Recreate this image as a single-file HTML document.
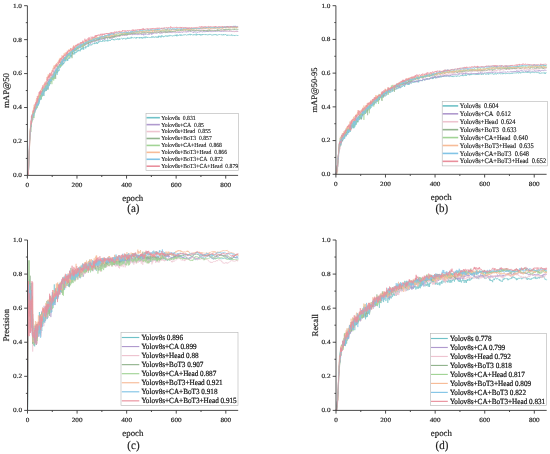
<!DOCTYPE html><html><head><meta charset="utf-8"><style>html,body{margin:0;padding:0;background:#fff;}svg{display:block;}text{font-family:"Liberation Serif","Times New Roman",serif;fill:#1e1e1e;stroke:#1e1e1e;stroke-width:0.18px;text-rendering:geometricPrecision;} text.lg{fill:#111;stroke:#111;}</style></head><body>
<svg width="550" height="454" viewBox="0 0 550 454">
<rect width="550" height="454" fill="#fff"/>
<g fill="none" stroke-width="0.6" stroke-linejoin="round">
<polyline stroke="#70c2c8" points="27.4,175.4 27.6,175.4 27.9,173.5 28.1,173.3 28.4,170.5 28.6,169.2 28.9,159.8 29.1,156.5 29.4,149.7 29.6,138.2 29.9,136.8 30.1,136 30.4,132 30.6,128.3 30.9,124.1 31.1,125.7 31.4,126.7 31.6,122.3 31.9,120.5 32.1,119.2 32.4,115.8 32.6,116.9 32.9,115.1 33.1,118 33.3,113.4 33.6,110.4 33.8,112.3 34.1,112.6 34.3,112.2 34.6,108.5 34.8,113.1 35.1,111 35.3,109.3 35.6,108.2 35.8,109.8 36.1,107.9 36.3,108.4 36.6,107.1 36.8,107 37.1,108.2 37.3,105.7 37.6,103.5 37.8,106.2 38.1,104.4 38.3,102.3 38.6,104.8 38.8,102.1 39.1,103.7 39.3,99.5 39.5,97 39.8,97 40,100.2 40.3,98.2 40.5,98.7 40.8,98.3 41,95.4 41.3,99.6 41.5,95.3 41.8,96.6 42,93.9 42.3,95.4 42.5,96.3 42.8,94.4 43,93.2 43.3,93.9 43.5,92.8 43.8,93.9 44,96 44.3,90.9 44.5,90.9 44.8,91.3 45,91 45.2,89.2 45.5,91.1 45.7,91.1 46,89.9 46.2,87.5 46.5,90.9 46.7,86.8 47,89.1 47.2,89.4 47.5,85.6 47.7,87.2 48,88.5 48.2,86.7 48.5,84.5 48.7,83.8 49,85.7 49.2,84.1 49.5,83.3 49.7,84.8 50,83 50.2,83.2 50.5,83.5 50.7,83 51,81.9 51.2,81.6 51.4,82 51.7,81.4 51.9,79 52.2,79.8 52.4,78.6 52.7,77.8 52.9,78.2 53.2,75.7 53.4,79.2 53.7,76.7 53.9,77.8 54.2,74.7 54.4,74.5 54.7,78.6 54.9,77 55.2,74.6 55.4,74 55.7,73.7 55.9,74.3 56.2,73.3 56.4,72.6 56.7,73.1 56.9,71.4 57.1,74.9 57.4,71.1 57.6,72.7 57.9,70 58.1,71 58.4,71.4 58.6,69.5 58.9,70.6 59.1,70.3 59.4,70.6 59.6,68.5 59.9,67.6 60.1,66.6 60.4,67.6 60.6,65.9 60.9,66.7 61.1,66.5 61.4,65.4 61.6,64.6 61.9,65.8 62.1,65.3 62.4,64.9 62.6,64.4 62.8,65.1 63.1,62.8 63.3,64 63.6,62.8 63.8,63.8 64.1,62.3 64.3,62 64.6,62.5 64.8,59.7 65.1,61.1 65.3,59.4 65.6,60 65.8,61.3 66.1,60.8 66.3,59.7 66.6,59.8 66.8,59.5 67.1,59.6 67.3,60.8 67.6,59 67.8,60.7 68.1,57.9 68.3,58.8 68.6,58.5 68.8,57.8 69,57.1 69.3,58.5 69.5,58.5 69.8,57.7 70,58.3 70.3,57.1 70.5,54.5 70.8,56.8 71,55 71.3,56.6 71.5,54.9 71.8,55.2 72,54.8 72.3,54 72.5,52.8 72.8,54 73,53.9 73.3,54.6 73.5,53.1 73.8,53.6 74,52.5 74.3,53.1 74.5,51.4 74.7,54.4 75,52.8 75.2,51.6 75.5,52.5 75.7,52.7 76,52.1 76.2,52.9 76.5,51.5 76.7,49.4 77,50.3 77.2,52.1 77.5,51.7 77.7,51.2 78,49.9 78.2,51.3 78.5,51 78.7,49.6 79,49.5 79.2,50.4 79.5,50.8 79.7,51.1 80,50.2 80.2,51.3 80.5,48.8 80.7,49.8 80.9,48.8 81.2,47.6 81.4,48 81.7,49.7 81.9,48 82.2,47.7 82.4,49 82.7,49.1 82.9,48.3 83.2,49.3 83.4,46.9 83.7,49.7 83.9,48.6 84.2,47.9 84.4,47.7 84.7,47.3 84.9,47.1 85.2,47.4 85.4,46.3 85.7,48.5 85.9,46.9 86.2,47.3 86.4,46.6 86.6,46.4 86.9,47.1 87.1,46.8 87.4,45.7 87.6,45.9 87.9,46.5 88.1,44.5 88.4,44.2 88.6,46.7 88.9,45.4 89.1,43.8 89.4,44.9 89.6,45.2 89.9,45.4 90.1,45.5 90.4,45.2 90.6,45.3 90.9,44.3 91.1,45 91.4,44.9 91.6,45.3 91.9,44.5 92.1,44.9 92.3,44.4 92.6,43.5 92.8,43.8 93.1,43.6 93.3,43.6 93.6,43.7 93.8,43.8 94.1,43.8 94.3,43 94.6,44.1 94.8,42.4 95.1,43.2 95.3,43.6 95.6,43.4 95.8,43.4 96.1,42.8 96.3,43.2 96.6,42 96.8,43.1 97.1,44 97.3,42.9 97.6,43.6 97.8,42.3 98.1,41.6 98.3,41.8 98.5,42.9 98.8,42.5 99,40.9 99.3,41.7 99.5,41.8 99.8,41.1 100,40.2 100.3,40.9 100.5,41.5 100.8,41.3 101,41.1 101.3,41.8 101.5,42 101.8,41.3 102,41.8 102.3,41.2 102.5,41.1 102.8,39.7 103,41.5 103.3,41.1 103.5,41 103.8,40.6 104,40.3 104.2,41.1 104.5,41.2 104.7,41.7 105,41.2 105.2,40.3 105.5,40.6 105.7,41.1 106,40.7 106.2,40.5 106.5,40.2 106.7,40.7 107,40.5 107.2,41.3 107.5,40.9 107.7,39.4 108,41.4 108.2,40.4 108.5,40 108.7,40.3 109,40.5 109.2,40.1 109.5,40 109.7,40 110,41 110.2,40 110.4,40.4 110.7,40.2 110.9,39.7 111.2,39.5 111.4,39.3 111.7,40 111.9,39.2 112.2,39.1 112.4,39.1 112.7,38.9 112.9,39.7 113.2,39.7 113.4,39.1 113.7,40.2 113.9,39.4 114.2,39.8 114.4,39.6 114.7,40.3 114.9,39.9 115.2,39.4 115.4,38.9 115.7,38.8 115.9,39.4 116.1,39.4 116.4,39.7 116.6,39 116.9,39.4 117.1,38.9 117.4,38.3 117.6,39.2 117.9,39.9 118.1,39.6 118.4,39.8 118.6,39.7 118.9,38.4 119.1,38.9 119.4,39.8 119.6,38.7 119.9,38.3 120.1,39.1 120.4,39.3 120.6,39.1 120.9,38.7 121.1,38.5 121.4,38.3 121.6,38.2 121.8,38.2 122.1,38.1 122.3,38.4 122.6,39.5 122.8,38.8 123.1,38.5 123.3,38.8 123.6,38.2 123.8,38.8 124.1,39 124.3,37.9 124.6,38.2 124.8,38.4 125.1,38.1 125.3,38 125.6,38.3 125.8,39.6 126.1,38.7 126.3,38.6 126.6,38.8 126.8,38.3 127.1,37.8 127.3,38.5 127.6,38.8 127.8,37.3 128,38.5 128.3,38.8 128.5,38.1 128.8,38 129,38.5 129.3,37.8 129.5,38.4 129.8,38.6 130,38 130.3,37.7 130.5,38.4 130.8,37.9 131,38.1 131.3,36.8 131.5,38.3 131.8,37.4 132,38 132.3,38 132.5,37.7 132.8,37.6 133,37.4 133.3,37.8 133.5,38.2 133.7,38.2 134,37.7 134.2,37.6 134.5,37.3 134.7,37.7 135,37.4 135.2,37.2 135.5,37.8 135.7,38.5 136,38.4 136.2,38.5 136.5,37.1 136.7,38.2 137,37.3 137.2,37.6 137.5,37 137.7,37.4 138,37.8 138.2,37.9 138.5,37.7 138.7,37.7 139,38 139.2,37.8 139.5,37 139.7,38.5 139.9,37.6 140.2,38.1 140.4,37.6 140.7,37.3 140.9,37.7 141.2,37.3 141.4,38.3 141.7,37.2 141.9,37.9 142.2,37.4 142.4,37.6 142.7,38.7 142.9,37.9 143.2,37.5 143.4,36.9 143.7,37.5 143.9,37.5 144.2,38.2 144.4,36.9 144.7,36.8 144.9,37.5 145.2,37.6 145.4,38.2 145.6,37.1 145.9,36.4 146.1,37.2 146.4,36.9 146.6,37.2 146.9,37.8 147.1,36.9 147.4,37.9 147.6,37.5 147.9,37.3 148.1,37 148.4,37.2 148.6,37.2 148.9,37.6 149.1,37.8 149.4,37.3 149.6,37.6 149.9,37.8 150.1,37.8 150.4,37.4 150.6,38 150.9,37.7 151.1,37.8 151.3,37.1 151.6,37 151.8,36.3 152.1,37.7 152.3,37.4 152.6,36.7 152.8,37.2 153.1,37.2 153.3,36.4 153.6,37.2 153.8,37.5 154.1,37.5 154.3,36.9 154.6,36.9 154.8,37.5 155.1,37.3 155.3,36.7 155.6,36.7 155.8,37.2 156.1,36.6 156.3,36.7 156.6,37.6 156.8,37 157.1,36.7 157.3,37 157.5,37.7 157.8,36.9 158,36.5 158.3,36.1 158.5,37.6 158.8,35.7 159,37.2 159.3,36.3 159.5,36.2 159.8,36.3 160,36.6 160.3,37.1 160.5,36.4 160.8,36.9 161,37.6 161.3,35.4 161.5,36.3 161.8,35.8 162,36.8 162.3,35.9 162.5,35.8 162.8,35.8 163,36.4 163.2,36.9 163.5,36.4 163.7,37.2 164,37 164.2,36.3 164.5,36.7 164.7,36.3 165,36.3 165.2,35.5 165.5,35.7 165.7,36.2 166,35.7 166.2,36.4 166.5,36.2 166.7,35.7 167,36.5 167.2,36.1 167.5,36.5 167.7,35.9 168,35.3 168.2,36.2 168.5,35.8 168.7,36.3 169,36.3 169.2,36.3 169.4,35.3 169.7,34.9 169.9,35.6 170.2,36.1 170.4,35.5 170.7,35.9 170.9,35.4 171.2,35.6 171.4,35.6 171.7,35.5 171.9,35.9 172.2,35.8 172.4,36.3 172.7,35.8 172.9,36.2 173.2,35.7 173.4,35.9 173.7,35.5 173.9,35.4 174.2,36.1 174.4,35.8 174.7,35.9 174.9,35.2 175.1,34.8 175.4,35.1 175.6,35.6 175.9,34.9 176.1,36 176.4,34.8 176.6,35.6 176.9,36.4 177.1,34.4 177.4,34.8 177.6,35.7 177.9,35.2 178.1,35.4 178.4,35.2 178.6,35.8 178.9,35.5 179.1,35.1 179.4,35.1 179.6,34.8 179.9,35.2 180.1,34.3 180.4,35.4 180.6,35 180.9,35.8 181.1,35.6 181.3,34.6 181.6,35.4 181.8,34.9 182.1,35.1 182.3,35.4 182.6,35.2 182.8,35.2 183.1,35.2 183.3,34.7 183.6,34.7 183.8,35.2 184.1,35.3 184.3,34.9 184.6,35 184.8,34.6 185.1,34 185.3,34.6 185.6,34.9 185.8,35 186.1,35.2 186.3,35.2 186.6,35.3 186.8,35 187,35 187.3,34.6 187.5,35 187.8,34.9 188,35.3 188.3,34.2 188.5,34.7 188.8,34.2 189,34.5 189.3,34.3 189.5,34.9 189.8,34.6 190,33.8 190.3,35.3 190.5,34.4 190.8,34.2 191,34.7 191.3,34.5 191.5,34.3 191.8,35 192,34.6 192.3,35.1 192.5,35 192.7,35 193,34.8 193.2,34.7 193.5,34.6 193.7,35.3 194,34 194.2,34.3 194.5,34.5 194.7,34.9 195,34.8 195.2,34.5 195.5,34.6 195.7,35.3 196,34.5 196.2,33.6 196.5,35.4 196.7,34.3 197,34.6 197.2,34.7 197.5,34.2 197.7,35.1 198,34.6 198.2,34.2 198.5,34.8 198.7,34.8 198.9,34.6 199.2,34.8 199.4,34.1 199.7,35 199.9,34.4 200.2,35.1 200.4,34.4 200.7,34.7 200.9,35.6 201.2,34.7 201.4,35.1 201.7,34.8 201.9,34.1 202.2,35.1 202.4,35.1 202.7,34.2 202.9,34.6 203.2,34.1 203.4,34.6 203.7,35 203.9,34.7 204.2,34.2 204.4,34.4 204.6,34.7 204.9,34.7 205.1,34.8 205.4,34.9 205.6,34 205.9,34.7 206.1,35.1 206.4,34.9 206.6,34.5 206.9,34.5 207.1,34.8 207.4,35 207.6,34.7 207.9,35.3 208.1,35.2 208.4,34.4 208.6,34.9 208.9,34.6 209.1,34.3 209.4,34.5 209.6,34.7 209.9,33.9 210.1,34.5 210.4,34.8 210.6,34.4 210.8,34.6 211.1,35 211.3,34.7 211.6,34.8 211.8,35.4 212.1,34.8 212.3,34.8 212.6,34.8 212.8,35.3 213.1,34.8 213.3,34.7 213.6,34.6 213.8,35.1 214.1,34.5 214.3,35.1 214.6,34.8 214.8,34.2 215.1,34.9 215.3,34.9 215.6,34.3 215.8,34.8 216.1,34.8 216.3,34.6 216.5,34.3 216.8,35.5 217,35 217.3,35.1 217.5,35.1 217.8,35 218,35 218.3,34.6 218.5,35.1 218.8,34.7 219,34.6 219.3,35 219.5,34.7 219.8,34.2 220,34.7 220.3,35 220.5,34.8 220.8,35.1 221,34.7 221.3,34.5 221.5,35.1 221.8,34.9 222,34.5 222.2,35 222.5,34.8 222.7,35.3 223,35.2 223.2,35.1 223.5,34.1 223.7,35.1 224,35.1 224.2,35.1 224.5,35 224.7,34.7 225,34.9 225.2,34.2 225.5,34.9 225.7,34.5 226,34.9 226.2,34.8 226.5,35.5 226.7,35 227,35 227.2,35.1 227.5,35.8 227.7,34.7 228,35.2 228.2,35.2 228.4,35.1 228.7,35.1 228.9,34.9 229.2,35.5 229.4,35.4 229.7,35 229.9,35 230.2,35.2 230.4,35.3 230.7,35.4 230.9,35.1 231.2,34.7 231.4,35.5 231.7,34.6 231.9,34.8 232.2,35.3 232.4,34.9 232.7,35.7 232.9,35.8 233.2,35.6 233.4,35.3 233.7,35.3 233.9,35.4 234.1,35.2 234.4,35.9 234.6,35 234.9,35.7 235.1,35.5 235.4,35.4 235.6,35.6 235.9,35.7 236.1,35.6 236.4,35.3 236.6,35 236.9,35.1 237.1,35.6 237.4,35.5 237.6,35.6 237.9,35.1 238.1,36"/>
<polyline stroke="#b09ace" points="27.4,175.4 27.6,174.7 27.9,174.7 28.1,173.7 28.4,171.8 28.6,169.5 28.9,162.5 29.1,155.3 29.4,145.8 29.6,139.9 29.9,138.5 30.1,130.6 30.4,130.3 30.6,126.3 30.9,122.8 31.1,122.1 31.4,116.2 31.6,119.1 31.9,120.7 32.1,114.6 32.4,116.9 32.6,115.8 32.9,120.1 33.1,111.5 33.3,111.1 33.6,110.4 33.8,109.3 34.1,107.3 34.3,110 34.6,107.5 34.8,110 35.1,108.6 35.3,105.3 35.6,105.9 35.8,108.5 36.1,104.7 36.3,105.1 36.6,105.7 36.8,102.8 37.1,103.7 37.3,105.2 37.6,103.8 37.8,98.2 38.1,103.3 38.3,99.8 38.6,98.6 38.8,98 39.1,100.6 39.3,98.5 39.5,97.2 39.8,95.6 40,97.5 40.3,97.9 40.5,93.8 40.8,93.2 41,93.9 41.3,95 41.5,92.9 41.8,92.9 42,91.3 42.3,94.2 42.5,91.6 42.8,91.6 43,92.7 43.3,90.2 43.5,90.1 43.8,90.3 44,88.7 44.3,91.1 44.5,88.6 44.8,87.5 45,87.3 45.2,85.7 45.5,88.7 45.7,88.8 46,85.8 46.2,85.1 46.5,82.3 46.7,84.2 47,85.9 47.2,83.1 47.5,85.1 47.7,85.7 48,79.5 48.2,82.3 48.5,81.4 48.7,81.2 49,79.1 49.2,80.8 49.5,79.2 49.7,81.9 50,82 50.2,77.8 50.5,77.3 50.7,78.2 51,78.2 51.2,77.9 51.4,78.6 51.7,75.2 51.9,76 52.2,75.8 52.4,75.5 52.7,74.3 52.9,74.5 53.2,73.8 53.4,75.8 53.7,73.3 53.9,70.8 54.2,73.8 54.4,72.9 54.7,71.2 54.9,70.7 55.2,70.7 55.4,73 55.7,70 55.9,71.6 56.2,70.8 56.4,68.7 56.7,69.4 56.9,67.6 57.1,64.5 57.4,66.9 57.6,66.6 57.9,68.1 58.1,67.4 58.4,67.5 58.6,66.5 58.9,66.8 59.1,65.9 59.4,65 59.6,65.5 59.9,65.6 60.1,65.2 60.4,62.9 60.6,63 60.9,61.6 61.1,61.2 61.4,62.4 61.6,61 61.9,62.9 62.1,58.6 62.4,59.5 62.6,60.7 62.8,61.4 63.1,59.4 63.3,61.5 63.6,60 63.8,58.1 64.1,58.6 64.3,58.8 64.6,57.1 64.8,58.8 65.1,57.2 65.3,57.7 65.6,57.8 65.8,56.2 66.1,57.4 66.3,54.3 66.6,56.5 66.8,53.7 67.1,56.5 67.3,54.6 67.6,56.1 67.8,56 68.1,54.3 68.3,53.6 68.6,55.3 68.8,52.7 69,54.4 69.3,53.3 69.5,52.8 69.8,52.4 70,54.4 70.3,51.1 70.5,51.8 70.8,52.6 71,52.9 71.3,53.3 71.5,52.8 71.8,50.9 72,51.5 72.3,52 72.5,51.3 72.8,49.3 73,50.8 73.3,50.8 73.5,48.9 73.8,49.6 74,49.8 74.3,50.2 74.5,50.8 74.7,50.3 75,49.5 75.2,49.2 75.5,48.5 75.7,48.2 76,48.3 76.2,48.2 76.5,49.1 76.7,49.9 77,48.4 77.2,48.6 77.5,48.2 77.7,47.7 78,48.4 78.2,48.1 78.5,47.2 78.7,46.9 79,47.3 79.2,46.3 79.5,46.7 79.7,47.2 80,46.3 80.2,44.7 80.5,46.6 80.7,45 80.9,44.7 81.2,44.5 81.4,46.2 81.7,43.9 81.9,45.3 82.2,45.5 82.4,45.3 82.7,44.6 82.9,44.9 83.2,45 83.4,43.8 83.7,45.2 83.9,45.3 84.2,43.9 84.4,43.8 84.7,43.4 84.9,45 85.2,43.3 85.4,43.6 85.7,42.6 85.9,44.7 86.2,43.6 86.4,43.9 86.6,44.7 86.9,44 87.1,42.6 87.4,43.7 87.6,43.8 87.9,42.6 88.1,42.4 88.4,42.3 88.6,43.5 88.9,42.9 89.1,42.1 89.4,43.2 89.6,43.1 89.9,42 90.1,41.4 90.4,43.2 90.6,44.1 90.9,43.2 91.1,42.8 91.4,42.1 91.6,41.6 91.9,42 92.1,42.3 92.3,41.6 92.6,42.3 92.8,41.6 93.1,41.9 93.3,39.7 93.6,40.8 93.8,41.8 94.1,41.8 94.3,41.4 94.6,42.1 94.8,41.4 95.1,41.4 95.3,40.3 95.6,41 95.8,41.2 96.1,41.4 96.3,41.3 96.6,40.5 96.8,40.5 97.1,39.6 97.3,40.6 97.6,39.5 97.8,40 98.1,40.1 98.3,41.2 98.5,40.7 98.8,39.4 99,39 99.3,39.6 99.5,39.2 99.8,39.9 100,39.8 100.3,39.9 100.5,38.9 100.8,39.2 101,39.5 101.3,39.5 101.5,38.9 101.8,39 102,39.6 102.3,38.1 102.5,38.9 102.8,39 103,38.1 103.3,38.3 103.5,38.9 103.8,38.5 104,39.3 104.2,39 104.5,39.9 104.7,37.9 105,39.6 105.2,38.1 105.5,38.9 105.7,38.9 106,38.4 106.2,38.1 106.5,37.9 106.7,37.2 107,37.9 107.2,37.6 107.5,38.3 107.7,37.6 108,37.8 108.2,38.1 108.5,37.9 108.7,37.8 109,37.6 109.2,37.4 109.5,37.9 109.7,38 110,37.1 110.2,38.4 110.4,37.8 110.7,36.6 110.9,38.8 111.2,37.7 111.4,36.9 111.7,38.1 111.9,35.8 112.2,38.5 112.4,36.3 112.7,36.2 112.9,36.5 113.2,37.1 113.4,36.7 113.7,37.3 113.9,36.4 114.2,37.4 114.4,36.9 114.7,36.2 114.9,37.2 115.2,36.8 115.4,36.5 115.7,37.2 115.9,35.9 116.1,36.3 116.4,37.2 116.6,36.4 116.9,36.7 117.1,36.6 117.4,36.2 117.6,36.6 117.9,35.7 118.1,36.5 118.4,35.6 118.6,36.1 118.9,35.6 119.1,36.2 119.4,36.2 119.6,36.5 119.9,35.6 120.1,35.3 120.4,34.7 120.6,35.1 120.9,35.6 121.1,35.7 121.4,35.4 121.6,35.6 121.8,34.8 122.1,35 122.3,35.8 122.6,35.7 122.8,34.7 123.1,35.2 123.3,35.4 123.6,34.7 123.8,35.4 124.1,35.3 124.3,35.3 124.6,36 124.8,34.6 125.1,35.6 125.3,35.2 125.6,35.3 125.8,34.5 126.1,34.9 126.3,34.8 126.6,35.6 126.8,34.8 127.1,35.4 127.3,34.5 127.6,34.5 127.8,34.6 128,33.6 128.3,34.3 128.5,34.3 128.8,34.4 129,34.6 129.3,34 129.5,33.9 129.8,35 130,33.9 130.3,34.1 130.5,33.9 130.8,34.1 131,34.9 131.3,34.8 131.5,33.4 131.8,34.1 132,34.9 132.3,34 132.5,34.3 132.8,35 133,35.2 133.3,34.9 133.5,34 133.7,34.1 134,34.2 134.2,34 134.5,33.8 134.7,35 135,34.2 135.2,34.4 135.5,34.6 135.7,34.3 136,34.1 136.2,34.2 136.5,34.7 136.7,34.3 137,33.2 137.2,34.5 137.5,34.8 137.7,34 138,33.8 138.2,33.9 138.5,34.6 138.7,33.7 139,34.5 139.2,34.6 139.5,34.4 139.7,34.2 139.9,33.9 140.2,33.9 140.4,34.2 140.7,33.8 140.9,34.2 141.2,33.8 141.4,34.8 141.7,34.9 141.9,33.9 142.2,34.9 142.4,34.4 142.7,34.3 142.9,34.5 143.2,34.5 143.4,33.7 143.7,35.4 143.9,34 144.2,33.4 144.4,34.3 144.7,34.3 144.9,34 145.2,33.6 145.4,34.8 145.6,34.3 145.9,34.4 146.1,34.1 146.4,34.2 146.6,34 146.9,34.4 147.1,34.2 147.4,34.5 147.6,34.5 147.9,34.3 148.1,34.2 148.4,34.6 148.6,33.5 148.9,34.2 149.1,34.7 149.4,33.6 149.6,34.3 149.9,33.8 150.1,34 150.4,33.8 150.6,33.8 150.9,34.1 151.1,33.8 151.3,33 151.6,34.7 151.8,33.7 152.1,33.5 152.3,34.1 152.6,34.2 152.8,32.7 153.1,33.7 153.3,32.7 153.6,33.3 153.8,33.4 154.1,33.2 154.3,33.1 154.6,32.9 154.8,33.2 155.1,33.2 155.3,33.2 155.6,32.7 155.8,32.9 156.1,33.6 156.3,33.4 156.6,33 156.8,33.3 157.1,33.2 157.3,33.4 157.5,33.1 157.8,32.8 158,32.5 158.3,32.9 158.5,32.1 158.8,32.9 159,31.6 159.3,32.4 159.5,32.6 159.8,33 160,33.8 160.3,32.8 160.5,32.6 160.8,31.9 161,33.2 161.3,31.9 161.5,32.7 161.8,32.3 162,33.6 162.3,32.5 162.5,32.7 162.8,32.3 163,32.5 163.2,33 163.5,32.2 163.7,32.3 164,32.3 164.2,32.1 164.5,32.1 164.7,32.5 165,33 165.2,33.1 165.5,32 165.7,32.2 166,32.5 166.2,32.7 166.5,32.5 166.7,32.5 167,32.7 167.2,32.8 167.5,31.7 167.7,32.4 168,32.8 168.2,33 168.5,32.8 168.7,32.3 169,32.3 169.2,32.6 169.4,32.5 169.7,32.7 169.9,33 170.2,32.1 170.4,32.4 170.7,31.6 170.9,32.9 171.2,32.6 171.4,32.3 171.7,32.7 171.9,33.1 172.2,33 172.4,32.6 172.7,32.5 172.9,32.7 173.2,32.2 173.4,32.2 173.7,32.5 173.9,32.6 174.2,32.7 174.4,32.4 174.7,32.3 174.9,32.6 175.1,32.4 175.4,32.7 175.6,33.1 175.9,33 176.1,32.3 176.4,32.4 176.6,32 176.9,32.5 177.1,32.2 177.4,32 177.6,32.1 177.9,32.7 178.1,32.5 178.4,32.4 178.6,32.8 178.9,32.3 179.1,32 179.4,32.6 179.6,31.7 179.9,32.5 180.1,32.4 180.4,32.4 180.6,32.6 180.9,32.1 181.1,32.3 181.3,31.6 181.6,32 181.8,32 182.1,32.3 182.3,32.7 182.6,32.2 182.8,32.5 183.1,31.8 183.3,32.1 183.6,31.5 183.8,31.8 184.1,31.8 184.3,32 184.6,32 184.8,31.8 185.1,31.7 185.3,32.3 185.6,31.8 185.8,31 186.1,32 186.3,32 186.6,32.2 186.8,32.5 187,31.5 187.3,31.9 187.5,31.8 187.8,31.2 188,31 188.3,32.2 188.5,31.5 188.8,31.7 189,31.7 189.3,31.7 189.5,31.9 189.8,31.3 190,31.7 190.3,31.8 190.5,31.4 190.8,31.6 191,31.7 191.3,31.8 191.5,31.3 191.8,31.7 192,31.9 192.3,32.2 192.5,32 192.7,32.3 193,31.9 193.2,31.8 193.5,32.7 193.7,31.9 194,31.7 194.2,31.9 194.5,32.3 194.7,31.5 195,32.2 195.2,32.4 195.5,32.3 195.7,32 196,31.6 196.2,31.5 196.5,31.9 196.7,32.4 197,32.2 197.2,32.3 197.5,32 197.7,32.6 198,31.9 198.2,31.7 198.5,32 198.7,31.8 198.9,32.3 199.2,32.5 199.4,32.2 199.7,31.5 199.9,31.6 200.2,32.1 200.4,31.5 200.7,32 200.9,31.3 201.2,31.7 201.4,32 201.7,31.6 201.9,32.1 202.2,32.2 202.4,32.3 202.7,31.7 202.9,31.8 203.2,31.8 203.4,31.9 203.7,31.2 203.9,31.9 204.2,32 204.4,31.2 204.6,31.2 204.9,31.5 205.1,32.2 205.4,31.8 205.6,31.4 205.9,31.6 206.1,31 206.4,32 206.6,31.3 206.9,31.7 207.1,31 207.4,31.5 207.6,31.1 207.9,31.7 208.1,32 208.4,31.8 208.6,31.6 208.9,31.8 209.1,31 209.4,30.9 209.6,31.3 209.9,31.8 210.1,31.4 210.4,31.6 210.6,30.9 210.8,31.3 211.1,31.2 211.3,31.5 211.6,32.1 211.8,31.6 212.1,31.7 212.3,31.2 212.6,31.3 212.8,31.6 213.1,31.5 213.3,30.8 213.6,31.7 213.8,31.7 214.1,31.4 214.3,31.6 214.6,31.5 214.8,31.1 215.1,30.7 215.3,31.9 215.6,31.3 215.8,31.3 216.1,31.3 216.3,31.4 216.5,31.4 216.8,30.9 217,31.5 217.3,31.3 217.5,31.3 217.8,31.2 218,31.3 218.3,30.9 218.5,31.3 218.8,31.2 219,31.3 219.3,31.6 219.5,31.5 219.8,31.6 220,31.2 220.3,31.5 220.5,31.6 220.8,31.1 221,31 221.3,31.8 221.5,30.6 221.8,31.2 222,31.2 222.2,30.8 222.5,31.2 222.7,31.4 223,30.4 223.2,31.6 223.5,31.2 223.7,30.9 224,31.6 224.2,31.2 224.5,31.1 224.7,30.4 225,31.5 225.2,31.2 225.5,31 225.7,31.2 226,31.6 226.2,31.1 226.5,31.2 226.7,31.1 227,30.8 227.2,30.9 227.5,31.1 227.7,31.1 228,31.6 228.2,31.3 228.4,31.2 228.7,31.4 228.9,31.2 229.2,31.5 229.4,30.7 229.7,30.5 229.9,31.4 230.2,31.1 230.4,31.4 230.7,30.9 230.9,31.1 231.2,31.3 231.4,31.4 231.7,31.3 231.9,31.7 232.2,31.1 232.4,31.6 232.7,31.1 232.9,31.3 233.2,30.9 233.4,31.3 233.7,31 233.9,31.7 234.1,31.1 234.4,31.4 234.6,31.3 234.9,31.3 235.1,31 235.4,32 235.6,31.2 235.9,31.9 236.1,30.9 236.4,32 236.6,31.7 236.9,31.9 237.1,30.8 237.4,31.8 237.6,31.3 237.9,31.5 238.1,32"/>
<polyline stroke="#eec4d0" points="27.4,175.4 27.6,175.4 27.9,174.3 28.1,171.4 28.4,172.8 28.6,168.1 28.9,158.7 29.1,156.4 29.4,150.9 29.6,145.4 29.9,137.2 30.1,132.9 30.4,130.5 30.6,126.9 30.9,122 31.1,120.9 31.4,123.8 31.6,119.6 31.9,118.1 32.1,115.7 32.4,116.5 32.6,116.4 32.9,115.1 33.1,116.8 33.3,112.6 33.6,113 33.8,110.2 34.1,112.4 34.3,110.6 34.6,111 34.8,110.5 35.1,106.5 35.3,108 35.6,105.7 35.8,107.9 36.1,105.1 36.3,107.7 36.6,104.9 36.8,104.3 37.1,101.8 37.3,101.9 37.6,101.9 37.8,99.6 38.1,100.1 38.3,99 38.6,98 38.8,98.9 39.1,98.8 39.3,97.2 39.5,97.9 39.8,96 40,94.3 40.3,94.2 40.5,95.8 40.8,96.8 41,94.3 41.3,93.9 41.5,91.5 41.8,93.4 42,92.7 42.3,90.7 42.5,92.2 42.8,91.2 43,87.9 43.3,87.8 43.5,88.7 43.8,88.9 44,90.4 44.3,87.6 44.5,88 44.8,87.3 45,88.1 45.2,86.9 45.5,86.8 45.7,85.6 46,83.6 46.2,84.8 46.5,87.4 46.7,86 47,86.5 47.2,85 47.5,82.7 47.7,82.5 48,83.5 48.2,81.9 48.5,83 48.7,83.5 49,83.1 49.2,82 49.5,78.5 49.7,81.9 50,78 50.2,77.5 50.5,79.1 50.7,78.6 51,78.9 51.2,77.7 51.4,76.4 51.7,76.9 51.9,75.2 52.2,74.6 52.4,75.3 52.7,74.9 52.9,75 53.2,74.1 53.4,75.5 53.7,73.2 53.9,73.1 54.2,74 54.4,69.9 54.7,73.3 54.9,72.8 55.2,71 55.4,73.3 55.7,71.5 55.9,72 56.2,70.9 56.4,69.6 56.7,68.6 56.9,67.3 57.1,67.3 57.4,66.5 57.6,66.8 57.9,67.7 58.1,65.5 58.4,67 58.6,66.8 58.9,64 59.1,64.5 59.4,64.8 59.6,63.8 59.9,63.4 60.1,65.5 60.4,63.8 60.6,64.7 60.9,62.9 61.1,63.5 61.4,61 61.6,61.6 61.9,62.7 62.1,61.5 62.4,62.5 62.6,60.9 62.8,60 63.1,60 63.3,62 63.6,60.1 63.8,58.9 64.1,58.8 64.3,57.7 64.6,59.9 64.8,57.8 65.1,58.7 65.3,57.6 65.6,57.1 65.8,56.6 66.1,57.6 66.3,56.6 66.6,57.7 66.8,57.6 67.1,55.5 67.3,55.8 67.6,57.1 67.8,56.1 68.1,55.1 68.3,53.4 68.6,53.6 68.8,53.7 69,55.9 69.3,54.1 69.5,53.3 69.8,53.2 70,53 70.3,53.4 70.5,51.3 70.8,51.4 71,52.6 71.3,53.3 71.5,50.3 71.8,52.5 72,50.7 72.3,49.9 72.5,52.3 72.8,51 73,51.4 73.3,50.4 73.5,50.4 73.8,48.8 74,49.9 74.3,50.2 74.5,49.1 74.7,50.1 75,50 75.2,47.6 75.5,50.1 75.7,49.6 76,49 76.2,49.8 76.5,50.5 76.7,47.7 77,49.1 77.2,48.7 77.5,48.4 77.7,48.8 78,48.7 78.2,47.6 78.5,45.6 78.7,46.8 79,46.6 79.2,48.3 79.5,46.9 79.7,47.7 80,46 80.2,46.7 80.5,46.3 80.7,46.3 80.9,46.5 81.2,47.1 81.4,45.3 81.7,46.7 81.9,46.4 82.2,45.5 82.4,45.7 82.7,44.8 82.9,44.1 83.2,44.6 83.4,44.5 83.7,44.5 83.9,43.7 84.2,45.6 84.4,43.8 84.7,44.6 84.9,44.7 85.2,43.7 85.4,43.8 85.7,43 85.9,42.5 86.2,44.9 86.4,43.1 86.6,41.5 86.9,42.2 87.1,41.7 87.4,42.6 87.6,43.5 87.9,43.2 88.1,41.8 88.4,41.5 88.6,42.6 88.9,42.2 89.1,41.7 89.4,43 89.6,41.9 89.9,40.5 90.1,40 90.4,41.5 90.6,40 90.9,41.5 91.1,41.6 91.4,42.5 91.6,40.3 91.9,41.1 92.1,39.2 92.3,40.4 92.6,40.4 92.8,41.7 93.1,39.4 93.3,40.5 93.6,40.3 93.8,41.6 94.1,39.4 94.3,39.3 94.6,40.3 94.8,39.7 95.1,39.5 95.3,39 95.6,39.5 95.8,38.4 96.1,39.6 96.3,39.7 96.6,39.6 96.8,40.8 97.1,39.6 97.3,38.4 97.6,38.8 97.8,39.4 98.1,38.7 98.3,40.1 98.5,38.9 98.8,38.4 99,38.2 99.3,39 99.5,38 99.8,37.3 100,38.7 100.3,37.9 100.5,39.2 100.8,39.4 101,37.8 101.3,38.1 101.5,38 101.8,38.4 102,38.2 102.3,37.5 102.5,36.9 102.8,38 103,38.8 103.3,37.1 103.5,37.4 103.8,37.3 104,37.6 104.2,36.3 104.5,37.6 104.7,37.3 105,38.6 105.2,37.9 105.5,37.9 105.7,37.5 106,37.3 106.2,37.9 106.5,36.4 106.7,38 107,37.6 107.2,37.2 107.5,38 107.7,37 108,36.9 108.2,37.4 108.5,36.2 108.7,37.1 109,37 109.2,37.7 109.5,38 109.7,37.4 110,37.2 110.2,37.3 110.4,36.6 110.7,38.3 110.9,37.6 111.2,37.9 111.4,36.2 111.7,37.2 111.9,37.1 112.2,37.4 112.4,36.3 112.7,37 112.9,36.6 113.2,37.8 113.4,36 113.7,36.4 113.9,36.3 114.2,35.9 114.4,36.6 114.7,36.6 114.9,36.1 115.2,36.2 115.4,36.5 115.7,36.3 115.9,36.6 116.1,35.9 116.4,35.8 116.6,36.2 116.9,35.2 117.1,36.9 117.4,36.2 117.6,35.2 117.9,36.2 118.1,36.8 118.4,35.2 118.6,35.6 118.9,36.5 119.1,35.4 119.4,36.3 119.6,36.4 119.9,35.8 120.1,35.9 120.4,36.2 120.6,35.7 120.9,36 121.1,35.5 121.4,35.5 121.6,35 121.8,35.6 122.1,36 122.3,35.9 122.6,35.4 122.8,34.5 123.1,34.7 123.3,35.4 123.6,34.6 123.8,35.6 124.1,34.5 124.3,35.1 124.6,34.5 124.8,34.6 125.1,35 125.3,34.6 125.6,35.3 125.8,34.8 126.1,34.2 126.3,32.7 126.6,34.3 126.8,34.5 127.1,35 127.3,34 127.6,35.2 127.8,34.8 128,34.2 128.3,34.9 128.5,33.6 128.8,33.8 129,34.5 129.3,34.5 129.5,34.8 129.8,34.8 130,33.9 130.3,33.8 130.5,33.9 130.8,33.9 131,34.3 131.3,33.8 131.5,34.6 131.8,33.9 132,33.2 132.3,33.2 132.5,34 132.8,33.9 133,33.1 133.3,32.9 133.5,34.4 133.7,33.9 134,33.5 134.2,33.1 134.5,34 134.7,33.3 135,33.7 135.2,32.5 135.5,33.3 135.7,33.5 136,33.6 136.2,32.9 136.5,33.1 136.7,33.8 137,33.2 137.2,33.9 137.5,33.6 137.7,33.8 138,33.8 138.2,33.5 138.5,33.6 138.7,32.9 139,32.8 139.2,33.2 139.5,33.6 139.7,32.7 139.9,33.9 140.2,33.9 140.4,32.7 140.7,32.7 140.9,32.6 141.2,33.1 141.4,33.5 141.7,33.1 141.9,32.7 142.2,33.2 142.4,33.2 142.7,33.5 142.9,33.3 143.2,32.5 143.4,32.6 143.7,33.3 143.9,33.2 144.2,33 144.4,32.5 144.7,33.2 144.9,32.8 145.2,33.6 145.4,33.2 145.6,32.5 145.9,32.3 146.1,33.2 146.4,33 146.6,32.3 146.9,32.8 147.1,32.9 147.4,32.4 147.6,32.6 147.9,32.2 148.1,32.3 148.4,32.9 148.6,32.7 148.9,32.6 149.1,33.2 149.4,33 149.6,32.2 149.9,33.2 150.1,32.2 150.4,32.4 150.6,32.6 150.9,32.3 151.1,32.4 151.3,32 151.6,32.7 151.8,32.6 152.1,32.6 152.3,31.7 152.6,32.1 152.8,32.9 153.1,32.6 153.3,32.8 153.6,32.5 153.8,32.4 154.1,31.5 154.3,33.2 154.6,32 154.8,32.2 155.1,32.7 155.3,32.4 155.6,32.6 155.8,32.3 156.1,32 156.3,32.9 156.6,31.8 156.8,32.5 157.1,31.7 157.3,32.1 157.5,31.8 157.8,32 158,31.8 158.3,32.2 158.5,32.6 158.8,31.9 159,31.9 159.3,31.4 159.5,33 159.8,32.2 160,31.7 160.3,32.6 160.5,32.2 160.8,31.3 161,31.5 161.3,32.4 161.5,31.5 161.8,31.6 162,31.7 162.3,31.9 162.5,31.9 162.8,32.3 163,32.2 163.2,31.7 163.5,31.9 163.7,31.2 164,32 164.2,32.8 164.5,32 164.7,31.8 165,31.7 165.2,31.8 165.5,32.2 165.7,31.3 166,32.1 166.2,31.5 166.5,31.9 166.7,32.2 167,31.2 167.2,32.7 167.5,32.1 167.7,31.6 168,31.9 168.2,31.4 168.5,31.8 168.7,31.9 169,30.9 169.2,31.8 169.4,31.8 169.7,32.1 169.9,32 170.2,31.4 170.4,31.5 170.7,31.7 170.9,31.9 171.2,31.4 171.4,32.3 171.7,31.8 171.9,31.7 172.2,31.9 172.4,31.6 172.7,31.9 172.9,31.9 173.2,30.9 173.4,31.3 173.7,31.2 173.9,31.6 174.2,31.2 174.4,31.3 174.7,31.1 174.9,30.7 175.1,31.7 175.4,31.5 175.6,31.6 175.9,32.9 176.1,32.1 176.4,31.5 176.6,31.3 176.9,31.7 177.1,31.1 177.4,31 177.6,31.7 177.9,31 178.1,30.8 178.4,31.3 178.6,31.8 178.9,30.9 179.1,31.5 179.4,31.6 179.6,31.4 179.9,31.6 180.1,31 180.4,31.1 180.6,30.9 180.9,31.1 181.1,31.6 181.3,31.4 181.6,31 181.8,31.4 182.1,30.2 182.3,31.3 182.6,31.4 182.8,30.8 183.1,30.9 183.3,31.2 183.6,31.2 183.8,31 184.1,30.8 184.3,30.8 184.6,31.2 184.8,30.9 185.1,30.7 185.3,30.7 185.6,32.1 185.8,31.3 186.1,31.2 186.3,31 186.6,30.8 186.8,30.6 187,30.6 187.3,30.9 187.5,30.8 187.8,30.2 188,31 188.3,30.7 188.5,30.2 188.8,30.6 189,31.5 189.3,30.6 189.5,30.8 189.8,30.7 190,30.3 190.3,30.5 190.5,30.7 190.8,30.3 191,30.4 191.3,30.6 191.5,30.5 191.8,30.5 192,30.7 192.3,30.7 192.5,30.5 192.7,30.9 193,30.9 193.2,30 193.5,30.6 193.7,30.5 194,30.5 194.2,30.4 194.5,30.4 194.7,30.4 195,30.7 195.2,30 195.5,30.6 195.7,30 196,31 196.2,30.7 196.5,30 196.7,30.4 197,30.5 197.2,30.2 197.5,30.7 197.7,30.2 198,31.1 198.2,30.4 198.5,30.5 198.7,30 198.9,29.9 199.2,30.5 199.4,29.6 199.7,30.4 199.9,30.9 200.2,31 200.4,29.6 200.7,30.2 200.9,30.4 201.2,30.4 201.4,30.6 201.7,29.7 201.9,30.2 202.2,29.5 202.4,30.2 202.7,31 202.9,29.9 203.2,30.3 203.4,30.2 203.7,29.6 203.9,30.3 204.2,29.8 204.4,30.2 204.6,30.5 204.9,30 205.1,30.4 205.4,29.8 205.6,29.9 205.9,30.2 206.1,30 206.4,30 206.6,30.3 206.9,29.9 207.1,30.3 207.4,30 207.6,30.6 207.9,30.2 208.1,30.1 208.4,30.6 208.6,30.5 208.9,30.5 209.1,30.1 209.4,30.6 209.6,30.2 209.9,29.8 210.1,30.2 210.4,30.9 210.6,30.3 210.8,30 211.1,30.5 211.3,30 211.6,30.2 211.8,30.3 212.1,30.5 212.3,30.6 212.6,30.5 212.8,30.4 213.1,30.2 213.3,30.3 213.6,30.5 213.8,30.4 214.1,30.3 214.3,31 214.6,30.7 214.8,30.7 215.1,30.5 215.3,30.5 215.6,30.5 215.8,30.7 216.1,30.2 216.3,30.3 216.5,31 216.8,30.4 217,30.8 217.3,29.8 217.5,30.6 217.8,30.6 218,30.4 218.3,30.5 218.5,30.5 218.8,29.9 219,30.4 219.3,30.2 219.5,30.1 219.8,30.8 220,29.9 220.3,30.2 220.5,30.1 220.8,30.8 221,30.2 221.3,30.4 221.5,30.7 221.8,29.7 222,30.3 222.2,30.6 222.5,30.5 222.7,30.2 223,30.2 223.2,30.4 223.5,30.2 223.7,30.1 224,31.1 224.2,30.8 224.5,31 224.7,30.7 225,30.2 225.2,30.5 225.5,31.1 225.7,30.9 226,30.4 226.2,31 226.5,30.9 226.7,30.7 227,31.5 227.2,30.6 227.5,30.8 227.7,30.7 228,31.3 228.2,31.2 228.4,31.2 228.7,30.9 228.9,31 229.2,31 229.4,30.5 229.7,30.7 229.9,31.4 230.2,31.4 230.4,30.6 230.7,31.3 230.9,30.7 231.2,30.7 231.4,31.4 231.7,31.4 231.9,31.3 232.2,31.6 232.4,31.7 232.7,31.5 232.9,31.1 233.2,31.5 233.4,31.5 233.7,31.6 233.9,31.9 234.1,30.9 234.4,32.2 234.6,31.7 234.9,31.3 235.1,31.9 235.4,31.3 235.6,31 235.9,31.8 236.1,31.4 236.4,31.9 236.6,31.3 236.9,31.5 237.1,31.4 237.4,31 237.6,31.4 237.9,31.1 238.1,31.3"/>
<polyline stroke="#92b48e" points="27.4,175.4 27.6,175.4 27.9,174.8 28.1,174.1 28.4,172.4 28.6,169.2 28.9,160.9 29.1,155.5 29.4,150.3 29.6,144.1 29.9,136.8 30.1,132.4 30.4,129 30.6,126.4 30.9,132.1 31.1,125.6 31.4,122.6 31.6,120.1 31.9,122.5 32.1,115.3 32.4,116.5 32.6,117.4 32.9,115 33.1,115.1 33.3,115.1 33.6,112 33.8,113.1 34.1,114.3 34.3,112.2 34.6,110.5 34.8,111.7 35.1,106.8 35.3,110.5 35.6,104.6 35.8,105.6 36.1,108.3 36.3,105.8 36.6,103.3 36.8,105.1 37.1,106.3 37.3,103.4 37.6,99.5 37.8,105.1 38.1,100.9 38.3,101.3 38.6,101 38.8,100.9 39.1,100.2 39.3,97.4 39.5,97.6 39.8,99.7 40,95 40.3,99.2 40.5,95.4 40.8,95.7 41,93.6 41.3,94.5 41.5,92.9 41.8,94.1 42,92.1 42.3,92.6 42.5,89.3 42.8,93.3 43,95.6 43.3,90.6 43.5,90.7 43.8,91.4 44,89.4 44.3,91.9 44.5,91.3 44.8,87.8 45,90.8 45.2,85.9 45.5,88 45.7,86.9 46,86.7 46.2,85.9 46.5,86.5 46.7,86.2 47,85.5 47.2,83.5 47.5,82.9 47.7,82.3 48,89.8 48.2,83.6 48.5,85.3 48.7,81.7 49,81 49.2,82.4 49.5,80.3 49.7,79.3 50,83.7 50.2,78.8 50.5,79.5 50.7,81.8 51,79.7 51.2,79.2 51.4,77.6 51.7,79.1 51.9,78.1 52.2,78.4 52.4,76.8 52.7,76.3 52.9,78.8 53.2,74.5 53.4,74.9 53.7,74.5 53.9,74.2 54.2,73.8 54.4,71.7 54.7,76.3 54.9,73 55.2,75.6 55.4,74.2 55.7,78.9 55.9,70.8 56.2,69.8 56.4,71 56.7,72.3 56.9,70.1 57.1,70.7 57.4,68.2 57.6,69.5 57.9,66.1 58.1,67.6 58.4,68.4 58.6,67.6 58.9,67.9 59.1,65.9 59.4,64.3 59.6,65.9 59.9,64.2 60.1,66 60.4,64.2 60.6,61.7 60.9,65.4 61.1,62.2 61.4,62 61.6,65 61.9,64.1 62.1,63.3 62.4,60.9 62.6,64.6 62.8,61.5 63.1,60.3 63.3,60.6 63.6,60.2 63.8,60.4 64.1,58.6 64.3,60.3 64.6,57.5 64.8,59.2 65.1,59.4 65.3,57.7 65.6,57.6 65.8,59.7 66.1,57.2 66.3,58.5 66.6,57.7 66.8,55.9 67.1,57.2 67.3,55.8 67.6,56.2 67.8,53.7 68.1,55.4 68.3,56.2 68.6,55.9 68.8,55.5 69,54.3 69.3,54.2 69.5,53 69.8,53.5 70,53.4 70.3,53 70.5,53.2 70.8,52.6 71,51.9 71.3,51.7 71.5,52.7 71.8,53.6 72,58.2 72.3,51.4 72.5,53.7 72.8,51.7 73,50.7 73.3,51.4 73.5,51.8 73.8,49.1 74,49.2 74.3,50.5 74.5,49 74.7,48.8 75,50.8 75.2,47.4 75.5,50.3 75.7,49.6 76,50.1 76.2,49 76.5,50 76.7,48.8 77,47.7 77.2,48.3 77.5,48.6 77.7,47 78,48.8 78.2,47.2 78.5,48.1 78.7,47.5 79,47.5 79.2,47.3 79.5,47.4 79.7,47.8 80,47.5 80.2,46.6 80.5,46.9 80.7,47.6 80.9,47.1 81.2,46.9 81.4,46.3 81.7,46 81.9,45.9 82.2,46.4 82.4,45.7 82.7,46.7 82.9,47.7 83.2,45.4 83.4,46.5 83.7,45.8 83.9,45.9 84.2,44.4 84.4,45.6 84.7,44.4 84.9,44.8 85.2,45.2 85.4,45.4 85.7,43.7 85.9,43.7 86.2,43.3 86.4,42.4 86.6,43.4 86.9,43.3 87.1,43.5 87.4,43.2 87.6,43.4 87.9,43.7 88.1,41.5 88.4,44.1 88.6,42.5 88.9,42.3 89.1,42.4 89.4,43 89.6,42.4 89.9,42.5 90.1,42.8 90.4,42 90.6,42.1 90.9,42.1 91.1,41.2 91.4,42.2 91.6,41.1 91.9,41.7 92.1,40.9 92.3,41.1 92.6,40.9 92.8,41.6 93.1,41.3 93.3,41.3 93.6,40.5 93.8,40.1 94.1,39.8 94.3,40.7 94.6,40.2 94.8,41.2 95.1,41.5 95.3,40.6 95.6,40.4 95.8,40.8 96.1,40.9 96.3,39.4 96.6,40.1 96.8,40.6 97.1,38 97.3,39.3 97.6,39.5 97.8,38.8 98.1,39.6 98.3,38.1 98.5,40 98.8,39.8 99,39 99.3,39.3 99.5,37.9 99.8,39.7 100,39.1 100.3,38.5 100.5,38.2 100.8,37.9 101,38.2 101.3,37.1 101.5,38.6 101.8,38.2 102,37.8 102.3,38.4 102.5,38.4 102.8,38.4 103,38.5 103.3,38.7 103.5,38.4 103.8,38.9 104,37.7 104.2,38.8 104.5,36.7 104.7,36.9 105,37.2 105.2,37.9 105.5,38.1 105.7,37 106,37.6 106.2,37.3 106.5,38 106.7,37 107,38 107.2,37.5 107.5,38.5 107.7,37.8 108,37.2 108.2,37.7 108.5,37.6 108.7,36.9 109,37.3 109.2,36.6 109.5,38.5 109.7,36.9 110,36.9 110.2,38 110.4,37.8 110.7,36.6 110.9,37.6 111.2,37.3 111.4,36.6 111.7,37.1 111.9,36.6 112.2,37.3 112.4,36.6 112.7,36.1 112.9,36.5 113.2,37.8 113.4,36.2 113.7,36.5 113.9,37 114.2,35.7 114.4,37.3 114.7,35.4 114.9,36.6 115.2,35.4 115.4,36.2 115.7,36.8 115.9,36 116.1,35.9 116.4,35.7 116.6,35.4 116.9,36.3 117.1,35.6 117.4,35.4 117.6,35.9 117.9,36.2 118.1,36.1 118.4,35.2 118.6,35.1 118.9,35.9 119.1,36.1 119.4,34.8 119.6,36.1 119.9,35.2 120.1,35.6 120.4,36.1 120.6,35.1 120.9,35.2 121.1,34.3 121.4,33.9 121.6,35 121.8,34.4 122.1,34.4 122.3,35.1 122.6,35.2 122.8,34 123.1,34.9 123.3,34.7 123.6,34.7 123.8,34.6 124.1,34.8 124.3,34.1 124.6,33.8 124.8,34.6 125.1,35 125.3,34.3 125.6,35 125.8,34.5 126.1,33.6 126.3,33.1 126.6,33.9 126.8,34.6 127.1,33.7 127.3,35.1 127.6,34.3 127.8,33.2 128,33.6 128.3,34.5 128.5,34.6 128.8,33.4 129,33.8 129.3,34 129.5,33.5 129.8,33.9 130,34.5 130.3,33.3 130.5,33.9 130.8,34 131,34.1 131.3,33.4 131.5,33.9 131.8,33.2 132,33.6 132.3,32.9 132.5,33.6 132.8,33.7 133,34.2 133.3,33.8 133.5,33 133.7,31.9 134,33.8 134.2,33.7 134.5,33.1 134.7,33 135,33.5 135.2,33.2 135.5,33.9 135.7,33.3 136,32.8 136.2,32.4 136.5,33.2 136.7,33.2 137,32.9 137.2,32.6 137.5,32.9 137.7,33.4 138,32.9 138.2,32.6 138.5,33.4 138.7,33.6 139,32.8 139.2,32.9 139.5,32.6 139.7,33 139.9,33.3 140.2,33.2 140.4,33.5 140.7,33.4 140.9,33.2 141.2,33.2 141.4,32.5 141.7,33.5 141.9,33 142.2,33.2 142.4,32.4 142.7,32.9 142.9,33.1 143.2,32.6 143.4,32.9 143.7,33.2 143.9,32.3 144.2,32.7 144.4,32.2 144.7,32.5 144.9,32.6 145.2,32.9 145.4,33.4 145.6,32.6 145.9,32.9 146.1,32.6 146.4,32.9 146.6,33.2 146.9,33.3 147.1,32.6 147.4,32.3 147.6,33 147.9,32.6 148.1,32.2 148.4,33.1 148.6,32.9 148.9,33.2 149.1,32.3 149.4,32.6 149.6,32.9 149.9,33.4 150.1,32.8 150.4,32.3 150.6,32.8 150.9,32.8 151.1,32.4 151.3,33.1 151.6,32.6 151.8,32.3 152.1,32.8 152.3,32.8 152.6,32.4 152.8,32.5 153.1,32.5 153.3,32.3 153.6,32.3 153.8,32.8 154.1,32.6 154.3,32.2 154.6,31.9 154.8,31.8 155.1,32.6 155.3,31.8 155.6,31.9 155.8,32.2 156.1,32 156.3,31.9 156.6,31.5 156.8,32.6 157.1,31.9 157.3,32.2 157.5,32.2 157.8,31.7 158,31.8 158.3,32.5 158.5,32.2 158.8,32 159,32.6 159.3,31.7 159.5,32.1 159.8,32 160,31.9 160.3,31.3 160.5,32 160.8,32.1 161,31.3 161.3,32.2 161.5,32.2 161.8,32.5 162,31.5 162.3,31.9 162.5,31.8 162.8,31.9 163,32 163.2,32.2 163.5,32.2 163.7,31.8 164,31.9 164.2,31.3 164.5,32.2 164.7,32.1 165,32.3 165.2,31.4 165.5,32.4 165.7,31.6 166,31.3 166.2,31.9 166.5,31.6 166.7,32.7 167,32 167.2,32.5 167.5,31.7 167.7,31.8 168,32.1 168.2,31.4 168.5,31.6 168.7,31.9 169,31.9 169.2,32.2 169.4,31.7 169.7,30.9 169.9,31.9 170.2,31.4 170.4,31.8 170.7,31.3 170.9,31.4 171.2,31.6 171.4,32.1 171.7,31.6 171.9,31 172.2,31.5 172.4,31.1 172.7,31.5 172.9,32 173.2,31.1 173.4,31.1 173.7,31.4 173.9,31.3 174.2,31 174.4,31.3 174.7,30.9 174.9,31 175.1,31.8 175.4,30.9 175.6,31.1 175.9,31.1 176.1,30.6 176.4,30.9 176.6,30.5 176.9,30.2 177.1,30.6 177.4,31.1 177.6,30.8 177.9,30.2 178.1,30.6 178.4,30.7 178.6,30.4 178.9,30.2 179.1,30.3 179.4,30.1 179.6,30.6 179.9,30.4 180.1,30.3 180.4,30.2 180.6,31 180.9,30.3 181.1,30.7 181.3,29.6 181.6,29.6 181.8,29.5 182.1,29.8 182.3,30.3 182.6,29.7 182.8,30.2 183.1,29.9 183.3,30.4 183.6,30.3 183.8,29.9 184.1,29.4 184.3,30.1 184.6,29.3 184.8,29.1 185.1,30.5 185.3,30.1 185.6,30.4 185.8,30.1 186.1,30.3 186.3,30.1 186.6,29.8 186.8,29.8 187,30.1 187.3,30.2 187.5,30.1 187.8,30.1 188,30 188.3,30.2 188.5,30 188.8,30.7 189,30 189.3,29.6 189.5,30.2 189.8,30.8 190,29.8 190.3,30.4 190.5,31.4 190.8,30.4 191,30.1 191.3,30.2 191.5,29.9 191.8,30.1 192,30.3 192.3,31.1 192.5,30.8 192.7,30.3 193,30.2 193.2,30.8 193.5,30.6 193.7,30.3 194,31.1 194.2,31.1 194.5,30.5 194.7,30.4 195,30.6 195.2,31.3 195.5,30.5 195.7,31 196,30.3 196.2,30.5 196.5,30.4 196.7,30.3 197,30.7 197.2,30.2 197.5,30.1 197.7,30.4 198,30 198.2,30.7 198.5,30.2 198.7,30.4 198.9,30.9 199.2,30.6 199.4,30.7 199.7,30.7 199.9,30.5 200.2,30.2 200.4,30.7 200.7,30.5 200.9,31.1 201.2,30.5 201.4,30.2 201.7,30.3 201.9,30.4 202.2,30.8 202.4,30.9 202.7,30.6 202.9,31.1 203.2,31 203.4,30.3 203.7,30.9 203.9,30 204.2,31.1 204.4,30.5 204.6,31 204.9,30.5 205.1,31 205.4,30.6 205.6,30.7 205.9,30.8 206.1,30.4 206.4,30.1 206.6,30.8 206.9,30.3 207.1,30.6 207.4,30.6 207.6,29.8 207.9,31.4 208.1,30.9 208.4,31.2 208.6,30.7 208.9,30.7 209.1,29.3 209.4,30.5 209.6,30 209.9,30.1 210.1,30.7 210.4,30.4 210.6,30 210.8,30.5 211.1,30.5 211.3,30.4 211.6,31.1 211.8,30.8 212.1,30.4 212.3,30.3 212.6,30.8 212.8,30.6 213.1,30.5 213.3,30.5 213.6,30.2 213.8,30.4 214.1,30.4 214.3,30.9 214.6,30.8 214.8,30.3 215.1,30.9 215.3,30.3 215.6,30.6 215.8,30.6 216.1,30.1 216.3,30.5 216.5,30.6 216.8,30.5 217,30.2 217.3,29.3 217.5,30.9 217.8,30.2 218,30.2 218.3,29.8 218.5,30.2 218.8,31 219,29.6 219.3,30.4 219.5,30.1 219.8,30.5 220,30.4 220.3,30.2 220.5,29.7 220.8,29.7 221,30.1 221.3,29.7 221.5,30 221.8,29.8 222,29.8 222.2,29.6 222.5,30.1 222.7,29.9 223,29.7 223.2,29.8 223.5,30.1 223.7,29.2 224,29.9 224.2,29.5 224.5,29.7 224.7,29.3 225,30.5 225.2,29 225.5,29.8 225.7,30.1 226,29.6 226.2,28.9 226.5,29.5 226.7,30.1 227,29.8 227.2,29.2 227.5,30.1 227.7,29.7 228,29.7 228.2,28.8 228.4,29.7 228.7,29.1 228.9,29.8 229.2,29.9 229.4,29.2 229.7,29.4 229.9,30.2 230.2,29.3 230.4,29.3 230.7,29.8 230.9,29.5 231.2,29.5 231.4,29.7 231.7,29.7 231.9,29.8 232.2,29.6 232.4,30 232.7,29.6 232.9,30.1 233.2,29.5 233.4,29.6 233.7,29.9 233.9,29.2 234.1,28.9 234.4,29.1 234.6,30 234.9,29.1 235.1,29.5 235.4,29.6 235.6,29.7 235.9,29.5 236.1,29.1 236.4,29.3 236.6,29.7 236.9,29.8 237.1,29.7 237.4,29.3 237.6,28.9 237.9,29.9 238.1,29.5"/>
<polyline stroke="#a2d496" points="27.4,175.4 27.6,174.9 27.9,174.5 28.1,174.8 28.4,172.5 28.6,168.3 28.9,163.4 29.1,152.2 29.4,148.2 29.6,141.3 29.9,139.6 30.1,135 30.4,128.7 30.6,130.6 30.9,124.5 31.1,123.2 31.4,122.7 31.6,120.1 31.9,121.2 32.1,117.5 32.4,119.3 32.6,118.5 32.9,112.4 33.1,115.6 33.3,117.6 33.6,111 33.8,113.6 34.1,118.1 34.3,111 34.6,108.6 34.8,109.1 35.1,106 35.3,108.7 35.6,106.8 35.8,109.1 36.1,106.4 36.3,103.4 36.6,104.7 36.8,104.7 37.1,107.9 37.3,104.5 37.6,105.5 37.8,101.4 38.1,103.5 38.3,101 38.6,102.8 38.8,97.4 39.1,102 39.3,99.3 39.5,94.7 39.8,98.2 40,99.4 40.3,96.5 40.5,95.4 40.8,95.1 41,99.2 41.3,95.2 41.5,98.5 41.8,91.6 42,94.1 42.3,94.4 42.5,92.2 42.8,92.1 43,94.2 43.3,89.5 43.5,91.9 43.8,93.8 44,88.5 44.3,87.9 44.5,88 44.8,88.6 45,90.3 45.2,87.2 45.5,85.5 45.7,86.6 46,85.1 46.2,88.1 46.5,85.2 46.7,84.9 47,88 47.2,87.8 47.5,86.1 47.7,84.5 48,83.6 48.2,84.2 48.5,85.8 48.7,83.2 49,82.5 49.2,81.4 49.5,81.2 49.7,81.5 50,80.7 50.2,81.2 50.5,79.2 50.7,80.5 51,77.3 51.2,81.6 51.4,78.3 51.7,79.2 51.9,84.2 52.2,77.2 52.4,76.9 52.7,80 52.9,77.6 53.2,75.7 53.4,75.1 53.7,80.6 53.9,72.9 54.2,74.5 54.4,79.1 54.7,73.4 54.9,75.1 55.2,74 55.4,70.8 55.7,70.9 55.9,72 56.2,71.6 56.4,70.5 56.7,72.1 56.9,69 57.1,69.6 57.4,66.7 57.6,69.6 57.9,66.9 58.1,68.4 58.4,66.1 58.6,68 58.9,65.7 59.1,66.6 59.4,66.7 59.6,65.5 59.9,64.5 60.1,64.2 60.4,66.3 60.6,63 60.9,66.5 61.1,63.7 61.4,65.1 61.6,63 61.9,61.6 62.1,63.4 62.4,62.9 62.6,61.2 62.8,61.3 63.1,59 63.3,60 63.6,59.5 63.8,57.9 64.1,60 64.3,59.2 64.6,59.9 64.8,58.3 65.1,57.2 65.3,56.6 65.6,57.8 65.8,58.2 66.1,57.9 66.3,58.3 66.6,56.5 66.8,59.3 67.1,58.4 67.3,58 67.6,54.2 67.8,56.9 68.1,54.8 68.3,56.1 68.6,53.9 68.8,53.7 69,54 69.3,57.8 69.5,53.7 69.8,53 70,51.6 70.3,52.1 70.5,53.5 70.8,53.4 71,52.7 71.3,52.5 71.5,52 71.8,52.4 72,51.1 72.3,51.4 72.5,50.9 72.8,51.1 73,50.4 73.3,51.8 73.5,49.1 73.8,50 74,49.8 74.3,49.5 74.5,48.9 74.7,49 75,49.3 75.2,49.5 75.5,50.5 75.7,48.8 76,49.1 76.2,48.9 76.5,46.5 76.7,49.9 77,48.1 77.2,47 77.5,47.1 77.7,46.7 78,48.6 78.2,48.2 78.5,46.8 78.7,47.3 79,45.6 79.2,46.6 79.5,46.5 79.7,46.1 80,46.5 80.2,46.1 80.5,46.6 80.7,45.9 80.9,46.1 81.2,45.4 81.4,46.5 81.7,46.4 81.9,44.7 82.2,44.8 82.4,45.5 82.7,44.8 82.9,45.3 83.2,42.8 83.4,45.4 83.7,42.7 83.9,44.5 84.2,43.4 84.4,43.8 84.7,43.7 84.9,42.6 85.2,42.6 85.4,43.2 85.7,43.5 85.9,41.2 86.2,41.6 86.4,42.4 86.6,42.5 86.9,42 87.1,42 87.4,41.1 87.6,42.5 87.9,41.7 88.1,42.1 88.4,40.5 88.6,40.1 88.9,41.3 89.1,40.7 89.4,40 89.6,41.1 89.9,41.4 90.1,39.9 90.4,40.2 90.6,40.5 90.9,39.3 91.1,40 91.4,41.3 91.6,39.7 91.9,39.9 92.1,38.5 92.3,39.7 92.6,39.7 92.8,39.2 93.1,39.2 93.3,40.2 93.6,39.1 93.8,39.3 94.1,38.1 94.3,37.4 94.6,39.6 94.8,39.4 95.1,39.2 95.3,39 95.6,38.9 95.8,38.4 96.1,37.7 96.3,39.1 96.6,39.2 96.8,39.3 97.1,37.4 97.3,37.2 97.6,38.9 97.8,38.9 98.1,37.7 98.3,37.1 98.5,37.1 98.8,37.5 99,37.1 99.3,37.3 99.5,37.8 99.8,36.2 100,37.3 100.3,38 100.5,37.5 100.8,38.1 101,37.1 101.3,36.4 101.5,37.8 101.8,36.3 102,35.7 102.3,36.7 102.5,37.5 102.8,37.3 103,37 103.3,37.5 103.5,37.4 103.8,36.8 104,36.7 104.2,36.2 104.5,37.2 104.7,35.4 105,35.8 105.2,35.9 105.5,36.7 105.7,35.3 106,36.4 106.2,35.2 106.5,35.6 106.7,36.6 107,36.3 107.2,35 107.5,35.4 107.7,36 108,35.8 108.2,35.7 108.5,36.2 108.7,35.9 109,36.1 109.2,35.9 109.5,35.4 109.7,36.1 110,35.1 110.2,35.4 110.4,35 110.7,34.9 110.9,34.7 111.2,35 111.4,34.9 111.7,35.3 111.9,34.9 112.2,35.6 112.4,35.2 112.7,34.6 112.9,35 113.2,34.7 113.4,35.5 113.7,34.2 113.9,35.2 114.2,34.6 114.4,34.8 114.7,34.3 114.9,34.9 115.2,35.2 115.4,35.6 115.7,34.8 115.9,35.2 116.1,34.3 116.4,33.8 116.6,35.6 116.9,35.1 117.1,34.3 117.4,33.8 117.6,34.2 117.9,34.2 118.1,34.1 118.4,34 118.6,33.4 118.9,33.9 119.1,34.8 119.4,34.4 119.6,34 119.9,34.5 120.1,34.2 120.4,34.3 120.6,34.4 120.9,33.7 121.1,34.2 121.4,34.5 121.6,34.3 121.8,33.9 122.1,32.8 122.3,33.7 122.6,33.1 122.8,33.5 123.1,34.7 123.3,33.5 123.6,34 123.8,34.2 124.1,34.1 124.3,32.6 124.6,34.2 124.8,33.7 125.1,32.8 125.3,33 125.6,34.1 125.8,33.3 126.1,33.5 126.3,33.3 126.6,32.8 126.8,33.4 127.1,33.2 127.3,32.3 127.6,33.8 127.8,33.1 128,32.7 128.3,33.4 128.5,33.1 128.8,33.4 129,32.7 129.3,33 129.5,32.3 129.8,32.1 130,32.6 130.3,32.7 130.5,32.4 130.8,32.5 131,33 131.3,31.9 131.5,32.3 131.8,32 132,32.9 132.3,31.9 132.5,31.3 132.8,32 133,32.9 133.3,32.2 133.5,32.2 133.7,32.1 134,32.2 134.2,31.9 134.5,32.3 134.7,32 135,32.4 135.2,32 135.5,31.6 135.7,32.2 136,31.7 136.2,32.3 136.5,32.1 136.7,32 137,31.3 137.2,32.2 137.5,31.3 137.7,32.5 138,31.9 138.2,31.4 138.5,31.5 138.7,32.2 139,32.3 139.2,31.3 139.5,32.2 139.7,31.4 139.9,31.9 140.2,31.6 140.4,30.6 140.7,30.9 140.9,31.2 141.2,32.1 141.4,31.4 141.7,31.5 141.9,31.5 142.2,30.9 142.4,32.2 142.7,31.3 142.9,31.3 143.2,31.7 143.4,30.6 143.7,31.8 143.9,31.2 144.2,31.2 144.4,32.1 144.7,31.8 144.9,31.6 145.2,30.8 145.4,30.7 145.6,30.8 145.9,30.9 146.1,31.9 146.4,30.9 146.6,31.2 146.9,30.4 147.1,30.3 147.4,29.9 147.6,30.6 147.9,30.5 148.1,31.2 148.4,30.8 148.6,31.3 148.9,30.4 149.1,31.2 149.4,30.8 149.6,31 149.9,30.9 150.1,30.5 150.4,30.9 150.6,30.5 150.9,31 151.1,30 151.3,30.8 151.6,30.1 151.8,29.7 152.1,31.5 152.3,30.9 152.6,30.6 152.8,30 153.1,30.7 153.3,30.3 153.6,30.8 153.8,30.3 154.1,31 154.3,30.1 154.6,31.7 154.8,31.2 155.1,29.7 155.3,30.4 155.6,30.8 155.8,29.6 156.1,30 156.3,30 156.6,30.6 156.8,30.2 157.1,30.2 157.3,31.1 157.5,30.2 157.8,30.5 158,29.9 158.3,29.9 158.5,30.7 158.8,30.7 159,30.4 159.3,30.2 159.5,30.6 159.8,30.5 160,30.2 160.3,30.3 160.5,30 160.8,30.3 161,30.8 161.3,31.1 161.5,30.1 161.8,30.5 162,30.5 162.3,30.5 162.5,31 162.8,30.5 163,31.4 163.2,30.5 163.5,30.7 163.7,29.6 164,30.2 164.2,30.4 164.5,30.3 164.7,30 165,30.6 165.2,30.4 165.5,30.4 165.7,29.3 166,30.2 166.2,31 166.5,29.9 166.7,29.2 167,30.6 167.2,28.8 167.5,30.2 167.7,29.8 168,30.4 168.2,30.2 168.5,30.6 168.7,30.5 169,30.9 169.2,29.6 169.4,30.5 169.7,29.9 169.9,29.9 170.2,30.3 170.4,30 170.7,30 170.9,30.2 171.2,29.9 171.4,29.9 171.7,30.3 171.9,30.4 172.2,30.2 172.4,29.8 172.7,29.3 172.9,29.3 173.2,29.7 173.4,29.4 173.7,29.8 173.9,29.4 174.2,29.7 174.4,29.6 174.7,29.9 174.9,29.7 175.1,29 175.4,30.2 175.6,29.7 175.9,29.9 176.1,29.3 176.4,29 176.6,29.8 176.9,30.7 177.1,29.4 177.4,29.4 177.6,30.3 177.9,29.7 178.1,29.7 178.4,30.5 178.6,29.4 178.9,29.4 179.1,29.5 179.4,30 179.6,29.9 179.9,29.8 180.1,29.4 180.4,30 180.6,29 180.9,29.4 181.1,30.4 181.3,28.9 181.6,29.5 181.8,29.8 182.1,29.5 182.3,30.3 182.6,29.5 182.8,30.5 183.1,29.9 183.3,29 183.6,29.1 183.8,29.7 184.1,29.9 184.3,29.2 184.6,29.5 184.8,29.4 185.1,29.3 185.3,29.9 185.6,29.2 185.8,30.3 186.1,28.9 186.3,30.1 186.6,29.7 186.8,29.7 187,29.2 187.3,29.1 187.5,29.3 187.8,29.2 188,29.2 188.3,29.4 188.5,30.1 188.8,30.2 189,30.2 189.3,29.3 189.5,29.4 189.8,29.3 190,29.2 190.3,29.3 190.5,29.6 190.8,29.8 191,29.9 191.3,28.7 191.5,28.8 191.8,29.7 192,29.2 192.3,29 192.5,28.5 192.7,29.3 193,29 193.2,28.6 193.5,29.7 193.7,29.3 194,29 194.2,29.2 194.5,28.1 194.7,28.6 195,28.8 195.2,29.2 195.5,28.5 195.7,28.6 196,29 196.2,29 196.5,29.3 196.7,28.8 197,28.4 197.2,28.3 197.5,28.5 197.7,28.4 198,28.9 198.2,28.8 198.5,28.1 198.7,28.4 198.9,28.8 199.2,28.3 199.4,28.2 199.7,28.2 199.9,28.4 200.2,28.6 200.4,28.3 200.7,27.7 200.9,28.3 201.2,28.6 201.4,28.2 201.7,28.7 201.9,28.2 202.2,28.4 202.4,27.9 202.7,28.2 202.9,27.8 203.2,27.3 203.4,28.2 203.7,28.4 203.9,27.9 204.2,28.1 204.4,28 204.6,28.3 204.9,27.8 205.1,28 205.4,28.8 205.6,28 205.9,27.8 206.1,27.5 206.4,28.1 206.6,28.2 206.9,27.5 207.1,28.1 207.4,27.8 207.6,27.7 207.9,27.6 208.1,27.8 208.4,28.3 208.6,27.5 208.9,28 209.1,28 209.4,27.1 209.6,27.5 209.9,28.2 210.1,28 210.4,27.9 210.6,28.1 210.8,28.5 211.1,27.5 211.3,27.5 211.6,27.7 211.8,28 212.1,27.7 212.3,27.6 212.6,28.2 212.8,27.9 213.1,28 213.3,27.6 213.6,27.7 213.8,28.3 214.1,28.1 214.3,27.2 214.6,28.2 214.8,27.8 215.1,28.1 215.3,27.4 215.6,27.9 215.8,28 216.1,28.3 216.3,27.9 216.5,27.5 216.8,27.6 217,28.3 217.3,27.3 217.5,27.9 217.8,28.2 218,27.8 218.3,28 218.5,28 218.8,28 219,27.8 219.3,27.9 219.5,28.4 219.8,27.6 220,27.9 220.3,27.3 220.5,27.5 220.8,27.5 221,27.6 221.3,27.2 221.5,27.8 221.8,28 222,27.5 222.2,28.6 222.5,27.8 222.7,27.5 223,27.8 223.2,27.2 223.5,27.3 223.7,27.5 224,27.7 224.2,27.2 224.5,27.8 224.7,27.7 225,27.3 225.2,27.3 225.5,26.8 225.7,27.6 226,28.2 226.2,27.3 226.5,27.1 226.7,27.6 227,27 227.2,26.9 227.5,27.8 227.7,27.7 228,28 228.2,27.4 228.4,27.3 228.7,27.4 228.9,28 229.2,27.9 229.4,28.1 229.7,28.2 229.9,28.1 230.2,28.2 230.4,27.7 230.7,27.5 230.9,27.4 231.2,27.7 231.4,27.9 231.7,27.7 231.9,27.5 232.2,27.8 232.4,27.7 232.7,27.8 232.9,27.9 233.2,27.7 233.4,28.1 233.7,27.4 233.9,28.3 234.1,27.6 234.4,28.3 234.6,27.2 234.9,27.5 235.1,28.1 235.4,28 235.6,28.2 235.9,27.8 236.1,27.7 236.4,26.9 236.6,28.3 236.9,27.4 237.1,28 237.4,27.7 237.6,27.5 237.9,27.6 238.1,27.7"/>
<polyline stroke="#f7bc98" points="27.4,175.4 27.6,174.7 27.9,174.2 28.1,172.3 28.4,170.8 28.6,166.6 28.9,162.7 29.1,152.8 29.4,148.6 29.6,145.7 29.9,138.9 30.1,133.9 30.4,128 30.6,124.2 30.9,125.4 31.1,119.7 31.4,119.6 31.6,120.1 31.9,115 32.1,117 32.4,116.8 32.6,112 32.9,110.8 33.1,113 33.3,108.9 33.6,108.2 33.8,110.4 34.1,104.8 34.3,108 34.6,106.7 34.8,110.9 35.1,104.5 35.3,106.1 35.6,103.4 35.8,106.7 36.1,100.7 36.3,99.5 36.6,98.1 36.8,106.1 37.1,99.1 37.3,98.9 37.6,104.2 37.8,99.6 38.1,97.8 38.3,94.6 38.6,97.9 38.8,95.5 39.1,95.4 39.3,94.1 39.5,94.9 39.8,92.1 40,91.5 40.3,94.8 40.5,90.2 40.8,92.8 41,91.5 41.3,88.7 41.5,89.9 41.8,88.6 42,87.8 42.3,87.6 42.5,89 42.8,89.1 43,86.1 43.3,85.5 43.5,85.7 43.8,86.1 44,84 44.3,84.9 44.5,86.5 44.8,83.6 45,82.8 45.2,81.9 45.5,84 45.7,83.3 46,81.3 46.2,81.9 46.5,80.9 46.7,79 47,79.4 47.2,76.9 47.5,78.7 47.7,76.2 48,76.8 48.2,74.3 48.5,77.4 48.7,77.1 49,74.8 49.2,76.9 49.5,76.4 49.7,75 50,74.4 50.2,76.4 50.5,73.7 50.7,74.1 51,73.3 51.2,72.6 51.4,72.6 51.7,70.6 51.9,70.9 52.2,71.4 52.4,70.6 52.7,68.9 52.9,68.9 53.2,67.8 53.4,69.2 53.7,68.5 53.9,65.7 54.2,67.9 54.4,65.4 54.7,66 54.9,67.2 55.2,68 55.4,65.1 55.7,66.3 55.9,66 56.2,66.8 56.4,63 56.7,63.9 56.9,63.6 57.1,62.9 57.4,62.7 57.6,62.5 57.9,61.7 58.1,62.3 58.4,64.6 58.6,60.5 58.9,60.6 59.1,60.7 59.4,58.7 59.6,61.7 59.9,63.1 60.1,57.9 60.4,58.8 60.6,60.8 60.9,59.1 61.1,57.7 61.4,59.5 61.6,57.3 61.9,55.3 62.1,55.8 62.4,57.1 62.6,56.5 62.8,57.5 63.1,56.2 63.3,56.4 63.6,56.8 63.8,56.9 64.1,53.3 64.3,55 64.6,55.9 64.8,55 65.1,52.9 65.3,52.5 65.6,54.6 65.8,53.5 66.1,52.6 66.3,53.6 66.6,54.2 66.8,53.8 67.1,52.7 67.3,53.2 67.6,53.5 67.8,52.3 68.1,50.9 68.3,51 68.6,51.7 68.8,49.4 69,51.8 69.3,50.9 69.5,51.9 69.8,49.7 70,50.4 70.3,51.6 70.5,50.7 70.8,48.1 71,48.9 71.3,49.2 71.5,48.4 71.8,50.4 72,49.5 72.3,49.8 72.5,49.2 72.8,48.6 73,47.6 73.3,47 73.5,46.9 73.8,45.2 74,47.8 74.3,47.3 74.5,46.7 74.7,47.6 75,47 75.2,46.3 75.5,47.2 75.7,45.9 76,45.1 76.2,46.9 76.5,47.7 76.7,45.6 77,46.4 77.2,45.2 77.5,45.6 77.7,44.8 78,44 78.2,44.1 78.5,44.9 78.7,45.5 79,46.4 79.2,46 79.5,44.7 79.7,43.9 80,44.4 80.2,44.2 80.5,44.8 80.7,44.7 80.9,44.7 81.2,42.7 81.4,44.6 81.7,42.5 81.9,43.6 82.2,42.3 82.4,42.5 82.7,42 82.9,41.5 83.2,42.9 83.4,42.9 83.7,42.4 83.9,42.6 84.2,41.4 84.4,41.9 84.7,41.7 84.9,41.3 85.2,41.9 85.4,40.6 85.7,42.7 85.9,41.1 86.2,40.8 86.4,41.6 86.6,41.5 86.9,40.3 87.1,41 87.4,42.1 87.6,41.6 87.9,39.8 88.1,41.1 88.4,39.5 88.6,39.3 88.9,40.3 89.1,39.7 89.4,40.6 89.6,40.2 89.9,40.3 90.1,39.4 90.4,40.6 90.6,39.7 90.9,39.5 91.1,39.1 91.4,40.8 91.6,40.5 91.9,39.8 92.1,39.3 92.3,39 92.6,38.8 92.8,37.6 93.1,38.4 93.3,38.4 93.6,39 93.8,38.1 94.1,38.1 94.3,38 94.6,38.5 94.8,37.9 95.1,37.3 95.3,38.7 95.6,39.5 95.8,37.5 96.1,37.5 96.3,38.1 96.6,38.1 96.8,36.1 97.1,38 97.3,38.4 97.6,37.9 97.8,37.3 98.1,37.9 98.3,37.7 98.5,37.2 98.8,37.6 99,37.2 99.3,37.3 99.5,37.9 99.8,37.1 100,37.8 100.3,36.5 100.5,37.6 100.8,37.2 101,38.1 101.3,37.2 101.5,37.7 101.8,36 102,36.9 102.3,36.5 102.5,37.8 102.8,37.5 103,36.8 103.3,37.5 103.5,36 103.8,36.9 104,36.5 104.2,36.4 104.5,36.6 104.7,36.1 105,36.9 105.2,36.3 105.5,35.8 105.7,36.3 106,36.3 106.2,36.5 106.5,36.3 106.7,35.9 107,36.4 107.2,37.1 107.5,36.1 107.7,36.2 108,35.8 108.2,36 108.5,35.2 108.7,36.6 109,36.4 109.2,35.5 109.5,36.4 109.7,35.6 110,35.7 110.2,36.7 110.4,35.3 110.7,34.8 110.9,35.4 111.2,36.2 111.4,35 111.7,35.9 111.9,35.3 112.2,35 112.4,35.6 112.7,36 112.9,35.1 113.2,35 113.4,35.4 113.7,35.2 113.9,34.4 114.2,34.8 114.4,34.9 114.7,34.9 114.9,34.4 115.2,34.4 115.4,34.5 115.7,35 115.9,34.5 116.1,34.5 116.4,34.1 116.6,33.5 116.9,33.6 117.1,33.7 117.4,33.9 117.6,34 117.9,33.7 118.1,34 118.4,33.9 118.6,34.1 118.9,33.7 119.1,33.6 119.4,32.7 119.6,33.2 119.9,33.7 120.1,33.1 120.4,33.6 120.6,32.9 120.9,33 121.1,31.9 121.4,33.8 121.6,33.3 121.8,33.3 122.1,33 122.3,32.8 122.6,33.6 122.8,33.5 123.1,33 123.3,32.6 123.6,33.6 123.8,33.8 124.1,32.5 124.3,32.6 124.6,32.5 124.8,33.4 125.1,33.1 125.3,32.8 125.6,32.7 125.8,33 126.1,32.9 126.3,32.4 126.6,33.1 126.8,33.1 127.1,33 127.3,33.1 127.6,32.8 127.8,32.9 128,33 128.3,32.1 128.5,32.6 128.8,32.9 129,32.1 129.3,32.9 129.5,32.7 129.8,32.7 130,32.9 130.3,32.8 130.5,32.5 130.8,33.2 131,32.7 131.3,32.4 131.5,32.3 131.8,32.3 132,31.4 132.3,32.1 132.5,32.4 132.8,32.4 133,32.3 133.3,32.1 133.5,32.3 133.7,31.5 134,32.6 134.2,31.9 134.5,31.9 134.7,32.5 135,31.8 135.2,31.8 135.5,32.2 135.7,31 136,31.6 136.2,32 136.5,32 136.7,32.1 137,31.7 137.2,31.7 137.5,32.3 137.7,32.1 138,32 138.2,31.8 138.5,31.8 138.7,31.9 139,31.3 139.2,31.2 139.5,31.5 139.7,32.4 139.9,31.6 140.2,31.3 140.4,31.5 140.7,31.3 140.9,31.4 141.2,32 141.4,32.4 141.7,31.1 141.9,31.6 142.2,31.2 142.4,31.5 142.7,31.4 142.9,30.8 143.2,31.8 143.4,31.3 143.7,31.7 143.9,31.3 144.2,31.1 144.4,31 144.7,31.2 144.9,31.8 145.2,31.1 145.4,30.9 145.6,30.8 145.9,30.4 146.1,31 146.4,31.6 146.6,31.4 146.9,31.1 147.1,30.7 147.4,31.6 147.6,30.8 147.9,30.9 148.1,31.5 148.4,30.9 148.6,31.4 148.9,31.1 149.1,31.2 149.4,31 149.6,31.5 149.9,30.8 150.1,31.8 150.4,31.1 150.6,31.2 150.9,30.3 151.1,30.7 151.3,31.1 151.6,31.2 151.8,30.9 152.1,31.1 152.3,30 152.6,31.9 152.8,30.8 153.1,31.7 153.3,30.3 153.6,31 153.8,30.1 154.1,30.9 154.3,30.2 154.6,30.6 154.8,30.2 155.1,30.6 155.3,31.7 155.6,30.8 155.8,31.1 156.1,30.1 156.3,30.3 156.6,30.4 156.8,30.2 157.1,30.3 157.3,30.6 157.5,29.6 157.8,30.2 158,30.4 158.3,30.8 158.5,30.5 158.8,30.2 159,30.3 159.3,30.4 159.5,30.2 159.8,30.6 160,30.1 160.3,30.7 160.5,30.4 160.8,30.3 161,29.7 161.3,29.8 161.5,30 161.8,30.4 162,30.1 162.3,29.7 162.5,29.5 162.8,30.5 163,30.1 163.2,29.9 163.5,29.8 163.7,29.9 164,29.7 164.2,30.4 164.5,29.3 164.7,30.3 165,29.9 165.2,29.7 165.5,29.4 165.7,29.5 166,29.5 166.2,29.4 166.5,29.9 166.7,29.6 167,29.3 167.2,30.1 167.5,30.4 167.7,30.2 168,29.4 168.2,29.4 168.5,30 168.7,29.8 169,29.7 169.2,29.5 169.4,30.6 169.7,30.1 169.9,30 170.2,29.8 170.4,29.9 170.7,30 170.9,29.8 171.2,30.8 171.4,28.8 171.7,29.6 171.9,29.6 172.2,30.1 172.4,29.7 172.7,29.2 172.9,29.2 173.2,29.9 173.4,30.3 173.7,29.8 173.9,30 174.2,29.6 174.4,30.3 174.7,29.9 174.9,29.8 175.1,30 175.4,29.5 175.6,30.3 175.9,30.3 176.1,30 176.4,29.5 176.6,29.9 176.9,30 177.1,29.5 177.4,29.7 177.6,30 177.9,29.7 178.1,29.8 178.4,29.5 178.6,29.7 178.9,30 179.1,29.9 179.4,29.8 179.6,29.5 179.9,29.5 180.1,29.9 180.4,29.7 180.6,29.5 180.9,29.2 181.1,29.5 181.3,28.9 181.6,29.5 181.8,29.3 182.1,29.6 182.3,29.8 182.6,29.4 182.8,29.3 183.1,29.3 183.3,29.4 183.6,29.5 183.8,29.7 184.1,29.5 184.3,29.2 184.6,29 184.8,30.5 185.1,29.1 185.3,28.9 185.6,28.8 185.8,29.1 186.1,29 186.3,29.4 186.6,29.3 186.8,29 187,29.6 187.3,29.5 187.5,29.1 187.8,29.6 188,29.1 188.3,29.7 188.5,29.1 188.8,29.1 189,29.3 189.3,29.5 189.5,29.3 189.8,29.9 190,29.2 190.3,29.1 190.5,28.7 190.8,29.3 191,29.1 191.3,28.6 191.5,28.5 191.8,29.2 192,28.7 192.3,28.6 192.5,28.9 192.7,29.4 193,29.4 193.2,28.8 193.5,28.2 193.7,29.1 194,28.5 194.2,28.3 194.5,29.4 194.7,29.2 195,28.4 195.2,28.6 195.5,28.7 195.7,28.9 196,28.7 196.2,29.1 196.5,28 196.7,29.3 197,29.5 197.2,28.8 197.5,28.3 197.7,29 198,28.8 198.2,29.1 198.5,28.8 198.7,29.1 198.9,29.1 199.2,29.2 199.4,28.9 199.7,28 199.9,28.7 200.2,28.6 200.4,27.8 200.7,28.8 200.9,28.9 201.2,28.4 201.4,29 201.7,28.4 201.9,28.1 202.2,28.9 202.4,28.7 202.7,27.9 202.9,28.8 203.2,28.7 203.4,28.4 203.7,28.5 203.9,28.7 204.2,27.9 204.4,28.6 204.6,28.3 204.9,28.5 205.1,28.4 205.4,28.8 205.6,28 205.9,28.5 206.1,27.9 206.4,28.7 206.6,28.5 206.9,28.2 207.1,28.3 207.4,28.6 207.6,28.4 207.9,28.8 208.1,28.3 208.4,29.3 208.6,28.3 208.9,27.9 209.1,28.1 209.4,28.1 209.6,28.5 209.9,28.2 210.1,28.5 210.4,28.4 210.6,28.4 210.8,29.5 211.1,28.1 211.3,28.3 211.6,28.1 211.8,28.7 212.1,28.2 212.3,28.3 212.6,29.2 212.8,29 213.1,28.4 213.3,28.7 213.6,28.4 213.8,28.7 214.1,27.9 214.3,29.1 214.6,28.9 214.8,28.8 215.1,28.9 215.3,28.6 215.6,28.4 215.8,28.9 216.1,28.3 216.3,27.9 216.5,28 216.8,27.7 217,28 217.3,28.4 217.5,27.7 217.8,28.1 218,27.7 218.3,28.4 218.5,29 218.8,28.7 219,28.2 219.3,28.1 219.5,28.3 219.8,27.9 220,28.6 220.3,28.4 220.5,27.8 220.8,28.1 221,28.1 221.3,27.6 221.5,27.7 221.8,28.3 222,28 222.2,28.6 222.5,28 222.7,27.9 223,28.6 223.2,27.4 223.5,27.3 223.7,27.8 224,27.6 224.2,27.4 224.5,27.9 224.7,27.5 225,27.7 225.2,28.4 225.5,28.1 225.7,28 226,27.4 226.2,27.8 226.5,27.4 226.7,27.9 227,28.2 227.2,27 227.5,26.8 227.7,27.6 228,27.8 228.2,27.3 228.4,28.1 228.7,27.8 228.9,28.2 229.2,27.5 229.4,27.6 229.7,27.8 229.9,27.9 230.2,28.2 230.4,27.9 230.7,27.2 230.9,27.7 231.2,27.2 231.4,27.9 231.7,27.6 231.9,27.8 232.2,27.7 232.4,27.3 232.7,28.3 232.9,27.3 233.2,27.4 233.4,27.6 233.7,27.6 233.9,27.7 234.1,27.4 234.4,27.6 234.6,27.9 234.9,27.5 235.1,27.3 235.4,27.5 235.6,27.6 235.9,27.5 236.1,27.7 236.4,27.7 236.6,28.2 236.9,27.6 237.1,27.3 237.4,27.7 237.6,27.9 237.9,27.3 238.1,27.5"/>
<polyline stroke="#82c4e6" points="27.4,175.4 27.6,174.6 27.9,174.6 28.1,174.2 28.4,172.1 28.6,169.8 28.9,162.3 29.1,152.4 29.4,145.4 29.6,141.7 29.9,137.6 30.1,136.2 30.4,133 30.6,127.2 30.9,125.1 31.1,124.7 31.4,122.8 31.6,117.4 31.9,117.3 32.1,118 32.4,116.7 32.6,113.7 32.9,114.6 33.1,114 33.3,116.7 33.6,116.2 33.8,115.9 34.1,115.9 34.3,111 34.6,109.7 34.8,111.4 35.1,108.3 35.3,107.7 35.6,108.1 35.8,110.1 36.1,104.2 36.3,103.7 36.6,106.7 36.8,101.6 37.1,104.4 37.3,105.3 37.6,104.1 37.8,106 38.1,102.9 38.3,104.5 38.6,99.2 38.8,100.1 39.1,102.5 39.3,98.6 39.5,101.9 39.8,98.3 40,97.2 40.3,97.4 40.5,98.9 40.8,96.7 41,96.3 41.3,95.4 41.5,92.7 41.8,91.9 42,91.6 42.3,94.7 42.5,94.4 42.8,92.7 43,91.6 43.3,95.1 43.5,92.4 43.8,88.2 44,92.5 44.3,91.3 44.5,90.8 44.8,88.6 45,89 45.2,89 45.5,90.4 45.7,86.8 46,87.3 46.2,87.9 46.5,86.5 46.7,85.1 47,88 47.2,87.7 47.5,86.5 47.7,85.9 48,88.5 48.2,84.7 48.5,81.9 48.7,83.5 49,81.2 49.2,86.2 49.5,82 49.7,79.6 50,78.9 50.2,81.4 50.5,81.4 50.7,79.4 51,81.1 51.2,79.6 51.4,80.9 51.7,78.2 51.9,77.9 52.2,75.4 52.4,76.7 52.7,77.6 52.9,76.5 53.2,77.6 53.4,75.5 53.7,75.4 53.9,74.2 54.2,73.2 54.4,76.4 54.7,73.1 54.9,72.2 55.2,74.2 55.4,70 55.7,72.7 55.9,68.5 56.2,70.1 56.4,69.5 56.7,69.9 56.9,68.6 57.1,70.6 57.4,70 57.6,70.9 57.9,67.6 58.1,68.6 58.4,66.6 58.6,66.3 58.9,68.2 59.1,65.5 59.4,65.6 59.6,65.3 59.9,64.6 60.1,64.8 60.4,64.3 60.6,62.8 60.9,64.7 61.1,64.6 61.4,63.7 61.6,61.4 61.9,62.6 62.1,59.8 62.4,64.9 62.6,62 62.8,61.4 63.1,60.3 63.3,58.8 63.6,60.1 63.8,60.7 64.1,58.4 64.3,57.4 64.6,61.3 64.8,57.8 65.1,57.8 65.3,58.6 65.6,58 65.8,56.9 66.1,56.9 66.3,56.9 66.6,57.5 66.8,55.8 67.1,56.5 67.3,55.5 67.6,55.9 67.8,54.8 68.1,54 68.3,54.3 68.6,53.6 68.8,55.4 69,53.4 69.3,53.3 69.5,53.9 69.8,53.3 70,55.5 70.3,52.6 70.5,52.8 70.8,54.3 71,51.5 71.3,52.4 71.5,51.3 71.8,51.6 72,50.7 72.3,50.9 72.5,51 72.8,50.1 73,49.6 73.3,52.2 73.5,49.9 73.8,50.3 74,50.5 74.3,48.3 74.5,48.4 74.7,49.9 75,49.8 75.2,48 75.5,49 75.7,48.6 76,49.8 76.2,48.1 76.5,46.9 76.7,48 77,47.6 77.2,45.9 77.5,46.4 77.7,45.8 78,46.3 78.2,45.7 78.5,47.9 78.7,47.1 79,47.6 79.2,44.3 79.5,45.8 79.7,45.9 80,46.2 80.2,46.3 80.5,47.6 80.7,43.5 80.9,45.1 81.2,44.9 81.4,45.9 81.7,44.7 81.9,44.2 82.2,44.5 82.4,43.8 82.7,44.8 82.9,43.7 83.2,43.2 83.4,43.3 83.7,43.3 83.9,43.6 84.2,44.1 84.4,42.8 84.7,43.4 84.9,43.7 85.2,42.3 85.4,43.9 85.7,43 85.9,42 86.2,41.7 86.4,42.6 86.6,42.1 86.9,41.7 87.1,42 87.4,42.4 87.6,41.5 87.9,41.5 88.1,41.5 88.4,40.7 88.6,41.1 88.9,41.6 89.1,41.1 89.4,39.7 89.6,41.5 89.9,41.1 90.1,41.3 90.4,40.4 90.6,41.4 90.9,40.2 91.1,39.9 91.4,40.8 91.6,40.8 91.9,41.1 92.1,40 92.3,40.7 92.6,40.3 92.8,40 93.1,40.1 93.3,39 93.6,38.5 93.8,40.8 94.1,39.9 94.3,39.1 94.6,39.9 94.8,39.4 95.1,38.9 95.3,38 95.6,38.1 95.8,39 96.1,38.6 96.3,38.8 96.6,38.6 96.8,39.2 97.1,39.5 97.3,38.5 97.6,37.6 97.8,37.7 98.1,39.2 98.3,38.1 98.5,38.3 98.8,37.7 99,38.5 99.3,37.2 99.5,37.8 99.8,37.2 100,37 100.3,38.6 100.5,37.5 100.8,36.4 101,37.2 101.3,36.5 101.5,36.8 101.8,37.3 102,36.7 102.3,36.2 102.5,36 102.8,35.8 103,37.3 103.3,36 103.5,37.3 103.8,36.5 104,36.4 104.2,35.9 104.5,36 104.7,35.4 105,36.4 105.2,35.4 105.5,35.6 105.7,35.8 106,36.4 106.2,35.3 106.5,35.4 106.7,35 107,35.4 107.2,35.4 107.5,35 107.7,34.9 108,34.7 108.2,34 108.5,35.3 108.7,33.7 109,36.4 109.2,34.2 109.5,35.1 109.7,33.5 110,35 110.2,33.8 110.4,34.9 110.7,34.9 110.9,33.8 111.2,33.7 111.4,34.4 111.7,32.7 111.9,34.1 112.2,33.1 112.4,34.4 112.7,34.3 112.9,33.7 113.2,34.2 113.4,33.3 113.7,34.7 113.9,33.4 114.2,33.7 114.4,33.9 114.7,33.2 114.9,33.4 115.2,33.5 115.4,32.8 115.7,33 115.9,32.9 116.1,32.4 116.4,33.1 116.6,32.6 116.9,33.2 117.1,32.6 117.4,32.6 117.6,33.1 117.9,33.6 118.1,33.4 118.4,33.2 118.6,32.5 118.9,32.8 119.1,32.9 119.4,32.5 119.6,32.3 119.9,32 120.1,32.9 120.4,32.3 120.6,32.3 120.9,33.1 121.1,32.5 121.4,33 121.6,32.7 121.8,32.3 122.1,33.4 122.3,33 122.6,32.9 122.8,32.5 123.1,32.9 123.3,32.3 123.6,32.9 123.8,32.7 124.1,32.2 124.3,32.3 124.6,32.4 124.8,32.5 125.1,32 125.3,31.8 125.6,32.6 125.8,32.8 126.1,32.9 126.3,31.6 126.6,32.8 126.8,33 127.1,32.3 127.3,31.9 127.6,33 127.8,32.4 128,33 128.3,32.7 128.5,31.6 128.8,32.2 129,32.4 129.3,32.2 129.5,32.1 129.8,32.3 130,32.8 130.3,32.7 130.5,31.3 130.8,32.5 131,31.6 131.3,32.4 131.5,31.5 131.8,31.7 132,32.1 132.3,31 132.5,32.3 132.8,32 133,32.2 133.3,32.1 133.5,31.9 133.7,32.1 134,31.8 134.2,30.9 134.5,32.3 134.7,32.1 135,31.9 135.2,31.6 135.5,31 135.7,31 136,31.1 136.2,31.2 136.5,30.2 136.7,31.7 137,31.6 137.2,31.1 137.5,30.9 137.7,31.1 138,31.3 138.2,31.5 138.5,31 138.7,31.1 139,31 139.2,31.2 139.5,30.1 139.7,30.5 139.9,29.8 140.2,30.8 140.4,30.5 140.7,30.6 140.9,30.5 141.2,30.5 141.4,30.5 141.7,31.2 141.9,30.5 142.2,30 142.4,31.1 142.7,30.4 142.9,30 143.2,29.7 143.4,30.2 143.7,30 143.9,29.4 144.2,29.6 144.4,30.3 144.7,30.4 144.9,29.7 145.2,30 145.4,30.3 145.6,30.2 145.9,29.9 146.1,30.1 146.4,30.1 146.6,30.1 146.9,30.6 147.1,29.3 147.4,29.5 147.6,29.4 147.9,30 148.1,29.9 148.4,29.7 148.6,29.6 148.9,30.7 149.1,29.8 149.4,30.4 149.6,30 149.9,30.2 150.1,29.2 150.4,29.7 150.6,29.9 150.9,29.3 151.1,29.9 151.3,30.2 151.6,29.9 151.8,30 152.1,29.8 152.3,29.5 152.6,29.9 152.8,29.8 153.1,29.4 153.3,29.7 153.6,29.4 153.8,29.7 154.1,30.3 154.3,30.2 154.6,30.4 154.8,29.2 155.1,29.5 155.3,29.8 155.6,30 155.8,29.5 156.1,29.6 156.3,29.4 156.6,29.9 156.8,30 157.1,28.9 157.3,29.8 157.5,29.5 157.8,28.9 158,30.1 158.3,29.1 158.5,29.3 158.8,29.4 159,29.2 159.3,29.8 159.5,30.1 159.8,28.5 160,29.3 160.3,28.9 160.5,28.8 160.8,29.1 161,29 161.3,28.9 161.5,28.5 161.8,28.9 162,28.6 162.3,29.2 162.5,29.2 162.8,29 163,28.9 163.2,28.8 163.5,28.3 163.7,28.7 164,29 164.2,28.2 164.5,28.9 164.7,28.8 165,28.8 165.2,29.1 165.5,29.4 165.7,28.9 166,29.1 166.2,29.3 166.5,28.9 166.7,29 167,29.2 167.2,29.6 167.5,29 167.7,28.3 168,28.6 168.2,28.5 168.5,28.9 168.7,28.5 169,29.2 169.2,29.1 169.4,28.7 169.7,29.5 169.9,28.9 170.2,28.8 170.4,28.3 170.7,29.2 170.9,28.8 171.2,29.2 171.4,29.1 171.7,30 171.9,29.3 172.2,28.5 172.4,28.7 172.7,28.9 172.9,28 173.2,28.7 173.4,29.4 173.7,29 173.9,28.9 174.2,28.3 174.4,29.2 174.7,28.7 174.9,28.5 175.1,29.2 175.4,28.8 175.6,29.6 175.9,28.8 176.1,29.7 176.4,29 176.6,28.2 176.9,28.7 177.1,28.8 177.4,28.7 177.6,28 177.9,28.6 178.1,28.4 178.4,28.9 178.6,28.9 178.9,29.1 179.1,28.8 179.4,28.9 179.6,28.3 179.9,28.4 180.1,28.7 180.4,28.8 180.6,29.7 180.9,28.8 181.1,28.5 181.3,28.3 181.6,29.7 181.8,29.4 182.1,28.5 182.3,28.9 182.6,28.6 182.8,28.7 183.1,28.3 183.3,29.2 183.6,28.7 183.8,28.2 184.1,28.4 184.3,28.8 184.6,28.3 184.8,28.4 185.1,28.8 185.3,28.2 185.6,28.2 185.8,28.5 186.1,28.1 186.3,28.9 186.6,28.2 186.8,28.6 187,28.8 187.3,28.7 187.5,28.1 187.8,28.7 188,28.6 188.3,28.7 188.5,28.8 188.8,28.2 189,27.7 189.3,28 189.5,28.3 189.8,28.3 190,28.7 190.3,28.7 190.5,29 190.8,28 191,28.7 191.3,28.8 191.5,28.8 191.8,28.5 192,28.8 192.3,28.6 192.5,28.5 192.7,28.1 193,29 193.2,28.5 193.5,28.9 193.7,28.8 194,28 194.2,28.4 194.5,28.7 194.7,28.4 195,28.6 195.2,28.2 195.5,28.8 195.7,28.4 196,28.7 196.2,28.6 196.5,28.6 196.7,28.8 197,28.5 197.2,28.2 197.5,28.7 197.7,28.6 198,28.4 198.2,28.7 198.5,28.2 198.7,28.2 198.9,29.2 199.2,28.6 199.4,28.8 199.7,28.1 199.9,28 200.2,28.7 200.4,28.5 200.7,28.3 200.9,28.4 201.2,28 201.4,27.9 201.7,28 201.9,27.8 202.2,27.8 202.4,28.1 202.7,28.2 202.9,28.3 203.2,27.7 203.4,27.7 203.7,27.6 203.9,28 204.2,28 204.4,27.8 204.6,27.4 204.9,27.7 205.1,27.7 205.4,28.1 205.6,27.6 205.9,27.6 206.1,28.1 206.4,27.1 206.6,28 206.9,27.3 207.1,27.7 207.4,27.6 207.6,27.9 207.9,27.8 208.1,27.4 208.4,27.7 208.6,27.7 208.9,27.3 209.1,27.3 209.4,27.5 209.6,27.5 209.9,27 210.1,27.6 210.4,27.4 210.6,27.4 210.8,28.1 211.1,28.2 211.3,27.5 211.6,27.3 211.8,27.5 212.1,27.8 212.3,27.8 212.6,27.3 212.8,27.7 213.1,28.2 213.3,27.4 213.6,27.5 213.8,27.5 214.1,27.3 214.3,27.2 214.6,27.5 214.8,27.7 215.1,28.4 215.3,27.6 215.6,27.7 215.8,27.2 216.1,27.2 216.3,27.5 216.5,27.2 216.8,27.7 217,27.7 217.3,27.9 217.5,27.7 217.8,27.5 218,27.2 218.3,27.9 218.5,27.3 218.8,26.8 219,28 219.3,27.6 219.5,27.5 219.8,27.2 220,26.8 220.3,27 220.5,27.5 220.8,27.7 221,27.4 221.3,27.4 221.5,27.3 221.8,27.6 222,26.8 222.2,27.5 222.5,27 222.7,27.2 223,27.6 223.2,27.2 223.5,27.2 223.7,27.2 224,26.8 224.2,27.3 224.5,26.2 224.7,26.7 225,27.3 225.2,27.9 225.5,26.6 225.7,26.9 226,26.9 226.2,27.3 226.5,27.4 226.7,27.5 227,26 227.2,26.3 227.5,27 227.7,26.2 228,27.4 228.2,26.6 228.4,26.5 228.7,27.1 228.9,26.9 229.2,27.1 229.4,26.7 229.7,26.3 229.9,26.4 230.2,26.6 230.4,26.3 230.7,27.3 230.9,26 231.2,26.7 231.4,27.1 231.7,26.8 231.9,26.9 232.2,26.6 232.4,26.5 232.7,27.4 232.9,26.2 233.2,26 233.4,27 233.7,26.1 233.9,26.2 234.1,26.2 234.4,26 234.6,27.1 234.9,26.3 235.1,26.9 235.4,25.8 235.6,26.9 235.9,27 236.1,26.2 236.4,26.3 236.6,26.5 236.9,26.5 237.1,26.3 237.4,26 237.6,26.8 237.9,26.7 238.1,26.7"/>
<polyline stroke="#e98f9c" points="27.4,175.4 27.6,175.4 27.9,174.7 28.1,173.6 28.4,174.5 28.6,168.2 28.9,160.4 29.1,151.2 29.4,149 29.6,144 29.9,138.7 30.1,132.5 30.4,128 30.6,128 30.9,123.5 31.1,120.6 31.4,124.2 31.6,116 31.9,117.9 32.1,114.6 32.4,115.3 32.6,114.7 32.9,113.5 33.1,112 33.3,110 33.6,111.5 33.8,112.4 34.1,110.8 34.3,110.6 34.6,106.6 34.8,109.1 35.1,103.8 35.3,105.6 35.6,105.3 35.8,102.1 36.1,104.5 36.3,103.7 36.6,101.1 36.8,100.5 37.1,102.9 37.3,96.1 37.6,98.9 37.8,101.4 38.1,98.9 38.3,96.4 38.6,97 38.8,95.3 39.1,92.2 39.3,94.1 39.5,91.7 39.8,93.4 40,95.1 40.3,90.9 40.5,94 40.8,90.8 41,90.7 41.3,92.7 41.5,91.9 41.8,90.6 42,89.1 42.3,87.2 42.5,88.7 42.8,85.3 43,86.5 43.3,88.4 43.5,87.8 43.8,86.3 44,86.8 44.3,85.6 44.5,83.9 44.8,84.2 45,82.7 45.2,84.7 45.5,84.5 45.7,84.9 46,85 46.2,82.5 46.5,81.4 46.7,81.3 47,80.6 47.2,77.2 47.5,81.3 47.7,79.7 48,79.6 48.2,79.8 48.5,76.2 48.7,77.7 49,75.5 49.2,78.4 49.5,73.9 49.7,72.9 50,76.8 50.2,75.2 50.5,75 50.7,73.6 51,75.7 51.2,72.9 51.4,72.2 51.7,73.5 51.9,75.3 52.2,72.8 52.4,72 52.7,70.1 52.9,71.5 53.2,71.8 53.4,69.1 53.7,69 53.9,68.2 54.2,68.6 54.4,67 54.7,67.3 54.9,69.7 55.2,66.9 55.4,65.8 55.7,66.4 55.9,64.3 56.2,66.2 56.4,64.5 56.7,66.4 56.9,64.6 57.1,64.9 57.4,65 57.6,65.1 57.9,62.9 58.1,62.4 58.4,63.3 58.6,63.6 58.9,62.9 59.1,60.7 59.4,62.6 59.6,59.7 59.9,62.5 60.1,60 60.4,59.3 60.6,58.4 60.9,59.9 61.1,60 61.4,60.4 61.6,57.6 61.9,58.4 62.1,58.5 62.4,58.2 62.6,57.2 62.8,57.2 63.1,55.7 63.3,58.9 63.6,55.5 63.8,56.7 64.1,56 64.3,55.9 64.6,55.5 64.8,54.4 65.1,54.7 65.3,56.1 65.6,54.5 65.8,54.3 66.1,53.6 66.3,53.7 66.6,53.6 66.8,52.2 67.1,54.1 67.3,50.7 67.6,53.1 67.8,53.4 68.1,51.4 68.3,50.9 68.6,50.5 68.8,50.1 69,50.9 69.3,51 69.5,50.5 69.8,50.7 70,51 70.3,48.8 70.5,48.4 70.8,49.9 71,49.9 71.3,49.9 71.5,50.8 71.8,49.7 72,49.4 72.3,48.7 72.5,49.4 72.8,50 73,47.6 73.3,46.4 73.5,49.6 73.8,47.7 74,46.7 74.3,48.2 74.5,48.3 74.7,46.9 75,46.9 75.2,47.1 75.5,45 75.7,44.9 76,45.5 76.2,45.9 76.5,46 76.7,44.8 77,45.5 77.2,44 77.5,44 77.7,45.4 78,44.1 78.2,43.3 78.5,43.8 78.7,45 79,44.3 79.2,44.2 79.5,43.6 79.7,43.6 80,43.7 80.2,42.6 80.5,42.1 80.7,43.4 80.9,44 81.2,42.4 81.4,42.5 81.7,42.1 81.9,42.8 82.2,41.9 82.4,42.7 82.7,41 82.9,40.5 83.2,42.3 83.4,43.4 83.7,41.7 83.9,41.6 84.2,40.9 84.4,41 84.7,40.5 84.9,38.7 85.2,41 85.4,40.8 85.7,40.1 85.9,41.6 86.2,39.6 86.4,40.5 86.6,41 86.9,40.4 87.1,39.4 87.4,39 87.6,38.6 87.9,39.1 88.1,39.8 88.4,38.8 88.6,39.1 88.9,37.4 89.1,40.3 89.4,37.7 89.6,38.1 89.9,38.3 90.1,38.5 90.4,38.8 90.6,38.9 90.9,39.2 91.1,36.7 91.4,37.3 91.6,37.4 91.9,37.5 92.1,39 92.3,37.8 92.6,37.4 92.8,36.6 93.1,38 93.3,37 93.6,37.3 93.8,37 94.1,37.4 94.3,36.6 94.6,36.7 94.8,37.9 95.1,35.8 95.3,35.1 95.6,37 95.8,35.6 96.1,36.9 96.3,36.5 96.6,35 96.8,35.9 97.1,35 97.3,35.7 97.6,35.1 97.8,35.8 98.1,34.7 98.3,34.4 98.5,35 98.8,35.7 99,35.5 99.3,35.8 99.5,34.8 99.8,34.8 100,35.5 100.3,34.4 100.5,35.3 100.8,33.8 101,34.3 101.3,33.8 101.5,35.1 101.8,35.2 102,35.7 102.3,34.1 102.5,35.1 102.8,33.6 103,34.3 103.3,33.9 103.5,35 103.8,34.5 104,34.1 104.2,33.7 104.5,34.8 104.7,33.8 105,34.4 105.2,33.5 105.5,34 105.7,34 106,33.5 106.2,33.1 106.5,33.8 106.7,33 107,34.2 107.2,33.4 107.5,34.2 107.7,33.4 108,34 108.2,33.4 108.5,33 108.7,33.9 109,34.3 109.2,33.4 109.5,33 109.7,33.1 110,33.7 110.2,32.7 110.4,33.2 110.7,32.6 110.9,33.5 111.2,32.7 111.4,32.3 111.7,33.3 111.9,33 112.2,32.5 112.4,32.5 112.7,32.6 112.9,32.8 113.2,33.5 113.4,32.6 113.7,33.3 113.9,32.5 114.2,33.7 114.4,31.7 114.7,31.5 114.9,32.2 115.2,32.8 115.4,32.5 115.7,31.8 115.9,31.9 116.1,32.5 116.4,31.5 116.6,31.7 116.9,31.8 117.1,32.2 117.4,32 117.6,32.3 117.9,31.8 118.1,32.1 118.4,31.2 118.6,31.7 118.9,31.6 119.1,31.5 119.4,31.4 119.6,32.3 119.9,30.9 120.1,31.4 120.4,31.7 120.6,31.9 120.9,31.7 121.1,31.6 121.4,31.3 121.6,31.7 121.8,31.1 122.1,31.1 122.3,31.5 122.6,30 122.8,31.1 123.1,30.9 123.3,31 123.6,31.1 123.8,30.6 124.1,30.3 124.3,30.9 124.6,31.3 124.8,30.6 125.1,31.8 125.3,30.7 125.6,30.9 125.8,30.6 126.1,31.4 126.3,30.9 126.6,31.2 126.8,30.9 127.1,30.4 127.3,30.7 127.6,30.9 127.8,30.1 128,30.6 128.3,31.5 128.5,31.1 128.8,30.4 129,30.3 129.3,30.4 129.5,30.4 129.8,30.9 130,30.5 130.3,31 130.5,30.8 130.8,30.9 131,30.8 131.3,30.6 131.5,30.5 131.8,30.7 132,29.9 132.3,30.5 132.5,29.6 132.8,29.9 133,30.8 133.3,29.9 133.5,30.9 133.7,29.6 134,30 134.2,30.6 134.5,31.1 134.7,30.3 135,30.7 135.2,29.6 135.5,30.6 135.7,30.1 136,29.8 136.2,30 136.5,29.8 136.7,30 137,29.6 137.2,30.2 137.5,29.6 137.7,30.3 138,29.7 138.2,30.2 138.5,29.8 138.7,29.4 139,29.1 139.2,30.4 139.5,29.9 139.7,30 139.9,29 140.2,29.9 140.4,29.2 140.7,29.7 140.9,30 141.2,29.4 141.4,29.9 141.7,29.1 141.9,29 142.2,28.8 142.4,29.7 142.7,28.6 142.9,28.8 143.2,30 143.4,28.3 143.7,28.5 143.9,29.6 144.2,29 144.4,29.7 144.7,29.2 144.9,29 145.2,28.8 145.4,29.4 145.6,29 145.9,29.4 146.1,28.8 146.4,28.7 146.6,28.9 146.9,28.5 147.1,28.6 147.4,28.8 147.6,28.4 147.9,29.4 148.1,28.9 148.4,29.6 148.6,28.9 148.9,29 149.1,28.5 149.4,29 149.6,29.1 149.9,28.8 150.1,28.8 150.4,28.6 150.6,29.1 150.9,29.3 151.1,29.4 151.3,28.3 151.6,29.2 151.8,28.9 152.1,29.1 152.3,28.3 152.6,28.9 152.8,28.2 153.1,28.9 153.3,28.5 153.6,28.3 153.8,28.2 154.1,29.1 154.3,28.7 154.6,28.6 154.8,29.3 155.1,28.3 155.3,28.4 155.6,28.3 155.8,29.1 156.1,28.4 156.3,28.3 156.6,28.1 156.8,28.7 157.1,28.2 157.3,27.7 157.5,28.6 157.8,28.6 158,28.5 158.3,29 158.5,28.5 158.8,27.7 159,28.7 159.3,28.4 159.5,27.9 159.8,28.1 160,28.2 160.3,28.4 160.5,28.3 160.8,28.3 161,28 161.3,28.2 161.5,27.9 161.8,28.9 162,27.9 162.3,28.4 162.5,28.2 162.8,28.3 163,27.9 163.2,28.1 163.5,27.8 163.7,28.4 164,28 164.2,27.6 164.5,27.6 164.7,28.1 165,27.9 165.2,28.1 165.5,28 165.7,27.9 166,27.4 166.2,27.7 166.5,27.3 166.7,27.3 167,28.3 167.2,27.7 167.5,27.9 167.7,28.4 168,28.2 168.2,27.9 168.5,27.1 168.7,27.7 169,27.7 169.2,27.7 169.4,27.9 169.7,27.6 169.9,27.6 170.2,28.2 170.4,27.8 170.7,26.3 170.9,27.3 171.2,27.6 171.4,27.3 171.7,27.9 171.9,27.5 172.2,27.2 172.4,28.1 172.7,27.8 172.9,27.6 173.2,27.6 173.4,27.7 173.7,27.4 173.9,27.1 174.2,27.3 174.4,27.1 174.7,27.1 174.9,27.7 175.1,27.4 175.4,27.6 175.6,27.2 175.9,27.6 176.1,27.5 176.4,26.8 176.6,27.5 176.9,28.1 177.1,27.4 177.4,27.4 177.6,27.7 177.9,27.5 178.1,27.1 178.4,27.7 178.6,27.6 178.9,27.8 179.1,27.4 179.4,27.6 179.6,27.9 179.9,27.6 180.1,26.9 180.4,28.2 180.6,28.1 180.9,27.5 181.1,28.1 181.3,27 181.6,28.2 181.8,28.2 182.1,27.9 182.3,27.3 182.6,27.4 182.8,27.5 183.1,27.7 183.3,27.3 183.6,28.4 183.8,27.7 184.1,27.3 184.3,28.2 184.6,27.7 184.8,27.4 185.1,27.4 185.3,27.9 185.6,27.2 185.8,27.7 186.1,27.5 186.3,28.3 186.6,28.2 186.8,28.2 187,27.3 187.3,28.8 187.5,28.6 187.8,27.7 188,27.9 188.3,29 188.5,28.1 188.8,28.1 189,27.5 189.3,28.7 189.5,28.2 189.8,27.6 190,27.7 190.3,28.3 190.5,28.1 190.8,28.5 191,27.5 191.3,28.1 191.5,27.5 191.8,27.6 192,28.2 192.3,27.9 192.5,27.6 192.7,27.7 193,27.3 193.2,27.4 193.5,27.7 193.7,27.5 194,28 194.2,27.9 194.5,27.5 194.7,27.6 195,28 195.2,27.7 195.5,27.9 195.7,27.8 196,27.1 196.2,27.9 196.5,27.7 196.7,27.3 197,27.4 197.2,27.4 197.5,27.9 197.7,27.4 198,27.5 198.2,27.6 198.5,27.5 198.7,27.4 198.9,27 199.2,26.6 199.4,27.2 199.7,26.7 199.9,27.1 200.2,27.7 200.4,27.1 200.7,26.7 200.9,26.6 201.2,27.4 201.4,26.3 201.7,27.3 201.9,27.3 202.2,27.2 202.4,26.5 202.7,26.8 202.9,26.6 203.2,27.7 203.4,27 203.7,27 203.9,26.7 204.2,27.1 204.4,26.5 204.6,27.1 204.9,27.4 205.1,27.4 205.4,26.4 205.6,26.6 205.9,27.1 206.1,26.5 206.4,26.9 206.6,26.9 206.9,27.3 207.1,27 207.4,26.8 207.6,26.7 207.9,27 208.1,26.5 208.4,26.3 208.6,27.1 208.9,26.7 209.1,27.3 209.4,26.6 209.6,27.1 209.9,26.8 210.1,26.7 210.4,26.9 210.6,26.4 210.8,27 211.1,26.9 211.3,26.7 211.6,26.8 211.8,26.7 212.1,26.9 212.3,27.1 212.6,26.6 212.8,26.8 213.1,26.5 213.3,26.3 213.6,26.9 213.8,27 214.1,27 214.3,27 214.6,27.5 214.8,26.2 215.1,26.7 215.3,26 215.6,27 215.8,26.6 216.1,26.7 216.3,26.9 216.5,26.5 216.8,26.8 217,26.9 217.3,26.8 217.5,27.6 217.8,27.1 218,27.1 218.3,26.3 218.5,26.7 218.8,26.6 219,26.7 219.3,26.9 219.5,26.3 219.8,27 220,27.4 220.3,26.7 220.5,26.5 220.8,26.9 221,26.8 221.3,26.6 221.5,26.4 221.8,26.7 222,26.4 222.2,26.8 222.5,26.2 222.7,27.4 223,26.6 223.2,26.9 223.5,26.9 223.7,27.4 224,26.6 224.2,27 224.5,27.3 224.7,27.2 225,27 225.2,26.9 225.5,27.3 225.7,27.3 226,26.8 226.2,27 226.5,26.3 226.7,27.1 227,26.7 227.2,26.4 227.5,27 227.7,26.6 228,26.9 228.2,26.9 228.4,26.4 228.7,27.3 228.9,27.1 229.2,27.5 229.4,27 229.7,26.6 229.9,27 230.2,26.6 230.4,27.2 230.7,26.5 230.9,26.9 231.2,27 231.4,26.3 231.7,26.9 231.9,26.7 232.2,26.8 232.4,26.6 232.7,26.8 232.9,27.2 233.2,26.7 233.4,26.7 233.7,26.7 233.9,26.9 234.1,26.2 234.4,27.1 234.6,26.8 234.9,26.7 235.1,27.2 235.4,27.2 235.6,26.6 235.9,26.6 236.1,26.7 236.4,27.3 236.6,26.9 236.9,26.7 237.1,26.6 237.4,26.4 237.6,26.6 237.9,26.5 238.1,26.2"/>
</g>
<g stroke="#383838" stroke-width="0.9" fill="none">
<path d="M27.4,5.7V175.4H238.1"/>
<path d="M27.4,175.40h-3.3M27.4,158.43h-1.6M27.4,141.46h-3.3M27.4,124.49h-1.6M27.4,107.52h-3.3M27.4,90.55h-1.6M27.4,73.58h-3.3M27.4,56.61h-1.6M27.4,39.64h-3.3M27.4,22.67h-1.6M27.4,5.70h-3.3M27.40,175.4v3.2M52.19,175.4v1.6M76.98,175.4v3.2M101.77,175.4v1.6M126.56,175.4v3.2M151.35,175.4v1.6M176.14,175.4v3.2M200.93,175.4v1.6M225.72,175.4v3.2"/>
</g>
<text transform="translate(22.00,177.30) scale(1,0.88)" font-size="7.3" text-anchor="end">0.0</text>
<text transform="translate(22.00,143.36) scale(1,0.88)" font-size="7.3" text-anchor="end">0.2</text>
<text transform="translate(22.00,109.42) scale(1,0.88)" font-size="7.3" text-anchor="end">0.4</text>
<text transform="translate(22.00,75.48) scale(1,0.88)" font-size="7.3" text-anchor="end">0.6</text>
<text transform="translate(22.00,41.54) scale(1,0.88)" font-size="7.3" text-anchor="end">0.8</text>
<text transform="translate(22.00,7.60) scale(1,0.88)" font-size="7.3" text-anchor="end">1.0</text>
<text transform="translate(27.40,186.60) scale(1,0.88)" font-size="7.2" text-anchor="middle">0</text>
<text transform="translate(76.98,186.60) scale(1,0.88)" font-size="7.2" text-anchor="middle">200</text>
<text transform="translate(126.56,186.60) scale(1,0.88)" font-size="7.2" text-anchor="middle">400</text>
<text transform="translate(176.14,186.60) scale(1,0.88)" font-size="7.2" text-anchor="middle">600</text>
<text transform="translate(225.72,186.60) scale(1,0.88)" font-size="7.2" text-anchor="middle">800</text>
<text x="132.76" y="200.75" font-size="8.8" text-anchor="middle">epoch</text>
<text transform="translate(133.36,212.20) scale(1,1.08)" font-size="11" text-anchor="middle">(a)</text>
<text transform="translate(8.70,90.55) rotate(-90)" x="0" y="0" font-size="8.8" text-anchor="middle">mAP@50</text>
<rect x="146.0" y="113.4" width="92.30" height="57.10" fill="#fff" stroke="#b4b4b4" stroke-width="0.6"/>
<line x1="146.5" y1="117.70" x2="159.9" y2="117.70" stroke="#70c2c8" stroke-width="1.6"/>
<text class="lg" transform="translate(161.3,119.58) scale(1,1.09)" font-size="5.7" style="stroke-width:0.1px">Yolov8s  0.831</text>
<line x1="146.5" y1="124.63" x2="159.9" y2="124.63" stroke="#b09ace" stroke-width="1.6"/>
<text class="lg" transform="translate(161.3,126.51) scale(1,1.09)" font-size="5.7" style="stroke-width:0.1px">Yolov8s+CA  0.85</text>
<line x1="146.5" y1="131.56" x2="159.9" y2="131.56" stroke="#eec4d0" stroke-width="1.6"/>
<text class="lg" transform="translate(161.3,133.44) scale(1,1.09)" font-size="5.7" style="stroke-width:0.1px">Yolov8s+Head  0.855</text>
<line x1="146.5" y1="138.49" x2="159.9" y2="138.49" stroke="#92b48e" stroke-width="1.6"/>
<text class="lg" transform="translate(161.3,140.37) scale(1,1.09)" font-size="5.7" style="stroke-width:0.1px">Yolov8s+BoT3  0.857</text>
<line x1="146.5" y1="145.42" x2="159.9" y2="145.42" stroke="#a2d496" stroke-width="1.6"/>
<text class="lg" transform="translate(161.3,147.30) scale(1,1.09)" font-size="5.7" style="stroke-width:0.1px">Yolov8s+CA+Head  0.868</text>
<line x1="146.5" y1="152.35" x2="159.9" y2="152.35" stroke="#f7bc98" stroke-width="1.6"/>
<text class="lg" transform="translate(161.3,154.23) scale(1,1.09)" font-size="5.7" style="stroke-width:0.1px">Yolov8s+BoT3+Head  0.866</text>
<line x1="146.5" y1="159.28" x2="159.9" y2="159.28" stroke="#82c4e6" stroke-width="1.6"/>
<text class="lg" transform="translate(161.3,161.16) scale(1,1.09)" font-size="5.7" style="stroke-width:0.1px">Yolov8s+BoT3+CA  0.872</text>
<line x1="146.5" y1="166.21" x2="159.9" y2="166.21" stroke="#e98f9c" stroke-width="1.6"/>
<text class="lg" transform="translate(161.3,168.09) scale(1,1.09)" font-size="5.7" style="stroke-width:0.1px">Yolov8s+BoT3+CA+Head  0.879</text>
<g fill="none" stroke-width="0.6" stroke-linejoin="round">
<polyline stroke="#70c2c8" points="335.9,174.3 336.1,173.8 336.4,173.5 336.6,172.5 336.9,170.9 337.1,169.1 337.4,165.3 337.6,166 337.9,166.4 338.1,158.5 338.4,154.5 338.6,156.7 338.9,149.6 339.1,148 339.4,147.9 339.6,145.4 339.9,144.1 340.1,143 340.4,141.2 340.6,142.8 340.9,142.2 341.1,137.3 341.4,143.2 341.6,141.2 341.8,140.9 342.1,138.4 342.3,137.3 342.6,141.3 342.8,136.3 343.1,140.2 343.3,133.1 343.6,138.6 343.8,135.1 344.1,137.2 344.3,135.2 344.6,137.4 344.8,135.5 345.1,135.4 345.3,134.9 345.6,133.4 345.8,135.2 346.1,134.7 346.3,136 346.6,133.7 346.8,134 347.1,131.4 347.3,131.5 347.6,133.4 347.8,131.2 348,129.5 348.3,131.7 348.5,133 348.8,126.8 349,129.6 349.3,129.1 349.5,125.9 349.8,130.9 350,128.9 350.3,132 350.5,128 350.8,127.9 351,129.4 351.3,129.2 351.5,127.9 351.8,127.7 352,124.7 352.3,127.2 352.5,126.8 352.8,126.6 353,128.4 353.3,126.5 353.5,127.5 353.7,125 354,128.2 354.2,126.3 354.5,124.1 354.7,127.2 355,126.2 355.2,122.2 355.5,125.3 355.7,123.2 356,122.4 356.2,124 356.5,124.6 356.7,119.8 357,122.4 357.2,120.6 357.5,122.1 357.7,120.2 358,122.3 358.2,122 358.5,121.3 358.7,120.4 359,120.2 359.2,119.5 359.5,118.2 359.7,119.2 359.9,117 360.2,118.8 360.4,116.8 360.7,115.7 360.9,114.8 361.2,119.4 361.4,114.3 361.7,118.6 361.9,114.2 362.2,115.8 362.4,115 362.7,116.4 362.9,113.8 363.2,113.8 363.4,115.1 363.7,114.9 363.9,112.8 364.2,112.4 364.4,112.4 364.7,113.6 364.9,112.9 365.2,111.5 365.4,111.3 365.6,110.7 365.9,111.7 366.1,112.4 366.4,111 366.6,110.5 366.9,111.4 367.1,110 367.4,111.3 367.6,109.7 367.9,110.5 368.1,107 368.4,107.9 368.6,108.7 368.9,110.2 369.1,109.9 369.4,107.4 369.6,108.1 369.9,107.3 370.1,109.2 370.4,108.8 370.6,106.8 370.9,106.9 371.1,107.9 371.3,107 371.6,105 371.8,106.1 372.1,104.7 372.3,103.3 372.6,104.5 372.8,104.5 373.1,105 373.3,102.8 373.6,105.4 373.8,104.8 374.1,103.4 374.3,104.7 374.6,101.9 374.8,103.4 375.1,101.9 375.3,102.6 375.6,102.3 375.8,101.8 376.1,103.6 376.3,102.5 376.6,101.6 376.8,98.7 377.1,99.9 377.3,99.8 377.5,101.3 377.8,99.2 378,98.6 378.3,98.9 378.5,96.9 378.8,100.6 379,100.1 379.3,99.1 379.5,99.6 379.8,98.5 380,97.8 380.3,98.1 380.5,97.9 380.8,97.4 381,96.9 381.3,98 381.5,97.9 381.8,95.9 382,97.2 382.3,97.5 382.5,96.3 382.8,96.7 383,96.1 383.2,96.1 383.5,95.3 383.7,94.9 384,96.3 384.2,96.5 384.5,93.8 384.7,95.7 385,96.3 385.2,96.5 385.5,94.6 385.7,95 386,95.9 386.2,95 386.5,94.9 386.7,93 387,93.5 387.2,93.6 387.5,94.5 387.7,93.4 388,92.6 388.2,92.9 388.5,92 388.7,92.7 389,92 389.2,92.1 389.4,92.8 389.7,91.1 389.9,91.8 390.2,91.2 390.4,92.7 390.7,92.6 390.9,91.7 391.2,92.1 391.4,90.8 391.7,90.8 391.9,90.1 392.2,90.5 392.4,91.7 392.7,89.9 392.9,91.1 393.2,91 393.4,90.3 393.7,90.2 393.9,89.3 394.2,87.7 394.4,89.5 394.7,88.6 394.9,89.8 395.1,89.2 395.4,89.8 395.6,89.6 395.9,88.1 396.1,88.7 396.4,88.6 396.6,89.4 396.9,87.4 397.1,88.7 397.4,88.9 397.6,88.3 397.9,87.7 398.1,87.5 398.4,86.9 398.6,88.6 398.9,88.1 399.1,86.5 399.4,85.8 399.6,87.9 399.9,87.3 400.1,88.3 400.4,87.6 400.6,87.6 400.8,86.9 401.1,87.6 401.3,85.9 401.6,86.5 401.8,86.5 402.1,85.6 402.3,86.3 402.6,86.9 402.8,85.9 403.1,84.2 403.3,85.6 403.6,85.2 403.8,85.6 404.1,85.5 404.3,84.9 404.6,87 404.8,85.9 405.1,85.3 405.3,85 405.6,83.7 405.8,82.9 406.1,84 406.3,84.1 406.6,83.8 406.8,83.2 407,84.8 407.3,84.3 407.5,83.8 407.8,83.6 408,85 408.3,83.3 408.5,84.6 408.8,82.9 409,82.8 409.3,84.8 409.5,82.9 409.8,83 410,83.5 410.3,82.4 410.5,81.6 410.8,82.5 411,83.5 411.3,83.6 411.5,83.4 411.8,83.2 412,81.8 412.3,82.3 412.5,82.4 412.7,81.8 413,82.2 413.2,82.2 413.5,82.7 413.7,82.5 414,82 414.2,82.7 414.5,80.9 414.7,81.8 415,82.1 415.2,81.1 415.5,82.3 415.7,81 416,81.5 416.2,80.4 416.5,81.8 416.7,81.7 417,81.9 417.2,82.1 417.5,81.1 417.7,81.8 418,81 418.2,81.5 418.5,80.4 418.7,82.5 418.9,80.7 419.2,80.9 419.4,80.8 419.7,81.2 419.9,79.7 420.2,80.9 420.4,80.4 420.7,80.7 420.9,80.7 421.2,80.4 421.4,80 421.7,81 421.9,80.6 422.2,81.1 422.4,80 422.7,80.7 422.9,80.5 423.2,79.7 423.4,80 423.7,79.7 423.9,80 424.2,79.6 424.4,79.8 424.6,80.4 424.9,79.6 425.1,79.8 425.4,79.7 425.6,79.4 425.9,79.8 426.1,80 426.4,78.7 426.6,78.3 426.9,79.4 427.1,78.6 427.4,78.9 427.6,79.4 427.9,79.5 428.1,79.1 428.4,79.1 428.6,79 428.9,78.9 429.1,79.3 429.4,78.2 429.6,79.2 429.9,79.1 430.1,78 430.3,78 430.6,77.6 430.8,78.2 431.1,78.6 431.3,77.6 431.6,78.2 431.8,78.1 432.1,78.4 432.3,77.7 432.6,79.1 432.8,77.5 433.1,78.8 433.3,77.2 433.6,78.4 433.8,77.2 434.1,76.2 434.3,77.6 434.6,78 434.8,76.3 435.1,77.5 435.3,77.8 435.6,76.5 435.8,78.6 436.1,77.8 436.3,77.7 436.5,77.3 436.8,78 437,76.5 437.3,76.3 437.5,76.8 437.8,77 438,77.5 438.3,76.5 438.5,77 438.8,76.3 439,76.1 439.3,76.5 439.5,77.6 439.8,77 440,75.8 440.3,76.3 440.5,75.7 440.8,77.5 441,76.4 441.3,76.5 441.5,77.2 441.8,76.7 442,75.9 442.2,76.1 442.5,76.6 442.7,76.1 443,75.7 443.2,76.8 443.5,76.1 443.7,75.8 444,76.6 444.2,75.7 444.5,76.3 444.7,75.8 445,75.8 445.2,76.2 445.5,76.4 445.7,76.6 446,76.2 446.2,76.2 446.5,75.6 446.7,76.4 447,76.2 447.2,75.5 447.5,76.2 447.7,76.1 448,75.6 448.2,76.3 448.4,76.2 448.7,76 448.9,76.4 449.2,76.9 449.4,77 449.7,76.5 449.9,75.8 450.2,75.9 450.4,75.6 450.7,75.9 450.9,76.7 451.2,77 451.4,76.6 451.7,76.5 451.9,76.7 452.2,75.9 452.4,76.7 452.7,76.1 452.9,76 453.2,77.1 453.4,76.5 453.7,75.7 453.9,75.9 454.1,76.2 454.4,76.7 454.6,76.5 454.9,76.2 455.1,75.6 455.4,75.9 455.6,76.2 455.9,76 456.1,75.8 456.4,76.9 456.6,76.5 456.9,76 457.1,75.5 457.4,75.5 457.6,76.3 457.9,76 458.1,76.3 458.4,76.1 458.6,75.8 458.9,76 459.1,76.1 459.4,76.3 459.6,76.5 459.8,75.9 460.1,75.7 460.3,75.5 460.6,76.1 460.8,76 461.1,75.1 461.3,75.4 461.6,75.2 461.8,75.8 462.1,75.8 462.3,76 462.6,75 462.8,75.9 463.1,76.2 463.3,75.7 463.6,74.8 463.8,75.3 464.1,75.2 464.3,75.2 464.6,75.3 464.8,75.3 465.1,75.8 465.3,74.4 465.6,75.2 465.8,74.6 466,75.7 466.3,74.8 466.5,75.5 466.8,75.5 467,74.8 467.3,74.5 467.5,74.3 467.8,74.3 468,75 468.3,74.5 468.5,75 468.8,75 469,74.6 469.3,74.8 469.5,74.3 469.8,75.4 470,74.2 470.3,74.9 470.5,74 470.8,74.1 471,75 471.3,74.6 471.5,74.2 471.7,74.8 472,74.8 472.2,74.6 472.5,74.1 472.7,74.1 473,74.6 473.2,74.1 473.5,73.8 473.7,74 474,74.7 474.2,74.7 474.5,74.2 474.7,74 475,74.2 475.2,74.5 475.5,74.7 475.7,73.8 476,74.3 476.2,73.5 476.5,74.7 476.7,74.4 477,74.5 477.2,73.5 477.5,73.7 477.7,74.4 477.9,75 478.2,73.7 478.4,74.1 478.7,74.6 478.9,74.8 479.2,74 479.4,74.2 479.7,74.1 479.9,74 480.2,74.3 480.4,74.2 480.7,73.8 480.9,74.1 481.2,74.2 481.4,73.8 481.7,74.9 481.9,73.6 482.2,73.9 482.4,74.3 482.7,74.1 482.9,73.5 483.2,73.8 483.4,74.7 483.6,74.4 483.9,73.9 484.1,73.2 484.4,73.6 484.6,74 484.9,73.7 485.1,73.9 485.4,74 485.6,73.7 485.9,74.7 486.1,73.5 486.4,73.7 486.6,74 486.9,74.2 487.1,74.3 487.4,73.7 487.6,73.8 487.9,73.8 488.1,73.2 488.4,74.7 488.6,74.1 488.9,74.1 489.1,73.4 489.4,73.9 489.6,74.2 489.8,73.7 490.1,73.6 490.3,73.2 490.6,73.7 490.8,74 491.1,74 491.3,74.1 491.6,73.6 491.8,73.5 492.1,73.9 492.3,73.9 492.6,73.3 492.8,73.8 493.1,73.6 493.3,74.3 493.6,74.1 493.8,74.7 494.1,74.4 494.3,73.7 494.6,73.4 494.8,74 495.1,74.3 495.3,73.8 495.5,73.4 495.8,73.9 496,73.5 496.3,73.9 496.5,74.4 496.8,74.2 497,74 497.3,73 497.5,73.7 497.8,74 498,73.8 498.3,73.8 498.5,74 498.8,73.9 499,74 499.3,73.6 499.5,73.3 499.8,73.4 500,74 500.3,73.6 500.5,74.1 500.8,74.2 501,73.8 501.2,73.6 501.5,73.8 501.7,73.5 502,73.5 502.2,73.5 502.5,73.8 502.7,74.2 503,73 503.2,73.9 503.5,73.4 503.7,73.5 504,73.8 504.2,73 504.5,73.4 504.7,73.6 505,73.8 505.2,73.9 505.5,74 505.7,73.3 506,73.7 506.2,73.7 506.5,73.3 506.7,73.6 507,73.2 507.2,73.7 507.4,73.6 507.7,73.1 507.9,73.6 508.2,73.2 508.4,73.2 508.7,73.3 508.9,73.9 509.2,73.8 509.4,73.7 509.7,73.8 509.9,73 510.2,73.6 510.4,73.7 510.7,73.4 510.9,73.3 511.2,73.8 511.4,73 511.7,72.9 511.9,73.4 512.2,72.9 512.4,73.7 512.7,73.3 512.9,73.2 513.1,73.1 513.4,72.7 513.6,73.2 513.9,73.4 514.1,73 514.4,73 514.6,72.9 514.9,73.1 515.1,72.9 515.4,73.2 515.6,72.8 515.9,73.2 516.1,73.2 516.4,72.5 516.6,73.2 516.9,72.9 517.1,72.7 517.4,73 517.6,72.5 517.9,73.1 518.1,72.5 518.4,73.4 518.6,73.3 518.9,72.8 519.1,72.3 519.3,72.2 519.6,73 519.8,72.7 520.1,72.9 520.3,73.4 520.6,72.4 520.8,72.8 521.1,72.1 521.3,72.5 521.6,72.8 521.8,72.8 522.1,72.6 522.3,72.4 522.6,72.7 522.8,71.5 523.1,72.4 523.3,72.9 523.6,72.4 523.8,72 524.1,72.3 524.3,72.5 524.6,72.6 524.8,72.7 525,72.8 525.3,72.5 525.5,72.2 525.8,72.5 526,71.7 526.3,72.2 526.5,72.4 526.8,72.3 527,71.7 527.3,72.9 527.5,72.2 527.8,71.3 528,71.9 528.3,72.6 528.5,72.2 528.8,72.3 529,71.3 529.3,72.5 529.5,72.3 529.8,72.4 530,72.7 530.3,73.4 530.5,72.3 530.7,72.1 531,72.4 531.2,72.1 531.5,72 531.7,72 532,72.9 532.2,71.8 532.5,72 532.7,72.1 533,72.3 533.2,72.4 533.5,72.6 533.7,72.2 534,72.1 534.2,72.6 534.5,72.2 534.7,72.6 535,72.3 535.2,72.5 535.5,72.2 535.7,71.9 536,72.5 536.2,72.7 536.5,72.7 536.7,72.4 536.9,72.8 537.2,72.3 537.4,72.6 537.7,72.4 537.9,72.9 538.2,73 538.4,73 538.7,72.6 538.9,73 539.2,72.5 539.4,73.5 539.7,73 539.9,72.9 540.2,73.5 540.4,73.1 540.7,73.4 540.9,72.9 541.2,73 541.4,72.6 541.7,73.2 541.9,73.5 542.2,73.1 542.4,72.9 542.6,72.9 542.9,72.9 543.1,72.5 543.4,73.1 543.6,73.1 543.9,73.3 544.1,73.2 544.4,72.6 544.6,72.9 544.9,73.9 545.1,72.6 545.4,73.7 545.6,73.2 545.9,72.7 546.1,73 546.4,72.8 546.6,72.7"/>
<polyline stroke="#b09ace" points="335.9,174.3 336.1,173.5 336.4,171.6 336.6,172.3 336.9,170.3 337.1,168.8 337.4,166.1 337.6,166.5 337.9,163 338.1,155.8 338.4,154.9 338.6,154.2 338.9,148.3 339.1,147.2 339.4,143.1 339.6,147.9 339.9,143.8 340.1,141.4 340.4,144.8 340.6,143.2 340.9,140.4 341.1,140.6 341.4,140.6 341.6,138.9 341.8,141.5 342.1,140 342.3,134.9 342.6,138.7 342.8,136.3 343.1,136.7 343.3,134.7 343.6,135.3 343.8,134.7 344.1,133 344.3,134.1 344.6,137.1 344.8,135 345.1,131 345.3,131.3 345.6,133.1 345.8,135 346.1,133.2 346.3,128.2 346.6,129.3 346.8,128.9 347.1,133.2 347.3,132.4 347.6,130.8 347.8,131.7 348,129 348.3,130.6 348.5,127.8 348.8,128.6 349,128.8 349.3,126.6 349.5,126.6 349.8,126.8 350,127.2 350.3,126.4 350.5,129 350.8,128.7 351,126.5 351.3,124.9 351.5,122.2 351.8,123.9 352,125.7 352.3,124.7 352.5,125.5 352.8,123.4 353,123.2 353.3,122.8 353.5,122.1 353.7,120.7 354,120.9 354.2,123.3 354.5,120.2 354.7,122.5 355,120.3 355.2,120.4 355.5,117.9 355.7,120.1 356,119.8 356.2,119.8 356.5,118 356.7,118.4 357,118.9 357.2,117.2 357.5,115.2 357.7,115.5 358,115.4 358.2,117.9 358.5,117 358.7,116.4 359,118.6 359.2,113.8 359.5,117.7 359.7,115 359.9,116.9 360.2,114.9 360.4,113.7 360.7,113.8 360.9,115.3 361.2,114.8 361.4,112.5 361.7,113.5 361.9,113.1 362.2,111.8 362.4,115.8 362.7,112.1 362.9,110.6 363.2,109.7 363.4,110.8 363.7,112.3 363.9,110 364.2,108.7 364.4,111.5 364.7,111.3 364.9,110.4 365.2,110.4 365.4,112.1 365.6,112.3 365.9,110.8 366.1,109.7 366.4,108.2 366.6,109.1 366.9,108 367.1,106.4 367.4,104.3 367.6,106.5 367.9,108.4 368.1,105.9 368.4,106.8 368.6,106.2 368.9,105.2 369.1,105.2 369.4,107.3 369.6,106.9 369.9,105.1 370.1,104.4 370.4,102.6 370.6,104 370.9,104.9 371.1,104.8 371.3,104.8 371.6,105.2 371.8,105 372.1,103.9 372.3,103 372.6,103.7 372.8,102.7 373.1,102.7 373.3,102.5 373.6,102.5 373.8,101.5 374.1,101.6 374.3,104.1 374.6,100.9 374.8,100.8 375.1,101.3 375.3,100.3 375.6,101 375.8,100 376.1,100.8 376.3,99 376.6,99.1 376.8,100.7 377.1,99.8 377.3,98.2 377.5,98.3 377.8,98.4 378,99.4 378.3,98.8 378.5,97.8 378.8,97.4 379,97.5 379.3,98.1 379.5,97.4 379.8,97.4 380,97.9 380.3,97.6 380.5,97.2 380.8,97.6 381,95.6 381.3,95.1 381.5,94.9 381.8,96.2 382,96 382.3,94.9 382.5,95.4 382.8,95.1 383,94.9 383.2,95.9 383.5,93.1 383.7,95.4 384,95.3 384.2,93 384.5,94.6 384.7,92.5 385,93 385.2,92.8 385.5,93.3 385.7,94 386,93.6 386.2,92.4 386.5,92.4 386.7,93.2 387,93 387.2,92.6 387.5,91.7 387.7,91.2 388,90.6 388.2,91.5 388.5,89.9 388.7,90.3 389,89.6 389.2,91.4 389.4,90 389.7,89.5 389.9,91.7 390.2,89.4 390.4,89.6 390.7,89.1 390.9,89.6 391.2,88.7 391.4,89.8 391.7,89.7 391.9,88.6 392.2,88.5 392.4,90 392.7,87.9 392.9,87.8 393.2,87.8 393.4,89 393.7,87.4 393.9,87.8 394.2,87.4 394.4,88 394.7,88.2 394.9,88.3 395.1,88.1 395.4,86.9 395.6,88 395.9,87.8 396.1,87 396.4,87.3 396.6,88.5 396.9,87.4 397.1,87.1 397.4,85.5 397.6,86.1 397.9,87.2 398.1,87.2 398.4,86.7 398.6,86.1 398.9,86.7 399.1,85.7 399.4,87 399.6,85.6 399.9,84.9 400.1,87.6 400.4,85.6 400.6,85.3 400.8,85.1 401.1,85.2 401.3,85.3 401.6,84.9 401.8,85 402.1,84.9 402.3,83.8 402.6,84.1 402.8,84.1 403.1,85.1 403.3,84.9 403.6,83.7 403.8,85.1 404.1,83.6 404.3,85.1 404.6,82.7 404.8,83.2 405.1,84.3 405.3,84.2 405.6,85.1 405.8,83.7 406.1,82.8 406.3,83.1 406.6,83.6 406.8,82 407,82.9 407.3,82.9 407.5,83.3 407.8,82.7 408,81.3 408.3,82.6 408.5,83.9 408.8,82.6 409,81.5 409.3,81.8 409.5,82.9 409.8,82.2 410,83.3 410.3,81.9 410.5,82.8 410.8,82.5 411,82.5 411.3,82.5 411.5,80.9 411.8,81 412,82 412.3,81.7 412.5,80.7 412.7,81.9 413,81.9 413.2,82.1 413.5,80.5 413.7,81.3 414,81.4 414.2,81.6 414.5,81.8 414.7,80.7 415,81.6 415.2,81.4 415.5,82.1 415.7,81.7 416,81.3 416.2,81.2 416.5,81.8 416.7,81.2 417,80.9 417.2,82.3 417.5,80.4 417.7,80.8 418,81.4 418.2,80.7 418.5,80.3 418.7,80.5 418.9,80.4 419.2,80.4 419.4,80 419.7,81.1 419.9,80.6 420.2,80 420.4,80.2 420.7,80.7 420.9,80.3 421.2,80.5 421.4,80 421.7,80.9 421.9,80.8 422.2,80.7 422.4,79.9 422.7,78.4 422.9,79.2 423.2,79 423.4,79.7 423.7,78.7 423.9,79.4 424.2,79.5 424.4,78.9 424.6,80.1 424.9,80.6 425.1,80 425.4,78.5 425.6,78.8 425.9,79.1 426.1,79.3 426.4,79.2 426.6,78.8 426.9,79.4 427.1,78.5 427.4,79.4 427.6,78.1 427.9,78.9 428.1,79.2 428.4,78.8 428.6,79.1 428.9,78.6 429.1,79.4 429.4,78.7 429.6,78.3 429.9,78.1 430.1,78.4 430.3,77.6 430.6,79 430.8,78.2 431.1,78.3 431.3,78 431.6,78 431.8,77.1 432.1,77.8 432.3,78.2 432.6,76.4 432.8,77.6 433.1,77.6 433.3,77 433.6,77.7 433.8,77.5 434.1,76.9 434.3,77.9 434.6,77.4 434.8,76.7 435.1,76.2 435.3,77.1 435.6,77.1 435.8,76.4 436.1,77.7 436.3,77.2 436.5,77.2 436.8,77.8 437,78.2 437.3,76.9 437.5,76.2 437.8,76.3 438,76 438.3,77.9 438.5,76.6 438.8,75.8 439,76.9 439.3,77 439.5,76.2 439.8,76.3 440,76 440.3,76.3 440.5,75.7 440.8,75.9 441,76.1 441.3,76.4 441.5,75.8 441.8,76.5 442,75.6 442.2,75.5 442.5,75.6 442.7,76.6 443,75.8 443.2,75.8 443.5,75.6 443.7,76.7 444,76.2 444.2,75.9 444.5,75.2 444.7,76.1 445,75.4 445.2,75.7 445.5,74.9 445.7,75.6 446,76.5 446.2,75.8 446.5,75.6 446.7,75.1 447,75.3 447.2,75.7 447.5,76.2 447.7,75.5 448,75.6 448.2,74.9 448.4,75.1 448.7,76.1 448.9,76.5 449.2,75.6 449.4,75.2 449.7,75.8 449.9,75.5 450.2,74.7 450.4,74.9 450.7,76 450.9,75 451.2,75.1 451.4,75.2 451.7,74.8 451.9,74.8 452.2,73.9 452.4,74.9 452.7,75.3 452.9,75.1 453.2,74.5 453.4,74 453.7,74.5 453.9,74.5 454.1,74.6 454.4,74.9 454.6,74.6 454.9,75.1 455.1,74.2 455.4,74.3 455.6,74.4 455.9,74.8 456.1,74.5 456.4,74.6 456.6,74.2 456.9,74.5 457.1,74.1 457.4,73.8 457.6,73.7 457.9,74.6 458.1,74.3 458.4,74.6 458.6,73.6 458.9,74.4 459.1,73.4 459.4,74.2 459.6,73.5 459.8,74.2 460.1,74 460.3,73.8 460.6,73.8 460.8,73.9 461.1,73.5 461.3,73.3 461.6,73.4 461.8,74 462.1,74.5 462.3,73.7 462.6,74.9 462.8,73.4 463.1,73.4 463.3,74.2 463.6,73.4 463.8,73.9 464.1,73.1 464.3,73.9 464.6,73.9 464.8,73.9 465.1,73.5 465.3,74 465.6,72.6 465.8,73.7 466,72.8 466.3,73.7 466.5,73.7 466.8,73.8 467,73.9 467.3,73.4 467.5,73 467.8,73.5 468,73.9 468.3,73.4 468.5,73.9 468.8,74.6 469,73.5 469.3,74.3 469.5,73.8 469.8,73.5 470,73.7 470.3,73.7 470.5,72.9 470.8,73.2 471,72.9 471.3,73.5 471.5,73.5 471.7,72.8 472,73.8 472.2,73.4 472.5,73.5 472.7,73.4 473,73.3 473.2,73.5 473.5,73.2 473.7,73.9 474,73.3 474.2,73.9 474.5,73.1 474.7,73.1 475,73.6 475.2,73.7 475.5,73.5 475.7,73.2 476,74.1 476.2,73.8 476.5,73 476.7,73.5 477,73.9 477.2,74.3 477.5,73.5 477.7,74 477.9,73.3 478.2,73.3 478.4,72.6 478.7,73.8 478.9,73 479.2,73.7 479.4,73.6 479.7,73.3 479.9,73.5 480.2,72.4 480.4,73.2 480.7,73.4 480.9,72.2 481.2,73.4 481.4,73.2 481.7,73.1 481.9,73.3 482.2,72.7 482.4,72.5 482.7,73.4 482.9,73.1 483.2,73 483.4,73.4 483.6,73.4 483.9,73 484.1,73.2 484.4,72.7 484.6,72.5 484.9,72.7 485.1,72.6 485.4,73.1 485.6,72.9 485.9,72.5 486.1,72.5 486.4,72.7 486.6,72.4 486.9,72.7 487.1,73.1 487.4,72.5 487.6,72.7 487.9,73.2 488.1,72.2 488.4,72.4 488.6,72.3 488.9,72.7 489.1,72 489.4,72.3 489.6,72.1 489.8,72.7 490.1,72.6 490.3,72 490.6,72.5 490.8,72.4 491.1,71.9 491.3,72 491.6,72.3 491.8,71.7 492.1,73 492.3,72.4 492.6,72.6 492.8,71.9 493.1,71.8 493.3,72.6 493.6,72.3 493.8,72 494.1,72.2 494.3,72.3 494.6,72 494.8,71.6 495.1,72.3 495.3,72.8 495.5,72.4 495.8,72.4 496,72.5 496.3,72.1 496.5,72.1 496.8,72 497,72.2 497.3,72.2 497.5,72.7 497.8,72.5 498,72.6 498.3,72.2 498.5,72.4 498.8,72.3 499,72.1 499.3,72.4 499.5,71.9 499.8,71.9 500,72.6 500.3,71.8 500.5,72.4 500.8,72.5 501,72.4 501.2,72.7 501.5,72.1 501.7,71.8 502,72.8 502.2,72.1 502.5,72 502.7,72 503,72 503.2,72 503.5,72.3 503.7,71.8 504,72 504.2,71.8 504.5,72 504.7,72.2 505,72.1 505.2,71.8 505.5,71.7 505.7,72.7 506,72.5 506.2,72.6 506.5,72.2 506.7,72.2 507,71.9 507.2,72 507.4,71.4 507.7,72.1 507.9,72.1 508.2,72.2 508.4,72 508.7,71.8 508.9,72 509.2,72.1 509.4,72.3 509.7,71.7 509.9,71.9 510.2,72.1 510.4,71.8 510.7,71.6 510.9,70.9 511.2,71.1 511.4,71.9 511.7,71.8 511.9,72.3 512.2,72.3 512.4,72.2 512.7,71.2 512.9,71.6 513.1,72 513.4,71.7 513.6,71.6 513.9,71.7 514.1,70.9 514.4,72.1 514.6,71.6 514.9,71.3 515.1,71.2 515.4,72.1 515.6,71.3 515.9,71.8 516.1,71.5 516.4,71.8 516.6,71 516.9,70.2 517.1,70.9 517.4,71.3 517.6,71.8 517.9,70.9 518.1,70.8 518.4,71.6 518.6,70.8 518.9,71.8 519.1,71.6 519.3,71.1 519.6,71.6 519.8,70.9 520.1,70.6 520.3,71.1 520.6,70.9 520.8,70.5 521.1,70.9 521.3,70.6 521.6,70.6 521.8,71.4 522.1,70.3 522.3,70.7 522.6,71 522.8,70.8 523.1,71 523.3,71 523.6,71.4 523.8,71.2 524.1,71.2 524.3,70.7 524.6,70.9 524.8,70.9 525,71.1 525.3,70.7 525.5,71.9 525.8,71.4 526,70.8 526.3,71.3 526.5,70.9 526.8,70.6 527,70.9 527.3,71.6 527.5,71.2 527.8,71.5 528,71 528.3,70.8 528.5,71.2 528.8,71 529,71.2 529.3,70.5 529.5,71.1 529.8,71.1 530,71 530.3,70.8 530.5,70.9 530.7,71.2 531,71.2 531.2,71 531.5,71 531.7,71.3 532,71.4 532.2,71.3 532.5,71 532.7,71.3 533,71.5 533.2,71.3 533.5,71.3 533.7,70.9 534,71.3 534.2,71.3 534.5,70.5 534.7,70.9 535,71.4 535.2,70.7 535.5,71.2 535.7,71.3 536,70.8 536.2,71.5 536.5,71 536.7,70.8 536.9,70.7 537.2,71.1 537.4,71.1 537.7,70.9 537.9,70.5 538.2,71.5 538.4,70.5 538.7,70.7 538.9,70.3 539.2,71.1 539.4,70.3 539.7,71 539.9,70.6 540.2,70.8 540.4,71.5 540.7,70.6 540.9,70.5 541.2,70.3 541.4,70.8 541.7,70.9 541.9,70.3 542.2,70.6 542.4,70.1 542.6,70 542.9,70.5 543.1,70.5 543.4,70.6 543.6,71.1 543.9,70.4 544.1,70.1 544.4,70 544.6,70.3 544.9,69.7 545.1,70.5 545.4,70.3 545.6,70.5 545.9,70.4 546.1,70.4 546.4,70.5 546.6,70.4"/>
<polyline stroke="#eec4d0" points="335.9,174.3 336.1,173.4 336.4,172.9 336.6,172.1 336.9,170.1 337.1,168.1 337.4,168.7 337.6,167.4 337.9,160.5 338.1,160.7 338.4,155.7 338.6,153.8 338.9,149.1 339.1,144.6 339.4,142.8 339.6,147.2 339.9,146.6 340.1,149.3 340.4,141.4 340.6,139 340.9,140.8 341.1,141.2 341.4,138.6 341.6,141.2 341.8,137.9 342.1,136.2 342.3,136 342.6,136.5 342.8,138.2 343.1,137.5 343.3,138.1 343.6,132.9 343.8,133.6 344.1,135.4 344.3,135 344.6,134.1 344.8,135.2 345.1,132.8 345.3,132.5 345.6,132.2 345.8,132.5 346.1,136.3 346.3,132.2 346.6,133.8 346.8,133.9 347.1,127.1 347.3,131.2 347.6,130.4 347.8,130.2 348,130.7 348.3,126.5 348.5,131.6 348.8,127.6 349,128.9 349.3,125.7 349.5,126 349.8,126.9 350,129 350.3,125.1 350.5,124.5 350.8,124.7 351,125.8 351.3,124.1 351.5,125.8 351.8,124 352,123.5 352.3,124 352.5,124.8 352.8,123.4 353,124 353.3,124.1 353.5,120.5 353.7,121.9 354,122.1 354.2,121.8 354.5,120.1 354.7,120.9 355,121.1 355.2,119.4 355.5,119.2 355.7,120.4 356,120.3 356.2,116.7 356.5,118.6 356.7,116.2 357,116.7 357.2,117.4 357.5,117.3 357.7,114.4 358,117.2 358.2,116.6 358.5,116.8 358.7,115.6 359,116.4 359.2,114.7 359.5,116.2 359.7,113.6 359.9,113.5 360.2,113.4 360.4,114.2 360.7,111.5 360.9,110.3 361.2,112.7 361.4,113.2 361.7,111.2 361.9,112 362.2,111.3 362.4,110.4 362.7,112.6 362.9,109.7 363.2,111.7 363.4,111.6 363.7,110.3 363.9,107.8 364.2,110.1 364.4,108.5 364.7,109.9 364.9,107.8 365.2,107.9 365.4,106.7 365.6,107.6 365.9,107.5 366.1,109.5 366.4,106.7 366.6,105.9 366.9,106.3 367.1,106.1 367.4,105.4 367.6,104.8 367.9,106.6 368.1,105.5 368.4,104.6 368.6,104.6 368.9,105.8 369.1,106.7 369.4,103.9 369.6,103.2 369.9,101.9 370.1,103.1 370.4,104.3 370.6,102.6 370.9,103 371.1,103.4 371.3,104 371.6,104.2 371.8,102.8 372.1,102.3 372.3,101.5 372.6,101.4 372.8,101 373.1,99 373.3,100.9 373.6,99.2 373.8,101.2 374.1,101 374.3,100.6 374.6,101.7 374.8,97.9 375.1,99.2 375.3,98.5 375.6,97.3 375.8,98.5 376.1,97.1 376.3,100.9 376.6,97.1 376.8,97.9 377.1,98.6 377.3,96.8 377.5,97.7 377.8,98.2 378,99.3 378.3,95.5 378.5,99.6 378.8,96.8 379,95.2 379.3,95.9 379.5,97 379.8,96.5 380,96.6 380.3,95.7 380.5,95.8 380.8,96.8 381,96.8 381.3,94.2 381.5,96.3 381.8,96 382,92.7 382.3,95.5 382.5,95.7 382.8,95.3 383,93.5 383.2,94.8 383.5,94.1 383.7,95.9 384,94.2 384.2,93.5 384.5,93.3 384.7,91.9 385,92.6 385.2,95.5 385.5,94.2 385.7,93.4 386,92.8 386.2,92.3 386.5,91.7 386.7,93.6 387,93.9 387.2,91.1 387.5,92.5 387.7,93.6 388,92.2 388.2,91.6 388.5,92.2 388.7,92 389,90 389.2,91.6 389.4,90.3 389.7,90.3 389.9,90.6 390.2,88.2 390.4,91.2 390.7,87.8 390.9,90.6 391.2,89.8 391.4,89.2 391.7,88.4 391.9,88.6 392.2,89.4 392.4,89.2 392.7,87.8 392.9,87.4 393.2,88.9 393.4,87.4 393.7,87.8 393.9,87.9 394.2,88.8 394.4,88.8 394.7,87.3 394.9,89.7 395.1,87.8 395.4,86.9 395.6,88.4 395.9,85.7 396.1,85.5 396.4,87.5 396.6,86.6 396.9,86.5 397.1,86.6 397.4,86.5 397.6,85.6 397.9,84.5 398.1,85.6 398.4,85.4 398.6,85.3 398.9,85.7 399.1,84.6 399.4,85.3 399.6,85.5 399.9,84.2 400.1,85.9 400.4,84.8 400.6,84.5 400.8,84.2 401.1,85.1 401.3,84.5 401.6,83.8 401.8,83.1 402.1,83.5 402.3,83.4 402.6,83.8 402.8,83 403.1,84.9 403.3,82.3 403.6,82 403.8,82.5 404.1,83.1 404.3,81.3 404.6,82.6 404.8,81.1 405.1,82.1 405.3,82.3 405.6,81.9 405.8,82.1 406.1,81.6 406.3,81.1 406.6,81.5 406.8,81.5 407,81.1 407.3,80.7 407.5,80.9 407.8,80.5 408,80.3 408.3,80.5 408.5,80.1 408.8,80.5 409,79.7 409.3,80.1 409.5,79.7 409.8,80.3 410,81 410.3,80.3 410.5,80 410.8,79.7 411,79.9 411.3,78.8 411.5,80.6 411.8,80.8 412,79.7 412.3,80 412.5,79.5 412.7,79 413,77.7 413.2,80.2 413.5,79.9 413.7,79.3 414,80.1 414.2,79.6 414.5,78.3 414.7,79.1 415,79 415.2,78.3 415.5,80 415.7,78.8 416,78.9 416.2,78.6 416.5,79.3 416.7,79 417,78.7 417.2,78.2 417.5,79 417.7,78.2 418,79.8 418.2,78.2 418.5,78 418.7,78.9 418.9,78.5 419.2,78.3 419.4,78.1 419.7,77.5 419.9,78 420.2,78.2 420.4,78.2 420.7,77.9 420.9,77.5 421.2,77.8 421.4,78.2 421.7,78 421.9,78.3 422.2,78.3 422.4,78 422.7,78 422.9,77.2 423.2,78.2 423.4,77.5 423.7,78.1 423.9,77 424.2,77.2 424.4,76.6 424.6,77 424.9,77.8 425.1,77.1 425.4,77.4 425.6,77.3 425.9,77.5 426.1,77.1 426.4,76.8 426.6,76.7 426.9,75.4 427.1,76.8 427.4,76.6 427.6,76.7 427.9,76.7 428.1,76.7 428.4,76.4 428.6,76.5 428.9,76 429.1,76.1 429.4,76.7 429.6,76.2 429.9,76 430.1,76.2 430.3,76.2 430.6,76.1 430.8,75.6 431.1,75.8 431.3,76.1 431.6,75.8 431.8,75.1 432.1,76.2 432.3,75.4 432.6,75.8 432.8,73.7 433.1,75.3 433.3,75.5 433.6,75.6 433.8,76.2 434.1,75.7 434.3,74.4 434.6,75.2 434.8,75.5 435.1,75.3 435.3,75.2 435.6,75.7 435.8,75.1 436.1,74.9 436.3,75.9 436.5,75.2 436.8,76.4 437,75.9 437.3,74.6 437.5,74.4 437.8,74.1 438,75.6 438.3,75 438.5,75.1 438.8,74.4 439,74.7 439.3,74.8 439.5,74.5 439.8,75 440,74.3 440.3,74.9 440.5,74.2 440.8,74.6 441,74.6 441.3,75.2 441.5,75.4 441.8,75.3 442,74.4 442.2,75.6 442.5,73.9 442.7,74.7 443,75.1 443.2,74.3 443.5,75 443.7,74.4 444,74.5 444.2,73.8 444.5,74 444.7,73.9 445,74.5 445.2,73.7 445.5,74.3 445.7,74.2 446,74 446.2,74.1 446.5,74.8 446.7,73.9 447,74.9 447.2,73.9 447.5,74.1 447.7,74 448,74.5 448.2,73.5 448.4,74 448.7,73.6 448.9,74.2 449.2,74.2 449.4,73.8 449.7,73.4 449.9,74.4 450.2,74 450.4,73.9 450.7,73.8 450.9,73.9 451.2,73.1 451.4,73.3 451.7,73.5 451.9,73.1 452.2,73 452.4,73.7 452.7,73.7 452.9,73.1 453.2,72.4 453.4,74.3 453.7,73.5 453.9,72.9 454.1,73.5 454.4,72.8 454.6,73 454.9,73.6 455.1,73.2 455.4,72.8 455.6,73.3 455.9,72.7 456.1,72.8 456.4,73 456.6,72.7 456.9,72.9 457.1,72.7 457.4,73.1 457.6,72.1 457.9,72.8 458.1,72.1 458.4,71.7 458.6,71.9 458.9,72.5 459.1,72.4 459.4,72.5 459.6,72.3 459.8,72.7 460.1,73.1 460.3,72.2 460.6,72.3 460.8,71.6 461.1,71.5 461.3,72.8 461.6,72.6 461.8,71.8 462.1,71.6 462.3,72 462.6,72 462.8,72.8 463.1,71.1 463.3,72.3 463.6,71.7 463.8,71.8 464.1,72.3 464.3,71.5 464.6,71.2 464.8,71.8 465.1,71.7 465.3,71.5 465.6,71.3 465.8,71.3 466,72 466.3,72 466.5,71.8 466.8,72.7 467,72.1 467.3,71.6 467.5,71.8 467.8,71.8 468,71.1 468.3,71.3 468.5,71.1 468.8,71.5 469,71.6 469.3,71.7 469.5,71.2 469.8,72 470,71.6 470.3,71 470.5,70.9 470.8,71.3 471,71.7 471.3,71 471.5,71.5 471.7,71.2 472,71.5 472.2,70.4 472.5,70.5 472.7,71.4 473,71.6 473.2,71.1 473.5,70.8 473.7,70.6 474,71.1 474.2,71.5 474.5,70.9 474.7,70.9 475,71.6 475.2,71.1 475.5,71.1 475.7,71.4 476,70.9 476.2,70.5 476.5,70.6 476.7,71.3 477,71.2 477.2,70.7 477.5,71.1 477.7,71.1 477.9,70.1 478.2,71.9 478.4,71.2 478.7,71.2 478.9,70.9 479.2,70.2 479.4,71 479.7,71 479.9,70.8 480.2,71 480.4,70.7 480.7,69.9 480.9,71.1 481.2,71 481.4,70.9 481.7,71.7 481.9,70.6 482.2,70.9 482.4,71.6 482.7,71 482.9,70.8 483.2,71.2 483.4,70.4 483.6,71.1 483.9,71.4 484.1,70.5 484.4,70.9 484.6,70.8 484.9,71.4 485.1,71.3 485.4,71.2 485.6,70.9 485.9,70.9 486.1,70.3 486.4,70.2 486.6,70.7 486.9,70.8 487.1,70.1 487.4,70.8 487.6,70.4 487.9,70.9 488.1,70.8 488.4,70.9 488.6,71 488.9,70.6 489.1,71 489.4,70.8 489.6,70.6 489.8,69.9 490.1,71.4 490.3,70.7 490.6,70.4 490.8,70.8 491.1,70.3 491.3,70.5 491.6,70.5 491.8,70.8 492.1,70.7 492.3,70.7 492.6,71 492.8,70.5 493.1,71 493.3,70.9 493.6,71.1 493.8,70.1 494.1,70.7 494.3,70.8 494.6,70.2 494.8,70.6 495.1,70.4 495.3,70.5 495.5,70.3 495.8,70.4 496,71.2 496.3,69.9 496.5,70 496.8,70.9 497,70 497.3,70.4 497.5,70.3 497.8,69.8 498,69.9 498.3,69.9 498.5,69.5 498.8,69.8 499,70.4 499.3,70.7 499.5,69.9 499.8,70.8 500,70.3 500.3,70.3 500.5,70.4 500.8,69.6 501,69.9 501.2,70.1 501.5,69.7 501.7,70.1 502,69.5 502.2,69.2 502.5,70 502.7,70 503,69.5 503.2,70.6 503.5,70.3 503.7,70.2 504,70.4 504.2,69.8 504.5,69.6 504.7,69.7 505,69.7 505.2,69.3 505.5,69.3 505.7,69.2 506,69.6 506.2,69.6 506.5,69 506.7,69.4 507,69 507.2,69.6 507.4,69.5 507.7,69.6 507.9,69.4 508.2,69.2 508.4,69.5 508.7,68.6 508.9,69.8 509.2,69 509.4,69.6 509.7,69.1 509.9,69.5 510.2,69.2 510.4,69.1 510.7,69.4 510.9,69.5 511.2,69.3 511.4,69.1 511.7,68.8 511.9,68.5 512.2,69.6 512.4,68.8 512.7,69.1 512.9,69 513.1,68.8 513.4,68.7 513.6,68.8 513.9,68.9 514.1,68.3 514.4,68.8 514.6,68.9 514.9,68.5 515.1,69.3 515.4,69.2 515.6,68.3 515.9,68.9 516.1,69.4 516.4,68.5 516.6,68.4 516.9,69.1 517.1,69.3 517.4,68.8 517.6,68.7 517.9,69 518.1,69.1 518.4,68.6 518.6,68.6 518.9,69.4 519.1,69.2 519.3,68.9 519.6,69.1 519.8,68.8 520.1,68.7 520.3,68.2 520.6,68.7 520.8,68.6 521.1,69.4 521.3,69.1 521.6,68.5 521.8,69.4 522.1,68.5 522.3,68.8 522.6,68.9 522.8,69 523.1,69.4 523.3,69.4 523.6,69.2 523.8,69.2 524.1,68.6 524.3,69.4 524.6,69.3 524.8,69.7 525,69 525.3,69.1 525.5,68.8 525.8,68.5 526,69 526.3,69.5 526.5,69.1 526.8,69.1 527,69.2 527.3,69.6 527.5,69.1 527.8,69.6 528,69.3 528.3,69.3 528.5,70.1 528.8,69 529,68.5 529.3,69.4 529.5,69.5 529.8,68.9 530,69.7 530.3,69.2 530.5,69.2 530.7,69.4 531,69.3 531.2,69.5 531.5,69.4 531.7,69 532,69.5 532.2,69.4 532.5,69.4 532.7,69 533,69.3 533.2,69.4 533.5,69 533.7,69.8 534,69.8 534.2,69 534.5,68.5 534.7,69.2 535,68.9 535.2,69.5 535.5,69 535.7,68.9 536,68.8 536.2,69.2 536.5,68.3 536.7,69.3 536.9,68.4 537.2,69.3 537.4,68.6 537.7,68.4 537.9,68.1 538.2,68.9 538.4,69.4 538.7,68.6 538.9,69.1 539.2,69.2 539.4,69 539.7,69.1 539.9,68.5 540.2,68.7 540.4,68.5 540.7,68.5 540.9,68.9 541.2,68.5 541.4,68.3 541.7,68.1 541.9,68.6 542.2,68.8 542.4,69 542.6,68.8 542.9,68.7 543.1,68.6 543.4,69.1 543.6,68.8 543.9,68.7 544.1,68.9 544.4,68.9 544.6,68.5 544.9,69 545.1,68.5 545.4,69 545.6,68.6 545.9,69 546.1,68.2 546.4,68.4 546.6,68.2"/>
<polyline stroke="#92b48e" points="335.9,174.3 336.1,173.8 336.4,173 336.6,172.1 336.9,171.3 337.1,166.7 337.4,166 337.6,166.5 337.9,160.6 338.1,156 338.4,155.4 338.6,152.8 338.9,151.2 339.1,147.6 339.4,146 339.6,142.9 339.9,146.2 340.1,146.6 340.4,143.8 340.6,141.6 340.9,145.4 341.1,141.5 341.4,142 341.6,142.1 341.8,139.3 342.1,136.9 342.3,141 342.6,137.7 342.8,138 343.1,136.1 343.3,136.8 343.6,137.6 343.8,134.6 344.1,135 344.3,137.1 344.6,138.4 344.8,135.8 345.1,133.9 345.3,132.6 345.6,134.5 345.8,133.9 346.1,135.9 346.3,133.3 346.6,132 346.8,132.8 347.1,131.7 347.3,132.8 347.6,132.4 347.8,130.1 348,132.8 348.3,129.9 348.5,127.8 348.8,130.3 349,129.8 349.3,130.1 349.5,130.5 349.8,129.1 350,129.8 350.3,127.9 350.5,128.1 350.8,128.7 351,126.6 351.3,124.9 351.5,124.9 351.8,126.3 352,125.6 352.3,126.8 352.5,125.3 352.8,123.7 353,123.3 353.3,122.1 353.5,126 353.7,121.3 354,122.7 354.2,120.8 354.5,122.7 354.7,120.7 355,122.2 355.2,123.4 355.5,121.1 355.7,122 356,121.1 356.2,120 356.5,119.3 356.7,119.2 357,121 357.2,121.6 357.5,117.6 357.7,120 358,118.5 358.2,118.9 358.5,119.6 358.7,116.5 359,118.8 359.2,117.9 359.5,114.9 359.7,119.5 359.9,118.5 360.2,114.7 360.4,116.2 360.7,114.4 360.9,115.2 361.2,115.5 361.4,119.3 361.7,115.2 361.9,114.7 362.2,113.5 362.4,114.9 362.7,115 362.9,115 363.2,111.5 363.4,110 363.7,110.7 363.9,112.7 364.2,112.3 364.4,112.6 364.7,111.1 364.9,109.6 365.2,110.7 365.4,110.4 365.6,113.9 365.9,109.5 366.1,111 366.4,109.6 366.6,108.6 366.9,108.6 367.1,107.7 367.4,108.5 367.6,115.2 367.9,109.6 368.1,105.6 368.4,106.7 368.6,107.8 368.9,107.1 369.1,106.5 369.4,105.1 369.6,106.4 369.9,105.8 370.1,107 370.4,103.6 370.6,104.5 370.9,105.3 371.1,106 371.3,104.3 371.6,103.1 371.8,101.3 372.1,101.5 372.3,103.7 372.6,103.5 372.8,103.9 373.1,102.1 373.3,103.2 373.6,101.5 373.8,101.5 374.1,101.2 374.3,102.4 374.6,102.8 374.8,101.2 375.1,102 375.3,100.6 375.6,100.1 375.8,100 376.1,98.9 376.3,98.4 376.6,101.5 376.8,99.3 377.1,97.8 377.3,101.4 377.5,96.8 377.8,98.5 378,101.1 378.3,98.3 378.5,97.3 378.8,97 379,98.1 379.3,97.8 379.5,99.9 379.8,96.4 380,96.9 380.3,96.7 380.5,95.2 380.8,95.8 381,95.7 381.3,97.6 381.5,95.5 381.8,95.7 382,101 382.3,95.6 382.5,96.1 382.8,95 383,92.9 383.2,95.2 383.5,97.6 383.7,94.2 384,95.7 384.2,93.2 384.5,91.4 384.7,93 385,94.2 385.2,93.3 385.5,93.7 385.7,90.2 386,92.1 386.2,94.5 386.5,91.5 386.7,91.7 387,92.8 387.2,92.3 387.5,91.7 387.7,90 388,91.8 388.2,91.8 388.5,90.2 388.7,91.4 389,91.6 389.2,90.6 389.4,89.7 389.7,90.1 389.9,90.4 390.2,88.7 390.4,88.6 390.7,91 390.9,90.5 391.2,90.1 391.4,89.4 391.7,88.9 391.9,89 392.2,88.7 392.4,88.3 392.7,89.5 392.9,90.1 393.2,88 393.4,87.1 393.7,87.8 393.9,88.1 394.2,87.2 394.4,91.9 394.7,88.4 394.9,87.6 395.1,86.6 395.4,86.8 395.6,86.4 395.9,87.2 396.1,86.2 396.4,85.4 396.6,86.7 396.9,86.7 397.1,85.2 397.4,86 397.6,86.8 397.9,86.2 398.1,84.7 398.4,85.3 398.6,84.1 398.9,84.9 399.1,85.1 399.4,84.4 399.6,85.6 399.9,84.2 400.1,85 400.4,85 400.6,84.4 400.8,84.9 401.1,85.3 401.3,85.1 401.6,83.9 401.8,84 402.1,84.1 402.3,83.5 402.6,84.6 402.8,84.1 403.1,82.6 403.3,84.3 403.6,82.7 403.8,83.7 404.1,83 404.3,83.1 404.6,83.4 404.8,83 405.1,82.4 405.3,83.4 405.6,83.5 405.8,82.2 406.1,82.9 406.3,82.7 406.6,82.6 406.8,82.7 407,83.5 407.3,82.3 407.5,82.4 407.8,82.9 408,82.3 408.3,81.7 408.5,80.6 408.8,82 409,80.7 409.3,81.8 409.5,81.1 409.8,81.5 410,80.7 410.3,81 410.5,81.3 410.8,81.9 411,80.2 411.3,81.7 411.5,81 411.8,79.4 412,80.3 412.3,80.3 412.5,80.2 412.7,80 413,80.3 413.2,79.8 413.5,80 413.7,80 414,79.4 414.2,79.2 414.5,79.3 414.7,78.8 415,78.2 415.2,78.2 415.5,79.1 415.7,79.8 416,78.3 416.2,78.8 416.5,78.3 416.7,79 417,78.1 417.2,79.2 417.5,78.4 417.7,79.2 418,77.1 418.2,78.4 418.5,79.4 418.7,77.3 418.9,77.4 419.2,77.1 419.4,78.5 419.7,77.6 419.9,76.9 420.2,77.7 420.4,77.3 420.7,77.6 420.9,77.6 421.2,76.6 421.4,77.7 421.7,77.2 421.9,76.8 422.2,77.1 422.4,76.5 422.7,78.1 422.9,76.2 423.2,77.5 423.4,76.9 423.7,76.9 423.9,76.4 424.2,76.7 424.4,76.7 424.6,76.1 424.9,75.2 425.1,76.7 425.4,76.6 425.6,76.5 425.9,76.8 426.1,76.8 426.4,76.3 426.6,75.6 426.9,76.2 427.1,76.3 427.4,75.9 427.6,76.2 427.9,74.2 428.1,74.8 428.4,75.6 428.6,76.4 428.9,75.8 429.1,75.9 429.4,75.9 429.6,76.5 429.9,75.6 430.1,75.5 430.3,75.5 430.6,75.8 430.8,74.9 431.1,75.5 431.3,76.2 431.6,75.5 431.8,74.5 432.1,74.2 432.3,75.4 432.6,74.8 432.8,74.4 433.1,74.2 433.3,74.9 433.6,74.4 433.8,74.8 434.1,75.4 434.3,74 434.6,74.4 434.8,74.1 435.1,74.4 435.3,74.7 435.6,74.5 435.8,74 436.1,74.8 436.3,73.3 436.5,72.9 436.8,75.1 437,73.5 437.3,74.1 437.5,73.6 437.8,73.7 438,73.9 438.3,73.3 438.5,73.6 438.8,72.9 439,73.4 439.3,74.3 439.5,73.6 439.8,73.5 440,73.7 440.3,74 440.5,72.4 440.8,73.3 441,73.3 441.3,74 441.5,72.9 441.8,73.2 442,72.6 442.2,72.2 442.5,73.3 442.7,73.3 443,72.4 443.2,72.4 443.5,72.7 443.7,72.5 444,73 444.2,72.8 444.5,72.8 444.7,73.8 445,72.4 445.2,72.3 445.5,73.1 445.7,72.9 446,72.5 446.2,72.3 446.5,72.6 446.7,72.8 447,72.3 447.2,72.5 447.5,73 447.7,72.6 448,72.6 448.2,72.1 448.4,73 448.7,72.8 448.9,72.6 449.2,72.4 449.4,71.3 449.7,72.4 449.9,71.9 450.2,72 450.4,71.7 450.7,71.5 450.9,72 451.2,72.7 451.4,72.4 451.7,71.6 451.9,71.3 452.2,71.6 452.4,71.1 452.7,71.9 452.9,72.6 453.2,72.1 453.4,72 453.7,71.7 453.9,71.7 454.1,72.5 454.4,71.6 454.6,72.3 454.9,71.9 455.1,71.7 455.4,71.7 455.6,71.8 455.9,72.2 456.1,72 456.4,71.5 456.6,72.1 456.9,72.4 457.1,73 457.4,71.8 457.6,72.2 457.9,71.8 458.1,72.2 458.4,71.9 458.6,71.9 458.9,71.3 459.1,72 459.4,72.2 459.6,71.6 459.8,71.2 460.1,72 460.3,71.3 460.6,71.5 460.8,71.3 461.1,72.3 461.3,71.4 461.6,71.5 461.8,71.3 462.1,71.6 462.3,71.4 462.6,72.2 462.8,71.3 463.1,70.7 463.3,71.1 463.6,71.1 463.8,71 464.1,70.5 464.3,71.4 464.6,71.7 464.8,71.5 465.1,71.3 465.3,71 465.6,70.6 465.8,71.3 466,71.3 466.3,70.5 466.5,70.4 466.8,71.2 467,70.5 467.3,70.9 467.5,71 467.8,70.8 468,71.1 468.3,71.4 468.5,71.3 468.8,71 469,70.5 469.3,70.5 469.5,70.3 469.8,70.9 470,70.6 470.3,71.2 470.5,71 470.8,70.1 471,70.6 471.3,69.7 471.5,70.2 471.7,70.7 472,70.8 472.2,71.3 472.5,69.9 472.7,70 473,69 473.2,69.6 473.5,70.3 473.7,70.9 474,71.1 474.2,70.6 474.5,70.4 474.7,71 475,70.1 475.2,70 475.5,70.8 475.7,70.5 476,71 476.2,70 476.5,70.7 476.7,70.8 477,71.2 477.2,70.8 477.5,71.1 477.7,69.9 477.9,70.1 478.2,70.9 478.4,70.7 478.7,70.4 478.9,70.3 479.2,70.8 479.4,69.8 479.7,70.1 479.9,69.6 480.2,71.5 480.4,71 480.7,70.1 480.9,70.3 481.2,70.5 481.4,70.8 481.7,70.1 481.9,70.6 482.2,69.8 482.4,69.9 482.7,70 482.9,71.1 483.2,70.2 483.4,69.6 483.6,69.6 483.9,69.8 484.1,69.8 484.4,70.6 484.6,69.7 484.9,69.5 485.1,70 485.4,70 485.6,70.2 485.9,70.1 486.1,70.3 486.4,69.9 486.6,70.2 486.9,70.7 487.1,70.3 487.4,69.9 487.6,69.9 487.9,69.4 488.1,69.6 488.4,69.4 488.6,69.9 488.9,69.5 489.1,70.1 489.4,70.1 489.6,69.4 489.8,69.7 490.1,70 490.3,69.3 490.6,69.1 490.8,69.3 491.1,69.1 491.3,69.2 491.6,69.2 491.8,69.8 492.1,70.2 492.3,69.6 492.6,70.7 492.8,69.6 493.1,69.8 493.3,69.2 493.6,69.5 493.8,69.2 494.1,69.5 494.3,69.3 494.6,68.6 494.8,69.5 495.1,69.7 495.3,68.5 495.5,68.7 495.8,69 496,69.1 496.3,68.8 496.5,69 496.8,68.5 497,69 497.3,69.1 497.5,68.6 497.8,69.1 498,68.6 498.3,69.2 498.5,68.9 498.8,68.6 499,69 499.3,68.3 499.5,68.7 499.8,68.6 500,69.4 500.3,68.4 500.5,68.6 500.8,69.4 501,68.5 501.2,68.5 501.5,68.8 501.7,69 502,69.1 502.2,68.5 502.5,68.5 502.7,68.6 503,67.8 503.2,68.5 503.5,68.5 503.7,69.1 504,68.4 504.2,68.1 504.5,68.8 504.7,67.7 505,68.7 505.2,68.4 505.5,68.6 505.7,68.6 506,69.5 506.2,68.1 506.5,69.3 506.7,68 507,68.8 507.2,68.6 507.4,67.5 507.7,68.8 507.9,68.5 508.2,68.9 508.4,68.5 508.7,68.2 508.9,67.8 509.2,69.3 509.4,68.4 509.7,68.1 509.9,68 510.2,68.6 510.4,68.3 510.7,67.6 510.9,68.2 511.2,67.5 511.4,68.8 511.7,68.6 511.9,68.3 512.2,68.7 512.4,68.1 512.7,68.7 512.9,68.2 513.1,68.8 513.4,68.6 513.6,68.2 513.9,68 514.1,68.6 514.4,68.8 514.6,68 514.9,68.6 515.1,68.1 515.4,67.8 515.6,68 515.9,68.8 516.1,67.8 516.4,67.8 516.6,68.4 516.9,68.4 517.1,67.7 517.4,68.1 517.6,68 517.9,67.8 518.1,68 518.4,67.1 518.6,67.6 518.9,68.1 519.1,68.1 519.3,68.2 519.6,67.7 519.8,68.6 520.1,67.8 520.3,68.3 520.6,68.8 520.8,67.7 521.1,67.9 521.3,68 521.6,68.2 521.8,68.1 522.1,68.3 522.3,67.6 522.6,67.5 522.8,68 523.1,68 523.3,67.9 523.6,67.7 523.8,67.9 524.1,68.2 524.3,68.1 524.6,67.9 524.8,68 525,68.1 525.3,67.5 525.5,67.8 525.8,67.6 526,68.3 526.3,67.6 526.5,67.9 526.8,68 527,68.2 527.3,68.2 527.5,68.1 527.8,67.9 528,68 528.3,67.2 528.5,67.8 528.8,67.8 529,68 529.3,68.2 529.5,68.2 529.8,67.8 530,68.5 530.3,67.3 530.5,67.3 530.7,68.4 531,67.5 531.2,67.5 531.5,67.5 531.7,67.7 532,67.3 532.2,68.2 532.5,68.1 532.7,67.7 533,67.9 533.2,68.4 533.5,67.6 533.7,67.5 534,68 534.2,67.7 534.5,67.5 534.7,68.6 535,68.1 535.2,68.2 535.5,67.9 535.7,68.3 536,68.3 536.2,67.8 536.5,67.2 536.7,68.3 536.9,67.2 537.2,67.5 537.4,67.5 537.7,67.3 537.9,68 538.2,67.4 538.4,68.3 538.7,68.1 538.9,67.7 539.2,67.5 539.4,68.3 539.7,68.5 539.9,67.6 540.2,67.7 540.4,67.5 540.7,67.8 540.9,68.2 541.2,67.4 541.4,67.5 541.7,67.7 541.9,67 542.2,67.7 542.4,67.2 542.6,67.8 542.9,68.8 543.1,68.2 543.4,68.7 543.6,67.8 543.9,67.3 544.1,68.4 544.4,67.5 544.6,67.9 544.9,67.4 545.1,67.6 545.4,68.1 545.6,67.6 545.9,67.8 546.1,67.4 546.4,67.1 546.6,67.8"/>
<polyline stroke="#a2d496" points="335.9,174.3 336.1,173.9 336.4,172.5 336.6,171.8 336.9,173.7 337.1,170.1 337.4,166.6 337.6,165 337.9,163.2 338.1,162 338.4,155.8 338.6,152.8 338.9,148.9 339.1,144.1 339.4,146.1 339.6,143 339.9,143.3 340.1,138.2 340.4,141.8 340.6,137.2 340.9,143.3 341.1,143.1 341.4,139.5 341.6,140.1 341.8,136.9 342.1,137.4 342.3,136.9 342.6,139.3 342.8,137.5 343.1,135.6 343.3,137.7 343.6,136.3 343.8,133.8 344.1,135.6 344.3,134.7 344.6,132.7 344.8,133.6 345.1,136.5 345.3,133.4 345.6,133.2 345.8,132.3 346.1,128.7 346.3,130.3 346.6,131.6 346.8,132.6 347.1,129.8 347.3,130.6 347.6,128.4 347.8,129.7 348,128.3 348.3,130.9 348.5,129.6 348.8,128.9 349,130 349.3,127.7 349.5,128.6 349.8,128.3 350,128.5 350.3,127.3 350.5,129.4 350.8,125.2 351,125.6 351.3,125.1 351.5,123.8 351.8,125 352,125.6 352.3,122.8 352.5,125.1 352.8,124 353,127.2 353.3,124.5 353.5,123.5 353.7,122.2 354,122.1 354.2,121.2 354.5,123.1 354.7,122.9 355,121.5 355.2,122.7 355.5,121.8 355.7,120.9 356,123.5 356.2,122.6 356.5,119.5 356.7,120.8 357,118.5 357.2,119.9 357.5,120.3 357.7,121.4 358,118.7 358.2,117.5 358.5,118.7 358.7,118.5 359,117.6 359.2,117.9 359.5,119.5 359.7,117.6 359.9,115.5 360.2,114.7 360.4,114.8 360.7,116.8 360.9,113.2 361.2,116.8 361.4,114 361.7,113.8 361.9,112.7 362.2,114.2 362.4,113.7 362.7,111.3 362.9,111.1 363.2,113.5 363.4,112.3 363.7,112.6 363.9,119.9 364.2,109.7 364.4,114.6 364.7,110.5 364.9,110 365.2,111.5 365.4,108.6 365.6,110.2 365.9,110.9 366.1,108.5 366.4,108.4 366.6,112.7 366.9,108.1 367.1,105.8 367.4,106.7 367.6,107.2 367.9,107.4 368.1,104.6 368.4,107 368.6,108.4 368.9,104.5 369.1,106.2 369.4,113.3 369.6,106.7 369.9,106.4 370.1,107.1 370.4,105.2 370.6,104.8 370.9,102.1 371.1,103.7 371.3,104 371.6,103.3 371.8,102.7 372.1,101.6 372.3,101 372.6,104.3 372.8,103.5 373.1,101.7 373.3,99.4 373.6,101.8 373.8,106.6 374.1,101.4 374.3,101.2 374.6,102.8 374.8,98.7 375.1,100.4 375.3,99.6 375.6,99.1 375.8,98.3 376.1,99 376.3,97.9 376.6,96.9 376.8,97.6 377.1,98.6 377.3,100.7 377.5,97.6 377.8,97.9 378,98.6 378.3,98.2 378.5,104 378.8,98.8 379,93.9 379.3,95.7 379.5,96.9 379.8,96.9 380,94.8 380.3,97.2 380.5,96.6 380.8,94.5 381,95.4 381.3,94.4 381.5,100.1 381.8,94.8 382,95.2 382.3,94 382.5,94 382.8,93.9 383,94.3 383.2,92.7 383.5,93.5 383.7,92.9 384,94.3 384.2,94.6 384.5,92.3 384.7,93.4 385,93.4 385.2,92.1 385.5,91.1 385.7,92.4 386,92.2 386.2,91.4 386.5,91.1 386.7,91.4 387,92.9 387.2,90.4 387.5,91.6 387.7,89 388,91.2 388.2,90.3 388.5,94.7 388.7,90 389,87.8 389.2,90 389.4,88.8 389.7,89.5 389.9,89.6 390.2,88.5 390.4,88.7 390.7,89 390.9,89.5 391.2,88.1 391.4,85.5 391.7,88.3 391.9,87.5 392.2,88.3 392.4,84.9 392.7,88.7 392.9,87.8 393.2,88.7 393.4,86.5 393.7,86.8 393.9,86.4 394.2,86.6 394.4,85.2 394.7,85.2 394.9,85.2 395.1,88.1 395.4,86.5 395.6,85.6 395.9,84.8 396.1,87.5 396.4,84 396.6,84.8 396.9,83.7 397.1,85.7 397.4,85.3 397.6,85.4 397.9,84.9 398.1,84.9 398.4,85.5 398.6,83.1 398.9,83.5 399.1,84.4 399.4,85.2 399.6,82.7 399.9,85.2 400.1,84.2 400.4,84.2 400.6,83.7 400.8,82.7 401.1,82.3 401.3,82.6 401.6,83.6 401.8,81.7 402.1,81.6 402.3,81.8 402.6,80.6 402.8,83 403.1,82.7 403.3,82.6 403.6,82.4 403.8,81.4 404.1,81.6 404.3,81.9 404.6,80.7 404.8,81.5 405.1,81.8 405.3,81.7 405.6,82.1 405.8,81.3 406.1,81.6 406.3,81 406.6,80.6 406.8,80.5 407,81 407.3,79.3 407.5,81.3 407.8,80 408,80.4 408.3,80.1 408.5,80.7 408.8,80.7 409,79.6 409.3,81.1 409.5,79.8 409.8,80.8 410,81 410.3,79.7 410.5,80 410.8,78.3 411,80.7 411.3,79.3 411.5,79.3 411.8,79.2 412,79.5 412.3,80.2 412.5,78.6 412.7,78.6 413,78.7 413.2,78.7 413.5,78.1 413.7,78.2 414,78.3 414.2,79.1 414.5,78 414.7,79.1 415,78.3 415.2,79.1 415.5,78.5 415.7,77.8 416,78.5 416.2,77.6 416.5,78.5 416.7,77.1 417,78.1 417.2,76.4 417.5,77.5 417.7,77.9 418,78.5 418.2,78 418.5,76.5 418.7,78.4 418.9,78.6 419.2,77.4 419.4,76.7 419.7,77.7 419.9,77.9 420.2,77.5 420.4,77.4 420.7,76.6 420.9,76.1 421.2,77.2 421.4,77.6 421.7,77.7 421.9,78 422.2,76.9 422.4,77.8 422.7,76.4 422.9,76.9 423.2,77.1 423.4,75.8 423.7,77.6 423.9,76 424.2,76.4 424.4,76.3 424.6,76.4 424.9,77 425.1,75.9 425.4,75.5 425.6,77.3 425.9,76.1 426.1,76.1 426.4,76.2 426.6,75.7 426.9,76 427.1,76.1 427.4,75.1 427.6,76.3 427.9,75.9 428.1,75.9 428.4,76.1 428.6,75.9 428.9,74.8 429.1,75.9 429.4,74.1 429.6,76.2 429.9,76.7 430.1,75.7 430.3,75.9 430.6,74.5 430.8,74.9 431.1,75.7 431.3,75.2 431.6,75.2 431.8,73.6 432.1,74.9 432.3,74.8 432.6,74.6 432.8,74.7 433.1,74.8 433.3,75.2 433.6,74.6 433.8,74.5 434.1,75.3 434.3,74.5 434.6,75.2 434.8,75.3 435.1,74.5 435.3,74.1 435.6,73.8 435.8,74.6 436.1,75 436.3,74.6 436.5,74.3 436.8,74.1 437,73.8 437.3,74.1 437.5,73.4 437.8,74.2 438,73.6 438.3,73.4 438.5,73.5 438.8,73.4 439,74.1 439.3,73.1 439.5,73.7 439.8,73.5 440,73.8 440.3,73.1 440.5,73.4 440.8,73.5 441,72.7 441.3,73.4 441.5,72.8 441.8,72.8 442,72.6 442.2,72.7 442.5,73.3 442.7,72.6 443,72.4 443.2,71.6 443.5,71.6 443.7,72 444,71.9 444.2,73.6 444.5,72.5 444.7,72.7 445,71.8 445.2,71.8 445.5,71.8 445.7,71.7 446,71.8 446.2,72 446.5,72.1 446.7,71.5 447,71.8 447.2,71.2 447.5,71.9 447.7,71.8 448,72 448.2,71.3 448.4,72 448.7,72.7 448.9,71.9 449.2,71.8 449.4,71.5 449.7,71.6 449.9,70.8 450.2,71.2 450.4,70.9 450.7,70.7 450.9,70.8 451.2,70.9 451.4,71.5 451.7,71.1 451.9,71.3 452.2,70.9 452.4,71.5 452.7,70.9 452.9,71.4 453.2,70.8 453.4,70.6 453.7,70.6 453.9,71.3 454.1,70.5 454.4,71.9 454.6,71 454.9,71.7 455.1,71.1 455.4,71.6 455.6,71.1 455.9,71.4 456.1,70.4 456.4,70 456.6,70.6 456.9,70.5 457.1,70.8 457.4,71 457.6,71 457.9,71.4 458.1,71.3 458.4,70.5 458.6,71.1 458.9,70.7 459.1,71.2 459.4,69.8 459.6,70.2 459.8,70.8 460.1,69.9 460.3,70.5 460.6,70.2 460.8,70.8 461.1,70.9 461.3,70 461.6,70.3 461.8,70.3 462.1,70.2 462.3,70.5 462.6,70.8 462.8,70.4 463.1,71.3 463.3,70.5 463.6,70 463.8,70.5 464.1,69.6 464.3,70.6 464.6,70.8 464.8,70.1 465.1,70.4 465.3,70 465.6,70.6 465.8,70 466,70.2 466.3,70.1 466.5,69.8 466.8,70.5 467,70.2 467.3,69.6 467.5,69.6 467.8,69.8 468,70.5 468.3,69.9 468.5,70.2 468.8,70.1 469,70.6 469.3,70.8 469.5,69.5 469.8,69.5 470,70.4 470.3,70 470.5,69.8 470.8,70 471,69.5 471.3,69.9 471.5,70.3 471.7,69.8 472,69.4 472.2,70 472.5,69.3 472.7,69.1 473,69.3 473.2,69.3 473.5,69.5 473.7,69.2 474,69.7 474.2,70.4 474.5,69.7 474.7,68.8 475,68.9 475.2,69.8 475.5,69.4 475.7,69.6 476,69.7 476.2,69.4 476.5,68.9 476.7,69.2 477,69.3 477.2,70 477.5,68.2 477.7,69.6 477.9,69.1 478.2,68.7 478.4,69 478.7,68.7 478.9,69.9 479.2,69.3 479.4,69.2 479.7,69.5 479.9,69.5 480.2,68.5 480.4,69.4 480.7,68.4 480.9,68.5 481.2,69 481.4,69.4 481.7,69 481.9,69.1 482.2,69 482.4,69 482.7,68.7 482.9,68.8 483.2,68.7 483.4,68.7 483.6,68.2 483.9,67.8 484.1,68.6 484.4,68.6 484.6,68.7 484.9,68.2 485.1,68.3 485.4,68.5 485.6,68.6 485.9,68.3 486.1,68.1 486.4,68.7 486.6,68.3 486.9,69.2 487.1,68.7 487.4,68.2 487.6,69 487.9,69 488.1,68.3 488.4,69.1 488.6,68.5 488.9,67.5 489.1,68.2 489.4,67.6 489.6,67.7 489.8,68.5 490.1,68.3 490.3,68.1 490.6,67.8 490.8,67.6 491.1,67.8 491.3,68 491.6,68.5 491.8,67.7 492.1,68.3 492.3,67.7 492.6,67.5 492.8,68.6 493.1,67.2 493.3,68 493.6,67.5 493.8,67.6 494.1,67.2 494.3,67.4 494.6,67.2 494.8,67.5 495.1,68.1 495.3,67.9 495.5,67.5 495.8,67.4 496,67.7 496.3,68 496.5,68.2 496.8,67.7 497,66.6 497.3,67.7 497.5,67.9 497.8,67.4 498,67.4 498.3,67.6 498.5,68.4 498.8,67.9 499,67.9 499.3,67.4 499.5,67.9 499.8,67.7 500,68 500.3,67.8 500.5,66.8 500.8,67.3 501,67.4 501.2,67.9 501.5,68 501.7,67.2 502,67.6 502.2,67.3 502.5,67.5 502.7,67.5 503,68.5 503.2,67.2 503.5,66.9 503.7,67.5 504,67.6 504.2,67.5 504.5,67.6 504.7,68.2 505,67.7 505.2,67.5 505.5,67.1 505.7,67.9 506,67.6 506.2,67.5 506.5,67.3 506.7,66.7 507,67.2 507.2,67.2 507.4,67.9 507.7,66.8 507.9,68.1 508.2,66.9 508.4,67.1 508.7,67.4 508.9,67.8 509.2,67.2 509.4,67.5 509.7,66.8 509.9,68.4 510.2,67.3 510.4,68.3 510.7,67.2 510.9,67.4 511.2,66.9 511.4,67.6 511.7,67.6 511.9,68 512.2,67.3 512.4,67.1 512.7,67.2 512.9,67.5 513.1,67.2 513.4,66.9 513.6,66.9 513.9,67.8 514.1,67.2 514.4,67.3 514.6,68 514.9,66.7 515.1,66.8 515.4,67.3 515.6,66.7 515.9,66.8 516.1,67 516.4,66.7 516.6,66.9 516.9,67.1 517.1,66.4 517.4,67.3 517.6,66 517.9,66.6 518.1,66.9 518.4,66.5 518.6,67 518.9,66.8 519.1,65.9 519.3,66.5 519.6,66.7 519.8,66.6 520.1,66.2 520.3,66.2 520.6,66.7 520.8,66.1 521.1,66.5 521.3,66.5 521.6,66.2 521.8,66.7 522.1,67 522.3,66.5 522.6,66.1 522.8,66.5 523.1,66.1 523.3,66 523.6,66.5 523.8,66.4 524.1,66.4 524.3,66.1 524.6,66.2 524.8,66.3 525,65.8 525.3,66.2 525.5,66.2 525.8,66.6 526,66.3 526.3,65.8 526.5,66 526.8,66.2 527,66.3 527.3,66.6 527.5,66.5 527.8,65.9 528,66.2 528.3,66.2 528.5,65.8 528.8,66.4 529,66.4 529.3,65.7 529.5,66 529.8,66.8 530,66.3 530.3,66.5 530.5,66.5 530.7,66.4 531,66.9 531.2,66.5 531.5,65.6 531.7,66.4 532,66.5 532.2,66 532.5,66.8 532.7,66.4 533,65.9 533.2,66.3 533.5,66.2 533.7,66.4 534,66.2 534.2,66.1 534.5,66.4 534.7,66.3 535,66.3 535.2,67.1 535.5,66.1 535.7,65.7 536,66.1 536.2,66.3 536.5,66.5 536.7,66.3 536.9,65.7 537.2,65.9 537.4,66.6 537.7,65.8 537.9,66.6 538.2,66.6 538.4,66.4 538.7,66.1 538.9,66.4 539.2,66 539.4,66.2 539.7,65.7 539.9,66.8 540.2,66.2 540.4,66 540.7,65.7 540.9,67 541.2,66.3 541.4,66.9 541.7,66 541.9,66.4 542.2,66 542.4,65.8 542.6,65.8 542.9,66.2 543.1,65.9 543.4,65 543.6,66.2 543.9,65.9 544.1,66.2 544.4,65.7 544.6,66.3 544.9,65.8 545.1,66.5 545.4,65.9 545.6,65.1 545.9,66.4 546.1,66.2 546.4,65.7 546.6,66.4"/>
<polyline stroke="#f7bc98" points="335.9,174.3 336.1,173.5 336.4,172.7 336.6,169.7 336.9,173.7 337.1,168.1 337.4,165.8 337.6,171.4 337.9,161.9 338.1,159.8 338.4,156.5 338.6,152.3 338.9,147.7 339.1,147.2 339.4,146.4 339.6,142.1 339.9,143 340.1,140.7 340.4,136.6 340.6,143.3 340.9,141.8 341.1,140.8 341.4,139.1 341.6,135.3 341.8,137 342.1,135.3 342.3,133.4 342.6,139.9 342.8,136.5 343.1,136.6 343.3,134.2 343.6,136.3 343.8,131.2 344.1,134.4 344.3,134.4 344.6,134.5 344.8,134.5 345.1,131.9 345.3,132.4 345.6,130.4 345.8,131.4 346.1,129.4 346.3,129.4 346.6,127.5 346.8,127.7 347.1,129.4 347.3,126.1 347.6,128.7 347.8,128.8 348,125.6 348.3,128.6 348.5,127.3 348.8,128.3 349,127.8 349.3,124.6 349.5,126.2 349.8,121.7 350,121.7 350.3,123 350.5,124.2 350.8,122.9 351,122.9 351.3,120.4 351.5,124.7 351.8,121.7 352,120.9 352.3,120.1 352.5,119.3 352.8,120.6 353,118.7 353.3,121 353.5,117.3 353.7,118.1 354,118.4 354.2,116.3 354.5,118.6 354.7,119.7 355,116.2 355.2,116.5 355.5,116.8 355.7,116.9 356,115 356.2,114.2 356.5,116.4 356.7,116.8 357,113.7 357.2,115.8 357.5,112.4 357.7,111.9 358,114.4 358.2,110.2 358.5,113.4 358.7,112.9 359,112.7 359.2,111.7 359.5,111 359.7,111.4 359.9,112.5 360.2,111.8 360.4,113.2 360.7,112.2 360.9,110.4 361.2,110.4 361.4,110.9 361.7,109.7 361.9,110.7 362.2,109.6 362.4,109.2 362.7,107.8 362.9,107.6 363.2,109.9 363.4,108.9 363.7,110.4 363.9,105.5 364.2,110.4 364.4,107.6 364.7,109.2 364.9,107 365.2,106.6 365.4,105.9 365.6,107.2 365.9,105.4 366.1,106.8 366.4,106.9 366.6,106.5 366.9,106.3 367.1,103.2 367.4,103.9 367.6,104 367.9,106.8 368.1,104.4 368.4,103.3 368.6,105.9 368.9,102.5 369.1,104.6 369.4,103.2 369.6,102.7 369.9,102.9 370.1,102.6 370.4,101.8 370.6,100.8 370.9,100.2 371.1,100.2 371.3,101.4 371.6,103.5 371.8,102.3 372.1,101.4 372.3,100 372.6,99.2 372.8,100.7 373.1,100.8 373.3,99.8 373.6,99.4 373.8,98.7 374.1,98.5 374.3,99.3 374.6,101.4 374.8,99.1 375.1,101.6 375.3,98.5 375.6,95.3 375.8,96.6 376.1,97.3 376.3,95.2 376.6,98.4 376.8,96.7 377.1,96.4 377.3,97.4 377.5,97.1 377.8,95.7 378,95.9 378.3,96.6 378.5,95.9 378.8,95 379,95.6 379.3,96 379.5,94.7 379.8,95 380,94.6 380.3,95.7 380.5,94.4 380.8,94.6 381,95.4 381.3,92.4 381.5,93.6 381.8,93.3 382,92.5 382.3,91.9 382.5,92.1 382.8,93.5 383,92.5 383.2,93.1 383.5,92.6 383.7,91.9 384,91 384.2,92.9 384.5,91 384.7,91.2 385,92.4 385.2,88.7 385.5,91.2 385.7,89.9 386,90.9 386.2,90.4 386.5,89.8 386.7,90.3 387,90.2 387.2,89 387.5,89 387.7,87.7 388,89.4 388.2,91.1 388.5,90.7 388.7,88.8 389,90 389.2,90.2 389.4,87.9 389.7,90.1 389.9,90 390.2,88.3 390.4,87.3 390.7,87.5 390.9,89 391.2,87.3 391.4,88.7 391.7,87.4 391.9,90.1 392.2,88.5 392.4,87 392.7,87.3 392.9,86.7 393.2,90.1 393.4,85.7 393.7,86 393.9,84.8 394.2,86.8 394.4,85.5 394.7,85.7 394.9,86.2 395.1,85.5 395.4,85.7 395.6,85.1 395.9,85.6 396.1,85.3 396.4,85.8 396.6,85.4 396.9,84.8 397.1,84.6 397.4,84.4 397.6,83.9 397.9,85 398.1,84.9 398.4,85.4 398.6,83.1 398.9,82.5 399.1,83.5 399.4,83.2 399.6,84.1 399.9,83.3 400.1,82.2 400.4,82.9 400.6,84.1 400.8,82.7 401.1,82.8 401.3,82 401.6,81.3 401.8,82.3 402.1,81.9 402.3,81.4 402.6,82.6 402.8,82 403.1,82.9 403.3,81.5 403.6,81 403.8,81.1 404.1,81 404.3,81.7 404.6,81.6 404.8,80 405.1,80.4 405.3,81 405.6,80.2 405.8,81 406.1,81.1 406.3,80 406.6,80.2 406.8,79.9 407,78.4 407.3,79.6 407.5,79.7 407.8,78.3 408,80.1 408.3,79.6 408.5,79.7 408.8,79.4 409,77.7 409.3,80.5 409.5,78.2 409.8,79.9 410,80 410.3,78.9 410.5,78.8 410.8,78.9 411,79.3 411.3,78.1 411.5,79.3 411.8,78 412,76.5 412.3,79.1 412.5,78 412.7,78 413,79 413.2,78 413.5,77.3 413.7,77.2 414,77.3 414.2,78.1 414.5,77.7 414.7,78.2 415,76.8 415.2,77.9 415.5,78.1 415.7,77.7 416,76.2 416.2,78.3 416.5,76.6 416.7,76.7 417,77.4 417.2,76.9 417.5,77.9 417.7,76.7 418,76.6 418.2,77.3 418.5,76.6 418.7,76.7 418.9,76.3 419.2,76.2 419.4,75.9 419.7,76.5 419.9,76.1 420.2,75.8 420.4,75.3 420.7,76.2 420.9,76.5 421.2,76.5 421.4,76.1 421.7,77.1 421.9,76.6 422.2,75.5 422.4,74.7 422.7,75 422.9,76.1 423.2,75 423.4,75.4 423.7,75.9 423.9,74.8 424.2,75 424.4,74.9 424.6,75 424.9,74.8 425.1,75.4 425.4,75.4 425.6,75.5 425.9,74.6 426.1,74.8 426.4,74.5 426.6,75.2 426.9,75.1 427.1,74.9 427.4,74.8 427.6,74.9 427.9,74 428.1,74.6 428.4,76.1 428.6,75 428.9,74.4 429.1,74.5 429.4,74.5 429.6,74.6 429.9,73.6 430.1,74.8 430.3,73.9 430.6,73.8 430.8,73.8 431.1,73.1 431.3,74.7 431.6,74.5 431.8,73.9 432.1,73.8 432.3,73.8 432.6,74.4 432.8,74.2 433.1,73.2 433.3,73.6 433.6,73.6 433.8,73.5 434.1,72.9 434.3,73.9 434.6,73.7 434.8,74.6 435.1,74 435.3,73.6 435.6,73.4 435.8,74.1 436.1,74.4 436.3,74.1 436.5,74.7 436.8,74.1 437,73.6 437.3,73.3 437.5,72.8 437.8,73.4 438,73.8 438.3,73.3 438.5,73.6 438.8,72.8 439,72.8 439.3,74.1 439.5,73.4 439.8,72.2 440,72.6 440.3,73.3 440.5,74.7 440.8,72.8 441,72.9 441.3,73.1 441.5,72.6 441.8,72.8 442,72.7 442.2,73 442.5,73 442.7,72.7 443,73 443.2,73.4 443.5,73.4 443.7,72.6 444,73.1 444.2,73.1 444.5,73 444.7,72.2 445,73.6 445.2,73.7 445.5,72.4 445.7,72.6 446,71.7 446.2,72.5 446.5,73.1 446.7,72.2 447,72.1 447.2,72.1 447.5,72.1 447.7,71.2 448,72.3 448.2,71.9 448.4,72.1 448.7,72.9 448.9,72.6 449.2,72.4 449.4,72.1 449.7,72.5 449.9,71.2 450.2,71.9 450.4,72.3 450.7,72.2 450.9,71.8 451.2,72.1 451.4,72.2 451.7,72.3 451.9,71.7 452.2,70.8 452.4,72.9 452.7,71.8 452.9,71.5 453.2,71.9 453.4,70.5 453.7,71.4 453.9,72.2 454.1,71.3 454.4,71.9 454.6,71 454.9,71.3 455.1,70.8 455.4,71.7 455.6,71.1 455.9,70.5 456.1,71.3 456.4,71.6 456.6,71.3 456.9,71 457.1,71.2 457.4,70.8 457.6,70.4 457.9,71.3 458.1,71.6 458.4,71.3 458.6,71.5 458.9,71.1 459.1,70.9 459.4,71.5 459.6,70.7 459.8,70.7 460.1,71.3 460.3,70.8 460.6,71.3 460.8,70.2 461.1,70.6 461.3,70.2 461.6,69.8 461.8,70.1 462.1,70.3 462.3,70.2 462.6,70.5 462.8,70.3 463.1,69.4 463.3,70.4 463.6,70.2 463.8,70 464.1,69.9 464.3,69.7 464.6,70.5 464.8,70.2 465.1,70 465.3,69.8 465.6,69.7 465.8,69.7 466,69.9 466.3,70.3 466.5,70.3 466.8,70.3 467,69.5 467.3,69.1 467.5,70.2 467.8,70.4 468,69.9 468.3,69.7 468.5,70 468.8,69.9 469,69.5 469.3,69.6 469.5,70 469.8,70.3 470,69.8 470.3,69.3 470.5,70.5 470.8,69.1 471,69.7 471.3,69.2 471.5,70.1 471.7,70.1 472,70.4 472.2,69.7 472.5,69.8 472.7,69.9 473,69.8 473.2,69.7 473.5,70.2 473.7,69.5 474,70.6 474.2,70.1 474.5,69.8 474.7,70 475,69.9 475.2,70.6 475.5,70.1 475.7,70 476,70.6 476.2,69.8 476.5,70.5 476.7,70.3 477,70.5 477.2,69.9 477.5,70.3 477.7,69.7 477.9,69.6 478.2,70.1 478.4,69.7 478.7,69.2 478.9,70.6 479.2,70.6 479.4,69.2 479.7,70.2 479.9,68.7 480.2,69.5 480.4,70.7 480.7,69.4 480.9,69.8 481.2,69.7 481.4,69.3 481.7,69.9 481.9,69.7 482.2,69.5 482.4,70.2 482.7,69.6 482.9,69.4 483.2,69.4 483.4,69.3 483.6,69.3 483.9,70.1 484.1,69.6 484.4,70 484.6,69.1 484.9,68.8 485.1,69 485.4,69.9 485.6,69.2 485.9,68.7 486.1,68.7 486.4,68.6 486.6,68.5 486.9,69.2 487.1,68.7 487.4,68.6 487.6,69.1 487.9,68.9 488.1,68.7 488.4,67.8 488.6,68.2 488.9,68.5 489.1,68.5 489.4,69.1 489.6,68.4 489.8,68 490.1,68.5 490.3,68.2 490.6,67.8 490.8,68.4 491.1,68.9 491.3,68.3 491.6,68.3 491.8,67.2 492.1,68.3 492.3,68.3 492.6,67.8 492.8,68.5 493.1,68.3 493.3,68.2 493.6,68.2 493.8,68 494.1,68.1 494.3,69 494.6,67.7 494.8,68.3 495.1,67.9 495.3,68.1 495.5,67.9 495.8,67.6 496,68.2 496.3,68.3 496.5,67.9 496.8,68.1 497,67.4 497.3,68.2 497.5,68.3 497.8,67.3 498,68.3 498.3,67.8 498.5,68.3 498.8,67.8 499,67.4 499.3,67.5 499.5,68.2 499.8,67.8 500,67.5 500.3,67.9 500.5,67.3 500.8,67.4 501,67.3 501.2,67.9 501.5,67.8 501.7,68.4 502,68.2 502.2,67.7 502.5,68.2 502.7,67.9 503,68.3 503.2,68.1 503.5,68.3 503.7,67.7 504,68.1 504.2,67.7 504.5,67.6 504.7,67.9 505,67.7 505.2,66.9 505.5,67.5 505.7,67.1 506,67.1 506.2,67.4 506.5,67.5 506.7,68.3 507,67.5 507.2,68 507.4,68.1 507.7,67.6 507.9,67.2 508.2,67.4 508.4,67.3 508.7,67.3 508.9,67.3 509.2,67.9 509.4,68 509.7,67.5 509.9,67.1 510.2,67.5 510.4,67.8 510.7,67.7 510.9,67.7 511.2,67.8 511.4,67.9 511.7,66.9 511.9,67.4 512.2,68.1 512.4,67.4 512.7,67.3 512.9,67.2 513.1,67.9 513.4,68.2 513.6,66.7 513.9,68 514.1,68 514.4,67.5 514.6,67.1 514.9,67.2 515.1,67.9 515.4,67.5 515.6,67.8 515.9,67.6 516.1,67.8 516.4,66.7 516.6,67.2 516.9,67.7 517.1,67.7 517.4,67.1 517.6,67.9 517.9,67.7 518.1,67.8 518.4,67.6 518.6,67 518.9,67.9 519.1,68.1 519.3,68.1 519.6,67.9 519.8,68.2 520.1,68.1 520.3,68 520.6,67.5 520.8,67.6 521.1,67.8 521.3,67.6 521.6,67.7 521.8,67.8 522.1,68.1 522.3,67.4 522.6,67.7 522.8,67.8 523.1,67.9 523.3,67.7 523.6,67.8 523.8,68.2 524.1,68 524.3,68.2 524.6,68.8 524.8,68.2 525,66.8 525.3,68.4 525.5,67.7 525.8,67.4 526,67.7 526.3,67.7 526.5,68 526.8,67.9 527,67.9 527.3,68 527.5,67.7 527.8,67.4 528,67.2 528.3,66.9 528.5,67.3 528.8,66.3 529,67.4 529.3,67.9 529.5,68 529.8,67.3 530,67.1 530.3,67 530.5,67.3 530.7,66.8 531,67.3 531.2,67.4 531.5,67.3 531.7,67.2 532,67 532.2,67.6 532.5,67.5 532.7,66.7 533,67.2 533.2,66.6 533.5,66.8 533.7,66.9 534,66.6 534.2,67 534.5,66.7 534.7,66.6 535,66.5 535.2,67.2 535.5,66.9 535.7,66.3 536,66.6 536.2,66.3 536.5,66.2 536.7,67 536.9,66.8 537.2,66.2 537.4,66.6 537.7,67.1 537.9,66.6 538.2,66.6 538.4,66.9 538.7,66.9 538.9,66.4 539.2,66.5 539.4,67.1 539.7,67.1 539.9,66.9 540.2,66.8 540.4,66.8 540.7,67.1 540.9,66.7 541.2,67.5 541.4,67.1 541.7,66.8 541.9,66.8 542.2,66.9 542.4,66.7 542.6,66.8 542.9,67 543.1,66.3 543.4,67 543.6,66 543.9,67.5 544.1,66.6 544.4,67.4 544.6,67.6 544.9,67.3 545.1,68 545.4,67.2 545.6,67 545.9,67.4 546.1,67.2 546.4,66.9 546.6,67.2"/>
<polyline stroke="#82c4e6" points="335.9,174.3 336.1,173.9 336.4,172.5 336.6,173 336.9,171.2 337.1,170.3 337.4,169.4 337.6,163.9 337.9,162.3 338.1,157.8 338.4,159.3 338.6,153.6 338.9,151.2 339.1,150.8 339.4,144.5 339.6,145.3 339.9,143.8 340.1,140.9 340.4,144 340.6,139.5 340.9,145.3 341.1,138.8 341.4,139.3 341.6,142.4 341.8,142.1 342.1,134.7 342.3,140 342.6,136.3 342.8,137.3 343.1,137.5 343.3,137.6 343.6,139.1 343.8,138.6 344.1,137.7 344.3,134.3 344.6,138.9 344.8,137.1 345.1,134.1 345.3,134.7 345.6,135 345.8,135.5 346.1,136.5 346.3,134.5 346.6,134.8 346.8,133.4 347.1,133.8 347.3,134.5 347.6,129.4 347.8,134.7 348,129.7 348.3,131.4 348.5,131.3 348.8,132 349,131.3 349.3,130.2 349.5,132.4 349.8,127.2 350,128.3 350.3,128.3 350.5,128 350.8,125.9 351,127.4 351.3,125.8 351.5,127.7 351.8,123.8 352,127.1 352.3,127.4 352.5,126.5 352.8,123.8 353,122.5 353.3,124 353.5,121.1 353.7,125.5 354,124.7 354.2,124.1 354.5,121.1 354.7,124.1 355,122.5 355.2,123.8 355.5,121.6 355.7,122.8 356,116.9 356.2,119.8 356.5,121.3 356.7,119 357,120 357.2,120.4 357.5,118.5 357.7,121 358,116.6 358.2,116.6 358.5,119.5 358.7,117.9 359,119.9 359.2,116.3 359.5,116.4 359.7,116.2 359.9,116.9 360.2,116 360.4,116.5 360.7,115.6 360.9,115.9 361.2,115.6 361.4,115.3 361.7,117.5 361.9,114.9 362.2,112.5 362.4,111.5 362.7,113.8 362.9,112.8 363.2,110.9 363.4,114.3 363.7,111.6 363.9,113.9 364.2,111 364.4,111.6 364.7,111.2 364.9,111.1 365.2,108.2 365.4,113.6 365.6,111.8 365.9,109.6 366.1,109.3 366.4,110.2 366.6,108.7 366.9,108.9 367.1,108.5 367.4,107 367.6,109.2 367.9,107.7 368.1,106.6 368.4,108.1 368.6,105.8 368.9,108 369.1,108.7 369.4,107.8 369.6,106.2 369.9,104.9 370.1,106.3 370.4,105.7 370.6,105.5 370.9,104.5 371.1,106.1 371.3,104.9 371.6,105.6 371.8,103.8 372.1,103.1 372.3,106.4 372.6,103.4 372.8,103.6 373.1,102.4 373.3,103.8 373.6,102.7 373.8,103.8 374.1,101.5 374.3,99.6 374.6,101.6 374.8,100 375.1,99.8 375.3,101.5 375.6,100.9 375.8,100.6 376.1,99.5 376.3,101.1 376.6,99.4 376.8,100.8 377.1,99.1 377.3,99.6 377.5,101.1 377.8,99.5 378,98.4 378.3,98.9 378.5,98.3 378.8,96.1 379,99.4 379.3,98.6 379.5,98.5 379.8,97.5 380,97.8 380.3,97.3 380.5,97.7 380.8,97.4 381,94.7 381.3,93.9 381.5,96.3 381.8,95.8 382,97.3 382.3,95.9 382.5,94.6 382.8,94.7 383,95.1 383.2,93 383.5,91.8 383.7,94.5 384,95.1 384.2,93.4 384.5,93 384.7,94.4 385,93.5 385.2,92.2 385.5,92.7 385.7,93.6 386,91.9 386.2,93.2 386.5,90.9 386.7,92.1 387,93.6 387.2,92.6 387.5,90.9 387.7,89.8 388,90.9 388.2,91.4 388.5,88.9 388.7,91.9 389,89.7 389.2,91.8 389.4,91.8 389.7,91 389.9,89.2 390.2,89.6 390.4,89.8 390.7,89.1 390.9,89.9 391.2,87.9 391.4,88.9 391.7,88.4 391.9,89.8 392.2,88.6 392.4,89.4 392.7,87.7 392.9,89.4 393.2,87.3 393.4,86.9 393.7,87.2 393.9,86.4 394.2,86.1 394.4,87.4 394.7,87.4 394.9,87.2 395.1,86.7 395.4,86.7 395.6,86.6 395.9,84.9 396.1,86.1 396.4,86.3 396.6,84.7 396.9,86.6 397.1,85.6 397.4,85 397.6,84.7 397.9,86.1 398.1,86 398.4,85.7 398.6,85.3 398.9,83.6 399.1,84.5 399.4,84 399.6,84.8 399.9,84.4 400.1,83.4 400.4,83.5 400.6,83.8 400.8,82.8 401.1,83.8 401.3,83.6 401.6,83.4 401.8,83.4 402.1,82.3 402.3,83.8 402.6,82.3 402.8,83.9 403.1,83.7 403.3,82.3 403.6,82 403.8,82.2 404.1,83.4 404.3,81 404.6,81 404.8,82.3 405.1,80.6 405.3,81.9 405.6,81.3 405.8,81.8 406.1,81.9 406.3,82.2 406.6,81.2 406.8,80.5 407,81.1 407.3,80.3 407.5,80.1 407.8,79.6 408,79.8 408.3,80.4 408.5,80.2 408.8,80.4 409,80.8 409.3,81 409.5,78.9 409.8,80.6 410,79.6 410.3,78.9 410.5,79.7 410.8,80.1 411,79.4 411.3,78.6 411.5,80.1 411.8,80 412,79.7 412.3,78.8 412.5,78.7 412.7,79.5 413,79.1 413.2,78.5 413.5,79.7 413.7,79 414,78.6 414.2,78.3 414.5,78.3 414.7,79.5 415,78.6 415.2,78.8 415.5,78.3 415.7,78.1 416,78.3 416.2,78 416.5,76.8 416.7,76.9 417,77.4 417.2,77.9 417.5,76.6 417.7,78.1 418,78.8 418.2,77.7 418.5,78.1 418.7,78.9 418.9,78.1 419.2,77.6 419.4,77.5 419.7,77 419.9,76.8 420.2,76.7 420.4,77.7 420.7,76.5 420.9,75.9 421.2,77 421.4,76.9 421.7,76.4 421.9,76.3 422.2,76.5 422.4,76.3 422.7,77 422.9,77.4 423.2,76.7 423.4,76.5 423.7,76.2 423.9,76.5 424.2,76.6 424.4,75.9 424.6,75.7 424.9,76.1 425.1,76.1 425.4,75.8 425.6,76.1 425.9,75.4 426.1,76 426.4,76.7 426.6,74.5 426.9,75.3 427.1,74.9 427.4,75.5 427.6,75.4 427.9,75.2 428.1,75.1 428.4,75.2 428.6,75.6 428.9,74.7 429.1,74.9 429.4,73.8 429.6,75.3 429.9,75 430.1,74.8 430.3,75.7 430.6,75.1 430.8,75.6 431.1,74.8 431.3,74.3 431.6,74.3 431.8,73.7 432.1,74.1 432.3,73.6 432.6,73.8 432.8,75.2 433.1,73.8 433.3,74.7 433.6,73.4 433.8,73 434.1,72.9 434.3,73.4 434.6,73.5 434.8,74.1 435.1,73 435.3,73.2 435.6,73.3 435.8,73.8 436.1,73.8 436.3,73.2 436.5,72.5 436.8,72.8 437,73.2 437.3,72.3 437.5,72.1 437.8,72.4 438,72.6 438.3,72.3 438.5,72.4 438.8,72 439,72.8 439.3,71.5 439.5,72 439.8,70.8 440,73 440.3,72.3 440.5,72.6 440.8,71.7 441,71.5 441.3,71.9 441.5,71.5 441.8,71.4 442,71.9 442.2,71.5 442.5,72 442.7,71.6 443,71.6 443.2,71.6 443.5,71.7 443.7,71 444,71.1 444.2,70.2 444.5,72 444.7,71 445,70.9 445.2,70.6 445.5,70.7 445.7,69.7 446,71.1 446.2,71.5 446.5,70.4 446.7,71.1 447,70.6 447.2,70.7 447.5,69.6 447.7,71 448,69.7 448.2,70.3 448.4,70.3 448.7,70.3 448.9,70.8 449.2,70.3 449.4,70.2 449.7,70.4 449.9,70.8 450.2,70.5 450.4,70.3 450.7,70.2 450.9,70.8 451.2,70 451.4,69.5 451.7,70.1 451.9,69.3 452.2,69.8 452.4,70.1 452.7,70.3 452.9,70.4 453.2,70.1 453.4,69.9 453.7,70.2 453.9,69.8 454.1,68.9 454.4,70.5 454.6,69.5 454.9,69.5 455.1,69.4 455.4,69.4 455.6,69.5 455.9,69.6 456.1,69.6 456.4,69.8 456.6,69.7 456.9,69.3 457.1,69.3 457.4,69.3 457.6,69.6 457.9,69.8 458.1,68.3 458.4,69 458.6,68.8 458.9,69.1 459.1,68.9 459.4,68.7 459.6,68.5 459.8,69.2 460.1,68.9 460.3,68.7 460.6,69.8 460.8,69.1 461.1,68.9 461.3,69.4 461.6,69.3 461.8,68.5 462.1,68.8 462.3,69 462.6,69.2 462.8,68.9 463.1,67.5 463.3,68.9 463.6,69.4 463.8,69.6 464.1,68.4 464.3,68.7 464.6,69.3 464.8,68.3 465.1,68.3 465.3,69.2 465.6,69.1 465.8,68.6 466,68.8 466.3,68.6 466.5,68.3 466.8,69 467,68.6 467.3,69.3 467.5,68.4 467.8,68.2 468,69.8 468.3,69.2 468.5,68.5 468.8,69.3 469,68.6 469.3,68.3 469.5,68.5 469.8,68.2 470,68.5 470.3,68 470.5,68.5 470.8,68.6 471,68.8 471.3,69.1 471.5,68.4 471.7,68.3 472,68.3 472.2,68.6 472.5,68.4 472.7,67.8 473,68 473.2,67.6 473.5,67.9 473.7,68.2 474,67.1 474.2,68.4 474.5,68.6 474.7,68.2 475,67.8 475.2,67.5 475.5,67.7 475.7,68 476,67.2 476.2,67.6 476.5,67.6 476.7,67.9 477,67 477.2,67.1 477.5,67.9 477.7,67.1 477.9,67.4 478.2,67.6 478.4,67 478.7,67.7 478.9,67.4 479.2,66.9 479.4,67.3 479.7,67.9 479.9,67.6 480.2,67.2 480.4,67.6 480.7,67.3 480.9,67 481.2,67.5 481.4,67.8 481.7,67.1 481.9,66.5 482.2,67.2 482.4,67 482.7,66.9 482.9,67 483.2,67.6 483.4,66.9 483.6,66.9 483.9,67.4 484.1,66.9 484.4,67.4 484.6,67.5 484.9,67.4 485.1,66.6 485.4,66.6 485.6,66.9 485.9,66.3 486.1,67.2 486.4,66.6 486.6,67.1 486.9,67.7 487.1,66.5 487.4,66.7 487.6,67.4 487.9,67 488.1,66.6 488.4,66.9 488.6,66.5 488.9,67.4 489.1,65.9 489.4,66.8 489.6,67 489.8,66.9 490.1,66.9 490.3,67.3 490.6,67.1 490.8,66.6 491.1,66.3 491.3,67.1 491.6,66.4 491.8,66.7 492.1,65.7 492.3,66.3 492.6,66.2 492.8,66.4 493.1,66.3 493.3,66.6 493.6,66.8 493.8,65.8 494.1,65.9 494.3,66 494.6,66.9 494.8,66.4 495.1,66.2 495.3,66.4 495.5,67.1 495.8,66.4 496,66.9 496.3,66.8 496.5,66.2 496.8,67.6 497,65.9 497.3,66.8 497.5,66.5 497.8,66.4 498,66.5 498.3,66.4 498.5,66.6 498.8,66.3 499,66.7 499.3,66.3 499.5,66.3 499.8,66.4 500,65.8 500.3,66.4 500.5,66.5 500.8,65.5 501,65.7 501.2,66.1 501.5,66.4 501.7,65.7 502,66.1 502.2,66.3 502.5,66.3 502.7,65.9 503,66.2 503.2,66.5 503.5,67.1 503.7,66 504,66.3 504.2,66 504.5,66.2 504.7,65.9 505,66.1 505.2,66.3 505.5,66.4 505.7,67.1 506,66.9 506.2,65.6 506.5,66.7 506.7,66.6 507,65.6 507.2,66.3 507.4,67.2 507.7,67.4 507.9,67.1 508.2,66.6 508.4,66.2 508.7,66.3 508.9,66.7 509.2,66.2 509.4,67 509.7,66.6 509.9,66.1 510.2,65.5 510.4,66.8 510.7,66.9 510.9,66.4 511.2,66.4 511.4,66.2 511.7,66.3 511.9,65.9 512.2,65.8 512.4,66.2 512.7,66.9 512.9,66.6 513.1,66.4 513.4,66.5 513.6,66 513.9,66.2 514.1,66.3 514.4,66.4 514.6,66 514.9,66.7 515.1,66.8 515.4,66.5 515.6,66.7 515.9,66.5 516.1,67.2 516.4,66.3 516.6,66.5 516.9,65.9 517.1,65.8 517.4,66 517.6,66.7 517.9,66.1 518.1,66 518.4,66.5 518.6,65.9 518.9,66.3 519.1,66.6 519.3,65.8 519.6,66.2 519.8,65.2 520.1,65.8 520.3,66.1 520.6,65.8 520.8,65.9 521.1,65.9 521.3,66.1 521.6,66.1 521.8,65.2 522.1,66 522.3,65.1 522.6,66 522.8,65.4 523.1,65.7 523.3,65.2 523.6,65.6 523.8,65.6 524.1,65.8 524.3,65.5 524.6,65.4 524.8,65.2 525,65.6 525.3,65.6 525.5,65.6 525.8,66.3 526,65.4 526.3,65.9 526.5,65.5 526.8,65.7 527,65.6 527.3,65.5 527.5,65.9 527.8,65.4 528,64.8 528.3,64.8 528.5,64.7 528.8,65 529,65.2 529.3,64.7 529.5,65.4 529.8,65 530,65.1 530.3,65.3 530.5,65.6 530.7,65.2 531,64.6 531.2,65.2 531.5,65.4 531.7,65.2 532,65.4 532.2,65.3 532.5,65.5 532.7,65 533,65.4 533.2,65.3 533.5,65.2 533.7,65.8 534,64.7 534.2,64.6 534.5,65.4 534.7,64.3 535,65.2 535.2,65.3 535.5,65.1 535.7,65 536,65.4 536.2,65 536.5,65.6 536.7,64.9 536.9,65.4 537.2,65.7 537.4,65.2 537.7,65.6 537.9,64.8 538.2,64.6 538.4,65.6 538.7,65.4 538.9,65.6 539.2,65.6 539.4,65.5 539.7,65.2 539.9,65.7 540.2,64.9 540.4,64.4 540.7,65.6 540.9,65.2 541.2,65.4 541.4,66.1 541.7,65.9 541.9,64.6 542.2,65.2 542.4,64.7 542.6,65.2 542.9,64.9 543.1,64.8 543.4,65.4 543.6,64.7 543.9,64.8 544.1,65.3 544.4,65.2 544.6,65.7 544.9,64.7 545.1,65.6 545.4,65.2 545.6,65.5 545.9,65.4 546.1,64.9 546.4,65.2 546.6,64.8"/>
<polyline stroke="#e98f9c" points="335.9,174.3 336.1,173.8 336.4,172.6 336.6,172.7 336.9,170.4 337.1,165.5 337.4,166.1 337.6,164.7 337.9,161.4 338.1,157.3 338.4,153.8 338.6,153.6 338.9,149.7 339.1,146.3 339.4,142.6 339.6,142.6 339.9,144.3 340.1,141.5 340.4,140.9 340.6,142 340.9,141.7 341.1,143.3 341.4,142 341.6,140.6 341.8,135.2 342.1,137.5 342.3,135.4 342.6,136.4 342.8,136.7 343.1,133.1 343.3,135.7 343.6,133.5 343.8,134 344.1,135.2 344.3,134.5 344.6,132.1 344.8,133.4 345.1,130.2 345.3,132.5 345.6,130.4 345.8,131 346.1,130.9 346.3,129.5 346.6,130.4 346.8,130.6 347.1,130.1 347.3,128.4 347.6,128 347.8,126 348,127 348.3,125.9 348.5,125.4 348.8,126.7 349,124.4 349.3,126.6 349.5,128.3 349.8,129.7 350,124.9 350.3,122.6 350.5,124.6 350.8,130.5 351,121.1 351.3,120.8 351.5,123.8 351.8,121.6 352,119.7 352.3,122.5 352.5,122.2 352.8,120.4 353,119.2 353.3,120.2 353.5,119.2 353.7,118.9 354,118.5 354.2,118.2 354.5,119.8 354.7,120.9 355,118.5 355.2,118.7 355.5,120.2 355.7,115 356,117.6 356.2,115.1 356.5,117.2 356.7,115.4 357,115.1 357.2,114.8 357.5,115.2 357.7,115.1 358,114.5 358.2,110.4 358.5,112.1 358.7,114.7 359,113.6 359.2,114.7 359.5,110.7 359.7,111.6 359.9,112.6 360.2,113.6 360.4,113.2 360.7,112.2 360.9,112 361.2,111.6 361.4,111.2 361.7,112.2 361.9,110.2 362.2,110.3 362.4,109.2 362.7,111.4 362.9,108.6 363.2,108 363.4,108.6 363.7,109.8 363.9,109.6 364.2,108.5 364.4,107.7 364.7,107.3 364.9,107.6 365.2,109.4 365.4,107.6 365.6,107 365.9,107.4 366.1,106 366.4,105 366.6,107.4 366.9,105.2 367.1,106.6 367.4,106.5 367.6,105.5 367.9,102.8 368.1,104 368.4,104.7 368.6,102.9 368.9,103.9 369.1,103.3 369.4,104.8 369.6,104.5 369.9,104.8 370.1,101.9 370.4,104.3 370.6,100.9 370.9,103.8 371.1,102.1 371.3,101.6 371.6,102.9 371.8,103.6 372.1,101.8 372.3,99.3 372.6,99.3 372.8,102 373.1,100.4 373.3,100.4 373.6,98.8 373.8,99.4 374.1,100.5 374.3,97 374.6,98.3 374.8,99.8 375.1,97.5 375.3,97.7 375.6,97.1 375.8,99.4 376.1,97.8 376.3,98.5 376.6,97.8 376.8,97.6 377.1,96.8 377.3,98 377.5,95.8 377.8,97.1 378,96.1 378.3,96.4 378.5,95.8 378.8,95.2 379,96.1 379.3,94.7 379.5,95.8 379.8,94.8 380,95.1 380.3,95.5 380.5,96.8 380.8,95.3 381,94.9 381.3,94.6 381.5,92.7 381.8,94.7 382,93 382.3,91 382.5,94.1 382.8,92.7 383,92.2 383.2,92.7 383.5,92.4 383.7,91.8 384,90 384.2,92.7 384.5,91.5 384.7,91.6 385,89.7 385.2,90.1 385.5,89.5 385.7,90.6 386,90.6 386.2,90.8 386.5,91 386.7,91.2 387,90 387.2,89.5 387.5,89.8 387.7,91.3 388,89.3 388.2,87.2 388.5,89.5 388.7,90.2 389,88.1 389.2,89.9 389.4,88.8 389.7,88.5 389.9,89 390.2,89.2 390.4,88 390.7,89.1 390.9,87.7 391.2,87.4 391.4,88.6 391.7,86.9 391.9,88.4 392.2,87 392.4,87.7 392.7,87.9 392.9,87.2 393.2,86.5 393.4,85.9 393.7,85.8 393.9,86.8 394.2,86.1 394.4,87.9 394.7,85.1 394.9,85.6 395.1,85.5 395.4,85.5 395.6,86.6 395.9,84.7 396.1,84.7 396.4,84.7 396.6,83.7 396.9,84.5 397.1,84.6 397.4,83.2 397.6,84.1 397.9,84.4 398.1,85.3 398.4,83.8 398.6,83.6 398.9,84 399.1,82.7 399.4,84.1 399.6,82.8 399.9,82.6 400.1,81.8 400.4,82.4 400.6,82.4 400.8,81.3 401.1,80.9 401.3,81.6 401.6,82.3 401.8,81.2 402.1,82.3 402.3,80.4 402.6,81 402.8,81.7 403.1,79.6 403.3,81.9 403.6,80 403.8,80.9 404.1,80.9 404.3,81.5 404.6,81.6 404.8,80 405.1,80.8 405.3,79.3 405.6,79.9 405.8,79.5 406.1,78.4 406.3,80.7 406.6,79.4 406.8,79.7 407,78.8 407.3,79.3 407.5,79.5 407.8,79.5 408,79.1 408.3,79.8 408.5,78.3 408.8,80.5 409,78.2 409.3,78.1 409.5,78.3 409.8,78.5 410,77.6 410.3,77.6 410.5,77.5 410.8,78.2 411,77.5 411.3,77.8 411.5,78 411.8,76.9 412,78.4 412.3,77.6 412.5,78.1 412.7,78.4 413,76.4 413.2,76.6 413.5,76.8 413.7,77.7 414,76.8 414.2,76.3 414.5,77.9 414.7,76.2 415,76.3 415.2,75.3 415.5,77 415.7,75.2 416,76.2 416.2,75.9 416.5,75.6 416.7,74.6 417,75.3 417.2,74.7 417.5,75.8 417.7,75.3 418,75.1 418.2,76.4 418.5,75.4 418.7,75.3 418.9,75 419.2,74.4 419.4,74.8 419.7,75 419.9,75.1 420.2,75 420.4,75.8 420.7,75.1 420.9,75.4 421.2,75.6 421.4,74.2 421.7,75.2 421.9,75.2 422.2,75.5 422.4,73.8 422.7,73.6 422.9,74.2 423.2,74.5 423.4,74 423.7,73.9 423.9,74.1 424.2,73.9 424.4,75 424.6,73.9 424.9,74.2 425.1,74 425.4,73.9 425.6,74.5 425.9,73.5 426.1,73.3 426.4,74.8 426.6,74.4 426.9,72.6 427.1,74.2 427.4,72.9 427.6,72.8 427.9,72.2 428.1,73.3 428.4,73.5 428.6,73.4 428.9,73.4 429.1,73.9 429.4,73.5 429.6,73.1 429.9,73 430.1,72.3 430.3,72.3 430.6,72.6 430.8,73.6 431.1,72.3 431.3,72.7 431.6,73.5 431.8,72.7 432.1,72.8 432.3,72.3 432.6,72.1 432.8,71.4 433.1,72.6 433.3,72.1 433.6,72.7 433.8,72.4 434.1,72.8 434.3,72.1 434.6,71.7 434.8,72.1 435.1,71.2 435.3,71.9 435.6,71.4 435.8,72 436.1,71.8 436.3,70.9 436.5,72.2 436.8,71.4 437,72.5 437.3,71.8 437.5,71.2 437.8,70.5 438,71.2 438.3,71.5 438.5,71.7 438.8,71.7 439,71.5 439.3,71.4 439.5,70.8 439.8,71.8 440,71.8 440.3,70.8 440.5,71 440.8,71.5 441,71.4 441.3,71 441.5,71.4 441.8,71.6 442,71.1 442.2,70.8 442.5,71.6 442.7,71.3 443,70.8 443.2,71.9 443.5,71.1 443.7,70.5 444,71.4 444.2,70.6 444.5,69.8 444.7,70.5 445,71.3 445.2,69.7 445.5,70.4 445.7,70.2 446,70.5 446.2,71 446.5,70.7 446.7,70.7 447,69.7 447.2,70 447.5,70.7 447.7,70.4 448,70.2 448.2,69.8 448.4,70 448.7,70.9 448.9,69.8 449.2,70.8 449.4,70.5 449.7,70.9 449.9,70.4 450.2,69.8 450.4,70.1 450.7,69.6 450.9,69.6 451.2,70.1 451.4,70.2 451.7,69.3 451.9,69.5 452.2,69.3 452.4,69.2 452.7,69.9 452.9,70 453.2,69.5 453.4,69.8 453.7,69.8 453.9,69.9 454.1,69.5 454.4,69.6 454.6,69.2 454.9,69 455.1,68.7 455.4,69.1 455.6,69.1 455.9,68.9 456.1,69 456.4,68.9 456.6,69.2 456.9,68.9 457.1,69.5 457.4,68.3 457.6,68.7 457.9,68.5 458.1,69.3 458.4,69.1 458.6,68.9 458.9,69.4 459.1,68.1 459.4,68.2 459.6,68.4 459.8,67.9 460.1,69.1 460.3,68.7 460.6,67.8 460.8,67.9 461.1,68.2 461.3,67.9 461.6,68 461.8,68.2 462.1,68.2 462.3,68.4 462.6,67.9 462.8,68 463.1,67.5 463.3,68.5 463.6,67.8 463.8,67.9 464.1,68 464.3,67.8 464.6,67 464.8,66.9 465.1,68.5 465.3,67.1 465.6,68.2 465.8,68 466,67.9 466.3,68 466.5,66.9 466.8,66.7 467,68.1 467.3,67.1 467.5,67.1 467.8,67.5 468,67.4 468.3,67.3 468.5,67.4 468.8,67.6 469,67.2 469.3,67.1 469.5,67.1 469.8,67.6 470,66.8 470.3,67.6 470.5,67.3 470.8,67.5 471,67.8 471.3,67 471.5,67.3 471.7,66.5 472,67.1 472.2,66.6 472.5,67.3 472.7,67.2 473,66.7 473.2,67.1 473.5,67.3 473.7,66.9 474,66.4 474.2,66.7 474.5,66.7 474.7,65.9 475,66.6 475.2,67.1 475.5,66.8 475.7,67.4 476,67 476.2,66.3 476.5,66.7 476.7,67.3 477,67.1 477.2,67.5 477.5,65.9 477.7,67 477.9,67.3 478.2,66.2 478.4,66.8 478.7,67.2 478.9,67.2 479.2,67.3 479.4,66.9 479.7,66.9 479.9,66.7 480.2,67.2 480.4,67 480.7,66.6 480.9,66.3 481.2,66 481.4,66.3 481.7,67.3 481.9,66.9 482.2,66.5 482.4,67.1 482.7,67.2 482.9,67.4 483.2,66.7 483.4,67 483.6,66.8 483.9,67.2 484.1,66.5 484.4,67 484.6,67.1 484.9,67 485.1,67.1 485.4,66.4 485.6,66.3 485.9,66.8 486.1,66.8 486.4,65.7 486.6,66.2 486.9,65.9 487.1,66.2 487.4,66.4 487.6,66.3 487.9,65.8 488.1,65.5 488.4,66.2 488.6,66.2 488.9,65.9 489.1,66 489.4,66.3 489.6,66.5 489.8,66.5 490.1,65.6 490.3,66.3 490.6,66.3 490.8,66.3 491.1,66.6 491.3,65.9 491.6,66.1 491.8,65.9 492.1,65.5 492.3,66.1 492.6,66 492.8,66.3 493.1,65.6 493.3,65.8 493.6,65.6 493.8,65.4 494.1,66.5 494.3,65.3 494.6,66.4 494.8,66.3 495.1,66.7 495.3,65.3 495.5,66.1 495.8,65.7 496,66.2 496.3,65.3 496.5,66.4 496.8,65.9 497,66.4 497.3,66 497.5,65.4 497.8,65.8 498,65.8 498.3,65.6 498.5,66.1 498.8,66.4 499,66.4 499.3,66.1 499.5,65.5 499.8,66 500,66.2 500.3,65.9 500.5,66.3 500.8,65.7 501,65.7 501.2,66.3 501.5,65.4 501.7,66.5 502,65.8 502.2,66.1 502.5,65.7 502.7,65.7 503,66 503.2,65.9 503.5,66.6 503.7,66.6 504,66 504.2,65.9 504.5,66.2 504.7,65.8 505,65.6 505.2,66.7 505.5,65.9 505.7,65.3 506,66.1 506.2,66 506.5,66 506.7,65.8 507,66.9 507.2,65.8 507.4,66.1 507.7,65.7 507.9,66.2 508.2,66 508.4,65.8 508.7,65.5 508.9,65.9 509.2,65.7 509.4,66.2 509.7,65.9 509.9,65.7 510.2,65.1 510.4,66.1 510.7,65.7 510.9,65.9 511.2,65.5 511.4,65.9 511.7,65.3 511.9,66 512.2,64.9 512.4,65.5 512.7,65.6 512.9,65.4 513.1,65.3 513.4,65.3 513.6,65 513.9,65.3 514.1,65.5 514.4,65.8 514.6,65.4 514.9,65.5 515.1,64.8 515.4,65.5 515.6,65.3 515.9,65 516.1,64.5 516.4,65.6 516.6,65 516.9,64.6 517.1,65.5 517.4,64.6 517.6,65.6 517.9,64.9 518.1,65.1 518.4,64.9 518.6,64.6 518.9,64.2 519.1,65 519.3,64.1 519.6,64 519.8,65.2 520.1,64.6 520.3,64.4 520.6,64 520.8,64.3 521.1,64.7 521.3,64.7 521.6,64.3 521.8,64.8 522.1,64.4 522.3,64.5 522.6,64.8 522.8,63.7 523.1,64.5 523.3,63.7 523.6,64.1 523.8,64.2 524.1,64.8 524.3,64.7 524.6,64.5 524.8,64.6 525,65 525.3,63.8 525.5,63.7 525.8,64.4 526,64.6 526.3,64.7 526.5,65 526.8,64.5 527,64.7 527.3,64.5 527.5,64.4 527.8,63.9 528,64.7 528.3,64.7 528.5,64.9 528.8,64.7 529,65.2 529.3,64.2 529.5,64.6 529.8,65.3 530,64.9 530.3,64.4 530.5,64.7 530.7,65.1 531,64.7 531.2,64.8 531.5,65.1 531.7,64.8 532,65.4 532.2,65.1 532.5,65.4 532.7,64.6 533,64.6 533.2,65.1 533.5,64.9 533.7,64.4 534,65.5 534.2,65 534.5,64.8 534.7,64.7 535,65.1 535.2,65.6 535.5,65.2 535.7,64.6 536,65.1 536.2,64.8 536.5,65 536.7,64.6 536.9,65.1 537.2,64.7 537.4,64.7 537.7,65.2 537.9,64.7 538.2,64.4 538.4,64.6 538.7,65 538.9,64.9 539.2,65.2 539.4,65.1 539.7,65.4 539.9,64.5 540.2,64.6 540.4,64.6 540.7,63.7 540.9,64.5 541.2,64.3 541.4,65 541.7,64.6 541.9,64.7 542.2,64.4 542.4,64.8 542.6,64.7 542.9,64.6 543.1,64.3 543.4,64.8 543.6,64.3 543.9,64.2 544.1,64.3 544.4,63.9 544.6,64.3 544.9,64.2 545.1,64.2 545.4,64 545.6,64.1 545.9,64.2 546.1,64 546.4,64.5 546.6,64"/>
</g>
<g stroke="#383838" stroke-width="0.9" fill="none">
<path d="M335.9,5.7V174.3H546.6"/>
<path d="M335.9,174.30h-3.3M335.9,157.44h-1.6M335.9,140.58h-3.3M335.9,123.72h-1.6M335.9,106.86h-3.3M335.9,90.00h-1.6M335.9,73.14h-3.3M335.9,56.28h-1.6M335.9,39.42h-3.3M335.9,22.56h-1.6M335.9,5.70h-3.3M335.90,174.3v3.2M360.69,174.3v1.6M385.48,174.3v3.2M410.27,174.3v1.6M435.06,174.3v3.2M459.85,174.3v1.6M484.64,174.3v3.2M509.43,174.3v1.6M534.22,174.3v3.2"/>
</g>
<text transform="translate(330.50,176.20) scale(1,0.88)" font-size="7.3" text-anchor="end">0.0</text>
<text transform="translate(330.50,142.48) scale(1,0.88)" font-size="7.3" text-anchor="end">0.2</text>
<text transform="translate(330.50,108.76) scale(1,0.88)" font-size="7.3" text-anchor="end">0.4</text>
<text transform="translate(330.50,75.04) scale(1,0.88)" font-size="7.3" text-anchor="end">0.6</text>
<text transform="translate(330.50,41.32) scale(1,0.88)" font-size="7.3" text-anchor="end">0.8</text>
<text transform="translate(330.50,7.60) scale(1,0.88)" font-size="7.3" text-anchor="end">1.0</text>
<text transform="translate(335.90,185.50) scale(1,0.88)" font-size="7.2" text-anchor="middle">0</text>
<text transform="translate(385.48,185.50) scale(1,0.88)" font-size="7.2" text-anchor="middle">200</text>
<text transform="translate(435.06,185.50) scale(1,0.88)" font-size="7.2" text-anchor="middle">400</text>
<text transform="translate(484.64,185.50) scale(1,0.88)" font-size="7.2" text-anchor="middle">600</text>
<text transform="translate(534.22,185.50) scale(1,0.88)" font-size="7.2" text-anchor="middle">800</text>
<text x="441.26" y="199.65" font-size="8.8" text-anchor="middle">epoch</text>
<text transform="translate(441.86,211.80) scale(1,1.08)" font-size="11" text-anchor="middle">(b)</text>
<text transform="translate(317.20,90.00) rotate(-90)" x="0" y="0" font-size="8.5" text-anchor="middle">mAP@50-95</text>
<rect x="442.2" y="101.3" width="105.30" height="64.60" fill="#fff" stroke="#b4b4b4" stroke-width="0.6"/>
<line x1="442.6" y1="105.90" x2="458.2" y2="105.90" stroke="#70c2c8" stroke-width="1.6"/>
<text class="lg" transform="translate(459.8,108.01) scale(1,1.09)" font-size="6.4" style="stroke-width:0.12px">Yolov8s  0.604</text>
<line x1="442.6" y1="113.82" x2="458.2" y2="113.82" stroke="#b09ace" stroke-width="1.6"/>
<text class="lg" transform="translate(459.8,115.93) scale(1,1.09)" font-size="6.4" style="stroke-width:0.12px">Yolov8s+CA  0.612</text>
<line x1="442.6" y1="121.74" x2="458.2" y2="121.74" stroke="#eec4d0" stroke-width="1.6"/>
<text class="lg" transform="translate(459.8,123.85) scale(1,1.09)" font-size="6.4" style="stroke-width:0.12px">Yolov8s+Head  0.624</text>
<line x1="442.6" y1="129.66" x2="458.2" y2="129.66" stroke="#92b48e" stroke-width="1.6"/>
<text class="lg" transform="translate(459.8,131.77) scale(1,1.09)" font-size="6.4" style="stroke-width:0.12px">Yolov8s+BoT3  0.633</text>
<line x1="442.6" y1="137.58" x2="458.2" y2="137.58" stroke="#a2d496" stroke-width="1.6"/>
<text class="lg" transform="translate(459.8,139.69) scale(1,1.09)" font-size="6.4" style="stroke-width:0.12px">Yolov8s+CA+Head  0.640</text>
<line x1="442.6" y1="145.50" x2="458.2" y2="145.50" stroke="#f7bc98" stroke-width="1.6"/>
<text class="lg" transform="translate(459.8,147.61) scale(1,1.09)" font-size="6.4" style="stroke-width:0.12px">Yolov8s+BoT3+Head  0.635</text>
<line x1="442.6" y1="153.42" x2="458.2" y2="153.42" stroke="#82c4e6" stroke-width="1.6"/>
<text class="lg" transform="translate(459.8,155.53) scale(1,1.09)" font-size="6.4" style="stroke-width:0.12px">Yolov8s+CA+BoT3  0.648</text>
<line x1="442.6" y1="161.34" x2="458.2" y2="161.34" stroke="#e98f9c" stroke-width="1.6"/>
<text class="lg" transform="translate(459.8,163.45) scale(1,1.09)" font-size="6.4" style="stroke-width:0.12px">Yolov8s+CA+BoT3+Head  0.652</text>
<g fill="none" stroke-width="0.6" stroke-linejoin="round">
<polyline stroke="#70c2c8" points="27.5,410.4 27.7,410.4 28,393.4 28.2,359.3 28.5,299.1 28.7,300.7 29,286.9 29.2,304.4 29.5,279.5 29.7,293.4 30,316.3 30.2,307.4 30.5,286 30.7,290.1 31,301.4 31.2,282.9 31.5,313.9 31.7,309.6 32,317.9 32.2,318.2 32.5,340.8 32.7,343.7 33,318.7 33.2,329.3 33.4,326.1 33.7,340.9 33.9,345.7 34.2,334.9 34.4,338 34.7,346.4 34.9,335.1 35.2,325.5 35.4,334.7 35.7,342.8 35.9,339 36.2,339.2 36.4,344.9 36.7,339.7 36.9,339.8 37.2,336.2 37.4,335.9 37.7,332.2 37.9,329.9 38.2,329.5 38.4,330.9 38.7,334.7 38.9,329.1 39.2,328 39.4,312 39.6,329.4 39.9,325.5 40.1,323.1 40.4,322.2 40.6,334.7 40.9,325.6 41.1,330.9 41.4,319.3 41.6,329.7 41.9,330.9 42.1,325.6 42.4,312.2 42.6,315.6 42.9,314.7 43.1,321.4 43.4,316.4 43.6,321.6 43.9,317.7 44.1,311.3 44.4,311 44.6,315.7 44.9,318.6 45.1,316.5 45.3,321 45.6,320.9 45.8,315.1 46.1,311.1 46.3,307.6 46.6,305.1 46.8,312.2 47.1,308.6 47.3,319.1 47.6,308.5 47.8,300.2 48.1,307.2 48.3,303.3 48.6,305.8 48.8,305.3 49.1,303.8 49.3,312.8 49.6,309.5 49.8,301.7 50.1,309.6 50.3,301.5 50.6,308.9 50.8,306.7 51.1,308.1 51.3,300.9 51.5,302.8 51.8,312 52,307.7 52.3,307 52.5,300.2 52.8,300.2 53,308.1 53.3,298.6 53.5,295.6 53.8,298.9 54,296.6 54.3,284.4 54.5,297.8 54.8,298.6 55,294.6 55.3,296.3 55.5,299.6 55.8,296.2 56,298.8 56.3,288.1 56.5,298.1 56.8,287.2 57,295.7 57.2,298.1 57.5,294 57.7,287.1 58,292.2 58.2,287 58.5,289.5 58.7,291.1 59,294.3 59.2,288.9 59.5,291.1 59.7,293 60,291.3 60.2,288.3 60.5,289.2 60.7,285.6 61,281.9 61.2,286.8 61.5,285.9 61.7,285.8 62,285.9 62.2,287.7 62.5,288.9 62.7,288 62.9,289 63.2,283.3 63.4,289.4 63.7,285.1 63.9,287.1 64.2,286.5 64.4,281.4 64.7,282.7 64.9,280 65.2,285.4 65.4,284 65.7,281.7 65.9,279.7 66.2,279.9 66.4,277.3 66.7,285.1 66.9,281.7 67.2,283.1 67.4,276 67.7,285.7 67.9,283.8 68.2,278.1 68.4,284 68.7,286.7 68.9,277.3 69.1,279.2 69.4,283.2 69.6,284.3 69.9,281.9 70.1,283.4 70.4,282.9 70.6,278.6 70.9,282.8 71.1,280.9 71.4,281.9 71.6,277.5 71.9,279.7 72.1,275.9 72.4,282.2 72.6,280.2 72.9,278.9 73.1,277.6 73.4,278.8 73.6,271.6 73.9,278.6 74.1,277.7 74.4,280.1 74.6,277.3 74.8,270.1 75.1,275 75.3,277.9 75.6,272.7 75.8,276 76.1,273.5 76.3,277.9 76.6,276.2 76.8,270.7 77.1,274.2 77.3,273.7 77.6,273.1 77.8,271.8 78.1,275.7 78.3,276.9 78.6,274.5 78.8,271.7 79.1,275 79.3,271.3 79.6,278 79.8,275.4 80.1,276.2 80.3,278.3 80.6,267.9 80.8,273.2 81,267.6 81.3,271.2 81.5,274.9 81.8,268.7 82,270.2 82.3,266.5 82.5,269.2 82.8,271.3 83,269.3 83.3,270.5 83.5,272.2 83.8,270.1 84,266.3 84.3,270.8 84.5,265.6 84.8,264.6 85,266.9 85.3,267.8 85.5,264.9 85.8,267.8 86,264.6 86.3,264.9 86.5,266.5 86.7,267.5 87,268.6 87.2,266.9 87.5,269.3 87.7,267.2 88,266.7 88.2,268 88.5,266.4 88.7,265.4 89,270.7 89.2,268 89.5,269.9 89.7,269.6 90,268.7 90.2,265.8 90.5,265.5 90.7,269.4 91,268.1 91.2,268.3 91.5,268.2 91.7,264 92,265.5 92.2,271.2 92.4,266.3 92.7,265.6 92.9,269.4 93.2,263.7 93.4,265 93.7,263.3 93.9,269.5 94.2,267.4 94.4,268.3 94.7,268.1 94.9,268 95.2,269.3 95.4,266.3 95.7,269.5 95.9,264.2 96.2,264.8 96.4,270.9 96.7,267.9 96.9,265.7 97.2,261 97.4,267 97.7,263.4 97.9,262 98.2,266 98.4,268.6 98.6,268.7 98.9,269.6 99.1,265.7 99.4,265.6 99.6,267.3 99.9,262.8 100.1,266.7 100.4,265.2 100.6,263.5 100.9,263.6 101.1,264.1 101.4,264.1 101.6,264.5 101.9,262.9 102.1,263.2 102.4,267 102.6,264.3 102.9,265.2 103.1,265.7 103.4,262.4 103.6,264.8 103.9,264.4 104.1,262.7 104.3,266.4 104.6,265.4 104.8,264.7 105.1,265.8 105.3,263.2 105.6,265.1 105.8,262.7 106.1,262.9 106.3,262.7 106.6,261.7 106.8,263 107.1,261 107.3,262.9 107.6,262.1 107.8,262.2 108.1,260.7 108.3,261.6 108.6,263.6 108.8,258.6 109.1,259.8 109.3,261.7 109.6,260.8 109.8,263.4 110.1,260.5 110.3,263 110.5,260.8 110.8,261.8 111,263.8 111.3,261.2 111.5,262.1 111.8,262.7 112,262 112.3,260.3 112.5,261.3 112.8,262.4 113,262.3 113.3,261.8 113.5,264.2 113.8,262.9 114,262.4 114.3,265 114.5,258.7 114.8,262.2 115,259.8 115.3,262.6 115.5,262.4 115.8,262.7 116,265.5 116.2,264.7 116.5,262.1 116.7,263.7 117,262.6 117.2,262.7 117.5,265.3 117.7,265 118,264.7 118.2,265.9 118.5,264.9 118.7,262.9 119,261 119.2,260.5 119.5,261.4 119.7,263.2 120,263.6 120.2,259.3 120.5,261.2 120.7,262.7 121,262.9 121.2,257.6 121.5,260 121.7,260.6 121.9,260.7 122.2,261.3 122.4,259.5 122.7,259.9 122.9,258.8 123.2,263.8 123.4,260.1 123.7,260.9 123.9,259.9 124.2,260.4 124.4,264.3 124.7,261.3 124.9,258.9 125.2,260.1 125.4,262.6 125.7,263.9 125.9,259.3 126.2,260.9 126.4,260.3 126.7,262.2 126.9,259.2 127.2,261.1 127.4,260.9 127.7,262.3 127.9,260.2 128.1,259.7 128.4,261.6 128.6,260.8 128.9,259.2 129.1,261.7 129.4,259.2 129.6,258.4 129.9,259.7 130.1,261.8 130.4,259.9 130.6,258.1 130.9,259.8 131.1,261.8 131.4,258.8 131.6,259.5 131.9,258.1 132.1,258.1 132.4,259.1 132.6,260.6 132.9,263.2 133.1,263.2 133.4,260.6 133.6,261.3 133.8,260.4 134.1,261.9 134.3,261.9 134.6,259.1 134.8,260.2 135.1,260.5 135.3,258.3 135.6,261.6 135.8,259.9 136.1,261.8 136.3,260.9 136.6,260 136.8,260.2 137.1,260.7 137.3,259.9 137.6,257.9 137.8,260.2 138.1,260.6 138.3,256.6 138.6,260.5 138.8,258.9 139.1,260.2 139.3,259.7 139.6,256.9 139.8,257.2 140,258.5 140.3,255.9 140.5,258.5 140.8,256.3 141,257.1 141.3,256.1 141.5,257.5 141.8,256.9 142,257.6 142.3,260.9 142.5,254.7 142.8,257 143,257.8 143.3,258.2 143.5,259.1 143.8,259.1 144,258.4 144.3,257.4 144.5,258.2 144.8,258.4 145,257.7 145.3,259.6 145.5,257.4 145.7,259.2 146,257.9 146.2,259.5 146.5,257.5 146.7,260.2 147,256.4 147.2,259.4 147.5,259.4 147.7,259.8 148,260.2 148.2,259.2 148.5,260.7 148.7,257.6 149,259 149.2,261.4 149.5,258.8 149.7,258.2 150,258.6 150.2,259.6 150.5,259.1 150.7,262 151,260.6 151.2,261.7 151.4,260.8 151.7,258.3 151.9,257.7 152.2,257.5 152.4,260.1 152.7,258.9 152.9,259.8 153.2,259 153.4,259.3 153.7,260.4 153.9,258.1 154.2,259.9 154.4,260 154.7,259.6 154.9,259.9 155.2,261 155.4,259.1 155.7,258.5 155.9,258.1 156.2,259.2 156.4,256.9 156.7,259.4 156.9,259.2 157.2,261.1 157.4,256.6 157.6,257 157.9,256.5 158.1,259.3 158.4,256.6 158.6,258.7 158.9,255.4 159.1,256.4 159.4,256.3 159.6,255.5 159.9,255.5 160.1,253.4 160.4,253.8 160.6,256.3 160.9,254 161.1,257.4 161.4,253.4 161.6,256 161.9,256 162.1,256.1 162.4,254.3 162.6,256.1 162.9,257.2 163.1,256.9 163.3,258.1 163.6,257.2 163.8,258.8 164.1,258.8 164.3,258.9 164.6,257.8 164.8,258.8 165.1,259.2 165.3,260.3 165.6,258.3 165.8,259.4 166.1,258.9 166.3,259.4 166.6,259 166.8,259 167.1,260.5 167.3,260.6 167.6,259.5 167.8,260.6 168.1,258.9 168.3,259.4 168.6,258.6 168.8,258.8 169.1,258.8 169.3,259.6 169.5,258.8 169.8,258.2 170,258 170.3,258.3 170.5,258.4 170.8,258.6 171,258.2 171.3,258.2 171.5,257.1 171.8,257 172,257.8 172.3,257.9 172.5,257.1 172.8,256.8 173,257.1 173.3,258.1 173.5,258.2 173.8,256.4 174,256.7 174.3,257.3 174.5,257 174.8,256.9 175,256.8 175.2,257.2 175.5,256.1 175.7,256.8 176,256.9 176.2,255.6 176.5,256 176.7,255.4 177,255.7 177.2,255.3 177.5,254.9 177.7,255.4 178,255 178.2,255.7 178.5,255.2 178.7,256.4 179,255.4 179.2,255.8 179.5,256.2 179.7,255.2 180,255.6 180.2,255.5 180.5,256.4 180.7,255.8 181,255.2 181.2,256 181.4,257 181.7,256.3 181.9,256.7 182.2,257.2 182.4,257.4 182.7,257.2 182.9,258.2 183.2,257.1 183.4,257.4 183.7,257.6 183.9,257.6 184.2,257.4 184.4,258.5 184.7,258 184.9,257.9 185.2,257.9 185.4,258.4 185.7,258.3 185.9,258.1 186.2,258.2 186.4,257.9 186.7,259.3 186.9,258.7 187.1,258.9 187.4,258.7 187.6,258.8 187.9,259 188.1,258.7 188.4,259.1 188.6,258.9 188.9,258.8 189.1,258.2 189.4,257.8 189.6,257.5 189.9,258.2 190.1,257.7 190.4,257 190.6,257.2 190.9,256.6 191.1,256.5 191.4,257.1 191.6,257 191.9,256.8 192.1,257.1 192.4,256.9 192.6,257.1 192.8,256.6 193.1,257.4 193.3,257.8 193.6,257.8 193.8,258 194.1,259.1 194.3,259 194.6,259.3 194.8,259.1 195.1,259.1 195.3,259.7 195.6,260.1 195.8,259.4 196.1,259.8 196.3,259.7 196.6,259.5 196.8,259.3 197.1,259.7 197.3,259.8 197.6,259.7 197.8,259.5 198.1,259 198.3,258.1 198.6,258.6 198.8,258.8 199,258.6 199.3,258.5 199.5,258.7 199.8,258.1 200,257.8 200.3,257.8 200.5,258 200.8,257.7 201,257.9 201.3,257.8 201.5,258.3 201.8,257.5 202,258 202.3,258.8 202.5,258.1 202.8,257.9 203,257.2 203.3,258.6 203.5,257.8 203.8,258.6 204,258 204.3,258 204.5,258.2 204.7,258.4 205,258.3 205.2,257.5 205.5,257.2 205.7,257.6 206,257.4 206.2,257.3 206.5,256.9 206.7,256.9 207,256.2 207.2,256.1 207.5,256.1 207.7,256.4 208,256.4 208.2,256 208.5,255.3 208.7,255.5 209,255.8 209.2,255.5 209.5,255.8 209.7,256.4 210,255.8 210.2,256.2 210.5,257.2 210.7,257.1 210.9,257 211.2,257 211.4,257.4 211.7,258.4 211.9,258.4 212.2,258 212.4,258.8 212.7,258.6 212.9,258.9 213.2,258.7 213.4,259.4 213.7,259.4 213.9,259.3 214.2,258.3 214.4,258.3 214.7,258.4 214.9,259.1 215.2,259.2 215.4,258.7 215.7,258.8 215.9,259 216.2,258.3 216.4,258.6 216.6,257.8 216.9,257.9 217.1,257.9 217.4,258.1 217.6,257.6 217.9,257.5 218.1,257.2 218.4,257.4 218.6,257.5 218.9,257.9 219.1,257.8 219.4,257.8 219.6,257.8 219.9,258.2 220.1,258.7 220.4,258.8 220.6,258.7 220.9,258.5 221.1,258.8 221.4,259.1 221.6,258.8 221.9,258.8 222.1,258.2 222.3,258.6 222.6,258.7 222.8,258.4 223.1,258.2 223.3,258.9 223.6,258.4 223.8,258.6 224.1,258.5 224.3,258.4 224.6,257.9 224.8,258.1 225.1,258.2 225.3,258.6 225.6,258.1 225.8,257.9 226.1,258.6 226.3,258.5 226.6,257.5 226.8,257.6 227.1,257.9 227.3,257.6 227.6,257.7 227.8,257.3 228.1,259.1 228.3,258.3 228.5,258.2 228.8,258.7 229,259.2 229.3,259.6 229.5,258.9 229.8,258.7 230,260 230.3,259.8 230.5,259.2 230.8,259 231,259.3 231.3,259.4 231.5,258.5 231.8,258.2 232,259 232.3,258.3 232.5,258 232.8,258 233,257.4 233.3,257.6 233.5,257.5 233.8,257.5 234,258 234.2,256.8 234.5,257.7 234.7,257.5 235,257.1 235.2,257.3 235.5,257.6 235.7,258.2 236,257.6 236.2,257.3 236.5,257.8 236.7,258.3 237,257.6 237.2,257.3 237.5,257.8 237.7,257.9 238,258.8 238.2,258.5"/>
<polyline stroke="#b09ace" points="27.5,410.4 27.7,378.7 28,364.7 28.2,314.1 28.5,297.6 28.7,293.5 29,301.2 29.2,295.1 29.5,313.3 29.7,293.7 30,297 30.2,298.1 30.5,309.7 30.7,305.1 31,292.1 31.2,311.7 31.5,293.5 31.7,293.5 32,313.1 32.2,326 32.5,329.3 32.7,333.1 33,335.7 33.2,329.6 33.4,333.8 33.7,336.5 33.9,339.8 34.2,336.5 34.4,337.7 34.7,341.1 34.9,335.8 35.2,337.1 35.4,333.8 35.7,336.4 35.9,332.5 36.2,342.5 36.4,334.2 36.7,341.9 36.9,324.9 37.2,333 37.4,329.6 37.7,333 37.9,329.6 38.2,329.1 38.4,331.2 38.7,336.6 38.9,332.5 39.2,326.3 39.4,323.9 39.6,328.3 39.9,329.3 40.1,325.6 40.4,327.6 40.6,321.8 40.9,333.2 41.1,328.8 41.4,318.4 41.6,321.4 41.9,310.8 42.1,326 42.4,314.9 42.6,319.1 42.9,311.9 43.1,312.2 43.4,323 43.6,321.3 43.9,319.7 44.1,305.8 44.4,313.4 44.6,320.8 44.9,322.6 45.1,312.3 45.3,312.5 45.6,315.1 45.8,311.4 46.1,319.3 46.3,310.8 46.6,309.2 46.8,308.6 47.1,312.5 47.3,308.3 47.6,310.4 47.8,317.8 48.1,317.5 48.3,303.6 48.6,311 48.8,303.3 49.1,309.4 49.3,303.4 49.6,299.6 49.8,295.7 50.1,305.8 50.3,297.8 50.6,302.7 50.8,317.1 51.1,314 51.3,301.8 51.5,298.9 51.8,304.6 52,303.7 52.3,305.9 52.5,305.8 52.8,298 53,302.9 53.3,304.1 53.5,299.2 53.8,303.4 54,299.4 54.3,301.8 54.5,298.3 54.8,300 55,305.1 55.3,294.4 55.5,294.5 55.8,296.7 56,298.2 56.3,291.2 56.5,298.4 56.8,293.2 57,292 57.2,291 57.5,293.4 57.7,293.4 58,284.8 58.2,293.9 58.5,296.9 58.7,295.4 59,289.7 59.2,292.2 59.5,286.4 59.7,284.9 60,294.6 60.2,294.1 60.5,288.7 60.7,286.8 61,291.4 61.2,288.5 61.5,292.7 61.7,284.1 62,281.4 62.2,284.9 62.5,284 62.7,283.1 62.9,280.8 63.2,281.2 63.4,282.2 63.7,281.4 63.9,288.3 64.2,282.2 64.4,285.9 64.7,281.9 64.9,283 65.2,282.7 65.4,280.8 65.7,281.5 65.9,282.8 66.2,275.7 66.4,280.8 66.7,279.4 66.9,281.4 67.2,282.1 67.4,282.5 67.7,279.8 67.9,279.8 68.2,277.8 68.4,280.9 68.7,275.8 68.9,276.5 69.1,286.1 69.4,283.3 69.6,280.1 69.9,278.2 70.1,276.8 70.4,276.9 70.6,278.5 70.9,272.6 71.1,280.6 71.4,277.8 71.6,278.1 71.9,275.4 72.1,274.4 72.4,275 72.6,273.4 72.9,274.3 73.1,270.5 73.4,275.2 73.6,274.9 73.9,271.8 74.1,272.2 74.4,272 74.6,273 74.8,276.7 75.1,272.3 75.3,275.1 75.6,271.4 75.8,272.4 76.1,273.2 76.3,274.7 76.6,271.1 76.8,273.7 77.1,277.3 77.3,271 77.6,268.6 77.8,270.9 78.1,272.3 78.3,275 78.6,273.6 78.8,270.8 79.1,270.4 79.3,272.1 79.6,269.7 79.8,267.5 80.1,271.9 80.3,270.4 80.6,270.7 80.8,270.4 81,268.9 81.3,273.5 81.5,274.7 81.8,273.2 82,273.5 82.3,273.7 82.5,270.2 82.8,269.8 83,273.9 83.3,276.8 83.5,276 83.8,271.4 84,271.1 84.3,273.2 84.5,270.1 84.8,267.7 85,269.4 85.3,267.8 85.5,273.3 85.8,267.2 86,269.3 86.3,267.4 86.5,270.9 86.7,268.8 87,268.8 87.2,269 87.5,266.2 87.7,266.9 88,266.4 88.2,263.5 88.5,264.9 88.7,265 89,264.3 89.2,265.2 89.5,263.2 89.7,264.4 90,266.3 90.2,266.1 90.5,264.2 90.7,267.3 91,265.8 91.2,266.1 91.5,266.7 91.7,266.7 92,265.7 92.2,264.6 92.4,263.2 92.7,266.1 92.9,265.6 93.2,265.2 93.4,270.3 93.7,269.6 93.9,265.3 94.2,265.9 94.4,267.6 94.7,265 94.9,267.7 95.2,268.5 95.4,265.4 95.7,265.2 95.9,264.5 96.2,260.4 96.4,266.7 96.7,264.1 96.9,266.9 97.2,265.9 97.4,265.6 97.7,262.5 97.9,265.9 98.2,268.6 98.4,270.7 98.6,262.5 98.9,264.7 99.1,262.7 99.4,265.4 99.6,267 99.9,266.3 100.1,262.7 100.4,266.5 100.6,264.1 100.9,263.2 101.1,268.7 101.4,263 101.6,265.3 101.9,265.5 102.1,266 102.4,264.3 102.6,266.9 102.9,264.4 103.1,265.7 103.4,265 103.6,266.7 103.9,263.4 104.1,264.3 104.3,266.5 104.6,265.1 104.8,265.6 105.1,264.1 105.3,263.3 105.6,267.7 105.8,263.5 106.1,262.2 106.3,263 106.6,263.7 106.8,262 107.1,264.7 107.3,263.8 107.6,263.8 107.8,264.4 108.1,261.8 108.3,261.7 108.6,261.5 108.8,260.6 109.1,262.8 109.3,262 109.6,264.1 109.8,263.8 110.1,264.5 110.3,260.4 110.5,261.4 110.8,263.7 111,262.5 111.3,263.6 111.5,265 111.8,259.8 112,260.7 112.3,258.5 112.5,261.1 112.8,261 113,261.6 113.3,261.7 113.5,261.2 113.8,261.5 114,260.7 114.3,259.6 114.5,260.8 114.8,256.9 115,260.4 115.3,258 115.5,257.1 115.8,260.8 116,258.1 116.2,259.4 116.5,262.2 116.7,261.3 117,265.6 117.2,262.3 117.5,260.8 117.7,262.5 118,261.7 118.2,262.1 118.5,262.2 118.7,261.7 119,262 119.2,261.7 119.5,260 119.7,257.5 120,261.7 120.2,260.5 120.5,261 120.7,261.2 121,259.8 121.2,260.2 121.5,258.3 121.7,258.8 121.9,261.4 122.2,262.9 122.4,260.3 122.7,259.5 122.9,259.9 123.2,260.8 123.4,261 123.7,261 123.9,261.3 124.2,260.6 124.4,260.1 124.7,261.2 124.9,262.6 125.2,260 125.4,261.3 125.7,259.8 125.9,260.6 126.2,262.3 126.4,260 126.7,259.5 126.9,258.2 127.2,258.4 127.4,258.7 127.7,258.7 127.9,257.5 128.1,260.8 128.4,257.1 128.6,257.4 128.9,259.6 129.1,261.2 129.4,258.3 129.6,260.9 129.9,260.3 130.1,260.7 130.4,260.4 130.6,261.3 130.9,260 131.1,260.3 131.4,261 131.6,259.3 131.9,259.5 132.1,260.6 132.4,260.2 132.6,258.7 132.9,261.4 133.1,258.9 133.4,258.9 133.6,260.8 133.8,259.4 134.1,256.6 134.3,257.6 134.6,259.7 134.8,258.6 135.1,258.6 135.3,258.9 135.6,258.9 135.8,257.9 136.1,258.1 136.3,255.3 136.6,254.9 136.8,257 137.1,257.5 137.3,259.2 137.6,258.1 137.8,258.1 138.1,257 138.3,255 138.6,258 138.8,255.6 139.1,257.5 139.3,257.5 139.6,258.2 139.8,261.7 140,259.6 140.3,259.1 140.5,258.2 140.8,260.3 141,259.7 141.3,260.8 141.5,259.7 141.8,260.4 142,258.4 142.3,260.5 142.5,260.6 142.8,259.4 143,257.7 143.3,259 143.5,259 143.8,258 144,258.6 144.3,257.5 144.5,257.4 144.8,258.2 145,260.2 145.3,257.6 145.5,257.1 145.7,256.4 146,258.6 146.2,258.7 146.5,257.3 146.7,257.6 147,257.3 147.2,258.2 147.5,257.6 147.7,257.6 148,260.5 148.2,256.3 148.5,258.2 148.7,259.9 149,259.8 149.2,257.9 149.5,259.8 149.7,258.3 150,259.2 150.2,258.3 150.5,258.4 150.7,255.6 151,257.2 151.2,256 151.4,259 151.7,257.7 151.9,258.6 152.2,256.6 152.4,255.5 152.7,257.2 152.9,259.3 153.2,257.6 153.4,256.3 153.7,255.9 153.9,258.1 154.2,257.8 154.4,259.1 154.7,259.8 154.9,258.4 155.2,256.5 155.4,258.7 155.7,257.2 155.9,257.3 156.2,258 156.4,258.1 156.7,259 156.9,257.4 157.2,256.4 157.4,256 157.6,256.6 157.9,256.6 158.1,258.4 158.4,258.1 158.6,257.6 158.9,257.5 159.1,258.6 159.4,258 159.6,257.8 159.9,257.6 160.1,257.9 160.4,259.3 160.6,259 160.9,257.4 161.1,259.3 161.4,258.1 161.6,257 161.9,257 162.1,259.6 162.4,258.3 162.6,258.6 162.9,258.8 163.1,257.2 163.3,257.6 163.6,256.4 163.8,258.4 164.1,259.2 164.3,257.1 164.6,256.7 164.8,255.5 165.1,256.7 165.3,255.8 165.6,255.2 165.8,258.1 166.1,256.2 166.3,256.5 166.6,256.9 166.8,256.5 167.1,256.3 167.3,254.6 167.6,256.9 167.8,256.6 168.1,255.6 168.3,254.7 168.6,257.4 168.8,256.2 169.1,257.2 169.3,255.8 169.5,256.5 169.8,256.9 170,256.6 170.3,257.4 170.5,257.7 170.8,257.5 171,258.9 171.3,258 171.5,257.4 171.8,259.7 172,259.1 172.3,257.6 172.5,257.5 172.8,257.7 173,257.3 173.3,257.5 173.5,256.5 173.8,257.6 174,256 174.3,256.7 174.5,256.8 174.8,255.8 175,256.3 175.2,255 175.5,256 175.7,256.4 176,256.7 176.2,255.7 176.5,254.7 176.7,255.5 177,255.9 177.2,257.1 177.5,256.7 177.7,255.9 178,256.5 178.2,256.3 178.5,256.4 178.7,256.2 179,256.8 179.2,256.4 179.5,256.2 179.7,256.9 180,256.7 180.2,257.1 180.5,257.4 180.7,257.2 181,257.5 181.2,257.8 181.4,257.6 181.7,257.7 181.9,257.2 182.2,257.1 182.4,258.2 182.7,258.1 182.9,257.6 183.2,256.7 183.4,257.4 183.7,257.3 183.9,257.4 184.2,256.9 184.4,256.6 184.7,256.1 184.9,255.8 185.2,256.5 185.4,256.4 185.7,256.5 185.9,256.8 186.2,256.8 186.4,257.7 186.7,257.1 186.9,257.2 187.1,258.2 187.4,258.2 187.6,258 187.9,258.1 188.1,258.2 188.4,258 188.6,258.4 188.9,257.9 189.1,259 189.4,259.1 189.6,259.2 189.9,258.3 190.1,257.9 190.4,258.5 190.6,258 190.9,258.2 191.1,257 191.4,257.3 191.6,256.8 191.9,257.3 192.1,256.8 192.4,256.4 192.6,256.8 192.8,257.4 193.1,257.2 193.3,257.2 193.6,257 193.8,257.2 194.1,257.1 194.3,257.6 194.6,258.2 194.8,257.5 195.1,257.9 195.3,258.8 195.6,258.4 195.8,258.9 196.1,257.8 196.3,258.7 196.6,258.7 196.8,258.3 197.1,259.1 197.3,258.3 197.6,258.4 197.8,258.1 198.1,258.5 198.3,257.7 198.6,258.2 198.8,257.4 199,257.1 199.3,256.9 199.5,256.6 199.8,257.4 200,256.1 200.3,256.7 200.5,256.6 200.8,256.2 201,255.9 201.3,256.8 201.5,256.5 201.8,256.3 202,255.9 202.3,256.2 202.5,255.5 202.8,255.9 203,256.3 203.3,256.3 203.5,256.1 203.8,256 204,256.1 204.3,255.8 204.5,255.5 204.7,255.8 205,255.2 205.2,255.2 205.5,255.2 205.7,254.7 206,254.6 206.2,255.3 206.5,254.8 206.7,254.6 207,255.2 207.2,255.3 207.5,254.9 207.7,255.3 208,255.2 208.2,255.7 208.5,255.3 208.7,256.1 209,256.4 209.2,256.2 209.5,256.3 209.7,256.9 210,256.6 210.2,257.2 210.5,256.4 210.7,256.9 210.9,257 211.2,257.3 211.4,257.4 211.7,258.1 211.9,257.6 212.2,257.6 212.4,258.3 212.7,258.1 212.9,258.6 213.2,258 213.4,258.4 213.7,257.9 213.9,258.1 214.2,258.4 214.4,258.1 214.7,257.4 214.9,257.3 215.2,257.7 215.4,257.7 215.7,257.4 215.9,257.3 216.2,257 216.4,255.7 216.6,256.4 216.9,256 217.1,256.7 217.4,256.1 217.6,255.9 217.9,256.7 218.1,256.3 218.4,256.5 218.6,256.3 218.9,256 219.1,255.3 219.4,255.1 219.6,255.5 219.9,255.5 220.1,254.6 220.4,255 220.6,255 220.9,254.3 221.1,254.9 221.4,255.2 221.6,254.5 221.9,255.1 222.1,255.5 222.3,254.8 222.6,255.5 222.8,255.5 223.1,255.3 223.3,255.2 223.6,256.4 223.8,255.7 224.1,255.6 224.3,255.5 224.6,256 224.8,256.2 225.1,255.9 225.3,256.5 225.6,255.6 225.8,256.3 226.1,256.7 226.3,256.3 226.6,256.2 226.8,256.6 227.1,257.5 227.3,256.9 227.6,257.5 227.8,257.9 228.1,258.2 228.3,258 228.5,258.4 228.8,258.6 229,258.6 229.3,258.7 229.5,258.7 229.8,258.6 230,258.4 230.3,257.8 230.5,258.3 230.8,258.2 231,257.6 231.3,256.9 231.5,256.8 231.8,256.4 232,255.9 232.3,255.8 232.5,255.7 232.8,255.5 233,255.6 233.3,256 233.5,256.1 233.8,256.2 234,256.7 234.2,256.7 234.5,257.1 234.7,257.2 235,257.8 235.2,257.8 235.5,257.1 235.7,258 236,257.5 236.2,257.4 236.5,257.2 236.7,257.6 237,257.3 237.2,257.4 237.5,257.2 237.7,257.1 238,256.8 238.2,257.1"/>
<polyline stroke="#eec4d0" points="27.5,410.4 27.7,378.3 28,355 28.2,320.9 28.5,297.1 28.7,293.9 29,309.1 29.2,286.5 29.5,285.5 29.7,301.3 30,289.4 30.2,306.8 30.5,309.8 30.7,321.1 31,317.2 31.2,316.5 31.5,327.8 31.7,311.1 32,303.8 32.2,333.9 32.5,316.7 32.7,351.6 33,314.1 33.2,323.9 33.4,323.9 33.7,336.4 33.9,335.4 34.2,330.9 34.4,335.3 34.7,334.1 34.9,337.8 35.2,339.8 35.4,328.3 35.7,331.6 35.9,333.5 36.2,336.9 36.4,322.3 36.7,335.2 36.9,343.1 37.2,330.3 37.4,343.7 37.7,325.4 37.9,334.3 38.2,330.8 38.4,330 38.7,331 38.9,335.5 39.2,325.9 39.4,326.4 39.6,331.1 39.9,323.1 40.1,323.1 40.4,330.1 40.6,325.1 40.9,332.3 41.1,336.6 41.4,319.7 41.6,323.1 41.9,316.9 42.1,320.9 42.4,319.7 42.6,318.7 42.9,317.1 43.1,316.1 43.4,323.3 43.6,315.7 43.9,326.2 44.1,315 44.4,306.1 44.6,305.9 44.9,307.7 45.1,316.6 45.3,310.5 45.6,316.7 45.8,308.2 46.1,312.9 46.3,314.3 46.6,309.9 46.8,306.7 47.1,317 47.3,311.6 47.6,309.1 47.8,308.5 48.1,312.4 48.3,308.9 48.6,310.9 48.8,303.7 49.1,305.4 49.3,299.9 49.6,308.4 49.8,308.2 50.1,303.7 50.3,299.5 50.6,302.6 50.8,304.3 51.1,309.4 51.3,303.9 51.5,301.1 51.8,297.5 52,306.9 52.3,299.2 52.5,299.6 52.8,292.4 53,295.9 53.3,305.8 53.5,301.7 53.8,300 54,301.3 54.3,300.3 54.5,303.1 54.8,299.2 55,300.3 55.3,297.7 55.5,298.2 55.8,295.3 56,295.4 56.3,295.2 56.5,295.6 56.8,299.2 57,294.9 57.2,289.4 57.5,293.5 57.7,292.9 58,291 58.2,292 58.5,293.9 58.7,292.4 59,294.2 59.2,294.1 59.5,290.3 59.7,291.5 60,293.2 60.2,288.7 60.5,287.1 60.7,289.4 61,290.6 61.2,282.6 61.5,288.1 61.7,290.2 62,285.3 62.2,283.4 62.5,292.3 62.7,291.6 62.9,288.7 63.2,285.4 63.4,290.8 63.7,282.8 63.9,285.7 64.2,280.6 64.4,285.2 64.7,283.6 64.9,282.1 65.2,285.7 65.4,287.6 65.7,284.6 65.9,288.1 66.2,286.9 66.4,282.8 66.7,281.1 66.9,279.2 67.2,277.4 67.4,283.3 67.7,285 67.9,276.3 68.2,279.8 68.4,279.6 68.7,283.9 68.9,282.7 69.1,277.2 69.4,281.1 69.6,275.4 69.9,281.7 70.1,274.9 70.4,282.4 70.6,283 70.9,279.5 71.1,280.6 71.4,280.8 71.6,277.1 71.9,276.5 72.1,281.9 72.4,276.2 72.6,274.6 72.9,274.9 73.1,278.6 73.4,279.3 73.6,278 73.9,276.9 74.1,279.9 74.4,281.4 74.6,276.6 74.8,276.1 75.1,276.4 75.3,279.8 75.6,280.7 75.8,277.1 76.1,274.9 76.3,273.3 76.6,277 76.8,279.5 77.1,278.5 77.3,277 77.6,273.9 77.8,280 78.1,277 78.3,277.3 78.6,275.5 78.8,276.1 79.1,277.6 79.3,272.9 79.6,271.8 79.8,272.3 80.1,273.1 80.3,272.1 80.6,272.6 80.8,273.2 81,277.3 81.3,272.5 81.5,271.5 81.8,273.7 82,270.1 82.3,272 82.5,274.6 82.8,269.4 83,273.9 83.3,271 83.5,274.6 83.8,275.1 84,271.1 84.3,273.8 84.5,273.4 84.8,273.3 85,271.8 85.3,268.7 85.5,272.9 85.8,271.5 86,272.5 86.3,267.8 86.5,270.9 86.7,273 87,272.2 87.2,267.1 87.5,270.3 87.7,266.1 88,272.3 88.2,268.6 88.5,270.6 88.7,269.9 89,269.4 89.2,267.8 89.5,269.8 89.7,268.3 90,270.4 90.2,269.8 90.5,267.3 90.7,266.5 91,267.9 91.2,264.2 91.5,269.5 91.7,270.5 92,265.4 92.2,266.8 92.4,269.1 92.7,264.5 92.9,268.1 93.2,262.6 93.4,271.2 93.7,269.2 93.9,266.2 94.2,265 94.4,264.3 94.7,268.5 94.9,267.3 95.2,266.3 95.4,265.4 95.7,268 95.9,267.2 96.2,270.2 96.4,264.7 96.7,268.6 96.9,265.5 97.2,265.9 97.4,265.6 97.7,266.7 97.9,264.6 98.2,264.5 98.4,267.5 98.6,265.7 98.9,265.1 99.1,267.4 99.4,265 99.6,263.5 99.9,263.4 100.1,266.5 100.4,271.9 100.6,264.7 100.9,264.7 101.1,266.3 101.4,265.9 101.6,267.1 101.9,267.6 102.1,264.4 102.4,263.3 102.6,265.2 102.9,267.2 103.1,268.2 103.4,264 103.6,263.9 103.9,262.7 104.1,265.7 104.3,266.2 104.6,266.3 104.8,263.3 105.1,261.8 105.3,266.8 105.6,266.1 105.8,265.8 106.1,264 106.3,266.6 106.6,263.6 106.8,264.3 107.1,264.7 107.3,263.4 107.6,266.7 107.8,266.3 108.1,262.3 108.3,265 108.6,266 108.8,265.3 109.1,266.5 109.3,263.3 109.6,266.1 109.8,263.2 110.1,263.3 110.3,264.9 110.5,261.4 110.8,264.6 111,264 111.3,263.1 111.5,265.9 111.8,266.7 112,264 112.3,266 112.5,266.7 112.8,266.3 113,263.2 113.3,261.5 113.5,264.7 113.8,264.9 114,264.2 114.3,263.6 114.5,264.9 114.8,265.9 115,263.8 115.3,265.9 115.5,266.5 115.8,266.6 116,266.4 116.2,265.8 116.5,265.6 116.7,264.5 117,266.2 117.2,265.5 117.5,266 117.7,265.2 118,263.3 118.2,265.8 118.5,267.7 118.7,263.5 119,264.2 119.2,264.2 119.5,268.5 119.7,266.6 120,264.3 120.2,265.1 120.5,265.3 120.7,263.2 121,266.6 121.2,265.7 121.5,264.5 121.7,266.3 121.9,266.1 122.2,265.3 122.4,266.1 122.7,265.5 122.9,263.5 123.2,267.2 123.4,266.3 123.7,266.4 123.9,265.9 124.2,264.7 124.4,262.9 124.7,263.3 124.9,261.2 125.2,267.4 125.4,265.9 125.7,260.9 125.9,264.1 126.2,263.7 126.4,264.2 126.7,264.3 126.9,261.3 127.2,263.1 127.4,264 127.7,262.9 127.9,262.9 128.1,261.9 128.4,261.9 128.6,262.1 128.9,262.8 129.1,262 129.4,262.5 129.6,263.8 129.9,262 130.1,264.1 130.4,261.8 130.6,262.9 130.9,259.3 131.1,260.8 131.4,262.1 131.6,262.1 131.9,260.3 132.1,263 132.4,259.6 132.6,259.8 132.9,260.9 133.1,262.5 133.4,261.1 133.6,262.5 133.8,264.7 134.1,263.5 134.3,260.6 134.6,262.4 134.8,262.9 135.1,260.2 135.3,261.3 135.6,260.9 135.8,261.3 136.1,263.5 136.3,261.7 136.6,263.5 136.8,259.8 137.1,262.2 137.3,257.8 137.6,262.5 137.8,262 138.1,258.9 138.3,262.7 138.6,260.3 138.8,259.7 139.1,256.3 139.3,259.5 139.6,259.5 139.8,260.3 140,260.6 140.3,261.6 140.5,260.2 140.8,261.5 141,261.6 141.3,263.7 141.5,260.6 141.8,261.5 142,262 142.3,261.4 142.5,259.7 142.8,264.9 143,260.1 143.3,261.8 143.5,261.6 143.8,260.2 144,259.7 144.3,262.4 144.5,258.8 144.8,261.3 145,258.4 145.3,260.4 145.5,256.2 145.7,261.7 146,259.7 146.2,258 146.5,260.9 146.7,259.4 147,262.9 147.2,262.2 147.5,261.8 147.7,260.5 148,262.1 148.2,259.8 148.5,260.7 148.7,264 149,259.7 149.2,259 149.5,259.6 149.7,259.7 150,261.3 150.2,261.3 150.5,260.9 150.7,260.8 151,260.1 151.2,258.8 151.4,259.8 151.7,261.6 151.9,264.4 152.2,263.3 152.4,260.9 152.7,262.5 152.9,258.6 153.2,261.3 153.4,261 153.7,260 153.9,261.1 154.2,260.6 154.4,258.8 154.7,259 154.9,258.3 155.2,258.8 155.4,259.2 155.7,262.9 155.9,261.3 156.2,262.2 156.4,261.6 156.7,261.2 156.9,261 157.2,261 157.4,260.4 157.6,260.7 157.9,259.9 158.1,262.7 158.4,262.2 158.6,260.7 158.9,260 159.1,262.2 159.4,262.4 159.6,259.3 159.9,260.3 160.1,259.2 160.4,258.9 160.6,259.2 160.9,260.3 161.1,258.6 161.4,259.8 161.6,258.7 161.9,260.9 162.1,259.1 162.4,259.7 162.6,260.1 162.9,259.2 163.1,259.7 163.3,260 163.6,259.9 163.8,261 164.1,260 164.3,261.2 164.6,261.3 164.8,260.2 165.1,259.9 165.3,260.7 165.6,260.8 165.8,260.8 166.1,260.1 166.3,260.1 166.6,258.2 166.8,260.4 167.1,259.5 167.3,258.4 167.6,259 167.8,259.2 168.1,258.1 168.3,258.4 168.6,258.4 168.8,259.7 169.1,259 169.3,259.1 169.5,260.2 169.8,259.3 170,259.9 170.3,260.6 170.5,260.3 170.8,260.4 171,260.7 171.3,261 171.5,262.1 171.8,261.2 172,261.1 172.3,262.3 172.5,260.7 172.8,261.1 173,260.6 173.3,260.7 173.5,260.9 173.8,261.7 174,260.8 174.3,261.2 174.5,260.9 174.8,260.7 175,260.5 175.2,259.9 175.5,259.8 175.7,259.9 176,260.3 176.2,259.9 176.5,259.2 176.7,258.3 177,259.3 177.2,259.1 177.5,259 177.7,258.6 178,258.1 178.2,258.8 178.5,258.7 178.7,258.8 179,257.9 179.2,258.8 179.5,258.4 179.7,258.6 180,259.3 180.2,259.3 180.5,259.6 180.7,259.8 181,260.3 181.2,260.2 181.4,260.1 181.7,259.7 181.9,260.1 182.2,260.4 182.4,259.9 182.7,260.2 182.9,260.1 183.2,260.4 183.4,259.7 183.7,260.1 183.9,259.9 184.2,260.4 184.4,260.1 184.7,261.1 184.9,259.6 185.2,258.9 185.4,260.4 185.7,258.9 185.9,259 186.2,259 186.4,259.4 186.7,259.4 186.9,258.7 187.1,259.4 187.4,259.7 187.6,259.5 187.9,259.2 188.1,259.3 188.4,259.4 188.6,259.4 188.9,258.7 189.1,259.3 189.4,259.2 189.6,259.7 189.9,259.4 190.1,258.8 190.4,258.9 190.6,258.7 190.9,258.8 191.1,259 191.4,258.4 191.6,258.2 191.9,257.3 192.1,258.1 192.4,257.8 192.6,256.8 192.8,257.4 193.1,257.5 193.3,257 193.6,257.6 193.8,257.5 194.1,257.7 194.3,257.5 194.6,258 194.8,258 195.1,258.7 195.3,258.7 195.6,258.7 195.8,259.1 196.1,258.8 196.3,259.2 196.6,260 196.8,258.8 197.1,259.6 197.3,259.2 197.6,259.3 197.8,259.5 198.1,259.3 198.3,259.3 198.6,259.7 198.8,259.1 199,259.7 199.3,259 199.5,259.6 199.8,259.2 200,259.4 200.3,259.1 200.5,259.3 200.8,259.3 201,259.1 201.3,258.8 201.5,258.4 201.8,259 202,259.4 202.3,258.4 202.5,258.4 202.8,258.1 203,258.2 203.3,258.4 203.5,258.4 203.8,258.5 204,258.9 204.3,259.1 204.5,259.2 204.7,259.4 205,259.1 205.2,258.8 205.5,258.7 205.7,259.3 206,259 206.2,259.5 206.5,259.2 206.7,259.3 207,258.7 207.2,259.5 207.5,259.7 207.7,260 208,260.3 208.2,259.9 208.5,260 208.7,261 209,261.5 209.2,261.6 209.5,262.1 209.7,261.9 210,261.5 210.2,262.4 210.5,262.3 210.7,262.2 210.9,262.8 211.2,262.4 211.4,262.8 211.7,262.1 211.9,262.2 212.2,262.2 212.4,262.8 212.7,262.2 212.9,261.9 213.2,262 213.4,261.5 213.7,261.6 213.9,261.4 214.2,261.5 214.4,261.2 214.7,261.5 214.9,261.4 215.2,261 215.4,261.5 215.7,261.6 215.9,260.8 216.2,260.6 216.4,260.6 216.6,260 216.9,260.6 217.1,261.1 217.4,260.7 217.6,261.1 217.9,260.4 218.1,260.2 218.4,259.7 218.6,259.5 218.9,260 219.1,259.6 219.4,259.7 219.6,260.2 219.9,260.2 220.1,260.6 220.4,260.3 220.6,260.5 220.9,260.9 221.1,260.8 221.4,261.3 221.6,260.7 221.9,262.1 222.1,261.6 222.3,262.3 222.6,262.5 222.8,262.4 223.1,263.3 223.3,262.9 223.6,262.6 223.8,263.3 224.1,263.3 224.3,263.6 224.6,262.9 224.8,263.2 225.1,262.8 225.3,262.9 225.6,262.6 225.8,262.3 226.1,263.3 226.3,263.1 226.6,263.1 226.8,262.4 227.1,263.1 227.3,263.3 227.6,263.5 227.8,262.8 228.1,263.2 228.3,263 228.5,262.4 228.8,262.4 229,262.2 229.3,262 229.5,262.2 229.8,262.1 230,261.6 230.3,261.6 230.5,260.8 230.8,260.7 231,260.8 231.3,260.6 231.5,260.8 231.8,260.7 232,260.4 232.3,261.2 232.5,260.7 232.8,260.5 233,261.3 233.3,261.1 233.5,261.1 233.8,261.3 234,261 234.2,261.1 234.5,261.2 234.7,261.2 235,261.4 235.2,260.8 235.5,261 235.7,261.1 236,260.9 236.2,260.2 236.5,261 236.7,260.4 237,261.1 237.2,261.1 237.5,260.3 237.7,261.1 238,260.8 238.2,260.3"/>
<polyline stroke="#92b48e" points="27.5,410.4 27.7,379.5 28,352.2 28.2,333.7 28.5,296.9 28.7,300.6 29,260.4 29.2,286.6 29.5,300.5 29.7,293.1 30,299 30.2,275.7 30.5,303.8 30.7,302.5 31,298.2 31.2,304.4 31.5,290 31.7,316.8 32,326.9 32.2,296.3 32.5,343.7 32.7,328.9 33,332 33.2,340.3 33.4,330.8 33.7,342.9 33.9,336.6 34.2,328.2 34.4,332.1 34.7,338.8 34.9,336.8 35.2,331.7 35.4,340.4 35.7,329.8 35.9,329.3 36.2,324 36.4,330.1 36.7,329.6 36.9,338.8 37.2,328 37.4,323.9 37.7,327.8 37.9,328.8 38.2,330.2 38.4,330.8 38.7,326.6 38.9,333.8 39.2,323.1 39.4,327.6 39.6,323.4 39.9,326.7 40.1,325.2 40.4,330.4 40.6,314.3 40.9,318.3 41.1,322 41.4,327.2 41.6,312.5 41.9,318.7 42.1,321.3 42.4,322.9 42.6,319.6 42.9,312.5 43.1,321.8 43.4,317.9 43.6,317 43.9,313.5 44.1,310.6 44.4,314.7 44.6,312.9 44.9,312.5 45.1,316.9 45.3,313.4 45.6,318 45.8,311.4 46.1,312 46.3,311 46.6,314.3 46.8,301.1 47.1,306.4 47.3,312.1 47.6,314.5 47.8,310.7 48.1,311.5 48.3,310.2 48.6,308.4 48.8,314.2 49.1,312.3 49.3,308.4 49.6,316 49.8,298 50.1,303.2 50.3,304.9 50.6,301.5 50.8,303.8 51.1,304 51.3,301.3 51.5,301.9 51.8,297.3 52,300.9 52.3,295.8 52.5,292.9 52.8,296.5 53,298.1 53.3,302.9 53.5,300 53.8,301.5 54,297.5 54.3,293.1 54.5,302.7 54.8,294.7 55,302.3 55.3,297.2 55.5,292.6 55.8,296.9 56,289.8 56.3,293.6 56.5,294.7 56.8,293.6 57,293.8 57.2,292 57.5,297.5 57.7,293.1 58,295.1 58.2,291.9 58.5,294.8 58.7,291.6 59,285.1 59.2,284.5 59.5,292.4 59.7,290.5 60,288 60.2,291.8 60.5,289.6 60.7,291.4 61,286.4 61.2,291.5 61.5,280.9 61.7,290.7 62,287 62.2,281.7 62.5,284.7 62.7,293.4 62.9,282.9 63.2,284.9 63.4,283.1 63.7,290.2 63.9,276.8 64.2,289.4 64.4,279.8 64.7,287.7 64.9,287.6 65.2,281 65.4,285.7 65.7,277 65.9,278.9 66.2,281.9 66.4,284.8 66.7,284.4 66.9,281.5 67.2,281.5 67.4,283.7 67.7,281.9 67.9,281 68.2,278.2 68.4,283 68.7,280.7 68.9,277.5 69.1,278 69.4,287.2 69.6,276.7 69.9,279.8 70.1,274.7 70.4,278.6 70.6,280.1 70.9,267.9 71.1,279.1 71.4,280 71.6,275.4 71.9,272.9 72.1,273.6 72.4,274.4 72.6,277.8 72.9,268.8 73.1,279.3 73.4,273.7 73.6,278.7 73.9,273.8 74.1,274.4 74.4,273.1 74.6,277.2 74.8,276.7 75.1,280.1 75.3,276.4 75.6,277.1 75.8,274.9 76.1,276.5 76.3,272.7 76.6,273.2 76.8,270.9 77.1,270.3 77.3,273.8 77.6,269.9 77.8,270.4 78.1,276 78.3,268 78.6,273.9 78.8,271.4 79.1,267.3 79.3,271.9 79.6,267.9 79.8,271.8 80.1,271.5 80.3,266.9 80.6,270.4 80.8,266.8 81,265.6 81.3,267.5 81.5,267.6 81.8,270.4 82,270.3 82.3,268.2 82.5,267.2 82.8,271.8 83,269.3 83.3,268 83.5,265.8 83.8,268.2 84,270.3 84.3,267.6 84.5,269.8 84.8,269.4 85,267.1 85.3,262.5 85.5,263.1 85.8,271.4 86,262.7 86.3,272 86.5,269.4 86.7,269.8 87,265.2 87.2,269.2 87.5,265.7 87.7,268.7 88,267.8 88.2,268.6 88.5,267.2 88.7,267.9 89,261.1 89.2,262.2 89.5,262.9 89.7,259.6 90,265.1 90.2,266.3 90.5,266.2 90.7,267.6 91,264.7 91.2,263.3 91.5,266.1 91.7,263.4 92,263.6 92.2,265.3 92.4,266.6 92.7,263.7 92.9,264.5 93.2,266.1 93.4,267.7 93.7,260.9 93.9,262.6 94.2,265.4 94.4,266.1 94.7,263 94.9,265.6 95.2,263.9 95.4,269.2 95.7,263.9 95.9,262.5 96.2,261.9 96.4,263.2 96.7,262.4 96.9,263.3 97.2,263.7 97.4,264.4 97.7,267.5 97.9,265.6 98.2,262.8 98.4,267.3 98.6,260.8 98.9,261.4 99.1,265.6 99.4,261.3 99.6,263.6 99.9,259.7 100.1,264.1 100.4,260.5 100.6,265.3 100.9,265 101.1,267 101.4,262.3 101.6,265 101.9,259.9 102.1,265.7 102.4,261.3 102.6,261.4 102.9,264.1 103.1,262.9 103.4,258.5 103.6,263.7 103.9,260.9 104.1,261.2 104.3,262.3 104.6,266.6 104.8,264 105.1,262.4 105.3,261 105.6,264.4 105.8,266.5 106.1,266 106.3,262.8 106.6,264.3 106.8,261.4 107.1,261.6 107.3,263 107.6,265 107.8,262.1 108.1,261.3 108.3,261.8 108.6,260.4 108.8,262.8 109.1,260.2 109.3,260.1 109.6,261.4 109.8,261.3 110.1,262.3 110.3,261.8 110.5,262.5 110.8,258.9 111,260.8 111.3,263.3 111.5,261.5 111.8,259 112,258.7 112.3,259.4 112.5,264 112.8,260.7 113,264.4 113.3,259 113.5,258.9 113.8,264.6 114,262 114.3,264.8 114.5,262.1 114.8,263.5 115,264.1 115.3,260.4 115.5,261.7 115.8,260.2 116,260.8 116.2,263.4 116.5,262.6 116.7,259.6 117,259.5 117.2,262 117.5,257.7 117.7,260.3 118,258.6 118.2,260.5 118.5,259.2 118.7,262.4 119,261.6 119.2,264.2 119.5,261 119.7,263.4 120,260.6 120.2,261.8 120.5,262.5 120.7,261.2 121,261.3 121.2,262.1 121.5,257.4 121.7,261.4 121.9,257.7 122.2,257.3 122.4,257.9 122.7,260 122.9,260.4 123.2,261.2 123.4,261 123.7,261 123.9,259.7 124.2,258.5 124.4,257.2 124.7,260.6 124.9,257.1 125.2,259.9 125.4,254.4 125.7,256.1 125.9,254.9 126.2,257.4 126.4,259.3 126.7,260.3 126.9,257.6 127.2,260.3 127.4,256.8 127.7,256.8 127.9,259.2 128.1,256.1 128.4,257.7 128.6,257.3 128.9,256.8 129.1,259 129.4,257.8 129.6,259.2 129.9,256.8 130.1,258.7 130.4,255.4 130.6,255.7 130.9,258.2 131.1,257.2 131.4,257.1 131.6,254.8 131.9,255.9 132.1,256.2 132.4,253 132.6,256 132.9,255.7 133.1,255.9 133.4,255.1 133.6,257.2 133.8,253.3 134.1,256.9 134.3,257.5 134.6,253.9 134.8,253.4 135.1,255.2 135.3,256.4 135.6,258.7 135.8,254.3 136.1,257 136.3,255.3 136.6,256.8 136.8,255 137.1,257.4 137.3,256.1 137.6,257.4 137.8,257.4 138.1,258.4 138.3,255.5 138.6,260 138.8,256.3 139.1,258.7 139.3,257.8 139.6,255.7 139.8,258.9 140,255.4 140.3,257.3 140.5,255.2 140.8,255 141,254.6 141.3,256.4 141.5,255.4 141.8,256.7 142,255.5 142.3,256.2 142.5,254.5 142.8,251.7 143,254.3 143.3,257.1 143.5,255.7 143.8,255.9 144,257.7 144.3,257.3 144.5,255.2 144.8,257.9 145,253.1 145.3,258.5 145.5,256.5 145.7,254.2 146,255.9 146.2,255.4 146.5,259.4 146.7,257.4 147,258.8 147.2,257.9 147.5,256.8 147.7,258.3 148,255.9 148.2,258.6 148.5,257.1 148.7,258 149,258.7 149.2,259 149.5,258.2 149.7,255.7 150,259.1 150.2,256.9 150.5,260.2 150.7,256.4 151,258.1 151.2,257.4 151.4,256.3 151.7,256.7 151.9,256 152.2,256.5 152.4,256 152.7,257.9 152.9,256.7 153.2,256.6 153.4,258.1 153.7,255.9 153.9,256.1 154.2,257.9 154.4,256.8 154.7,256.4 154.9,257.6 155.2,256.6 155.4,256.6 155.7,258.9 155.9,256.8 156.2,256.3 156.4,259 156.7,257.6 156.9,260.6 157.2,261.3 157.4,258.8 157.6,260.1 157.9,258.1 158.1,257.1 158.4,259.4 158.6,259.8 158.9,258.4 159.1,258.3 159.4,258.3 159.6,259.8 159.9,258.1 160.1,258.3 160.4,259.8 160.6,258.7 160.9,257 161.1,258.2 161.4,259.2 161.6,256.6 161.9,256.1 162.1,257.2 162.4,256.6 162.6,255.9 162.9,256.9 163.1,255.5 163.3,254.2 163.6,254.6 163.8,255 164.1,255.3 164.3,252.7 164.6,256.2 164.8,254.7 165.1,255.2 165.3,255.3 165.6,254.7 165.8,254.8 166.1,253.4 166.3,253.3 166.6,253.7 166.8,254.2 167.1,255 167.3,255 167.6,253.4 167.8,254.1 168.1,255.9 168.3,254.8 168.6,255.4 168.8,254.2 169.1,253.5 169.3,253.2 169.5,254.1 169.8,254 170,254.1 170.3,255 170.5,254.3 170.8,254 171,253.8 171.3,253.7 171.5,254.2 171.8,253.9 172,255.4 172.3,254.4 172.5,254.7 172.8,253.8 173,255.5 173.3,254.6 173.5,255.6 173.8,255.7 174,255.8 174.3,255.7 174.5,257.2 174.8,257.7 175,256.1 175.2,256.6 175.5,256.5 175.7,257.4 176,256.7 176.2,258.4 176.5,258.5 176.7,258.6 177,256.8 177.2,257.2 177.5,256.9 177.7,257.3 178,257.4 178.2,256.6 178.5,257.2 178.7,256.6 179,256.4 179.2,255.6 179.5,255.7 179.7,256 180,256 180.2,256.8 180.5,255.5 180.7,255.6 181,255.5 181.2,255.7 181.4,255.6 181.7,255.1 181.9,255.5 182.2,255.6 182.4,255.2 182.7,255.2 182.9,255.5 183.2,255.8 183.4,254.7 183.7,255.8 183.9,254.5 184.2,255 184.4,254.9 184.7,255 184.9,254.9 185.2,255.1 185.4,254.8 185.7,254.9 185.9,254.3 186.2,255.3 186.4,254.9 186.7,254.9 186.9,253.9 187.1,254.4 187.4,254.5 187.6,254.1 187.9,254.9 188.1,255.1 188.4,254.5 188.6,254.9 188.9,254.5 189.1,254.2 189.4,255 189.6,254.9 189.9,255.4 190.1,255.6 190.4,255.6 190.6,255.2 190.9,255.8 191.1,255.4 191.4,256.1 191.6,256.3 191.9,256.3 192.1,255.9 192.4,256.1 192.6,256.2 192.8,255.7 193.1,255.7 193.3,255.1 193.6,255.6 193.8,254.6 194.1,254.6 194.3,254.4 194.6,254.4 194.8,253.9 195.1,254.3 195.3,254.5 195.6,254.8 195.8,253.8 196.1,253.8 196.3,254 196.6,254.2 196.8,254 197.1,254.2 197.3,254.8 197.6,254.1 197.8,254.7 198.1,254.9 198.3,254.8 198.6,254.4 198.8,255.2 199,255.2 199.3,255.3 199.5,255.4 199.8,255.7 200,254.8 200.3,255.3 200.5,254.9 200.8,254.4 201,254.9 201.3,255 201.5,255.2 201.8,255 202,255.5 202.3,255.7 202.5,255.6 202.8,255.4 203,255.6 203.3,255.6 203.5,255.9 203.8,256 204,255.5 204.3,255.3 204.5,255.2 204.7,255.3 205,255.5 205.2,256.3 205.5,255.4 205.7,254.9 206,255.7 206.2,255.8 206.5,255.1 206.7,255.3 207,255.4 207.2,254.8 207.5,255.1 207.7,255.3 208,255.4 208.2,255.4 208.5,254.9 208.7,255.2 209,254.8 209.2,255.8 209.5,254.9 209.7,255 210,254.9 210.2,254.6 210.5,255.1 210.7,254.7 210.9,254.5 211.2,254.2 211.4,254.3 211.7,254.3 211.9,254.8 212.2,254.4 212.4,254.4 212.7,254.4 212.9,255.3 213.2,254.8 213.4,254.8 213.7,255.2 213.9,255.6 214.2,255.8 214.4,256.2 214.7,256.9 214.9,256.7 215.2,256.5 215.4,256.8 215.7,256.4 215.9,256.3 216.2,256.9 216.4,256 216.6,255.4 216.9,256 217.1,255.4 217.4,255.1 217.6,255.6 217.9,255 218.1,254.7 218.4,255.1 218.6,254.8 218.9,254.9 219.1,254.7 219.4,255.4 219.6,255 219.9,254.6 220.1,255.8 220.4,255.1 220.6,254.8 220.9,255.2 221.1,255.2 221.4,255.2 221.6,255.7 221.9,256 222.1,255.8 222.3,255.5 222.6,255.4 222.8,255.8 223.1,255.3 223.3,255.3 223.6,255.9 223.8,255.8 224.1,256.6 224.3,255.9 224.6,255.9 224.8,255.3 225.1,256.2 225.3,255.6 225.6,255.8 225.8,255.8 226.1,255.7 226.3,255.6 226.6,255.9 226.8,255.6 227.1,256.6 227.3,255.9 227.6,255.9 227.8,255.5 228.1,255.9 228.3,256.4 228.5,256.6 228.8,256.9 229,256.5 229.3,257.3 229.5,257.3 229.8,258.2 230,258.1 230.3,258.2 230.5,257.6 230.8,258.3 231,258.7 231.3,258.5 231.5,257.7 231.8,258.5 232,258 232.3,258.5 232.5,258.2 232.8,258 233,257.8 233.3,256.7 233.5,257.1 233.8,256.4 234,256.6 234.2,256.2 234.5,255.8 234.7,255.3 235,255.2 235.2,255.4 235.5,255.1 235.7,254.7 236,255 236.2,254.4 236.5,255.1 236.7,255.2 237,254.7 237.2,254.3 237.5,254.3 237.7,254.6 238,255.3 238.2,254.9"/>
<polyline stroke="#a2d496" points="27.5,410.4 27.7,378.3 28,343.2 28.2,334 28.5,321.1 28.7,303.3 29,260.4 29.2,289.1 29.5,295.6 29.7,311.6 30,313.2 30.2,314 30.5,313.1 30.7,318.5 31,301.1 31.2,323.6 31.5,322.8 31.7,295.3 32,310.7 32.2,326.3 32.5,307.5 32.7,314.8 33,325.6 33.2,329.6 33.4,341.3 33.7,341.5 33.9,345.1 34.2,327.8 34.4,334.9 34.7,332.9 34.9,332.3 35.2,325.7 35.4,335 35.7,330 35.9,337.3 36.2,324.2 36.4,332.9 36.7,336.8 36.9,332.7 37.2,341 37.4,334.5 37.7,329.9 37.9,330.8 38.2,328.6 38.4,329.5 38.7,332.1 38.9,322 39.2,333.3 39.4,330.3 39.6,328.8 39.9,322.7 40.1,324.2 40.4,327.4 40.6,326.6 40.9,318.6 41.1,316.5 41.4,323 41.6,325.9 41.9,320.2 42.1,313.2 42.4,323.1 42.6,318.1 42.9,323.9 43.1,319 43.4,314.4 43.6,316 43.9,320.7 44.1,317.9 44.4,317.6 44.6,313.1 44.9,319.9 45.1,315.1 45.3,309.2 45.6,308.4 45.8,311.5 46.1,307.2 46.3,310 46.6,308.8 46.8,303.3 47.1,314.1 47.3,306.7 47.6,317.3 47.8,312.2 48.1,308.3 48.3,307.7 48.6,301.6 48.8,306 49.1,299.3 49.3,308.5 49.6,305 49.8,306.6 50.1,312.5 50.3,305 50.6,302.3 50.8,304.6 51.1,304.5 51.3,303.8 51.5,304.4 51.8,302.2 52,305.6 52.3,298.7 52.5,308.8 52.8,305.9 53,299.6 53.3,296.6 53.5,299.1 53.8,303.1 54,298.3 54.3,302.5 54.5,295.4 54.8,290.6 55,295 55.3,299.6 55.5,293.5 55.8,290.6 56,298.7 56.3,291.7 56.5,295.6 56.8,292.3 57,290.9 57.2,296.3 57.5,297.3 57.7,283.8 58,286.1 58.2,286.4 58.5,289.6 58.7,289.8 59,288.4 59.2,291.2 59.5,290 59.7,287.7 60,287.2 60.2,289.4 60.5,290 60.7,283 61,288.8 61.2,290 61.5,286.9 61.7,288.6 62,292.6 62.2,290.9 62.5,295 62.7,291.8 62.9,282.6 63.2,286.7 63.4,295.8 63.7,287.8 63.9,281.2 64.2,289.9 64.4,281.9 64.7,288.2 64.9,286 65.2,285.4 65.4,281.4 65.7,285.7 65.9,284.1 66.2,285.7 66.4,279.7 66.7,281.6 66.9,286.1 67.2,284.4 67.4,282.9 67.7,282.1 67.9,281.7 68.2,280.1 68.4,281 68.7,277.5 68.9,283.3 69.1,279.7 69.4,276.8 69.6,278.6 69.9,278.7 70.1,281.3 70.4,283.6 70.6,285.4 70.9,282.6 71.1,282.7 71.4,276.6 71.6,283.5 71.9,278.7 72.1,279.4 72.4,274.5 72.6,282.3 72.9,275.6 73.1,283.1 73.4,277.3 73.6,274.9 73.9,280.2 74.1,277.5 74.4,275.5 74.6,280.1 74.8,280.5 75.1,281.4 75.3,277.2 75.6,279.5 75.8,271.9 76.1,276 76.3,272.7 76.6,275.2 76.8,269.4 77.1,271.2 77.3,275.1 77.6,274 77.8,279.3 78.1,272.9 78.3,276 78.6,271.1 78.8,271 79.1,274.8 79.3,270.2 79.6,275.4 79.8,274.6 80.1,277 80.3,273.6 80.6,273.6 80.8,270.3 81,269.5 81.3,272.3 81.5,268.9 81.8,268.3 82,276.7 82.3,272.2 82.5,271.8 82.8,267 83,269.3 83.3,270.3 83.5,272.4 83.8,269.5 84,267.4 84.3,270.6 84.5,272.5 84.8,267.6 85,273.3 85.3,270.2 85.5,267 85.8,271.2 86,269.3 86.3,271.9 86.5,265 86.7,268.9 87,267.5 87.2,270.1 87.5,264.5 87.7,265.7 88,268.7 88.2,267.8 88.5,272.8 88.7,268.4 89,266.2 89.2,270.1 89.5,269.6 89.7,269.7 90,267.9 90.2,268.4 90.5,272.4 90.7,267.1 91,269.5 91.2,268.6 91.5,269.3 91.7,269.6 92,267.8 92.2,270.7 92.4,270.9 92.7,268.2 92.9,265.3 93.2,268.4 93.4,268 93.7,267.8 93.9,267.2 94.2,268.3 94.4,264.3 94.7,266.8 94.9,267.4 95.2,266.8 95.4,266.2 95.7,265.5 95.9,268.2 96.2,267.8 96.4,267.7 96.7,269.6 96.9,269.7 97.2,268.9 97.4,267.9 97.7,268.9 97.9,273.6 98.2,271.2 98.4,268.6 98.6,269.8 98.9,268.9 99.1,269.9 99.4,266.8 99.6,267.9 99.9,267.3 100.1,271 100.4,266.5 100.6,269.8 100.9,264.7 101.1,269 101.4,268.3 101.6,271.4 101.9,267.2 102.1,269.1 102.4,268.4 102.6,265.5 102.9,262.6 103.1,267.5 103.4,268.6 103.6,270.1 103.9,267.1 104.1,265 104.3,268.1 104.6,267.3 104.8,262.8 105.1,263.3 105.3,263.2 105.6,267.2 105.8,266.8 106.1,267.4 106.3,266 106.6,266 106.8,264.6 107.1,264.1 107.3,264.3 107.6,263.7 107.8,263.4 108.1,265.5 108.3,265.3 108.6,265.9 108.8,260.8 109.1,264.6 109.3,265.8 109.6,265.7 109.8,264.8 110.1,264.1 110.3,264.3 110.5,264 110.8,261.2 111,265.2 111.3,263.9 111.5,261.7 111.8,266.2 112,265.6 112.3,261.8 112.5,265.4 112.8,262.6 113,264.7 113.3,261.7 113.5,259.7 113.8,263.7 114,264 114.3,262.3 114.5,264 114.8,264.3 115,263.6 115.3,262.7 115.5,259.7 115.8,261.1 116,260.7 116.2,261.1 116.5,263.2 116.7,264.6 117,261.8 117.2,264.4 117.5,260.9 117.7,263.6 118,264.4 118.2,262.5 118.5,262.8 118.7,262.5 119,264.3 119.2,263 119.5,265.9 119.7,262.9 120,266.1 120.2,263.3 120.5,263.2 120.7,262.1 121,263.1 121.2,265.3 121.5,264.2 121.7,262.4 121.9,262.3 122.2,264.4 122.4,262.7 122.7,261.1 122.9,264.4 123.2,262.4 123.4,262.3 123.7,263.2 123.9,262.5 124.2,260.7 124.4,262.2 124.7,262.6 124.9,263.1 125.2,263.5 125.4,264.8 125.7,264.5 125.9,265.2 126.2,263.4 126.4,264.4 126.7,265.4 126.9,261.1 127.2,263.1 127.4,261.2 127.7,260.4 127.9,260 128.1,262.2 128.4,265.5 128.6,261.1 128.9,261.8 129.1,263.8 129.4,265.1 129.6,259.8 129.9,259.7 130.1,259.4 130.4,259.1 130.6,259.5 130.9,260.5 131.1,260.7 131.4,259.7 131.6,260.4 131.9,260.9 132.1,260.1 132.4,261.7 132.6,262 132.9,257.9 133.1,257.4 133.4,258.8 133.6,261.6 133.8,260.9 134.1,258.9 134.3,259.6 134.6,260.5 134.8,257.8 135.1,260.2 135.3,260.3 135.6,260.3 135.8,261.2 136.1,258.9 136.3,262.6 136.6,260 136.8,259 137.1,257.6 137.3,258.8 137.6,261.2 137.8,258.3 138.1,258.2 138.3,259 138.6,259.8 138.8,260.6 139.1,259.3 139.3,258.4 139.6,254.9 139.8,257.9 140,258.4 140.3,261 140.5,260.4 140.8,259.7 141,259.1 141.3,259.2 141.5,257.7 141.8,257.2 142,257.7 142.3,260.5 142.5,260.3 142.8,260.9 143,261.9 143.3,261.7 143.5,259.5 143.8,261.2 144,259.3 144.3,260.6 144.5,260.9 144.8,260.2 145,260.3 145.3,256.7 145.5,261.5 145.7,260.3 146,262.6 146.2,261.4 146.5,259.2 146.7,260.4 147,258.8 147.2,263.5 147.5,262.5 147.7,261.2 148,262.8 148.2,262.3 148.5,263.1 148.7,260.5 149,261.7 149.2,261.3 149.5,262.7 149.7,261.4 150,258.6 150.2,259.6 150.5,260.4 150.7,261.2 151,260.3 151.2,259.7 151.4,257.3 151.7,259.2 151.9,259.6 152.2,259.4 152.4,260.4 152.7,258.8 152.9,260.3 153.2,260 153.4,259.7 153.7,256.6 153.9,257.2 154.2,259.6 154.4,258.5 154.7,259.4 154.9,258.9 155.2,259.8 155.4,259 155.7,258 155.9,260 156.2,258.5 156.4,260 156.7,259.1 156.9,261.3 157.2,259.4 157.4,261 157.6,260.9 157.9,260 158.1,257.6 158.4,259.7 158.6,258.7 158.9,259.3 159.1,260.1 159.4,260.9 159.6,260.6 159.9,261.2 160.1,258.7 160.4,259 160.6,258.6 160.9,258 161.1,256.3 161.4,258.4 161.6,257.6 161.9,257.2 162.1,256.9 162.4,257.8 162.6,256.3 162.9,258.2 163.1,257.6 163.3,259.3 163.6,257.7 163.8,258.1 164.1,258.4 164.3,258.8 164.6,257.9 164.8,257.8 165.1,256.5 165.3,259.2 165.6,258.4 165.8,258.5 166.1,258 166.3,259.7 166.6,259.9 166.8,259.5 167.1,260 167.3,259.7 167.6,260.3 167.8,259.8 168.1,259.1 168.3,259.8 168.6,259.6 168.8,259.3 169.1,259.2 169.3,259.4 169.5,260.6 169.8,260.1 170,258.2 170.3,259.5 170.5,259 170.8,258.1 171,259.3 171.3,260 171.5,259.2 171.8,258.2 172,258.1 172.3,258.3 172.5,257.4 172.8,258 173,259.8 173.3,259.7 173.5,258.7 173.8,259.5 174,257.9 174.3,259.4 174.5,258.2 174.8,258.6 175,257.7 175.2,256.8 175.5,257.7 175.7,259 176,258 176.2,258 176.5,257.5 176.7,256.8 177,257.7 177.2,257.8 177.5,258.1 177.7,258.2 178,258.1 178.2,257.6 178.5,257.3 178.7,257.5 179,257.9 179.2,257.6 179.5,258.1 179.7,257.4 180,258.5 180.2,258.8 180.5,258.2 180.7,258.6 181,257.8 181.2,258.7 181.4,258.4 181.7,258.5 181.9,258.2 182.2,258.2 182.4,259.3 182.7,259.6 182.9,259.1 183.2,258.5 183.4,258.4 183.7,259 183.9,258 184.2,258.8 184.4,258.2 184.7,258.7 184.9,259.2 185.2,258.9 185.4,258.3 185.7,258.2 185.9,258.5 186.2,257.7 186.4,258.4 186.7,258.2 186.9,258.3 187.1,258.7 187.4,259.1 187.6,258.8 187.9,259 188.1,259.3 188.4,259.2 188.6,259.6 188.9,259.3 189.1,259.6 189.4,260.2 189.6,259.6 189.9,260.3 190.1,260.9 190.4,260.9 190.6,260.7 190.9,260.3 191.1,260.7 191.4,260.1 191.6,259.8 191.9,260.8 192.1,260.4 192.4,260.6 192.6,259.8 192.8,260.7 193.1,259.5 193.3,259.7 193.6,259.3 193.8,258.9 194.1,258.9 194.3,258.6 194.6,257.3 194.8,257.4 195.1,257.2 195.3,256.5 195.6,257.1 195.8,256.3 196.1,256.6 196.3,257.1 196.6,256.8 196.8,256.5 197.1,257 197.3,257.1 197.6,256.7 197.8,257.1 198.1,257.5 198.3,258 198.6,257.4 198.8,257.4 199,257.9 199.3,257.8 199.5,258.1 199.8,257.7 200,257.8 200.3,258.1 200.5,257.9 200.8,258.3 201,257.7 201.3,257.9 201.5,258.4 201.8,258 202,258.4 202.3,258.7 202.5,258.7 202.8,259.1 203,258.9 203.3,259.2 203.5,259.3 203.8,258.7 204,260.3 204.3,259.6 204.5,258.9 204.7,259.5 205,259.6 205.2,258.6 205.5,258.3 205.7,258.9 206,258.6 206.2,258.7 206.5,258.8 206.7,258.3 207,258.2 207.2,258.4 207.5,258.8 207.7,258.4 208,258.6 208.2,258.6 208.5,258.3 208.7,258.2 209,258.6 209.2,257.8 209.5,258 209.7,257.8 210,257.9 210.2,257.6 210.5,257.7 210.7,257.2 210.9,257.3 211.2,257 211.4,256.4 211.7,257 211.9,256.4 212.2,257 212.4,256.8 212.7,257.4 212.9,257 213.2,257 213.4,258.4 213.7,257.9 213.9,257.6 214.2,257.9 214.4,258.4 214.7,258.4 214.9,258.3 215.2,258.4 215.4,259.1 215.7,258.4 215.9,258.9 216.2,258.6 216.4,258.5 216.6,258.6 216.9,258.1 217.1,258.2 217.4,258.2 217.6,257.8 217.9,258.5 218.1,258.3 218.4,257.9 218.6,258.2 218.9,258.5 219.1,258 219.4,257.8 219.6,258.4 219.9,257.7 220.1,258.1 220.4,257.8 220.6,257.7 220.9,257.2 221.1,257.5 221.4,257.2 221.6,257.5 221.9,257.3 222.1,257.5 222.3,256.8 222.6,257.1 222.8,257.2 223.1,256.7 223.3,256.7 223.6,256.8 223.8,256.8 224.1,256.9 224.3,257 224.6,257.3 224.8,257.6 225.1,257.5 225.3,258 225.6,257.6 225.8,258.3 226.1,258.6 226.3,259.3 226.6,259 226.8,259.1 227.1,259.7 227.3,259.4 227.6,259.4 227.8,259.2 228.1,258.8 228.3,259.5 228.5,258.7 228.8,258.4 229,258.4 229.3,258.7 229.5,259.1 229.8,258.5 230,258.7 230.3,258.6 230.5,258.6 230.8,259 231,259.5 231.3,259.3 231.5,259.6 231.8,259.1 232,259.3 232.3,259.8 232.5,259.8 232.8,259 233,259.7 233.3,259.8 233.5,259 233.8,259.4 234,259.6 234.2,259.5 234.5,259.1 234.7,259.6 235,259.2 235.2,259.5 235.5,259.7 235.7,259.5 236,260.1 236.2,260.2 236.5,260 236.7,259.4 237,260 237.2,259.8 237.5,260 237.7,259.8 238,260 238.2,259.6"/>
<polyline stroke="#f7bc98" points="27.5,410.4 27.7,379 28,352.3 28.2,329.5 28.5,319.5 28.7,300.3 29,311.4 29.2,289.9 29.5,308.1 29.7,285.4 30,293.4 30.2,317 30.5,322 30.7,306.1 31,298.9 31.2,309.7 31.5,305.8 31.7,313.8 32,299.5 32.2,325.3 32.5,318.2 32.7,332 33,342.2 33.2,332.5 33.4,328.9 33.7,337 33.9,333.7 34.2,330.1 34.4,336.8 34.7,331.8 34.9,324.4 35.2,337.7 35.4,321 35.7,325.3 35.9,337.9 36.2,336.9 36.4,327.3 36.7,328.4 36.9,332.7 37.2,321.6 37.4,322.8 37.7,322.9 37.9,335.4 38.2,328.3 38.4,315.3 38.7,332.5 38.9,323.4 39.2,321.4 39.4,319.6 39.6,325 39.9,330.4 40.1,324 40.4,316 40.6,316.4 40.9,322.3 41.1,316.5 41.4,314.6 41.6,321.5 41.9,321 42.1,317.6 42.4,315.5 42.6,307.3 42.9,313.5 43.1,315.7 43.4,308.1 43.6,316 43.9,317.4 44.1,312.4 44.4,316.7 44.6,321.7 44.9,309.1 45.1,314.7 45.3,313.5 45.6,308.3 45.8,302.9 46.1,307.2 46.3,308.4 46.6,312.5 46.8,307.9 47.1,305 47.3,300.5 47.6,299.9 47.8,299.8 48.1,304.3 48.3,306 48.6,305.8 48.8,300 49.1,306 49.3,301.4 49.6,297.3 49.8,298.2 50.1,299.1 50.3,303.2 50.6,297 50.8,296.6 51.1,295.3 51.3,298.7 51.5,298.9 51.8,301.5 52,302.2 52.3,296.1 52.5,296.4 52.8,297 53,299.1 53.3,290.1 53.5,300.4 53.8,293.3 54,296.8 54.3,294.7 54.5,294.6 54.8,297.4 55,291.5 55.3,294 55.5,293.5 55.8,293.7 56,296.2 56.3,283.7 56.5,293.9 56.8,294.1 57,283.4 57.2,295.2 57.5,288.5 57.7,282.4 58,288.6 58.2,288.1 58.5,287.9 58.7,294.1 59,285.5 59.2,283.9 59.5,287.2 59.7,290 60,284.8 60.2,281.8 60.5,285.3 60.7,288.3 61,284.6 61.2,287.6 61.5,290.4 61.7,282.6 62,286.6 62.2,289.5 62.5,282.3 62.7,283.2 62.9,282.2 63.2,279.8 63.4,283.3 63.7,281 63.9,280 64.2,278.8 64.4,283.8 64.7,283.2 64.9,277.7 65.2,275.1 65.4,279.9 65.7,280 65.9,285.9 66.2,276.7 66.4,279.6 66.7,282.4 66.9,278.4 67.2,281.4 67.4,280.4 67.7,279.4 67.9,277.4 68.2,273.1 68.4,278.1 68.7,280.6 68.9,276.8 69.1,279.3 69.4,280 69.6,279.8 69.9,278.1 70.1,282.4 70.4,275.5 70.6,277.5 70.9,272.3 71.1,278.4 71.4,275.2 71.6,277.5 71.9,274 72.1,274.3 72.4,270.6 72.6,271.7 72.9,271.1 73.1,274.1 73.4,272.2 73.6,273.8 73.9,273.5 74.1,274.1 74.4,273.1 74.6,272.3 74.8,276.2 75.1,271.1 75.3,272.9 75.6,272.4 75.8,268.1 76.1,263.8 76.3,277.3 76.6,273.8 76.8,272.7 77.1,274.2 77.3,270.8 77.6,271.5 77.8,270.2 78.1,269.3 78.3,268.2 78.6,268.7 78.8,268.8 79.1,270.2 79.3,268.1 79.6,266.5 79.8,269.1 80.1,268.2 80.3,267.9 80.6,267.6 80.8,271.8 81,268.2 81.3,267.7 81.5,271.7 81.8,268.2 82,267.7 82.3,272.2 82.5,263.3 82.8,266.9 83,264.6 83.3,267.9 83.5,266.6 83.8,269 84,267.2 84.3,266.7 84.5,264.7 84.8,262.2 85,269.4 85.3,265.7 85.5,262.2 85.8,265.2 86,267.6 86.3,261.2 86.5,260.5 86.7,262.2 87,263.5 87.2,263.9 87.5,264.6 87.7,262.3 88,261.7 88.2,266.4 88.5,260.9 88.7,264.3 89,262.7 89.2,263.5 89.5,262.2 89.7,262.6 90,259.4 90.2,263.6 90.5,261.7 90.7,260.3 91,259.7 91.2,265.8 91.5,259.1 91.7,260 92,260.7 92.2,263.6 92.4,266.2 92.7,262 92.9,261.3 93.2,265.5 93.4,262.3 93.7,262 93.9,261.4 94.2,258.3 94.4,264.3 94.7,261.1 94.9,261.8 95.2,258.6 95.4,257 95.7,256.8 95.9,260.5 96.2,255.5 96.4,259.7 96.7,255.6 96.9,262.9 97.2,262.7 97.4,261.4 97.7,262.3 97.9,265.6 98.2,261.8 98.4,266.6 98.6,263.8 98.9,261.9 99.1,265.3 99.4,263 99.6,263.8 99.9,264 100.1,261.5 100.4,264.6 100.6,260.5 100.9,264.9 101.1,261.1 101.4,262.6 101.6,261.4 101.9,263.2 102.1,261.9 102.4,261.6 102.6,261 102.9,261 103.1,257.5 103.4,260.4 103.6,263.2 103.9,258.8 104.1,259.3 104.3,263.9 104.6,257.9 104.8,260.9 105.1,260.5 105.3,261.7 105.6,261.4 105.8,260.9 106.1,260.2 106.3,258.2 106.6,259.1 106.8,259.5 107.1,260.3 107.3,261.9 107.6,260.8 107.8,258 108.1,258.6 108.3,260.4 108.6,259 108.8,256 109.1,257.5 109.3,257.7 109.6,256 109.8,258.1 110.1,260.4 110.3,258.6 110.5,258.9 110.8,257.2 111,258.9 111.3,259 111.5,258.7 111.8,259.8 112,260.3 112.3,261.2 112.5,257.6 112.8,258.4 113,258.8 113.3,257.5 113.5,257.5 113.8,261.6 114,258.3 114.3,261 114.5,254.8 114.8,259.4 115,255.4 115.3,258.7 115.5,258.5 115.8,259.4 116,261 116.2,255.8 116.5,260.8 116.7,258.9 117,259.2 117.2,258.5 117.5,256.4 117.7,261.2 118,258.2 118.2,259.3 118.5,257.7 118.7,258.2 119,259 119.2,255.6 119.5,257.3 119.7,257.8 120,257.5 120.2,257.9 120.5,256.4 120.7,256.9 121,257.6 121.2,258 121.5,260.1 121.7,258.7 121.9,256.8 122.2,256.7 122.4,258 122.7,254.5 122.9,255.2 123.2,257.7 123.4,255.2 123.7,258.2 123.9,255.5 124.2,256.2 124.4,258.6 124.7,253.9 124.9,258.3 125.2,255 125.4,255.7 125.7,254 125.9,254.1 126.2,255.2 126.4,260.2 126.7,257.4 126.9,252 127.2,254.8 127.4,257.4 127.7,254.3 127.9,254.2 128.1,256.3 128.4,255.4 128.6,254.8 128.9,253.2 129.1,257.1 129.4,255.5 129.6,257.9 129.9,254.6 130.1,256.2 130.4,258.9 130.6,254.2 130.9,254 131.1,252.5 131.4,254.8 131.6,257.6 131.9,257.2 132.1,253.1 132.4,254.9 132.6,256.6 132.9,255.2 133.1,255.5 133.4,253 133.6,253.5 133.8,256.2 134.1,254.2 134.3,253.2 134.6,255.6 134.8,255 135.1,256.4 135.3,254 135.6,257.1 135.8,255.4 136.1,254.9 136.3,255.2 136.6,253.8 136.8,254.2 137.1,253.2 137.3,252.2 137.6,251.9 137.8,249.6 138.1,253.6 138.3,251 138.6,253.5 138.8,253.2 139.1,253.2 139.3,251.4 139.6,253.1 139.8,253 140,252.8 140.3,252.7 140.5,250 140.8,253 141,253.6 141.3,253.2 141.5,254.5 141.8,254.8 142,253.7 142.3,253.2 142.5,254.7 142.8,255 143,253.1 143.3,256.6 143.5,256.2 143.8,254.5 144,251.8 144.3,254.9 144.5,252.2 144.8,254.3 145,256.9 145.3,251.9 145.5,252.7 145.7,254.6 146,254.3 146.2,251.9 146.5,253.6 146.7,252.2 147,252.6 147.2,254 147.5,254 147.7,252.6 148,251 148.2,253.5 148.5,255.5 148.7,253.5 149,255.4 149.2,253.8 149.5,253.3 149.7,254.3 150,254.4 150.2,254.4 150.5,253.2 150.7,253 151,253.9 151.2,254.3 151.4,255.9 151.7,256.6 151.9,254.5 152.2,253.2 152.4,256.4 152.7,253.9 152.9,253.8 153.2,253.1 153.4,252.8 153.7,253.6 153.9,251.5 154.2,252.9 154.4,254.4 154.7,252.9 154.9,252.3 155.2,251 155.4,251.8 155.7,251.7 155.9,253.2 156.2,252.3 156.4,251.4 156.7,254.1 156.9,251.5 157.2,251.8 157.4,253.3 157.6,252.3 157.9,252.1 158.1,252.3 158.4,252.2 158.6,254.2 158.9,254 159.1,254.7 159.4,255.7 159.6,253.1 159.9,253.6 160.1,255.3 160.4,253.3 160.6,253.6 160.9,254.5 161.1,257.6 161.4,254.3 161.6,254.6 161.9,253.3 162.1,254.3 162.4,254.8 162.6,253.6 162.9,253.4 163.1,253 163.3,253.3 163.6,255.3 163.8,254.1 164.1,253.3 164.3,254.9 164.6,254.2 164.8,254.1 165.1,252.7 165.3,253.8 165.6,251.9 165.8,252.2 166.1,251.6 166.3,252.5 166.6,251.9 166.8,253.2 167.1,252.9 167.3,252.1 167.6,252.3 167.8,251.8 168.1,252 168.3,252.2 168.6,254.1 168.8,251.5 169.1,253.3 169.3,252.3 169.5,253.9 169.8,252.8 170,253 170.3,254.1 170.5,254.3 170.8,254.9 171,254.6 171.3,254.5 171.5,255 171.8,255.2 172,255.9 172.3,254.8 172.5,254.4 172.8,253.5 173,254.8 173.3,254.9 173.5,254 173.8,253.8 174,252.7 174.3,252.7 174.5,252.9 174.8,252.7 175,252.6 175.2,252.1 175.5,251.5 175.7,253.3 176,252 176.2,251.2 176.5,252 176.7,252.1 177,250.8 177.2,251.5 177.5,251.2 177.7,250.7 178,250.2 178.2,251.3 178.5,250.4 178.7,250.8 179,251.1 179.2,250.6 179.5,251.1 179.7,251.1 180,250.1 180.2,251 180.5,251.1 180.7,250.8 181,252.2 181.2,250.8 181.4,251.4 181.7,251.6 181.9,252 182.2,251.4 182.4,252 182.7,252.2 182.9,252.6 183.2,251.6 183.4,252.4 183.7,252.3 183.9,252 184.2,251.9 184.4,251.5 184.7,252.3 184.9,252.5 185.2,252.1 185.4,252.2 185.7,252.1 185.9,252 186.2,251.4 186.4,251 186.7,251 186.9,251.9 187.1,251.8 187.4,250.7 187.6,251.7 187.9,251 188.1,251.8 188.4,251.7 188.6,250.9 188.9,251.9 189.1,252.5 189.4,252 189.6,253.1 189.9,253.4 190.1,253.2 190.4,253.1 190.6,253.5 190.9,253.3 191.1,253.5 191.4,253.6 191.6,253.9 191.9,254.2 192.1,254.3 192.4,254 192.6,254.1 192.8,253.9 193.1,254.3 193.3,254.2 193.6,252.5 193.8,252.7 194.1,253.1 194.3,252.6 194.6,252.5 194.8,252.7 195.1,253 195.3,252.1 195.6,252.2 195.8,252.8 196.1,252.1 196.3,252.4 196.6,251.6 196.8,253.1 197.1,252.1 197.3,252.5 197.6,252.1 197.8,252.7 198.1,252 198.3,252.1 198.6,252.5 198.8,251.9 199,252 199.3,252.4 199.5,251.8 199.8,252.3 200,252.4 200.3,252.1 200.5,253 200.8,252.7 201,252.5 201.3,253.3 201.5,252.3 201.8,252.7 202,253.2 202.3,252.4 202.5,253 202.8,253.1 203,253.3 203.3,252.8 203.5,253 203.8,252.9 204,252.9 204.3,253.1 204.5,253.1 204.7,253.1 205,252.9 205.2,252.9 205.5,253.3 205.7,253.2 206,253.3 206.2,253 206.5,252.6 206.7,253.2 207,252.7 207.2,253.9 207.5,253.4 207.7,253.2 208,254 208.2,253.8 208.5,253.7 208.7,253.7 209,253.7 209.2,252.1 209.5,253.7 209.7,252.9 210,253 210.2,252.5 210.5,252.3 210.7,252 210.9,252.1 211.2,251.8 211.4,251.9 211.7,251.7 211.9,251.8 212.2,251.7 212.4,251.3 212.7,251.4 212.9,252.4 213.2,251.9 213.4,252.4 213.7,251.4 213.9,252.1 214.2,251.3 214.4,252 214.7,252.3 214.9,251.7 215.2,252.9 215.4,251.7 215.7,251.7 215.9,252 216.2,252.5 216.4,252.4 216.6,252.1 216.9,252.7 217.1,252 217.4,251.8 217.6,252.5 217.9,252.5 218.1,251.7 218.4,252.2 218.6,252.4 218.9,252.2 219.1,252.8 219.4,252.3 219.6,252.2 219.9,251.8 220.1,252 220.4,252.6 220.6,251.6 220.9,252 221.1,251.6 221.4,251.1 221.6,250.9 221.9,251.3 222.1,251.4 222.3,250.5 222.6,250.8 222.8,250.7 223.1,250.6 223.3,250.8 223.6,250.3 223.8,250.9 224.1,250.5 224.3,250.7 224.6,251.2 224.8,250.8 225.1,251 225.3,250.9 225.6,250.6 225.8,250.7 226.1,251 226.3,250.2 226.6,250.7 226.8,250.1 227.1,250.5 227.3,250.4 227.6,250.7 227.8,251.3 228.1,251 228.3,251.2 228.5,251.5 228.8,252.2 229,251.7 229.3,252.1 229.5,252.3 229.8,252 230,252.1 230.3,252.8 230.5,252.8 230.8,252.4 231,252.5 231.3,252.5 231.5,252.8 231.8,252.2 232,252.8 232.3,253 232.5,253.3 232.8,252.8 233,253.3 233.3,253.1 233.5,253.1 233.8,253.6 234,253.3 234.2,253.4 234.5,253.9 234.7,254.4 235,254.7 235.2,254.7 235.5,254.8 235.7,254.8 236,254.6 236.2,254.8 236.5,255.1 236.7,254.7 237,255.1 237.2,254.5 237.5,255.2 237.7,254.9 238,255.4 238.2,254.9"/>
<polyline stroke="#82c4e6" points="27.5,410.4 27.7,379 28,349.5 28.2,312.9 28.5,291 28.7,295.3 29,299.9 29.2,284.2 29.5,299.8 29.7,285.3 30,307.6 30.2,290.3 30.5,307.4 30.7,315.3 31,315.1 31.2,309.1 31.5,290.6 31.7,327.9 32,316.1 32.2,334.3 32.5,336.4 32.7,325.4 33,336.8 33.2,336.3 33.4,335.4 33.7,337.7 33.9,338.2 34.2,340.4 34.4,328.3 34.7,340.2 34.9,332.3 35.2,342.1 35.4,332.8 35.7,325.6 35.9,331.4 36.2,344.7 36.4,328.7 36.7,329.6 36.9,335.1 37.2,327 37.4,326.4 37.7,332.7 37.9,326.8 38.2,328.5 38.4,325.7 38.7,327.5 38.9,336.6 39.2,326 39.4,332.6 39.6,332.1 39.9,319.3 40.1,325.6 40.4,326 40.6,337.8 40.9,326.2 41.1,322 41.4,325.7 41.6,326.2 41.9,321.2 42.1,324.4 42.4,325.5 42.6,326.9 42.9,324.9 43.1,319.3 43.4,313.2 43.6,319.9 43.9,322 44.1,317.4 44.4,322.6 44.6,318.6 44.9,317.6 45.1,313 45.3,312.9 45.6,311.8 45.8,315.4 46.1,305.9 46.3,311.3 46.6,313.7 46.8,309.8 47.1,312.6 47.3,307.1 47.6,312 47.8,308.5 48.1,301.4 48.3,303.5 48.6,304.7 48.8,308.5 49.1,309.7 49.3,308.2 49.6,303.4 49.8,302.4 50.1,304.6 50.3,301.6 50.6,309.3 50.8,300.8 51.1,313 51.3,308.5 51.5,306.7 51.8,306.2 52,303.7 52.3,292 52.5,304.7 52.8,296.3 53,305.6 53.3,297.6 53.5,304.5 53.8,298.3 54,300.2 54.3,297.9 54.5,300.1 54.8,305 55,302.3 55.3,298.4 55.5,295.1 55.8,299.2 56,298 56.3,293.8 56.5,299 56.8,294.9 57,295 57.2,291.9 57.5,300.2 57.7,294.8 58,287.8 58.2,298.6 58.5,293.1 58.7,292.7 59,293.9 59.2,293.2 59.5,293.3 59.7,283.2 60,288.5 60.2,286.4 60.5,289.7 60.7,292.1 61,283.4 61.2,283.2 61.5,288.3 61.7,288.6 62,279.4 62.2,282 62.5,284 62.7,281.2 62.9,277.6 63.2,280.2 63.4,279.3 63.7,280.1 63.9,282.9 64.2,284.8 64.4,276.5 64.7,289.5 64.9,284 65.2,281 65.4,283.7 65.7,281.7 65.9,281.1 66.2,280.2 66.4,278.7 66.7,276.1 66.9,274 67.2,278 67.4,278.7 67.7,278.2 67.9,280.3 68.2,279.8 68.4,277.8 68.7,275.6 68.9,274.2 69.1,278.7 69.4,275.3 69.6,275.5 69.9,270.6 70.1,273 70.4,272.8 70.6,279.1 70.9,278.8 71.1,275.9 71.4,274.2 71.6,279.9 71.9,274.9 72.1,274.8 72.4,274.5 72.6,271.8 72.9,279.8 73.1,278.7 73.4,274.3 73.6,276.9 73.9,274.3 74.1,273.5 74.4,280.2 74.6,270.4 74.8,270.9 75.1,279.2 75.3,276.6 75.6,272.6 75.8,276 76.1,273.5 76.3,276.8 76.6,270.9 76.8,277.3 77.1,274 77.3,272.7 77.6,276.5 77.8,271.8 78.1,271.5 78.3,269.9 78.6,275 78.8,267.4 79.1,272.6 79.3,272.1 79.6,271.1 79.8,267.9 80.1,269.9 80.3,269.6 80.6,267.5 80.8,269.1 81,269.8 81.3,269.8 81.5,268.8 81.8,267.4 82,264.8 82.3,267.3 82.5,264.7 82.8,265.3 83,263.4 83.3,266.1 83.5,267.4 83.8,271.3 84,266.8 84.3,265.1 84.5,264.7 84.8,269.7 85,267.8 85.3,268.1 85.5,267.2 85.8,264.4 86,264.9 86.3,263.5 86.5,269.6 86.7,269.9 87,266.3 87.2,267.9 87.5,266.3 87.7,266.1 88,264.3 88.2,263.5 88.5,267 88.7,264.8 89,264.2 89.2,262 89.5,264.1 89.7,268.2 90,263.6 90.2,264.9 90.5,267.1 90.7,261.7 91,265.1 91.2,263.8 91.5,265.1 91.7,263.8 92,263.3 92.2,263.1 92.4,260 92.7,260.4 92.9,265.6 93.2,262.5 93.4,261.7 93.7,262.7 93.9,263.4 94.2,264.2 94.4,265 94.7,265.8 94.9,265.6 95.2,262.9 95.4,265 95.7,261.9 95.9,265.6 96.2,261.6 96.4,265.2 96.7,265.3 96.9,264.2 97.2,259.8 97.4,260.9 97.7,265.9 97.9,260 98.2,263.5 98.4,266.3 98.6,259.1 98.9,263.2 99.1,264.2 99.4,260.4 99.6,259.9 99.9,264.9 100.1,260.3 100.4,263.4 100.6,263.8 100.9,261.5 101.1,260.7 101.4,261.7 101.6,262.5 101.9,260.6 102.1,258 102.4,261.1 102.6,258.1 102.9,261.5 103.1,260.2 103.4,260.3 103.6,262.5 103.9,257.9 104.1,260.1 104.3,260.6 104.6,260.9 104.8,260.6 105.1,259.5 105.3,258.4 105.6,260.3 105.8,260.2 106.1,261.1 106.3,262.4 106.6,259.4 106.8,262.7 107.1,258.3 107.3,259.8 107.6,261.8 107.8,259.6 108.1,262.4 108.3,261.2 108.6,263.3 108.8,257 109.1,260.3 109.3,262 109.6,259 109.8,261.5 110.1,261.3 110.3,259.9 110.5,258.3 110.8,258.4 111,259.8 111.3,261.2 111.5,260.8 111.8,260.9 112,259.5 112.3,260.5 112.5,261.3 112.8,258.5 113,260.5 113.3,261.6 113.5,257 113.8,257.3 114,261.6 114.3,259.2 114.5,260.3 114.8,256.9 115,259.2 115.3,257.9 115.5,260.9 115.8,258.1 116,254.4 116.2,256.3 116.5,256.7 116.7,256.2 117,259.1 117.2,257.7 117.5,258.1 117.7,259.2 118,258.6 118.2,256.1 118.5,256.9 118.7,258.8 119,257.1 119.2,255.2 119.5,259.8 119.7,259.3 120,259.9 120.2,256.3 120.5,260.1 120.7,259.7 121,261.5 121.2,259.8 121.5,258.7 121.7,260.4 121.9,260.5 122.2,260.3 122.4,256.8 122.7,256.5 122.9,253.7 123.2,260.8 123.4,257.3 123.7,260.7 123.9,258.9 124.2,259 124.4,258.5 124.7,260.5 124.9,254.9 125.2,256.7 125.4,257.4 125.7,257.6 125.9,257.9 126.2,254.7 126.4,256.4 126.7,257.5 126.9,254.6 127.2,254.7 127.4,254.5 127.7,256.7 127.9,255.9 128.1,256.4 128.4,253.5 128.6,254 128.9,253.5 129.1,255.6 129.4,255.9 129.6,255.5 129.9,258.9 130.1,255.3 130.4,257.2 130.6,256.2 130.9,257.6 131.1,256.3 131.4,254.4 131.6,255.8 131.9,258.4 132.1,256.8 132.4,255.6 132.6,255 132.9,255.8 133.1,255.9 133.4,254 133.6,254.9 133.8,254.9 134.1,253.7 134.3,254.3 134.6,255.2 134.8,255.9 135.1,253.2 135.3,255.6 135.6,253.2 135.8,255.9 136.1,254.2 136.3,255.1 136.6,256.6 136.8,258 137.1,254.9 137.3,256.8 137.6,255.1 137.8,254.8 138.1,254.3 138.3,256.6 138.6,255.6 138.8,257.7 139.1,255.2 139.3,255.3 139.6,255.1 139.8,256.9 140,254.8 140.3,257.6 140.5,254.9 140.8,255.1 141,254.2 141.3,256.9 141.5,254.1 141.8,258.3 142,254.7 142.3,254.9 142.5,255.6 142.8,253.6 143,254.8 143.3,258.1 143.5,254 143.8,253.7 144,254.2 144.3,254.1 144.5,254.5 144.8,252.5 145,252.9 145.3,254.1 145.5,252.3 145.7,252.4 146,254.2 146.2,252.8 146.5,253.2 146.7,253 147,252.1 147.2,255.5 147.5,251.2 147.7,253.1 148,252.9 148.2,255.3 148.5,253.8 148.7,254.6 149,252.8 149.2,253.4 149.5,254.5 149.7,255.2 150,253.7 150.2,254.8 150.5,255.3 150.7,252.5 151,253.7 151.2,252.3 151.4,253.4 151.7,253.4 151.9,253.4 152.2,253.6 152.4,253.8 152.7,251.3 152.9,253.7 153.2,252.9 153.4,251.7 153.7,250.7 153.9,250.6 154.2,253.3 154.4,252.1 154.7,252.5 154.9,253.9 155.2,252.4 155.4,254.4 155.7,254.1 155.9,253.6 156.2,251.2 156.4,254.6 156.7,251.5 156.9,256.2 157.2,252.5 157.4,253 157.6,252.3 157.9,252.5 158.1,253.2 158.4,252.7 158.6,252.7 158.9,252.9 159.1,253.2 159.4,250.5 159.6,252.2 159.9,250.2 160.1,252.2 160.4,251.9 160.6,252.1 160.9,252.1 161.1,252.1 161.4,251.3 161.6,251.4 161.9,251.5 162.1,253.1 162.4,249.4 162.6,251.6 162.9,251.6 163.1,251.2 163.3,251.7 163.6,254.7 163.8,253.2 164.1,252.9 164.3,253.7 164.6,252.3 164.8,253.1 165.1,255.1 165.3,254.1 165.6,253.5 165.8,254.9 166.1,256.4 166.3,254.9 166.6,255.8 166.8,256.9 167.1,256.2 167.3,255.8 167.6,255.7 167.8,254.9 168.1,254.9 168.3,255.8 168.6,254.7 168.8,253.8 169.1,254.4 169.3,253.9 169.5,253.4 169.8,253.4 170,253.6 170.3,252.5 170.5,252.4 170.8,252.3 171,252.8 171.3,253.2 171.5,252.6 171.8,252.9 172,253.3 172.3,252.6 172.5,252.8 172.8,254.3 173,253.6 173.3,253.7 173.5,252.7 173.8,254 174,253.6 174.3,253.4 174.5,252.3 174.8,254.1 175,254 175.2,254 175.5,254.3 175.7,254.2 176,253.9 176.2,254.1 176.5,253.8 176.7,254.1 177,254.6 177.2,253.7 177.5,253.6 177.7,254.4 178,253.2 178.2,254.2 178.5,253.6 178.7,254.2 179,253.9 179.2,253.4 179.5,253.4 179.7,253 180,253.3 180.2,253.7 180.5,252.8 180.7,253.8 181,253.9 181.2,253.3 181.4,253.6 181.7,253.8 181.9,253.5 182.2,254.1 182.4,253.3 182.7,253.8 182.9,253.8 183.2,253.6 183.4,254.5 183.7,253.7 183.9,254 184.2,254 184.4,253.9 184.7,254.5 184.9,254.4 185.2,254.1 185.4,254.6 185.7,255 185.9,255.3 186.2,255 186.4,254.6 186.7,255 186.9,254.8 187.1,254.8 187.4,255.2 187.6,255.8 187.9,255.4 188.1,254.4 188.4,255.2 188.6,254.4 188.9,254.4 189.1,254.7 189.4,254.8 189.6,253.7 189.9,254.1 190.1,253.5 190.4,253.9 190.6,254.1 190.9,253.7 191.1,253.7 191.4,253.7 191.6,253.4 191.9,253.7 192.1,254.1 192.4,254.3 192.6,254.5 192.8,253.8 193.1,254.3 193.3,253.9 193.6,254.1 193.8,254 194.1,253.9 194.3,254.4 194.6,254.3 194.8,254 195.1,253.9 195.3,253.4 195.6,253.4 195.8,253.1 196.1,252.2 196.3,252.9 196.6,252.5 196.8,253.1 197.1,253.2 197.3,252.1 197.6,252.7 197.8,253.2 198.1,253.7 198.3,254.1 198.6,254.2 198.8,253.5 199,254.7 199.3,254.9 199.5,254.8 199.8,254.8 200,254.9 200.3,255 200.5,255.1 200.8,255 201,254 201.3,254.6 201.5,255.4 201.8,254.4 202,254.5 202.3,254.7 202.5,254.8 202.8,254.3 203,255.5 203.3,255.1 203.5,255.3 203.8,254.5 204,255.2 204.3,254.5 204.5,255.2 204.7,254.1 205,254.5 205.2,254.6 205.5,254.5 205.7,254.2 206,253.9 206.2,253.7 206.5,254 206.7,253 207,253.3 207.2,253.7 207.5,253.2 207.7,253 208,253.4 208.2,254 208.5,253.7 208.7,253.9 209,254.4 209.2,254 209.5,254.5 209.7,254.5 210,254.3 210.2,255.2 210.5,254.5 210.7,255.2 210.9,254.6 211.2,255.3 211.4,255.7 211.7,254.5 211.9,254.6 212.2,256.2 212.4,255.3 212.7,256.3 212.9,255.3 213.2,255.5 213.4,255.2 213.7,255.2 213.9,255.2 214.2,255.3 214.4,254.6 214.7,254.3 214.9,254.5 215.2,253.8 215.4,254.3 215.7,253.7 215.9,253.4 216.2,254 216.4,253.3 216.6,253.6 216.9,253.4 217.1,252.2 217.4,252.8 217.6,252.9 217.9,253.2 218.1,252.7 218.4,252.9 218.6,252.8 218.9,252.8 219.1,251.9 219.4,252.5 219.6,252.7 219.9,252.6 220.1,253.2 220.4,252.6 220.6,252.9 220.9,253.2 221.1,252.6 221.4,253.7 221.6,253 221.9,253.1 222.1,253.2 222.3,253 222.6,252.8 222.8,252.4 223.1,252.3 223.3,252.4 223.6,252.1 223.8,253.3 224.1,253.1 224.3,252.6 224.6,253.1 224.8,252.9 225.1,252.8 225.3,252.6 225.6,253.1 225.8,253.3 226.1,253.5 226.3,254 226.6,254 226.8,254.4 227.1,254 227.3,254 227.6,254.4 227.8,253.8 228.1,254.2 228.3,253.4 228.5,253.8 228.8,254 229,253.4 229.3,253.1 229.5,253.4 229.8,253.4 230,253.7 230.3,253.7 230.5,253.8 230.8,253.5 231,252.9 231.3,253.6 231.5,254.1 231.8,253.6 232,253.8 232.3,253.5 232.5,253.7 232.8,254.5 233,253.9 233.3,254 233.5,254.4 233.8,253.8 234,254.3 234.2,254.7 234.5,254.7 234.7,254.6 235,254.7 235.2,255.1 235.5,255.5 235.7,255.6 236,256.3 236.2,256.2 236.5,256.5 236.7,256.6 237,256 237.2,256.5 237.5,256.9 237.7,257.5 238,256.7 238.2,257"/>
<polyline stroke="#e98f9c" points="27.5,410.4 27.7,379.4 28,310.7 28.2,335.7 28.5,281 28.7,316.6 29,303.9 29.2,336.2 29.5,321.2 29.7,293.3 30,332.9 30.2,319.3 30.5,332.9 30.7,300.5 31,331.4 31.2,299.1 31.5,310 31.7,284.7 32,281.1 32.2,332.5 32.5,336.8 32.7,282.4 33,331.4 33.2,335.4 33.4,337.8 33.7,332.7 33.9,332.1 34.2,334.2 34.4,340.4 34.7,330 34.9,343.6 35.2,326 35.4,331.2 35.7,326.6 35.9,325.5 36.2,344.8 36.4,335 36.7,326.6 36.9,324.3 37.2,337.7 37.4,333 37.7,323.7 37.9,330.5 38.2,326.8 38.4,326.9 38.7,321.7 38.9,322.6 39.2,322.1 39.4,323.1 39.6,325.1 39.9,315.8 40.1,326.3 40.4,329.9 40.6,328.4 40.9,315.6 41.1,327.3 41.4,316.6 41.6,327.1 41.9,318.4 42.1,318.5 42.4,321.2 42.6,317.4 42.9,308.7 43.1,312.3 43.4,308.3 43.6,311.4 43.9,309.6 44.1,310.6 44.4,316.3 44.6,311.7 44.9,307.2 45.1,312.8 45.3,311.9 45.6,310.8 45.8,306.2 46.1,317.2 46.3,304.3 46.6,314.3 46.8,311.4 47.1,306.4 47.3,312.4 47.6,303.9 47.8,306.2 48.1,303.8 48.3,308.3 48.6,308.9 48.8,304.2 49.1,307 49.3,303 49.6,293.7 49.8,299.3 50.1,301.8 50.3,300.5 50.6,296.1 50.8,304.7 51.1,310.2 51.3,301.5 51.5,299.3 51.8,298.4 52,299.4 52.3,303.4 52.5,298.4 52.8,290 53,299.1 53.3,295.5 53.5,301.5 53.8,298.7 54,297.3 54.3,293.5 54.5,295.2 54.8,296.4 55,293.8 55.3,297.2 55.5,288.3 55.8,293.6 56,293.7 56.3,295.7 56.5,291.3 56.8,292.1 57,294.9 57.2,293.2 57.5,302.1 57.7,291.9 58,291.1 58.2,296.5 58.5,292 58.7,284.9 59,291 59.2,284.1 59.5,294.4 59.7,286.5 60,290.1 60.2,289.8 60.5,284.2 60.7,283.2 61,290.1 61.2,288.8 61.5,281.2 61.7,284 62,279.4 62.2,281.1 62.5,277.5 62.7,277.4 62.9,284.2 63.2,278.5 63.4,280.3 63.7,280.2 63.9,279.1 64.2,278.3 64.4,287.7 64.7,278.8 64.9,281.3 65.2,276.4 65.4,273.8 65.7,280 65.9,280.4 66.2,278.6 66.4,281.4 66.7,275.8 66.9,277.7 67.2,280 67.4,282.8 67.7,275.5 67.9,277.7 68.2,274.6 68.4,283.2 68.7,275.5 68.9,277.8 69.1,278.2 69.4,274.8 69.6,270.8 69.9,276.5 70.1,275.2 70.4,278.4 70.6,273.3 70.9,276.2 71.1,272.9 71.4,270.7 71.6,271 71.9,270.9 72.1,265.7 72.4,274.3 72.6,275.2 72.9,269.9 73.1,271.8 73.4,276.3 73.6,270.4 73.9,266.9 74.1,276.3 74.4,271.4 74.6,274.5 74.8,268.1 75.1,269.4 75.3,270.8 75.6,269 75.8,274.2 76.1,270.8 76.3,272.3 76.6,274.1 76.8,266.1 77.1,272.3 77.3,272.1 77.6,272.5 77.8,268.4 78.1,271.3 78.3,268.3 78.6,270.3 78.8,271.7 79.1,273.1 79.3,272.6 79.6,276.6 79.8,271 80.1,267.7 80.3,267.4 80.6,267 80.8,271.6 81,273.2 81.3,268.9 81.5,270.2 81.8,268 82,269.5 82.3,268.5 82.5,271.3 82.8,267.9 83,271.3 83.3,264 83.5,268.7 83.8,268.4 84,269.8 84.3,269.4 84.5,266.4 84.8,263.5 85,266.4 85.3,267.1 85.5,268.5 85.8,267.4 86,262.6 86.3,268.7 86.5,266.7 86.7,267.3 87,265.9 87.2,268.4 87.5,270.7 87.7,268.3 88,268.6 88.2,267.9 88.5,270.6 88.7,266 89,269.9 89.2,262.9 89.5,264 89.7,264.5 90,265.2 90.2,266.3 90.5,262.6 90.7,265.3 91,265.2 91.2,266.3 91.5,267.5 91.7,265.7 92,269.2 92.2,269.9 92.4,266.1 92.7,268 92.9,265.8 93.2,266.9 93.4,261.3 93.7,266.7 93.9,263.5 94.2,261.8 94.4,268 94.7,260.8 94.9,262.9 95.2,261 95.4,260 95.7,263.8 95.9,263 96.2,258.9 96.4,261 96.7,262.6 96.9,258.3 97.2,261.9 97.4,258.1 97.7,257.7 97.9,259.5 98.2,257.3 98.4,259.8 98.6,261.1 98.9,260.8 99.1,260.1 99.4,259.6 99.6,260 99.9,256.2 100.1,261 100.4,260.7 100.6,258.5 100.9,261.1 101.1,258.4 101.4,258.1 101.6,262.1 101.9,261.9 102.1,260.6 102.4,259.9 102.6,261.5 102.9,262 103.1,263.7 103.4,260.8 103.6,258.9 103.9,259.6 104.1,261 104.3,257.4 104.6,261.6 104.8,259.3 105.1,259.9 105.3,261.2 105.6,258.2 105.8,260.1 106.1,260.5 106.3,260.7 106.6,258.9 106.8,259.1 107.1,259.3 107.3,260 107.6,257.4 107.8,259.1 108.1,261.6 108.3,260.9 108.6,258.5 108.8,260.4 109.1,258.7 109.3,258.9 109.6,262.2 109.8,258.1 110.1,258.3 110.3,260 110.5,258.7 110.8,260.2 111,257.8 111.3,261.9 111.5,259.7 111.8,260.8 112,260.6 112.3,257.2 112.5,258.1 112.8,260.4 113,261.3 113.3,259.2 113.5,262.4 113.8,262.2 114,262.6 114.3,260.8 114.5,261.1 114.8,263.3 115,262.2 115.3,260.9 115.5,260.6 115.8,259.3 116,260.4 116.2,259.7 116.5,260.4 116.7,259.6 117,256.7 117.2,257.8 117.5,257 117.7,258.7 118,260.2 118.2,258.5 118.5,257.4 118.7,255.1 119,256.3 119.2,257.2 119.5,256.4 119.7,256.1 120,256.2 120.2,255.4 120.5,256.6 120.7,258.4 121,259.4 121.2,258.8 121.5,256 121.7,255 121.9,258.1 122.2,254.5 122.4,256.6 122.7,256.8 122.9,256.3 123.2,255.7 123.4,257.1 123.7,256 123.9,256.1 124.2,259.7 124.4,256.3 124.7,253.5 124.9,254.7 125.2,256.6 125.4,255.7 125.7,255 125.9,256.7 126.2,255.2 126.4,256.5 126.7,258.1 126.9,256.5 127.2,259.3 127.4,257 127.7,258.4 127.9,254.9 128.1,259.1 128.4,256.3 128.6,255.3 128.9,255.5 129.1,258.1 129.4,258.5 129.6,254.8 129.9,256.6 130.1,256.7 130.4,255.6 130.6,256.3 130.9,256 131.1,256.4 131.4,256 131.6,259 131.9,256.3 132.1,254.8 132.4,256.3 132.6,255.7 132.9,253.8 133.1,256.1 133.4,253.9 133.6,253.7 133.8,253.8 134.1,254.1 134.3,256.3 134.6,256.6 134.8,253.8 135.1,255 135.3,252.4 135.6,253.8 135.8,254.7 136.1,255.3 136.3,255.8 136.6,255.5 136.8,256.2 137.1,255.9 137.3,255.1 137.6,255.3 137.8,255.5 138.1,257.7 138.3,257.6 138.6,256.8 138.8,258.1 139.1,256.9 139.3,256.1 139.6,256.9 139.8,255.6 140,255.5 140.3,256.6 140.5,254.5 140.8,256 141,254.3 141.3,256.2 141.5,255.5 141.8,254 142,256.4 142.3,254.7 142.5,253.6 142.8,254.9 143,258.2 143.3,255.2 143.5,254.8 143.8,256.6 144,254.8 144.3,254.8 144.5,258.7 144.8,255.6 145,255.3 145.3,255.8 145.5,255.3 145.7,253.6 146,250.6 146.2,253.6 146.5,251.6 146.7,253.6 147,251.6 147.2,251.2 147.5,253.7 147.7,253.7 148,251 148.2,251.6 148.5,251.6 148.7,250.8 149,253.3 149.2,251.9 149.5,253.5 149.7,254.7 150,254.6 150.2,253.6 150.5,255.4 150.7,255.2 151,252.7 151.2,255.3 151.4,254.2 151.7,253.9 151.9,255.4 152.2,255.3 152.4,256.1 152.7,256.6 152.9,254.5 153.2,254.3 153.4,256.1 153.7,253.9 153.9,255.4 154.2,257 154.4,256.3 154.7,254.4 154.9,257.2 155.2,254 155.4,253.8 155.7,252.7 155.9,255.3 156.2,252.2 156.4,251.9 156.7,253.9 156.9,252.3 157.2,252.7 157.4,254.3 157.6,252.4 157.9,253.3 158.1,254.9 158.4,253.3 158.6,254 158.9,253.5 159.1,253.8 159.4,254.9 159.6,255.5 159.9,253.3 160.1,253.1 160.4,255.1 160.6,253.5 160.9,253.7 161.1,253.8 161.4,253 161.6,253.6 161.9,251 162.1,253.8 162.4,253 162.6,254.9 162.9,252.9 163.1,254.1 163.3,255.8 163.6,253.7 163.8,253.2 164.1,254.4 164.3,253.8 164.6,254.4 164.8,254.2 165.1,256.2 165.3,254.2 165.6,255.6 165.8,254.9 166.1,255 166.3,255.3 166.6,254.7 166.8,256 167.1,255.7 167.3,253.7 167.6,254.4 167.8,254.9 168.1,255 168.3,254.4 168.6,255.4 168.8,255.7 169.1,254.9 169.3,255.1 169.5,254.1 169.8,255.1 170,254.1 170.3,254 170.5,253.2 170.8,253.5 171,253.8 171.3,254.2 171.5,252.6 171.8,253.8 172,253.7 172.3,254 172.5,254 172.8,254.5 173,253.6 173.3,253.6 173.5,254.6 173.8,254.1 174,254.8 174.3,255.3 174.5,254.8 174.8,254.2 175,254.8 175.2,255.9 175.5,254.8 175.7,255.1 176,255.3 176.2,255.1 176.5,255.9 176.7,255.4 177,255.2 177.2,255.6 177.5,255.6 177.7,254.8 178,253.9 178.2,255.5 178.5,254.6 178.7,255.1 179,254.3 179.2,254.6 179.5,253.9 179.7,254.2 180,253.9 180.2,254.1 180.5,253 180.7,253.6 181,253.6 181.2,253.8 181.4,253.6 181.7,253.9 181.9,253.7 182.2,254.3 182.4,253.4 182.7,253.9 182.9,254 183.2,253.6 183.4,253.7 183.7,253.3 183.9,254 184.2,253.9 184.4,254 184.7,254.4 184.9,253.8 185.2,254.1 185.4,253.5 185.7,254.5 185.9,253.6 186.2,253.6 186.4,254.5 186.7,254 186.9,254.5 187.1,254.5 187.4,255 187.6,256.1 187.9,255.6 188.1,254.8 188.4,255.3 188.6,255.7 188.9,255.6 189.1,255.6 189.4,255.4 189.6,255.3 189.9,255.4 190.1,254.7 190.4,254.6 190.6,254.9 190.9,254.5 191.1,254.5 191.4,254 191.6,254.3 191.9,253.5 192.1,252.6 192.4,253.3 192.6,253.6 192.8,253.9 193.1,254.2 193.3,254.3 193.6,254 193.8,254 194.1,253.5 194.3,254.1 194.6,253.9 194.8,253.8 195.1,253.2 195.3,253.3 195.6,252.9 195.8,252.6 196.1,252.1 196.3,252.3 196.6,252.3 196.8,252 197.1,251.7 197.3,252 197.6,251.5 197.8,251.7 198.1,252.3 198.3,252.1 198.6,252.5 198.8,252.3 199,252.2 199.3,252.6 199.5,252.4 199.8,253.7 200,252.9 200.3,253.1 200.5,253.8 200.8,253.4 201,253.9 201.3,253.9 201.5,253.9 201.8,253.5 202,254.4 202.3,254.7 202.5,254.1 202.8,254.2 203,254.3 203.3,255.3 203.5,254.8 203.8,255 204,254.8 204.3,255.4 204.5,255.3 204.7,256.6 205,256 205.2,255.8 205.5,256.1 205.7,255.7 206,256.2 206.2,256 206.5,255.6 206.7,255.8 207,256.5 207.2,255.6 207.5,255.4 207.7,255.3 208,254.3 208.2,255.1 208.5,254.6 208.7,254.8 209,254.8 209.2,254 209.5,254.8 209.7,254.3 210,254.7 210.2,254.4 210.5,254.4 210.7,254 210.9,254.1 211.2,253.6 211.4,253.9 211.7,253.9 211.9,253.7 212.2,253.2 212.4,253.4 212.7,254.1 212.9,253.4 213.2,254.7 213.4,253.9 213.7,254 213.9,254.4 214.2,254.5 214.4,254.7 214.7,254.9 214.9,255.2 215.2,255 215.4,254.9 215.7,254.7 215.9,255.2 216.2,254 216.4,254 216.6,253.6 216.9,254.2 217.1,253.8 217.4,254.4 217.6,254.1 217.9,254.3 218.1,254.7 218.4,254.6 218.6,254.6 218.9,255 219.1,254.7 219.4,254.8 219.6,255.2 219.9,255.3 220.1,254.5 220.4,254.5 220.6,254.7 220.9,254.3 221.1,254.2 221.4,254.4 221.6,253.8 221.9,253.7 222.1,253.3 222.3,253.5 222.6,253.6 222.8,253.4 223.1,253.5 223.3,253.2 223.6,253.9 223.8,253.4 224.1,253.8 224.3,253.6 224.6,253.9 224.8,254.6 225.1,254.2 225.3,254.1 225.6,254.2 225.8,254.2 226.1,254.4 226.3,254.1 226.6,253.3 226.8,254 227.1,253.3 227.3,253.5 227.6,253.8 227.8,253.1 228.1,252.8 228.3,253.1 228.5,252.9 228.8,253.5 229,253.6 229.3,254.3 229.5,254.6 229.8,254.8 230,255 230.3,255.2 230.5,255.3 230.8,255.4 231,255.5 231.3,256 231.5,256.1 231.8,255.8 232,255.2 232.3,255.5 232.5,256 232.8,256.1 233,255.8 233.3,256.8 233.5,255.6 233.8,256.8 234,255.9 234.2,256.3 234.5,255.2 234.7,255.5 235,255.1 235.2,256 235.5,255.3 235.7,254.7 236,255.4 236.2,254.2 236.5,254.5 236.7,254.5 237,253.6 237.2,254.5 237.5,254 237.7,254.1 238,254.3 238.2,253.3"/>
</g>
<g stroke="#383838" stroke-width="0.9" fill="none">
<path d="M27.5,240V410.4H238.2"/>
<path d="M27.5,410.40h-3.3M27.5,393.36h-1.6M27.5,376.32h-3.3M27.5,359.28h-1.6M27.5,342.24h-3.3M27.5,325.20h-1.6M27.5,308.16h-3.3M27.5,291.12h-1.6M27.5,274.08h-3.3M27.5,257.04h-1.6M27.5,240.00h-3.3M27.50,410.4v3.2M52.29,410.4v1.6M77.08,410.4v3.2M101.87,410.4v1.6M126.66,410.4v3.2M151.45,410.4v1.6M176.24,410.4v3.2M201.03,410.4v1.6M225.82,410.4v3.2"/>
</g>
<text transform="translate(22.10,412.30) scale(1,0.88)" font-size="7.3" text-anchor="end">0.0</text>
<text transform="translate(22.10,378.22) scale(1,0.88)" font-size="7.3" text-anchor="end">0.2</text>
<text transform="translate(22.10,344.14) scale(1,0.88)" font-size="7.3" text-anchor="end">0.4</text>
<text transform="translate(22.10,310.06) scale(1,0.88)" font-size="7.3" text-anchor="end">0.6</text>
<text transform="translate(22.10,275.98) scale(1,0.88)" font-size="7.3" text-anchor="end">0.8</text>
<text transform="translate(22.10,241.90) scale(1,0.88)" font-size="7.3" text-anchor="end">1.0</text>
<text transform="translate(27.50,421.60) scale(1,0.88)" font-size="7.2" text-anchor="middle">0</text>
<text transform="translate(77.08,421.60) scale(1,0.88)" font-size="7.2" text-anchor="middle">200</text>
<text transform="translate(126.66,421.60) scale(1,0.88)" font-size="7.2" text-anchor="middle">400</text>
<text transform="translate(176.24,421.60) scale(1,0.88)" font-size="7.2" text-anchor="middle">600</text>
<text transform="translate(225.82,421.60) scale(1,0.88)" font-size="7.2" text-anchor="middle">800</text>
<text x="132.86" y="435.75" font-size="8.8" text-anchor="middle">epoch</text>
<text transform="translate(133.46,448.60) scale(1,1.08)" font-size="11" text-anchor="middle">(c)</text>
<text transform="translate(9.10,325.20) rotate(-90)" x="0" y="0" font-size="8.8" text-anchor="middle">Precision</text>
<rect x="121.0" y="332.4" width="117.00" height="73.20" fill="#fff" stroke="#b4b4b4" stroke-width="0.6"/>
<line x1="121.8" y1="337.50" x2="139.3" y2="337.50" stroke="#70c2c8" stroke-width="1.15"/>
<text class="lg" transform="translate(141.4,339.88) scale(1,1.09)" font-size="7.2" style="stroke-width:0.2px">Yolov8s 0.896</text>
<line x1="121.8" y1="346.55" x2="139.3" y2="346.55" stroke="#b09ace" stroke-width="1.15"/>
<text class="lg" transform="translate(141.4,348.93) scale(1,1.09)" font-size="7.2" style="stroke-width:0.2px">Yolov8s+CA 0.899</text>
<line x1="121.8" y1="355.60" x2="139.3" y2="355.60" stroke="#eec4d0" stroke-width="1.15"/>
<text class="lg" transform="translate(141.4,357.98) scale(1,1.09)" font-size="7.2" style="stroke-width:0.2px">Yolov8s+Head 0.88</text>
<line x1="121.8" y1="364.65" x2="139.3" y2="364.65" stroke="#92b48e" stroke-width="1.15"/>
<text class="lg" transform="translate(141.4,367.03) scale(1,1.09)" font-size="7.2" style="stroke-width:0.2px">Yolov8s+BoT3 0.907</text>
<line x1="121.8" y1="373.70" x2="139.3" y2="373.70" stroke="#a2d496" stroke-width="1.15"/>
<text class="lg" transform="translate(141.4,376.08) scale(1,1.09)" font-size="7.2" style="stroke-width:0.2px">Yolov8s+CA+Head 0.887</text>
<line x1="121.8" y1="382.75" x2="139.3" y2="382.75" stroke="#f7bc98" stroke-width="1.15"/>
<text class="lg" transform="translate(141.4,385.13) scale(1,1.09)" font-size="7.2" style="stroke-width:0.2px">Yolov8s+BoT3+Head 0.921</text>
<line x1="121.8" y1="391.80" x2="139.3" y2="391.80" stroke="#82c4e6" stroke-width="1.15"/>
<text class="lg" transform="translate(141.4,394.18) scale(1,1.09)" font-size="7.2" style="stroke-width:0.2px">Yolov8s+CA+BoT3 0.918</text>
<line x1="121.8" y1="400.85" x2="139.3" y2="400.85" stroke="#e98f9c" stroke-width="1.15"/>
<text class="lg" transform="translate(141.4,403.23) scale(1,1.09)" font-size="7.2" style="stroke-width:0.2px">Yolov8s+CA+BoT3+Head 0.915</text>
<g fill="none" stroke-width="0.6" stroke-linejoin="round">
<polyline stroke="#70c2c8" points="336,410.4 336.2,410.3 336.5,409.3 336.7,404.8 337,407.5 337.2,405.2 337.5,398 337.7,395 338,391.6 338.2,393.8 338.5,382 338.7,374.6 339,370.5 339.2,369 339.5,366.2 339.7,355.4 340,354.6 340.2,355.6 340.5,353.8 340.7,356.1 341,348.4 341.2,350.6 341.5,344.9 341.7,349.4 341.9,347.9 342.2,348.6 342.4,347.2 342.7,343.3 342.9,342.4 343.2,345.4 343.4,342.8 343.7,341.4 343.9,341.3 344.2,343.1 344.4,344.7 344.7,342.9 344.9,341.7 345.2,333.2 345.4,346.1 345.7,339.3 345.9,335.8 346.2,343.7 346.4,336.4 346.7,340.2 346.9,341 347.2,336.4 347.4,335.4 347.7,335.5 347.9,334.9 348.1,338.8 348.4,330.6 348.6,332.6 348.9,333.6 349.1,331 349.4,334.3 349.6,334.2 349.9,332.9 350.1,331 350.4,333.2 350.6,330.8 350.9,331.6 351.1,330.4 351.4,324.9 351.6,329.6 351.9,329.4 352.1,325.9 352.4,327.9 352.6,324.3 352.9,329.1 353.1,326.9 353.4,330.2 353.6,326.8 353.8,324.9 354.1,327.3 354.3,325.3 354.6,324.3 354.8,330.2 355.1,326.4 355.3,322.4 355.6,324.1 355.8,324.2 356.1,323.3 356.3,323 356.6,323.9 356.8,322.8 357.1,321.4 357.3,317.9 357.6,321.3 357.8,322.9 358.1,320.6 358.3,317.9 358.6,318.4 358.8,321 359.1,318.1 359.3,318.6 359.6,317.2 359.8,315.6 360,316.8 360.3,319.2 360.5,320.1 360.8,317.7 361,314.2 361.3,315.1 361.5,318.4 361.8,318.9 362,314.9 362.3,318.5 362.5,313.9 362.8,314.4 363,317.6 363.3,314.3 363.5,315.7 363.8,314.9 364,312.9 364.3,316.4 364.5,311.1 364.8,310.4 365,314.5 365.3,310.9 365.5,319.3 365.7,314.3 366,317.2 366.2,314.4 366.5,308.4 366.7,317.2 367,310.4 367.2,311.7 367.5,316.7 367.7,310.7 368,314.1 368.2,312.8 368.5,308.6 368.7,308.8 369,313.1 369.2,309.2 369.5,309.6 369.7,308.9 370,305.4 370.2,307.9 370.5,304.5 370.7,308 371,305.5 371.2,308.6 371.4,307.4 371.7,308.3 371.9,305.4 372.2,307.5 372.4,307.2 372.7,305.8 372.9,306.7 373.2,302.9 373.4,308.6 373.7,306.1 373.9,303.3 374.2,300.5 374.4,302.4 374.7,303.8 374.9,303.1 375.2,303.2 375.4,304 375.7,303.9 375.9,305.9 376.2,301.7 376.4,304.1 376.7,301.2 376.9,301.6 377.2,304.1 377.4,306.2 377.6,303.1 377.9,300.3 378.1,296.5 378.4,302.5 378.6,301 378.9,302.1 379.1,299.3 379.4,307.9 379.6,298.5 379.9,299 380.1,301 380.4,302.6 380.6,300.3 380.9,299 381.1,303.1 381.4,297.8 381.6,299 381.9,301.3 382.1,295.9 382.4,298.3 382.6,297.5 382.9,299.3 383.1,298 383.3,300.1 383.6,302.1 383.8,296.2 384.1,297 384.3,299.7 384.6,298.8 384.8,298 385.1,295.2 385.3,297.1 385.6,296.3 385.8,301.1 386.1,300 386.3,297 386.6,295.9 386.8,296.6 387.1,296.8 387.3,295.1 387.6,297.3 387.8,302.9 388.1,298.1 388.3,298.7 388.6,298.8 388.8,294.5 389.1,297.6 389.3,300.2 389.5,299.2 389.8,296.8 390,298.2 390.3,295.8 390.5,295.5 390.8,296.6 391,296.3 391.3,298.3 391.5,298.3 391.8,295.3 392,294.4 392.3,294.6 392.5,296.8 392.8,295.9 393,294.5 393.3,294.2 393.5,292.4 393.8,295.1 394,293.6 394.3,295.9 394.5,294.4 394.8,292.8 395,292 395.2,292.2 395.5,289.5 395.7,294.4 396,290.5 396.2,291 396.5,295.6 396.7,292.7 397,294 397.2,294 397.5,290.6 397.7,290.9 398,290.9 398.2,291.9 398.5,289.1 398.7,290.7 399,292.6 399.2,292.9 399.5,290.8 399.7,286.9 400,290.1 400.2,290.8 400.5,290.7 400.7,290.1 400.9,289.2 401.2,288.4 401.4,288 401.7,289.1 401.9,285.7 402.2,289.2 402.4,290.8 402.7,287.1 402.9,287.5 403.2,286.9 403.4,288.1 403.7,286.9 403.9,288.9 404.2,288.1 404.4,288.4 404.7,284.7 404.9,287 405.2,287.8 405.4,286.3 405.7,287.9 405.9,290.2 406.2,288.1 406.4,291 406.7,290.6 406.9,289.2 407.1,284.8 407.4,286.8 407.6,286.5 407.9,290.3 408.1,287.4 408.4,288.7 408.6,289.9 408.9,289.2 409.1,287 409.4,289.6 409.6,285.3 409.9,287.1 410.1,287 410.4,288.5 410.6,286.6 410.9,287.5 411.1,286.2 411.4,287.1 411.6,286.4 411.9,288.4 412.1,285.6 412.4,287.5 412.6,287.4 412.8,285.5 413.1,289 413.3,288.5 413.6,287.4 413.8,286.1 414.1,288 414.3,285.2 414.6,287 414.8,285.6 415.1,285 415.3,287.2 415.6,286.6 415.8,289.6 416.1,287.4 416.3,286.5 416.6,287.6 416.8,288.1 417.1,288.8 417.3,286.3 417.6,286.2 417.8,287.7 418.1,286.7 418.3,288.8 418.6,286.7 418.8,284.7 419,285.8 419.3,287.8 419.5,285.6 419.8,283.6 420,285.8 420.3,288.3 420.5,284.4 420.8,286.3 421,283.6 421.3,285.3 421.5,286.3 421.8,283.1 422,282.3 422.3,283.2 422.5,283.5 422.8,285.2 423,283.2 423.3,283.5 423.5,283.2 423.8,283.9 424,284.2 424.3,285.2 424.5,285.2 424.7,285.3 425,285.8 425.2,286.3 425.5,283.7 425.7,283.6 426,285.3 426.2,284.6 426.5,284.9 426.7,285.8 427,283.9 427.2,285.4 427.5,282.5 427.7,281.7 428,286.4 428.2,286.1 428.5,286.5 428.7,283.8 429,284.6 429.2,283.5 429.5,287 429.7,284.3 430,282.4 430.2,283.9 430.4,282.5 430.7,282.7 430.9,282.5 431.2,280.7 431.4,279.7 431.7,281.1 431.9,282.7 432.2,278.3 432.4,280.2 432.7,281.1 432.9,282.5 433.2,280.2 433.4,281.8 433.7,282.6 433.9,281.1 434.2,282.1 434.4,281.4 434.7,282.2 434.9,281.8 435.2,281.5 435.4,284.4 435.7,282.2 435.9,284.4 436.2,281.2 436.4,282.3 436.6,283.3 436.9,282.2 437.1,282.8 437.4,284.8 437.6,284 437.9,284 438.1,282.7 438.4,283.1 438.6,283.3 438.9,284.7 439.1,285.1 439.4,283.3 439.6,282.4 439.9,285.4 440.1,284.7 440.4,282.4 440.6,282 440.9,282.1 441.1,283.2 441.4,283.4 441.6,280.8 441.9,282.6 442.1,283.7 442.3,281.1 442.6,281 442.8,280.6 443.1,281.4 443.3,280.5 443.6,279.3 443.8,282.5 444.1,280.8 444.3,278.3 444.6,281.2 444.8,281.8 445.1,282.4 445.3,280.4 445.6,279.6 445.8,281.7 446.1,281.4 446.3,280.9 446.6,281.6 446.8,281.3 447.1,280.4 447.3,281.9 447.6,281.2 447.8,282.7 448.1,282.2 448.3,281 448.5,279.3 448.8,280.7 449,281.5 449.3,280.2 449.5,281.6 449.8,282.8 450,281.6 450.3,281.1 450.5,279.8 450.8,282.7 451,280.6 451.3,280.5 451.5,281.6 451.8,282.4 452,280.3 452.3,279.6 452.5,280.9 452.8,279.2 453,278.6 453.3,278 453.5,280 453.8,280.5 454,278.4 454.2,279.4 454.5,281.7 454.7,279.1 455,279.6 455.2,277.7 455.5,277.4 455.7,278.5 456,279 456.2,277.2 456.5,278.9 456.7,278.3 457,278.1 457.2,278.9 457.5,280 457.7,277.5 458,281.2 458.2,281.1 458.5,280.3 458.7,280 459,281.9 459.2,281.1 459.5,281.5 459.7,281.4 459.9,279.5 460.2,281.9 460.4,279.2 460.7,280.2 460.9,280.1 461.2,280.9 461.4,282.6 461.7,281 461.9,280.5 462.2,281.1 462.4,280.8 462.7,280.1 462.9,277.4 463.2,281 463.4,280.5 463.7,280.3 463.9,280.9 464.2,283 464.4,280.2 464.7,280.4 464.9,280 465.2,281.1 465.4,280.9 465.7,280.1 465.9,282.6 466.1,280.6 466.4,282.9 466.6,281 466.9,279.7 467.1,279.5 467.4,280.7 467.6,279.2 467.9,281 468.1,279.4 468.4,279.8 468.6,279.8 468.9,279.5 469.1,278.5 469.4,277.7 469.6,280.1 469.9,281 470.1,279.4 470.4,279.5 470.6,279.3 470.9,278.7 471.1,279.4 471.4,278.1 471.6,279.3 471.8,277.9 472.1,277.6 472.3,278.6 472.6,278.4 472.8,277.2 473.1,277.4 473.3,276.9 473.6,276.7 473.8,276.3 474.1,277 474.3,276.6 474.6,276.8 474.8,276.5 475.1,277.2 475.3,276.8 475.6,277.7 475.8,277.8 476.1,276.5 476.3,276.4 476.6,278.5 476.8,276.7 477.1,277.5 477.3,276.9 477.6,277.5 477.8,277.1 478,278.3 478.3,277.1 478.5,278.8 478.8,279.2 479,277.1 479.3,276.4 479.5,277 479.8,275.8 480,275.9 480.3,276.1 480.5,276.2 480.8,276.5 481,276.4 481.3,275.9 481.5,277 481.8,276.2 482,276.6 482.3,275.9 482.5,275.4 482.8,274.9 483,276.3 483.3,277 483.5,275.3 483.7,276.8 484,276 484.2,275.8 484.5,278.5 484.7,277.7 485,278.1 485.2,278.4 485.5,278.6 485.7,278.1 486,278.6 486.2,277.8 486.5,278 486.7,277.9 487,277.6 487.2,277.9 487.5,277.6 487.7,277.6 488,277.7 488.2,277 488.5,276.8 488.7,276.9 489,277.3 489.2,278.4 489.5,279.6 489.7,278.7 489.9,280.7 490.2,279.5 490.4,280 490.7,279.8 490.9,281 491.2,280.2 491.4,280.5 491.7,281 491.9,281.1 492.2,280.3 492.4,280.9 492.7,282.2 492.9,279.7 493.2,279.9 493.4,279.7 493.7,278.7 493.9,279.3 494.2,279.1 494.4,280.1 494.7,278.9 494.9,278.9 495.2,278.1 495.4,278 495.6,277.7 495.9,278.2 496.1,278.4 496.4,278.9 496.6,279.3 496.9,278.2 497.1,278.6 497.4,278.4 497.6,278.5 497.9,279 498.1,279 498.4,279.3 498.6,279.1 498.9,278.9 499.1,279.5 499.4,280.5 499.6,279.3 499.9,280.4 500.1,280.7 500.4,279.8 500.6,280 500.9,281.4 501.1,281 501.3,281 501.6,281 501.8,281.2 502.1,281.1 502.3,281.9 502.6,280.2 502.8,280.4 503.1,278.7 503.3,279.7 503.6,279.8 503.8,278.7 504.1,279 504.3,279.3 504.6,277.9 504.8,278.4 505.1,278.6 505.3,278.3 505.6,278.4 505.8,278.3 506.1,278.1 506.3,278.5 506.6,278.5 506.8,278.5 507.1,279.3 507.3,279.4 507.5,278.4 507.8,279 508,280.3 508.3,278.8 508.5,279.4 508.8,279.6 509,279.1 509.3,279.2 509.5,278.9 509.8,278.5 510,279.2 510.3,278.7 510.5,278.5 510.8,278 511,278.3 511.3,278.4 511.5,277.2 511.8,278.6 512,277.4 512.3,277.6 512.5,276.2 512.8,277.5 513,276.2 513.2,277 513.5,277.5 513.7,277.6 514,277.8 514.2,277.2 514.5,278.1 514.7,277.3 515,277.4 515.2,278.7 515.5,278.9 515.7,279.1 516,278.2 516.2,278.5 516.5,280.2 516.7,278.9 517,278.4 517.2,279.7 517.5,278.8 517.7,279.4 518,279.1 518.2,278.4 518.5,278 518.7,277.8 519,278.8 519.2,278.3 519.4,278.3 519.7,278.3 519.9,278.1 520.2,277.9 520.4,278.2 520.7,277.8 520.9,278.2 521.2,278.7 521.4,278.6 521.7,279.3 521.9,278 522.2,278.4 522.4,277.9 522.7,278.3 522.9,278.2 523.2,278 523.4,277.3 523.7,278.2 523.9,277.9 524.2,277.5 524.4,277.7 524.7,277.8 524.9,277.8 525.1,277.9 525.4,277.4 525.6,277.4 525.9,278.1 526.1,277.6 526.4,279.3 526.6,278.5 526.9,277.7 527.1,278.9 527.4,279.9 527.6,278.6 527.9,278.6 528.1,278.9 528.4,278.7 528.6,279.2 528.9,278 529.1,278.5 529.4,279.5 529.6,279.3 529.9,279.3 530.1,279.6 530.4,279.4 530.6,279.3 530.8,278.7 531.1,279.9 531.3,279 531.6,278.1 531.8,278.4 532.1,278.6 532.3,278.3 532.6,278.7 532.8,278.4 533.1,278 533.3,277.3 533.6,278.3 533.8,278.2 534.1,278.1 534.3,277.5 534.6,277.6 534.8,278.3 535.1,278 535.3,276.5 535.6,278.5 535.8,277.8 536.1,279.1 536.3,278.4 536.6,277.7 536.8,278 537,278.5 537.3,278.5 537.5,278.7 537.8,277.7 538,277.2 538.3,278 538.5,278.1 538.8,277.6 539,277.2 539.3,278.5 539.5,276.9 539.8,277.9 540,277.6 540.3,276.8 540.5,276.7 540.8,276.8 541,277.8 541.3,276.7 541.5,276.5 541.8,276.4 542,276.1 542.3,275.9 542.5,277.3 542.7,275.9 543,276.9 543.2,275.9 543.5,276.7 543.7,276.6 544,276.9 544.2,277.1 544.5,277.8 544.7,278.8 545,278.7 545.2,279.7 545.5,279.4 545.7,279.1 546,278.9 546.2,279.6 546.5,280.2 546.7,279.7"/>
<polyline stroke="#b09ace" points="336,410.4 336.2,410.2 336.5,409 336.7,409.8 337,403.6 337.2,401.4 337.5,404.7 337.7,399.4 338,394.8 338.2,390.5 338.5,381.8 338.7,376.6 339,371.4 339.2,364.5 339.5,366.3 339.7,360.7 340,359.6 340.2,362.5 340.5,351.2 340.7,349.4 341,351.9 341.2,351.2 341.5,353 341.7,349.1 341.9,346.7 342.2,348.8 342.4,347.9 342.7,341 342.9,342.8 343.2,345.6 343.4,344.4 343.7,344.1 343.9,344.8 344.2,341.5 344.4,341.6 344.7,345.8 344.9,338.4 345.2,341.1 345.4,339 345.7,339.1 345.9,334.2 346.2,337.9 346.4,335.1 346.7,339.4 346.9,337.3 347.2,332.6 347.4,335.6 347.7,335 347.9,339.3 348.1,334.6 348.4,333.3 348.6,332.2 348.9,338.4 349.1,332.9 349.4,331.6 349.6,331.3 349.9,334.1 350.1,332.1 350.4,330 350.6,333.3 350.9,329.8 351.1,331.1 351.4,322.5 351.6,332 351.9,327.6 352.1,327.9 352.4,327.6 352.6,325.8 352.9,324.5 353.1,322.6 353.4,326.8 353.6,327.7 353.8,324.7 354.1,325.7 354.3,321.8 354.6,319.4 354.8,322.6 355.1,321.5 355.3,322.7 355.6,321.7 355.8,320.5 356.1,316.1 356.3,324.7 356.6,316.7 356.8,323 357.1,320.2 357.3,317.5 357.6,320 357.8,319.7 358.1,320.4 358.3,319.4 358.6,317.6 358.8,315.2 359.1,318.7 359.3,316.8 359.6,317.5 359.8,315.5 360,315.3 360.3,321.4 360.5,317.3 360.8,312 361,310.7 361.3,317 361.5,310.1 361.8,313.7 362,317.7 362.3,314.8 362.5,311.2 362.8,310.8 363,313.1 363.3,313.6 363.5,315.9 363.8,312.8 364,315.4 364.3,311.3 364.5,311.4 364.8,310.6 365,307.7 365.3,312 365.5,314.2 365.7,313 366,307.9 366.2,312.6 366.5,308.1 366.7,311.4 367,306.5 367.2,310.2 367.5,311.6 367.7,306.1 368,306.7 368.2,311.1 368.5,308.9 368.7,309.8 369,305.7 369.2,308.2 369.5,305.8 369.7,307.4 370,311.5 370.2,307.8 370.5,308.1 370.7,306 371,307.7 371.2,305.3 371.4,309.2 371.7,305.6 371.9,306.3 372.2,307.1 372.4,302.8 372.7,306.4 372.9,304.2 373.2,305.4 373.4,302.7 373.7,301.6 373.9,303.2 374.2,307.1 374.4,303.4 374.7,300.4 374.9,299.6 375.2,302.7 375.4,306.3 375.7,302.2 375.9,304.1 376.2,303.6 376.4,300.7 376.7,299 376.9,302.6 377.2,302.6 377.4,301 377.6,298.2 377.9,298.1 378.1,300.5 378.4,299.7 378.6,301.5 378.9,301.1 379.1,299 379.4,302 379.6,297.2 379.9,299.1 380.1,298.8 380.4,299.1 380.6,296.9 380.9,296.7 381.1,298.8 381.4,298.2 381.6,295.3 381.9,298.5 382.1,294.9 382.4,295.9 382.6,293.3 382.9,297 383.1,291.7 383.3,295.6 383.6,297.6 383.8,296.2 384.1,293.5 384.3,295.5 384.6,297.8 384.8,297 385.1,292.1 385.3,298.3 385.6,297.7 385.8,293.3 386.1,293.9 386.3,295.5 386.6,294.7 386.8,290.7 387.1,296.8 387.3,293.5 387.6,295 387.8,291.3 388.1,297.9 388.3,295.3 388.6,293.9 388.8,293.5 389.1,296 389.3,293.4 389.5,293.3 389.8,298.4 390,294 390.3,293.6 390.5,292.1 390.8,294.4 391,295.5 391.3,295.3 391.5,293.4 391.8,291.6 392,292.9 392.3,292.7 392.5,292.7 392.8,290.2 393,290.4 393.3,293.4 393.5,287.9 393.8,290.3 394,288.8 394.3,289.7 394.5,291.4 394.8,290.5 395,290.2 395.2,290.9 395.5,286.9 395.7,290.9 396,288.2 396.2,291.3 396.5,289.2 396.7,288.9 397,288 397.2,289.5 397.5,289.9 397.7,287.2 398,288.6 398.2,290.5 398.5,289.6 398.7,289.9 399,288.6 399.2,286.8 399.5,290.8 399.7,287.7 400,289.1 400.2,289.2 400.5,289.4 400.7,287.7 400.9,289.2 401.2,291 401.4,287.7 401.7,289.2 401.9,285.7 402.2,288.9 402.4,285.9 402.7,287.5 402.9,287.8 403.2,282.9 403.4,283.9 403.7,285.1 403.9,285.3 404.2,286.7 404.4,283.7 404.7,285.8 404.9,287.2 405.2,284.3 405.4,286.4 405.7,285.6 405.9,284.6 406.2,284.5 406.4,287 406.7,285.6 406.9,285.2 407.1,289.2 407.4,287.7 407.6,284.5 407.9,286.8 408.1,285.2 408.4,286.5 408.6,284.6 408.9,288.3 409.1,287.4 409.4,285.3 409.6,287.1 409.9,287.4 410.1,286.1 410.4,285 410.6,286.5 410.9,284.3 411.1,287.8 411.4,288.9 411.6,284.9 411.9,289.9 412.1,285.5 412.4,283.8 412.6,284.8 412.8,283.2 413.1,288.9 413.3,287 413.6,283.9 413.8,286.9 414.1,286.4 414.3,285.5 414.6,286.6 414.8,284.2 415.1,284.2 415.3,283.9 415.6,284.4 415.8,284.9 416.1,284 416.3,285 416.6,283.3 416.8,281.1 417.1,279.8 417.3,282.1 417.6,279.8 417.8,282.7 418.1,281.1 418.3,284.5 418.6,280.1 418.8,283.9 419,283.2 419.3,280.3 419.5,280.5 419.8,282.3 420,280.7 420.3,283.7 420.5,280.5 420.8,283 421,283.9 421.3,280.4 421.5,282.7 421.8,281.7 422,284.2 422.3,283.5 422.5,285.1 422.8,282.2 423,282.3 423.3,282.8 423.5,282.9 423.8,286.6 424,282.4 424.3,282.2 424.5,283.4 424.7,282.4 425,283.5 425.2,281.5 425.5,281.5 425.7,282.2 426,281 426.2,280.7 426.5,280.9 426.7,279.7 427,279.7 427.2,279.8 427.5,280.6 427.7,280 428,278.5 428.2,278 428.5,280.9 428.7,278.1 429,279 429.2,278.9 429.5,279.7 429.7,279.3 430,279.5 430.2,280.3 430.4,279.2 430.7,279.5 430.9,279.9 431.2,277.2 431.4,278.8 431.7,279.6 431.9,279.7 432.2,278.1 432.4,278.6 432.7,279.4 432.9,278.3 433.2,279 433.4,278.3 433.7,277.1 433.9,278.6 434.2,279.6 434.4,278 434.7,280.1 434.9,279.2 435.2,280.5 435.4,279 435.7,278.4 435.9,280.6 436.2,281 436.4,280 436.6,280.6 436.9,280.8 437.1,281.4 437.4,279.9 437.6,278.2 437.9,280.7 438.1,279 438.4,277.5 438.6,281 438.9,278.8 439.1,280.1 439.4,278.3 439.6,277.8 439.9,278.7 440.1,279.1 440.4,279.3 440.6,278.9 440.9,278.6 441.1,276.5 441.4,277.7 441.6,278.3 441.9,277.7 442.1,277.7 442.3,276.7 442.6,278.7 442.8,279.2 443.1,278 443.3,279.9 443.6,278.4 443.8,279.6 444.1,280.2 444.3,276.9 444.6,277.7 444.8,276.9 445.1,277.4 445.3,276.7 445.6,276 445.8,276.4 446.1,277.4 446.3,276.5 446.6,277.9 446.8,277.8 447.1,276.6 447.3,276.6 447.6,279.2 447.8,278.5 448.1,276.4 448.3,277.6 448.5,277.5 448.8,276.4 449,276.4 449.3,276.9 449.5,277.6 449.8,275.2 450,276 450.3,276.2 450.5,278.1 450.8,275.6 451,279.4 451.3,275.7 451.5,276.9 451.8,277.4 452,276.5 452.3,276 452.5,277 452.8,275.9 453,275.9 453.3,275.9 453.5,276.4 453.8,277.4 454,277.1 454.2,277.3 454.5,277.6 454.7,277.9 455,276.4 455.2,276 455.5,278 455.7,278.5 456,278.1 456.2,278.2 456.5,277.7 456.7,279.2 457,278.9 457.2,277.1 457.5,279.3 457.7,277.6 458,277.9 458.2,276.2 458.5,279.5 458.7,278.2 459,277.7 459.2,279.6 459.5,278.3 459.7,277.5 459.9,278.7 460.2,277.1 460.4,279.1 460.7,275.9 460.9,277.6 461.2,277.1 461.4,275.9 461.7,275.6 461.9,278.9 462.2,278.3 462.4,278.2 462.7,278.9 462.9,276.8 463.2,276 463.4,278.6 463.7,275.7 463.9,277.9 464.2,277 464.4,275.8 464.7,277 464.9,275.3 465.2,276.4 465.4,276.5 465.7,275.8 465.9,275.5 466.1,275.5 466.4,273.4 466.6,275.3 466.9,274.4 467.1,276.2 467.4,275.2 467.6,274.8 467.9,275.8 468.1,274.4 468.4,276.3 468.6,275 468.9,275.3 469.1,275 469.4,275.5 469.6,275.9 469.9,274.7 470.1,274.3 470.4,274.1 470.6,274.1 470.9,275 471.1,273.8 471.4,272.9 471.6,274.6 471.8,272.6 472.1,273.6 472.3,273.5 472.6,274.2 472.8,274.9 473.1,273.4 473.3,274.6 473.6,275.6 473.8,275 474.1,276.3 474.3,276.5 474.6,274.4 474.8,276.5 475.1,276.6 475.3,278.2 475.6,277.7 475.8,278 476.1,276.2 476.3,276.8 476.6,277.7 476.8,277.3 477.1,277.3 477.3,278.3 477.6,277 477.8,276.9 478,275.5 478.3,276.4 478.5,276.5 478.8,276.1 479,275.3 479.3,277.2 479.5,276.5 479.8,275.9 480,276.5 480.3,275.9 480.5,276.3 480.8,273.6 481,277 481.3,276.5 481.5,276.6 481.8,275 482,277 482.3,275.1 482.5,276.5 482.8,277 483,276.7 483.3,277.8 483.5,276.8 483.7,276.2 484,275.8 484.2,277 484.5,276.2 484.7,275.7 485,276.2 485.2,274.9 485.5,275.4 485.7,276.4 486,275.1 486.2,276.2 486.5,275.2 486.7,275.8 487,275.3 487.2,275.6 487.5,274.6 487.7,276.8 488,276 488.2,275.9 488.5,278.2 488.7,276.9 489,276.5 489.2,277 489.5,276.4 489.7,276.6 489.9,278.3 490.2,277.1 490.4,276.6 490.7,277.4 490.9,275.2 491.2,276.9 491.4,276.4 491.7,276.7 491.9,275.9 492.2,277.1 492.4,277.1 492.7,276.1 492.9,277.7 493.2,276.4 493.4,276.8 493.7,276.8 493.9,276.3 494.2,276 494.4,276.3 494.7,276.5 494.9,276.5 495.2,277.2 495.4,275.9 495.6,277.2 495.9,276.6 496.1,275.9 496.4,276.1 496.6,275.8 496.9,276.7 497.1,276.2 497.4,274.5 497.6,276.3 497.9,275.9 498.1,277.2 498.4,275.5 498.6,275.6 498.9,276.1 499.1,275.1 499.4,274.8 499.6,275.6 499.9,274.6 500.1,274.9 500.4,275.5 500.6,276.4 500.9,275.7 501.1,275.5 501.3,275.5 501.6,276.5 501.8,275.9 502.1,276.2 502.3,275.7 502.6,274.8 502.8,276.7 503.1,276.2 503.3,274.9 503.6,276.2 503.8,275 504.1,274.8 504.3,275.1 504.6,274.9 504.8,275.9 505.1,275.9 505.3,275.7 505.6,275.3 505.8,275.4 506.1,274.8 506.3,275 506.6,274.9 506.8,273.8 507.1,274.7 507.3,274 507.5,274.8 507.8,273 508,273.7 508.3,273.6 508.5,274.9 508.8,273.8 509,272.8 509.3,273.9 509.5,273.8 509.8,273.5 510,272.6 510.3,273.6 510.5,273.5 510.8,272.3 511,274.2 511.3,273.2 511.5,274.8 511.8,274.7 512,273.8 512.3,274.4 512.5,274.6 512.8,274.3 513,274.3 513.2,274.7 513.5,272.7 513.7,274.1 514,273.4 514.2,274.2 514.5,273.4 514.7,274 515,272.2 515.2,274.1 515.5,273.8 515.7,273.8 516,273.9 516.2,273.5 516.5,273.6 516.7,274.3 517,274.4 517.2,273.9 517.5,273.6 517.7,274.3 518,273.4 518.2,273.1 518.5,273 518.7,273 519,273 519.2,272.9 519.4,272.6 519.7,272.4 519.9,272.8 520.2,273.2 520.4,272.8 520.7,271.8 520.9,273.5 521.2,272.6 521.4,272.6 521.7,273 521.9,272 522.2,273.5 522.4,272.9 522.7,273.3 522.9,273.2 523.2,273.6 523.4,272.7 523.7,272.9 523.9,271.8 524.2,273.1 524.4,273.3 524.7,272.7 524.9,272.5 525.1,272.3 525.4,273.1 525.6,273.9 525.9,273.2 526.1,273.6 526.4,273.2 526.6,273.8 526.9,272.6 527.1,274.1 527.4,273.7 527.6,273.7 527.9,274.4 528.1,274.4 528.4,275.1 528.6,275.2 528.9,273.8 529.1,274.5 529.4,275 529.6,274.5 529.9,275.2 530.1,275.1 530.4,273.8 530.6,274.7 530.8,274.8 531.1,275 531.3,274.9 531.6,274.7 531.8,274.2 532.1,274.1 532.3,273.7 532.6,275.5 532.8,275.3 533.1,274.8 533.3,275.6 533.6,274.5 533.8,274.7 534.1,274.7 534.3,274.9 534.6,274.1 534.8,275.1 535.1,274.3 535.3,274.9 535.6,275 535.8,274.8 536.1,274.7 536.3,274.4 536.6,274.1 536.8,274.1 537,274.9 537.3,274.4 537.5,274.1 537.8,274.5 538,273.9 538.3,275 538.5,274.7 538.8,275.2 539,274.4 539.3,275.3 539.5,275.4 539.8,275.1 540,275.1 540.3,275.5 540.5,275.4 540.8,276.1 541,275.8 541.3,276 541.5,275 541.8,275.4 542,275 542.3,276.2 542.5,275.5 542.7,274.8 543,274.5 543.2,275.6 543.5,274.3 543.7,275.2 544,274.9 544.2,274.6 544.5,273.9 544.7,274.8 545,275 545.2,273.8 545.5,273.7 545.7,274.8 546,274.2 546.2,274.5 546.5,274.6 546.7,274.9"/>
<polyline stroke="#eec4d0" points="336,410.4 336.2,408.9 336.5,409.5 336.7,408.4 337,407.3 337.2,406.4 337.5,401.1 337.7,402.2 338,389.5 338.2,390.8 338.5,383.6 338.7,378.3 339,367.7 339.2,365.6 339.5,358.4 339.7,357.8 340,360.1 340.2,359.4 340.5,351.8 340.7,354.3 341,351.8 341.2,355.5 341.5,349.2 341.7,348 341.9,350.2 342.2,350.8 342.4,346.9 342.7,349.4 342.9,344.8 343.2,343.6 343.4,341.2 343.7,341.4 343.9,342.7 344.2,340.5 344.4,343.5 344.7,335.9 344.9,339.2 345.2,339.8 345.4,337.4 345.7,339.4 345.9,336.7 346.2,334.4 346.4,334.6 346.7,331.3 346.9,335.8 347.2,335.2 347.4,338.3 347.7,335.6 347.9,331.9 348.1,332.1 348.4,330.7 348.6,328.2 348.9,328.8 349.1,331.7 349.4,324.9 349.6,328.1 349.9,327.1 350.1,325.6 350.4,325.4 350.6,331.4 350.9,329 351.1,328.9 351.4,328.9 351.6,326.7 351.9,326.3 352.1,324.5 352.4,328.5 352.6,327.3 352.9,325.7 353.1,324.7 353.4,327.8 353.6,326.2 353.8,323.5 354.1,320.6 354.3,329 354.6,322.5 354.8,322.2 355.1,321.6 355.3,322.7 355.6,319.7 355.8,320.5 356.1,320.9 356.3,318.1 356.6,320.6 356.8,319.3 357.1,315.8 357.3,316.9 357.6,320 357.8,320.1 358.1,317.6 358.3,317.3 358.6,313.7 358.8,316.4 359.1,318.6 359.3,314.5 359.6,314.8 359.8,316.2 360,315.5 360.3,311.3 360.5,316.9 360.8,315.6 361,313.4 361.3,311.6 361.5,320.5 361.8,314.8 362,314.7 362.3,315.5 362.5,314.1 362.8,312.9 363,316.2 363.3,317.1 363.5,311.2 363.8,315.1 364,317.9 364.3,313.9 364.5,312.4 364.8,313.1 365,312.8 365.3,314.6 365.5,308.7 365.7,313.9 366,314.7 366.2,315.5 366.5,309.8 366.7,312.3 367,309.8 367.2,310 367.5,311.5 367.7,312 368,312 368.2,311.7 368.5,309.9 368.7,308.4 369,306.5 369.2,310.8 369.5,304.7 369.7,305.7 370,309.1 370.2,305.9 370.5,304.4 370.7,303.5 371,302.1 371.2,309.9 371.4,307.2 371.7,305.3 371.9,306.5 372.2,302.4 372.4,304.4 372.7,303.1 372.9,304.6 373.2,309 373.4,304.7 373.7,305.3 373.9,305.3 374.2,297.5 374.4,305.6 374.7,302.8 374.9,302 375.2,302.1 375.4,300.9 375.7,300.1 375.9,300.9 376.2,301.3 376.4,302.2 376.7,301.6 376.9,299.7 377.2,302.8 377.4,299.8 377.6,299.9 377.9,300.4 378.1,299.4 378.4,299.6 378.6,299.6 378.9,299.9 379.1,299.5 379.4,300.1 379.6,297 379.9,301 380.1,298.9 380.4,299.8 380.6,298 380.9,293.8 381.1,301.6 381.4,296 381.6,297.1 381.9,295.9 382.1,299.9 382.4,295.1 382.6,295.5 382.9,297.4 383.1,295 383.3,299.5 383.6,294.9 383.8,293.4 384.1,297.7 384.3,293.2 384.6,293.3 384.8,295.3 385.1,296 385.3,297.8 385.6,296.4 385.8,295.3 386.1,292.1 386.3,294.7 386.6,292.2 386.8,293.9 387.1,294 387.3,292.7 387.6,291.5 387.8,293 388.1,291.9 388.3,293.3 388.6,293.9 388.8,291.5 389.1,291.1 389.3,294.8 389.5,292.1 389.8,290.4 390,292.4 390.3,293.8 390.5,291.8 390.8,296.1 391,290.5 391.3,289.6 391.5,289.1 391.8,289.7 392,289.5 392.3,289 392.5,291 392.8,290.8 393,293 393.3,289.1 393.5,292.3 393.8,291 394,293.8 394.3,291.9 394.5,292.7 394.8,290.7 395,290.7 395.2,293 395.5,296 395.7,293 396,295.5 396.2,290.7 396.5,294.7 396.7,291.6 397,292.7 397.2,293.7 397.5,294.9 397.7,292.5 398,294.9 398.2,289.3 398.5,291.2 398.7,295.1 399,294.1 399.2,289 399.5,290.5 399.7,291 400,288.7 400.2,288 400.5,291.3 400.7,287.5 400.9,288 401.2,288.4 401.4,288.9 401.7,289.7 401.9,292.1 402.2,287.5 402.4,288.5 402.7,287.6 402.9,286.2 403.2,290.2 403.4,288.5 403.7,289 403.9,288.7 404.2,288.6 404.4,290.3 404.7,290.5 404.9,288.6 405.2,287.8 405.4,291.5 405.7,288.8 405.9,286.1 406.2,285.5 406.4,291.1 406.7,287 406.9,288.2 407.1,288.7 407.4,287 407.6,288.8 407.9,285.3 408.1,285.6 408.4,290.1 408.6,286.4 408.9,284.5 409.1,286.1 409.4,289.1 409.6,287.7 409.9,287.8 410.1,286.1 410.4,284.3 410.6,285.2 410.9,283.7 411.1,284.2 411.4,284.2 411.6,281.8 411.9,285.2 412.1,286.6 412.4,283.6 412.6,284.3 412.8,286.7 413.1,285.6 413.3,285.8 413.6,284.1 413.8,284.7 414.1,285.9 414.3,285.8 414.6,285.4 414.8,281.9 415.1,285.7 415.3,285 415.6,283.1 415.8,284.6 416.1,283.4 416.3,283.7 416.6,281.6 416.8,282.8 417.1,283.8 417.3,286.3 417.6,282 417.8,283.2 418.1,281 418.3,281.7 418.6,282.5 418.8,281.1 419,281.4 419.3,284.2 419.5,282.3 419.8,281.8 420,282.5 420.3,282.9 420.5,281.9 420.8,281.5 421,281.5 421.3,281.5 421.5,281.9 421.8,281 422,281.3 422.3,283 422.5,281.7 422.8,279.8 423,282.4 423.3,280.4 423.5,280.9 423.8,280.7 424,282.2 424.3,281.4 424.5,282.1 424.7,279.1 425,282.2 425.2,281.2 425.5,281.4 425.7,284 426,284.4 426.2,279.9 426.5,281.7 426.7,279.7 427,282 427.2,279.7 427.5,281.1 427.7,279.6 428,281.8 428.2,279.6 428.5,280.8 428.7,280.1 429,282.2 429.2,281 429.5,280.9 429.7,279.1 430,281.1 430.2,281.2 430.4,282.4 430.7,282.4 430.9,282.2 431.2,282.4 431.4,283.1 431.7,283.2 431.9,283.3 432.2,281.4 432.4,283.1 432.7,284.8 432.9,283.1 433.2,283.9 433.4,281.9 433.7,284.3 433.9,283 434.2,284.3 434.4,281.3 434.7,284.3 434.9,283.2 435.2,282 435.4,281 435.7,280.7 435.9,281.5 436.2,283.1 436.4,280.2 436.6,279.4 436.9,283 437.1,278.8 437.4,280.2 437.6,281 437.9,280.8 438.1,279 438.4,279.5 438.6,278.7 438.9,277.4 439.1,279.8 439.4,277.5 439.6,277.6 439.9,280.2 440.1,279.7 440.4,277.4 440.6,278.8 440.9,279.1 441.1,277.3 441.4,278.8 441.6,279 441.9,279 442.1,279.7 442.3,280 442.6,278.1 442.8,279.9 443.1,279.7 443.3,278.3 443.6,281.3 443.8,278.1 444.1,280.7 444.3,279.3 444.6,281.5 444.8,279.9 445.1,281.8 445.3,280 445.6,283.2 445.8,280.2 446.1,281.1 446.3,279.7 446.6,281.3 446.8,280.4 447.1,279.8 447.3,279 447.6,280.7 447.8,279.9 448.1,279.1 448.3,277.5 448.5,277.1 448.8,277.9 449,278.6 449.3,278 449.5,279.8 449.8,278 450,278 450.3,277.9 450.5,277.9 450.8,277.9 451,278.3 451.3,278.6 451.5,277.9 451.8,279.7 452,278.1 452.3,278.8 452.5,277.9 452.8,278.3 453,279.6 453.3,278.8 453.5,277.8 453.8,278.6 454,278.3 454.2,278.4 454.5,278 454.7,279.5 455,279.1 455.2,278.1 455.5,278.1 455.7,276.3 456,278.1 456.2,276.8 456.5,276.4 456.7,276.3 457,277.6 457.2,276.4 457.5,277.5 457.7,277 458,277.5 458.2,276.4 458.5,277.3 458.7,277.4 459,276.6 459.2,277.8 459.5,276.7 459.7,276.4 459.9,276.1 460.2,277.9 460.4,276.8 460.7,276.3 460.9,276.7 461.2,276.6 461.4,275.2 461.7,276.4 461.9,276 462.2,277.7 462.4,275.5 462.7,278.3 462.9,278.3 463.2,276.5 463.4,276.7 463.7,277.1 463.9,278.3 464.2,278.5 464.4,279.4 464.7,277.7 464.9,278.7 465.2,278.6 465.4,278.7 465.7,278.6 465.9,278.9 466.1,279.5 466.4,278.6 466.6,277.5 466.9,276.1 467.1,276.5 467.4,278.3 467.6,277.1 467.9,278 468.1,276.6 468.4,276.3 468.6,277.8 468.9,276 469.1,277.4 469.4,276.6 469.6,277.5 469.9,277.2 470.1,278.6 470.4,276.8 470.6,277.1 470.9,276.4 471.1,277.1 471.4,277.5 471.6,277 471.8,278 472.1,277.3 472.3,278.2 472.6,277.2 472.8,277.6 473.1,278.3 473.3,278.1 473.6,278.5 473.8,278.5 474.1,277.5 474.3,277.3 474.6,278.3 474.8,277.5 475.1,278 475.3,276.6 475.6,276.8 475.8,277.3 476.1,277 476.3,276.3 476.6,276.3 476.8,278 477.1,277.9 477.3,277.8 477.6,278.6 477.8,278.5 478,277.8 478.3,278.3 478.5,277.7 478.8,277.8 479,276.9 479.3,277.4 479.5,277.1 479.8,278.1 480,278.2 480.3,276.2 480.5,277 480.8,277.6 481,278.5 481.3,275.9 481.5,277.4 481.8,276.7 482,276.7 482.3,276.6 482.5,276.4 482.8,277.6 483,277 483.3,278.1 483.5,276.9 483.7,277.3 484,276.9 484.2,277.2 484.5,275.7 484.7,276.3 485,276.6 485.2,276.1 485.5,279 485.7,277.3 486,276.9 486.2,276.6 486.5,276.5 486.7,277 487,276.8 487.2,276 487.5,276.5 487.7,275.4 488,277 488.2,277.9 488.5,277.3 488.7,278.5 489,278.2 489.2,278 489.5,276.9 489.7,278.5 489.9,277 490.2,277.7 490.4,278 490.7,277.6 490.9,277.5 491.2,276.7 491.4,276.8 491.7,277.3 491.9,277.5 492.2,276.7 492.4,275.4 492.7,276.5 492.9,276.2 493.2,275.7 493.4,275.4 493.7,276 493.9,277 494.2,276.1 494.4,276.1 494.7,275.2 494.9,275.9 495.2,276.7 495.4,275.3 495.6,275.7 495.9,275.5 496.1,275.3 496.4,275.8 496.6,275.7 496.9,276.1 497.1,275.9 497.4,275.8 497.6,276.1 497.9,277 498.1,276.9 498.4,275.9 498.6,276.5 498.9,276.2 499.1,276.7 499.4,276.2 499.6,276 499.9,276.6 500.1,276 500.4,277 500.6,276.8 500.9,277.3 501.1,276.9 501.3,276.8 501.6,277.5 501.8,276.3 502.1,276.3 502.3,275.9 502.6,278.2 502.8,277.5 503.1,277.2 503.3,276.8 503.6,277.7 503.8,276.8 504.1,275.8 504.3,276.5 504.6,276.1 504.8,275.7 505.1,275.3 505.3,275.7 505.6,276.5 505.8,275.6 506.1,275.1 506.3,275.7 506.6,275.5 506.8,274.5 507.1,274.9 507.3,275.5 507.5,274.3 507.8,275.1 508,274.7 508.3,275.3 508.5,275.3 508.8,274.8 509,275 509.3,275 509.5,275.5 509.8,276.1 510,274 510.3,276.5 510.5,275.2 510.8,276.2 511,276.9 511.3,275.9 511.5,275.8 511.8,275.7 512,277.4 512.3,275.5 512.5,276.3 512.8,275.9 513,275.3 513.2,274.7 513.5,275.5 513.7,275.5 514,274.2 514.2,274.9 514.5,275.4 514.7,273.7 515,274.7 515.2,274.2 515.5,274.3 515.7,274.3 516,274.1 516.2,273.9 516.5,273.7 516.7,275.2 517,274.9 517.2,274 517.5,274.2 517.7,275 518,275.2 518.2,274.6 518.5,275.9 518.7,275.3 519,275.4 519.2,275.4 519.4,276.2 519.7,276.3 519.9,276.4 520.2,276.6 520.4,276.6 520.7,276.4 520.9,275.8 521.2,277.5 521.4,276.5 521.7,277.3 521.9,277.5 522.2,277.3 522.4,276.9 522.7,277.8 522.9,277.3 523.2,276.5 523.4,277.8 523.7,278.1 523.9,277.9 524.2,277.4 524.4,276.8 524.7,277.1 524.9,277.1 525.1,277.4 525.4,276.7 525.6,276.5 525.9,278.1 526.1,277.7 526.4,278.3 526.6,277.1 526.9,277.4 527.1,277.1 527.4,276.9 527.6,277.4 527.9,276.7 528.1,276.9 528.4,276.8 528.6,276.7 528.9,276 529.1,276.4 529.4,275.9 529.6,277 529.9,276.5 530.1,275.5 530.4,275.7 530.6,275.3 530.8,275.1 531.1,274.8 531.3,274.5 531.6,273.7 531.8,274.9 532.1,274.9 532.3,274.3 532.6,274.2 532.8,275.1 533.1,273.9 533.3,274.8 533.6,274.8 533.8,274.7 534.1,274.9 534.3,275.3 534.6,275.6 534.8,275.8 535.1,276.7 535.3,274.9 535.6,275.9 535.8,275.3 536.1,276 536.3,275.9 536.6,276 536.8,275 537,276.4 537.3,274.8 537.5,275.2 537.8,274.9 538,276.3 538.3,276.4 538.5,275.7 538.8,275.9 539,275.5 539.3,276.4 539.5,275.8 539.8,276.4 540,277.5 540.3,276.9 540.5,276.7 540.8,276.1 541,275.3 541.3,278.1 541.5,276.7 541.8,276 542,277.6 542.3,276.8 542.5,277.5 542.7,276.8 543,277.2 543.2,277.2 543.5,277.7 543.7,276.5 544,275.8 544.2,277.2 544.5,276.5 544.7,275.5 545,276.3 545.2,276.1 545.5,274.9 545.7,273.3 546,274.7 546.2,274.3 546.5,274.1 546.7,274.1"/>
<polyline stroke="#92b48e" points="336,410.4 336.2,410.2 336.5,410.4 336.7,409.8 337,406.9 337.2,403.8 337.5,401.6 337.7,400.7 338,389.7 338.2,388.9 338.5,385 338.7,381.6 339,370.6 339.2,365.9 339.5,367.6 339.7,364.8 340,360.7 340.2,352 340.5,348.8 340.7,352.3 341,355.5 341.2,350 341.5,345.6 341.7,350 341.9,347.9 342.2,344 342.4,345.4 342.7,346 342.9,347.8 343.2,342.1 343.4,340.7 343.7,339.5 343.9,340.6 344.2,345.8 344.4,333.6 344.7,343.4 344.9,341.7 345.2,337.7 345.4,340.3 345.7,340.5 345.9,339 346.2,337.1 346.4,339.2 346.7,336.5 346.9,340.6 347.2,330.8 347.4,334.8 347.7,335.6 347.9,333.5 348.1,328.4 348.4,337.3 348.6,330.8 348.9,333.2 349.1,331.3 349.4,326.4 349.6,328.4 349.9,332.1 350.1,328.5 350.4,328.5 350.6,329.6 350.9,322.2 351.1,329.4 351.4,330.7 351.6,327.2 351.9,330.3 352.1,327.3 352.4,329.2 352.6,328.7 352.9,325.4 353.1,317.8 353.4,323.4 353.6,326.9 353.8,322.5 354.1,324.9 354.3,322 354.6,325.5 354.8,323.3 355.1,321.9 355.3,324.5 355.6,324.1 355.8,324.6 356.1,322.4 356.3,325.2 356.6,319.3 356.8,318.9 357.1,322.7 357.3,323.6 357.6,321.1 357.8,323.7 358.1,321 358.3,320.5 358.6,321.7 358.8,321.1 359.1,317.1 359.3,320.1 359.6,314.7 359.8,317.6 360,320.3 360.3,317.4 360.5,311.9 360.8,316.9 361,315.3 361.3,313.2 361.5,317.6 361.8,315.3 362,317.2 362.3,316.5 362.5,315.6 362.8,317.3 363,315.6 363.3,313.4 363.5,314.1 363.8,317.6 364,314.9 364.3,311.9 364.5,313.7 364.8,315 365,314.7 365.3,314.7 365.5,316.2 365.7,312.9 366,314.7 366.2,313.5 366.5,314 366.7,311 367,314.1 367.2,310.3 367.5,311.8 367.7,312.7 368,313.7 368.2,308.1 368.5,311 368.7,311.1 369,308.4 369.2,307.8 369.5,307 369.7,310.1 370,305.8 370.2,305.6 370.5,304.4 370.7,308.5 371,304.2 371.2,304 371.4,305 371.7,304 371.9,307 372.2,305 372.4,306.3 372.7,304.1 372.9,304.1 373.2,306.3 373.4,306.2 373.7,304.7 373.9,304.6 374.2,301.7 374.4,300.8 374.7,301.4 374.9,304.7 375.2,304.6 375.4,300.7 375.7,301.5 375.9,302.6 376.2,300 376.4,302 376.7,301.5 376.9,294.4 377.2,301.4 377.4,298.4 377.6,301.2 377.9,297.9 378.1,298.5 378.4,299.1 378.6,299 378.9,301.2 379.1,300.4 379.4,295.9 379.6,299.9 379.9,297.9 380.1,299.1 380.4,296.2 380.6,298.3 380.9,298 381.1,293.8 381.4,300.7 381.6,296.7 381.9,294.6 382.1,294.1 382.4,291.5 382.6,297.1 382.9,294.6 383.1,295.1 383.3,295.4 383.6,292.7 383.8,292.3 384.1,293.3 384.3,295.4 384.6,293 384.8,294.2 385.1,293.2 385.3,293.2 385.6,292 385.8,294.6 386.1,296.1 386.3,293.3 386.6,292.4 386.8,292 387.1,294 387.3,296 387.6,296.7 387.8,293.7 388.1,293.3 388.3,294.7 388.6,295 388.8,292.3 389.1,295.6 389.3,291.7 389.5,289.8 389.8,291.8 390,294.4 390.3,290.5 390.5,292.8 390.8,292.1 391,290.6 391.3,291.1 391.5,290.6 391.8,294.6 392,289.4 392.3,287.2 392.5,289.5 392.8,289.9 393,291.3 393.3,288.6 393.5,289.3 393.8,289.1 394,289.1 394.3,289.1 394.5,290.2 394.8,289.7 395,289.2 395.2,291.7 395.5,287.2 395.7,290.9 396,288.7 396.2,288.7 396.5,289.8 396.7,288.4 397,286.3 397.2,285.7 397.5,287.3 397.7,286.8 398,289.3 398.2,286.4 398.5,289.4 398.7,285.1 399,287.2 399.2,287.2 399.5,284.8 399.7,285.7 400,288.2 400.2,286.2 400.5,284.8 400.7,285.8 400.9,286 401.2,284.6 401.4,289.3 401.7,285.3 401.9,286.3 402.2,287.8 402.4,286.6 402.7,288.4 402.9,284.8 403.2,285 403.4,287.4 403.7,283.7 403.9,286.1 404.2,284.8 404.4,286.2 404.7,283.7 404.9,284.6 405.2,285 405.4,284.8 405.7,288.2 405.9,284.8 406.2,282.8 406.4,285.1 406.7,282.5 406.9,285.5 407.1,285.8 407.4,286.1 407.6,286.2 407.9,285.3 408.1,285.5 408.4,284.8 408.6,285.7 408.9,284 409.1,283.5 409.4,283.1 409.6,284.2 409.9,283.4 410.1,284.1 410.4,283.5 410.6,283.2 410.9,282.2 411.1,280.3 411.4,284.6 411.6,282.5 411.9,284.2 412.1,283 412.4,283.4 412.6,281.6 412.8,281.8 413.1,280.2 413.3,282.4 413.6,284.1 413.8,281.9 414.1,281.8 414.3,281.8 414.6,282.5 414.8,280.3 415.1,283.4 415.3,279.7 415.6,278.6 415.8,284.4 416.1,281.2 416.3,278.4 416.6,280.4 416.8,282.3 417.1,283.1 417.3,280.4 417.6,279.4 417.8,282.4 418.1,278.5 418.3,283 418.6,278.4 418.8,279.9 419,276.9 419.3,279.4 419.5,277.6 419.8,280.2 420,279.2 420.3,278.9 420.5,279.1 420.8,277.2 421,281.6 421.3,281.7 421.5,278.6 421.8,277.9 422,279.6 422.3,281.3 422.5,279.5 422.8,279.1 423,279.5 423.3,280.3 423.5,278.4 423.8,278.8 424,280.6 424.3,280.7 424.5,281.2 424.7,278.8 425,281 425.2,279.5 425.5,277.6 425.7,280.8 426,280.2 426.2,282.6 426.5,276.9 426.7,280.2 427,279.8 427.2,279.3 427.5,279.4 427.7,280.8 428,277 428.2,278.7 428.5,279.2 428.7,277.8 429,278.1 429.2,279.5 429.5,278 429.7,279.5 430,276.2 430.2,278.6 430.4,280.4 430.7,278.8 430.9,279.4 431.2,278.5 431.4,275.1 431.7,280.7 431.9,278.6 432.2,279.2 432.4,277.1 432.7,281.6 432.9,277.7 433.2,279 433.4,281.1 433.7,278.3 433.9,279.1 434.2,277.7 434.4,276.5 434.7,274.2 434.9,276 435.2,277.4 435.4,274.8 435.7,276.3 435.9,276.4 436.2,275.5 436.4,274.3 436.6,274.1 436.9,277 437.1,274.4 437.4,275.4 437.6,273.9 437.9,277.1 438.1,275.3 438.4,274.3 438.6,275 438.9,274.1 439.1,276.7 439.4,274.1 439.6,273.9 439.9,275.5 440.1,275.3 440.4,275.1 440.6,276.1 440.9,275.5 441.1,276.4 441.4,275.5 441.6,273.8 441.9,275 442.1,275.9 442.3,275.1 442.6,276.6 442.8,276 443.1,277.4 443.3,276.4 443.6,274.6 443.8,273.6 444.1,275.9 444.3,275.5 444.6,275.2 444.8,275.3 445.1,276.8 445.3,274.7 445.6,274.8 445.8,276.2 446.1,275.6 446.3,276.7 446.6,274.4 446.8,275.8 447.1,274.4 447.3,276.4 447.6,274.3 447.8,276 448.1,273.9 448.3,276.4 448.5,275.5 448.8,274.5 449,275.7 449.3,277.9 449.5,277.5 449.8,275.2 450,278.6 450.3,273.1 450.5,277.5 450.8,274.5 451,278.4 451.3,273.4 451.5,274.1 451.8,275.9 452,273.5 452.3,276.4 452.5,275.1 452.8,274.1 453,277.2 453.3,274.4 453.5,275.1 453.8,274.7 454,274.9 454.2,276.2 454.5,278.1 454.7,275.9 455,276.3 455.2,275.3 455.5,279.4 455.7,276.2 456,276.6 456.2,275.6 456.5,275.6 456.7,275.8 457,275.9 457.2,275.5 457.5,275.7 457.7,276.6 458,274.6 458.2,275 458.5,273.3 458.7,273.4 459,275.8 459.2,274.6 459.5,275.4 459.7,273.8 459.9,274.4 460.2,274.1 460.4,272.7 460.7,275.9 460.9,272.4 461.2,273.7 461.4,275 461.7,275.3 461.9,276.7 462.2,274.2 462.4,272.3 462.7,273.1 462.9,273.5 463.2,273.3 463.4,273.3 463.7,272.9 463.9,271.2 464.2,273 464.4,270.5 464.7,273.7 464.9,271 465.2,273.2 465.4,271.1 465.7,271.4 465.9,272 466.1,272.9 466.4,273.4 466.6,274.5 466.9,271.3 467.1,274 467.4,272.1 467.6,273.7 467.9,272 468.1,273.6 468.4,271.1 468.6,273 468.9,271.5 469.1,272.7 469.4,272.3 469.6,271.6 469.9,270.2 470.1,271.4 470.4,270.2 470.6,270.7 470.9,268.5 471.1,270.2 471.4,271.7 471.6,270.3 471.8,271.2 472.1,271.2 472.3,271.1 472.6,271.1 472.8,272 473.1,271.6 473.3,273.3 473.6,272.6 473.8,272.7 474.1,274 474.3,273.9 474.6,272.6 474.8,275 475.1,274.1 475.3,273.4 475.6,273.3 475.8,272.6 476.1,272.8 476.3,272.5 476.6,272.6 476.8,275.2 477.1,272.2 477.3,272.8 477.6,272.3 477.8,273.1 478,271.4 478.3,272.3 478.5,271.5 478.8,272.7 479,271.3 479.3,272.1 479.5,272.5 479.8,272.2 480,271.3 480.3,272.6 480.5,271.6 480.8,273.1 481,272.6 481.3,271.5 481.5,271.4 481.8,272.5 482,272.4 482.3,272.5 482.5,270.7 482.8,270.8 483,271.1 483.3,271.3 483.5,271.9 483.7,271.7 484,272.6 484.2,269.9 484.5,270.9 484.7,271.4 485,271.7 485.2,272.6 485.5,273.5 485.7,272.1 486,272.9 486.2,271.7 486.5,272.3 486.7,273.6 487,273.7 487.2,272.9 487.5,272.9 487.7,272.4 488,272.6 488.2,273.6 488.5,273.8 488.7,273.5 489,272.4 489.2,273.4 489.5,272.4 489.7,273 489.9,272.4 490.2,273.4 490.4,272.3 490.7,272.8 490.9,271.9 491.2,272.2 491.4,271.6 491.7,273.5 491.9,272 492.2,272.1 492.4,272.8 492.7,271.5 492.9,272.4 493.2,272.8 493.4,272 493.7,271.4 493.9,272.2 494.2,272.2 494.4,272 494.7,271.4 494.9,272.3 495.2,272.2 495.4,271.4 495.6,272.1 495.9,272.5 496.1,272.8 496.4,273.2 496.6,270.8 496.9,271.4 497.1,272.6 497.4,272.2 497.6,271.9 497.9,271.4 498.1,272 498.4,271.4 498.6,271.6 498.9,271 499.1,271.7 499.4,272.6 499.6,271.5 499.9,271.2 500.1,271.8 500.4,271.2 500.6,270.9 500.9,272.3 501.1,270.7 501.3,270.2 501.6,269.5 501.8,269.3 502.1,271.4 502.3,271 502.6,270 502.8,269.9 503.1,270.7 503.3,270.2 503.6,271 503.8,269.6 504.1,270.8 504.3,270.6 504.6,270.4 504.8,270.4 505.1,270.9 505.3,269.6 505.6,270.3 505.8,270.5 506.1,270.4 506.3,270.4 506.6,271.4 506.8,271.1 507.1,269.6 507.3,271 507.5,270.6 507.8,270.2 508,270.6 508.3,270.5 508.5,269.8 508.8,270.7 509,271.6 509.3,271.2 509.5,270.2 509.8,270.2 510,270.8 510.3,271 510.5,271.4 510.8,271.7 511,272.7 511.3,271.7 511.5,271.9 511.8,271.6 512,271.8 512.3,271.5 512.5,271.3 512.8,270.2 513,271.7 513.2,271.2 513.5,270.2 513.7,271.7 514,270.5 514.2,270.5 514.5,270.1 514.7,269.9 515,269.6 515.2,269.8 515.5,270.5 515.7,269.4 516,269.5 516.2,268.8 516.5,269.3 516.7,269.5 517,270.8 517.2,272 517.5,269.4 517.7,270.3 518,270.8 518.2,272.7 518.5,270.7 518.7,271.3 519,272.2 519.2,270.5 519.4,270.9 519.7,270.4 519.9,270 520.2,269.7 520.4,269.3 520.7,270.8 520.9,270.1 521.2,270.3 521.4,270 521.7,270 521.9,269.7 522.2,270 522.4,268.8 522.7,269.8 522.9,270.1 523.2,269.1 523.4,268.4 523.7,268.5 523.9,269.2 524.2,269.1 524.4,268.3 524.7,267.6 524.9,268.5 525.1,268.7 525.4,268.5 525.6,269.5 525.9,270.4 526.1,268.8 526.4,270.3 526.6,269.7 526.9,269.7 527.1,270.5 527.4,270.9 527.6,270.7 527.9,271.3 528.1,270.8 528.4,270.8 528.6,271.4 528.9,270.6 529.1,270.7 529.4,271.6 529.6,270.3 529.9,270.4 530.1,270 530.4,270.8 530.6,271.5 530.8,270.3 531.1,271.4 531.3,269.9 531.6,270.4 531.8,270.4 532.1,269.9 532.3,270.2 532.6,270.6 532.8,270.1 533.1,269.5 533.3,269.4 533.6,270 533.8,270.5 534.1,270 534.3,270 534.6,269.9 534.8,269.9 535.1,271.5 535.3,270.6 535.6,270.8 535.8,270.9 536.1,271.8 536.3,271.5 536.6,270.9 536.8,271.7 537,271 537.3,272 537.5,271.9 537.8,272.3 538,271.3 538.3,271.1 538.5,272.3 538.8,272.1 539,272.5 539.3,271.6 539.5,273 539.8,272.1 540,271.9 540.3,272.2 540.5,272.4 540.8,272 541,271.4 541.3,271.1 541.5,271.4 541.8,270.6 542,271.1 542.3,270.8 542.5,270.5 542.7,270.4 543,270.5 543.2,269.6 543.5,269.9 543.7,269.9 544,270.8 544.2,270.5 544.5,270.8 544.7,270.1 545,270.4 545.2,270.3 545.5,270.7 545.7,270.8 546,271.8 546.2,271.4 546.5,271.8 546.7,271.4"/>
<polyline stroke="#a2d496" points="336,410.4 336.2,410.2 336.5,410.4 336.7,409.9 337,406.2 337.2,406.7 337.5,400.5 337.7,400.8 338,396.1 338.2,390.6 338.5,382.5 338.7,374.4 339,372.3 339.2,367.1 339.5,358.7 339.7,364.4 340,355.6 340.2,353 340.5,353.7 340.7,353.5 341,351.2 341.2,352.3 341.5,350.9 341.7,350.5 341.9,345.4 342.2,347.5 342.4,347.6 342.7,344.4 342.9,348 343.2,345.4 343.4,349.7 343.7,338.2 343.9,341.4 344.2,342.5 344.4,335.2 344.7,333.8 344.9,338 345.2,336.3 345.4,332.9 345.7,338.9 345.9,337.3 346.2,334.7 346.4,334 346.7,343.5 346.9,333.2 347.2,337.3 347.4,338.1 347.7,337.9 347.9,335.2 348.1,336.4 348.4,333 348.6,332 348.9,331.5 349.1,334.5 349.4,329 349.6,332.3 349.9,327.8 350.1,332.1 350.4,330.7 350.6,328.3 350.9,324.2 351.1,329.4 351.4,324.8 351.6,327 351.9,328.3 352.1,325.6 352.4,325.1 352.6,323 352.9,331.2 353.1,318.9 353.4,322.9 353.6,322.9 353.8,322.4 354.1,327.5 354.3,321.1 354.6,323.8 354.8,322.7 355.1,321.7 355.3,323.6 355.6,321.3 355.8,321.9 356.1,319.6 356.3,318.6 356.6,320.9 356.8,320.7 357.1,319.4 357.3,319 357.6,323.1 357.8,321.7 358.1,313.7 358.3,320.4 358.6,317.7 358.8,316 359.1,315.8 359.3,319.2 359.6,319.8 359.8,313.2 360,317.3 360.3,316.6 360.5,318.4 360.8,316.3 361,318.2 361.3,314 361.5,318.1 361.8,315 362,312.3 362.3,311.8 362.5,317.1 362.8,311.3 363,308.3 363.3,312.9 363.5,312.1 363.8,306.4 364,310.8 364.3,315.2 364.5,309.3 364.8,304.4 365,305.7 365.3,312.8 365.5,310.5 365.7,311.1 366,309.3 366.2,311.6 366.5,311.2 366.7,311 367,311.4 367.2,309.3 367.5,311.8 367.7,309.8 368,310.7 368.2,308.3 368.5,304.5 368.7,310.2 369,309.4 369.2,306 369.5,308 369.7,313.4 370,306.3 370.2,308.2 370.5,304.4 370.7,305.1 371,306.2 371.2,308.7 371.4,302.6 371.7,302 371.9,303.9 372.2,303.2 372.4,303 372.7,301.4 372.9,301.7 373.2,302 373.4,302.2 373.7,302.7 373.9,303.6 374.2,300.5 374.4,301.8 374.7,299.6 374.9,302.7 375.2,303.3 375.4,301.5 375.7,303.5 375.9,305 376.2,302.1 376.4,305.6 376.7,305.2 376.9,302.9 377.2,305.9 377.4,303.9 377.6,301.6 377.9,304.8 378.1,302.9 378.4,303 378.6,303 378.9,301.7 379.1,302.6 379.4,301.3 379.6,300.9 379.9,302.2 380.1,302.8 380.4,297.7 380.6,294.9 380.9,300.9 381.1,300.7 381.4,296.3 381.6,298.2 381.9,296.2 382.1,298 382.4,295.8 382.6,295.3 382.9,293.7 383.1,297.8 383.3,297.8 383.6,294.2 383.8,295.6 384.1,297.2 384.3,297.3 384.6,294.2 384.8,292.9 385.1,295.1 385.3,292.9 385.6,296.7 385.8,292.7 386.1,294.4 386.3,291.4 386.6,295.1 386.8,294.7 387.1,291.9 387.3,290.4 387.6,293.9 387.8,291.5 388.1,289.9 388.3,289.9 388.6,290.5 388.8,293 389.1,292.9 389.3,291.2 389.5,292.1 389.8,291.2 390,291.6 390.3,291.1 390.5,290.6 390.8,293.5 391,290.9 391.3,292 391.5,292.3 391.8,289.8 392,288.6 392.3,289.4 392.5,290.1 392.8,291 393,292.7 393.3,290.8 393.5,289.4 393.8,290.2 394,287.8 394.3,288.4 394.5,289.7 394.8,289.9 395,287 395.2,291.5 395.5,287.8 395.7,292.2 396,286.8 396.2,288.2 396.5,286.5 396.7,288.7 397,288.4 397.2,286.5 397.5,285.9 397.7,288.1 398,286.1 398.2,288.8 398.5,287 398.7,288.2 399,287.1 399.2,285 399.5,287.6 399.7,283.6 400,289.1 400.2,283.9 400.5,284 400.7,287.2 400.9,286 401.2,285.8 401.4,284.9 401.7,287.3 401.9,285.8 402.2,286 402.4,287.6 402.7,287.4 402.9,286 403.2,287.4 403.4,285.7 403.7,285 403.9,284 404.2,283.9 404.4,284.1 404.7,280.8 404.9,283.4 405.2,284 405.4,283.1 405.7,284.2 405.9,283 406.2,281.6 406.4,283 406.7,281.4 406.9,288.8 407.1,282.4 407.4,283.8 407.6,282.7 407.9,281.5 408.1,284.2 408.4,282 408.6,284.2 408.9,284.4 409.1,286.6 409.4,285.4 409.6,282.4 409.9,280.9 410.1,283.8 410.4,283.2 410.6,282 410.9,281.6 411.1,283.8 411.4,282.6 411.6,281 411.9,285.1 412.1,283.3 412.4,284.1 412.6,283.5 412.8,282.4 413.1,281.9 413.3,282.3 413.6,283.4 413.8,279.8 414.1,282.9 414.3,283.4 414.6,284.9 414.8,281.7 415.1,281.8 415.3,284.3 415.6,282.6 415.8,279.7 416.1,279.1 416.3,280.4 416.6,281.5 416.8,282.2 417.1,281.2 417.3,283.2 417.6,281.4 417.8,281 418.1,281.6 418.3,281.1 418.6,280.6 418.8,281.3 419,280.8 419.3,280.6 419.5,284.1 419.8,278.2 420,279.6 420.3,281.5 420.5,283.6 420.8,282.1 421,279.5 421.3,280.8 421.5,279.7 421.8,278.9 422,284.8 422.3,282.2 422.5,279 422.8,280.9 423,278.9 423.3,280 423.5,280 423.8,279.8 424,279.3 424.3,278.7 424.5,279.7 424.7,280.1 425,280 425.2,277.7 425.5,278.8 425.7,278.6 426,278.6 426.2,279.2 426.5,274.6 426.7,278 427,278.7 427.2,276.3 427.5,276.8 427.7,274.5 428,278.9 428.2,277.4 428.5,278.3 428.7,278.9 429,275.7 429.2,274.7 429.5,278.2 429.7,276 430,277.5 430.2,274.5 430.4,275.5 430.7,276.3 430.9,276.7 431.2,276.8 431.4,277.4 431.7,276.2 431.9,277.6 432.2,276.1 432.4,278.6 432.7,280 432.9,279.6 433.2,279.9 433.4,280.3 433.7,277.6 433.9,278.8 434.2,280.7 434.4,280.4 434.7,278.4 434.9,278.6 435.2,278.2 435.4,278.4 435.7,277.5 435.9,278.5 436.2,276.1 436.4,277.4 436.6,276.9 436.9,277.3 437.1,277.6 437.4,279.2 437.6,277.8 437.9,276.5 438.1,275.6 438.4,276 438.6,277.9 438.9,279.5 439.1,276.4 439.4,278.1 439.6,278.2 439.9,276.4 440.1,278.5 440.4,277.3 440.6,279.4 440.9,278.6 441.1,275.2 441.4,276 441.6,276.8 441.9,276.8 442.1,277.7 442.3,276.2 442.6,275.5 442.8,276.4 443.1,277 443.3,276.5 443.6,275.8 443.8,276.2 444.1,274.1 444.3,275.4 444.6,275.9 444.8,276.6 445.1,277.1 445.3,275.9 445.6,275.9 445.8,276 446.1,275.8 446.3,278 446.6,275.1 446.8,275 447.1,276.5 447.3,277.9 447.6,276.5 447.8,275 448.1,278.5 448.3,275.7 448.5,277.4 448.8,276.5 449,275.6 449.3,278.1 449.5,276.2 449.8,277.1 450,276.4 450.3,274.6 450.5,277.8 450.8,276.8 451,274.1 451.3,277 451.5,276.3 451.8,275.4 452,274.2 452.3,273.7 452.5,275.3 452.8,275.1 453,273.4 453.3,276.1 453.5,277 453.8,275 454,273.7 454.2,273.3 454.5,272.7 454.7,275.4 455,273.2 455.2,273.1 455.5,272.8 455.7,272.5 456,271.7 456.2,273.1 456.5,273.8 456.7,273 457,271.5 457.2,272.6 457.5,271.3 457.7,273.4 458,274.5 458.2,275 458.5,270.8 458.7,274.6 459,273.8 459.2,271.2 459.5,272.4 459.7,273.6 459.9,271.7 460.2,276.1 460.4,273.5 460.7,272.3 460.9,271.8 461.2,272.3 461.4,275.4 461.7,273.4 461.9,272.8 462.2,272 462.4,274.4 462.7,271.1 462.9,271.5 463.2,272.2 463.4,272 463.7,272 463.9,271.7 464.2,271.1 464.4,273 464.7,272.8 464.9,273.1 465.2,273 465.4,272.7 465.7,272.6 465.9,272.1 466.1,271.1 466.4,270.2 466.6,272.2 466.9,272 467.1,273.5 467.4,272.4 467.6,274.2 467.9,273.3 468.1,272.8 468.4,274 468.6,273.7 468.9,274.6 469.1,273.3 469.4,272 469.6,272.1 469.9,272 470.1,273.7 470.4,273.9 470.6,274.7 470.9,273.5 471.1,273.4 471.4,271.4 471.6,272.5 471.8,274.4 472.1,273.3 472.3,273.6 472.6,272.9 472.8,271.9 473.1,272.6 473.3,272.6 473.6,274 473.8,274.4 474.1,272.1 474.3,272 474.6,273.1 474.8,272.4 475.1,271.9 475.3,272.5 475.6,272.9 475.8,271.7 476.1,271.2 476.3,273 476.6,271.5 476.8,269.8 477.1,271.8 477.3,271.1 477.6,271.5 477.8,270.8 478,270.9 478.3,271.3 478.5,272.1 478.8,271.6 479,271.3 479.3,271 479.5,270.6 479.8,271.8 480,270.6 480.3,272.7 480.5,271.4 480.8,272.4 481,271.4 481.3,271.6 481.5,271.6 481.8,273.7 482,272.8 482.3,274.6 482.5,273.1 482.8,273.7 483,273.8 483.3,273.5 483.5,274.1 483.7,271.8 484,274.6 484.2,274.2 484.5,273.9 484.7,274.2 485,274.5 485.2,273.6 485.5,273.4 485.7,273.4 486,272.6 486.2,273.5 486.5,272.7 486.7,272.5 487,272.3 487.2,272.8 487.5,272.4 487.7,273.7 488,273.1 488.2,271.8 488.5,272.7 488.7,272.3 489,272.6 489.2,272.4 489.5,272.4 489.7,272.3 489.9,271.8 490.2,271.6 490.4,272 490.7,271.5 490.9,272.3 491.2,272.3 491.4,272.6 491.7,271.4 491.9,272.1 492.2,272.4 492.4,272.4 492.7,271.8 492.9,272.1 493.2,271.4 493.4,272.7 493.7,271.7 493.9,272.5 494.2,272.1 494.4,271.2 494.7,271.4 494.9,271.7 495.2,270.9 495.4,271.7 495.6,271.2 495.9,271.5 496.1,271.4 496.4,270.3 496.6,270.4 496.9,270.2 497.1,270.7 497.4,269.3 497.6,271.3 497.9,270.2 498.1,270.8 498.4,271.2 498.6,271.8 498.9,271.9 499.1,270.4 499.4,271.8 499.6,271.6 499.9,270.7 500.1,271.3 500.4,271.2 500.6,270.8 500.9,271.3 501.1,270.6 501.3,270.5 501.6,271.4 501.8,269.8 502.1,269.1 502.3,270 502.6,270.2 502.8,269.3 503.1,270.3 503.3,270.7 503.6,269.1 503.8,270.2 504.1,271.2 504.3,270.6 504.6,269.8 504.8,268.9 505.1,269.6 505.3,269 505.6,268.7 505.8,268.6 506.1,269.1 506.3,268.1 506.6,268.9 506.8,268.5 507.1,269.6 507.3,270.3 507.5,269.3 507.8,269.4 508,270.3 508.3,270.4 508.5,271.3 508.8,271.8 509,272.2 509.3,272.2 509.5,272.2 509.8,272.2 510,273.4 510.3,272.9 510.5,273.4 510.8,272.7 511,273.5 511.3,273.1 511.5,271.6 511.8,272.1 512,272.3 512.3,272.2 512.5,271.8 512.8,271.9 513,271.9 513.2,270.5 513.5,271.8 513.7,272 514,271.8 514.2,270.9 514.5,270.2 514.7,272.8 515,272.1 515.2,271.1 515.5,271.7 515.7,271.7 516,272.1 516.2,271.9 516.5,271.5 516.7,271.5 517,271.4 517.2,271.1 517.5,271.2 517.7,270.9 518,270 518.2,271.6 518.5,271 518.7,271.4 519,271.6 519.2,270.5 519.4,271.2 519.7,272.3 519.9,271.9 520.2,271.9 520.4,271 520.7,272.5 520.9,271.6 521.2,271.9 521.4,272.4 521.7,272.5 521.9,271.8 522.2,272.4 522.4,272.3 522.7,272.8 522.9,273.1 523.2,272.8 523.4,272.5 523.7,272.2 523.9,273.1 524.2,272.5 524.4,272.4 524.7,273 524.9,272.8 525.1,273.4 525.4,272.4 525.6,272.7 525.9,273.5 526.1,273.4 526.4,273.1 526.6,273.1 526.9,273.1 527.1,273.2 527.4,272.7 527.6,272 527.9,272.6 528.1,271.7 528.4,272.2 528.6,272.3 528.9,272.9 529.1,272.2 529.4,273.1 529.6,272.1 529.9,272.5 530.1,273.7 530.4,273.9 530.6,274 530.8,273.3 531.1,272.8 531.3,273.6 531.6,274 531.8,274.3 532.1,274 532.3,274.2 532.6,273.3 532.8,273.5 533.1,271.6 533.3,273.4 533.6,272 533.8,272.5 534.1,271.7 534.3,272.5 534.6,271.3 534.8,271.4 535.1,270.7 535.3,272.6 535.6,270.9 535.8,271.1 536.1,271.9 536.3,271.2 536.6,270.8 536.8,271.2 537,270.6 537.3,271.5 537.5,271.7 537.8,272.5 538,273.7 538.3,271.1 538.5,272.4 538.8,271.5 539,272.5 539.3,273 539.5,273.7 539.8,273.8 540,272.4 540.3,273 540.5,273.6 540.8,273.4 541,273.3 541.3,273.4 541.5,272.1 541.8,272.8 542,272.1 542.3,272.3 542.5,271.3 542.7,271.5 543,271.9 543.2,270.9 543.5,270.6 543.7,271.9 544,271.5 544.2,271 544.5,270.5 544.7,270.8 545,271.3 545.2,271.1 545.5,271.1 545.7,272.5 546,271.9 546.2,272.4 546.5,272.5 546.7,272.2"/>
<polyline stroke="#f7bc98" points="336,410.4 336.2,409.5 336.5,410.4 336.7,408.6 337,406.3 337.2,406.1 337.5,400 337.7,399.7 338,400 338.2,387.6 338.5,377.4 338.7,377.2 339,366.6 339.2,363.6 339.5,355.3 339.7,359.6 340,357.2 340.2,353.9 340.5,350.8 340.7,350.1 341,345.6 341.2,349.7 341.5,353.8 341.7,346 341.9,348.4 342.2,346.1 342.4,343.8 342.7,345.3 342.9,339.9 343.2,340 343.4,340.5 343.7,338.8 343.9,341.7 344.2,338.4 344.4,337.3 344.7,336.3 344.9,336.4 345.2,335.1 345.4,333.4 345.7,336.6 345.9,333.6 346.2,330.3 346.4,340.1 346.7,333.8 346.9,328.4 347.2,334.2 347.4,336.7 347.7,331.1 347.9,330.8 348.1,331.8 348.4,331.1 348.6,328.2 348.9,332.4 349.1,327.7 349.4,331.6 349.6,327.2 349.9,324.8 350.1,325.3 350.4,325.4 350.6,322.7 350.9,325.9 351.1,318.7 351.4,321.7 351.6,327.2 351.9,325.7 352.1,322.9 352.4,320.4 352.6,317.4 352.9,326.3 353.1,323.4 353.4,321.7 353.6,320.4 353.8,322.6 354.1,323.1 354.3,320.2 354.6,318 354.8,315.9 355.1,319.4 355.3,323.5 355.6,317 355.8,315.6 356.1,315.7 356.3,314.3 356.6,312.6 356.8,318.5 357.1,319.9 357.3,318.3 357.6,313.1 357.8,317.4 358.1,317 358.3,319.3 358.6,318 358.8,318.2 359.1,314.1 359.3,316.9 359.6,315.5 359.8,312.9 360,311.3 360.3,318.4 360.5,313.5 360.8,311.8 361,311.1 361.3,312.7 361.5,311.8 361.8,310.6 362,313 362.3,308.6 362.5,311.7 362.8,309.7 363,308.8 363.3,311.3 363.5,309.1 363.8,303.5 364,310.5 364.3,310.4 364.5,309.4 364.8,310.5 365,308.2 365.3,306.4 365.5,304.1 365.7,306.7 366,308.4 366.2,306.9 366.5,306.6 366.7,305.7 367,307.8 367.2,310.2 367.5,311 367.7,307.5 368,306.2 368.2,310.2 368.5,310.6 368.7,303.1 369,302.7 369.2,305.8 369.5,305.5 369.7,304.4 370,306.6 370.2,304.7 370.5,305.4 370.7,302.7 371,304.3 371.2,305 371.4,303.6 371.7,303.1 371.9,305.1 372.2,301.8 372.4,301.8 372.7,302.2 372.9,297.2 373.2,305.3 373.4,302.2 373.7,302.2 373.9,302.3 374.2,302.5 374.4,299.1 374.7,300.3 374.9,302.1 375.2,297.7 375.4,300.7 375.7,299.6 375.9,297.8 376.2,299.7 376.4,297.4 376.7,296.5 376.9,296.4 377.2,303.3 377.4,299.6 377.6,302.9 377.9,298.6 378.1,295.4 378.4,297.2 378.6,300.2 378.9,296.3 379.1,298.9 379.4,296.1 379.6,296.5 379.9,298.1 380.1,300.3 380.4,297.1 380.6,297.1 380.9,295.8 381.1,293 381.4,295.4 381.6,294.5 381.9,295.2 382.1,294.6 382.4,295.9 382.6,294.6 382.9,296.4 383.1,293.1 383.3,291.7 383.6,294.1 383.8,291.5 384.1,296.2 384.3,294.8 384.6,296.4 384.8,293.9 385.1,292.5 385.3,293.8 385.6,293 385.8,292.7 386.1,291.9 386.3,293.3 386.6,293.9 386.8,292.5 387.1,294.4 387.3,294.9 387.6,297.6 387.8,295.7 388.1,292.4 388.3,296.3 388.6,296.2 388.8,295.2 389.1,294.9 389.3,295.2 389.5,295.4 389.8,295.4 390,294.6 390.3,292.2 390.5,292.8 390.8,292.9 391,292.4 391.3,291.8 391.5,290.5 391.8,291 392,290.6 392.3,289.9 392.5,292 392.8,290.9 393,290.3 393.3,290.1 393.5,287.5 393.8,289.6 394,289.6 394.3,290 394.5,290.1 394.8,288 395,291.8 395.2,290.3 395.5,285.8 395.7,291.2 396,287.2 396.2,290.3 396.5,291 396.7,284.9 397,291.1 397.2,290.6 397.5,284.7 397.7,288.2 398,285.1 398.2,288.8 398.5,281.8 398.7,287.1 399,285.4 399.2,286.1 399.5,285.1 399.7,284.8 400,286.9 400.2,287.9 400.5,285.6 400.7,284.1 400.9,283.7 401.2,284.6 401.4,284.2 401.7,286.4 401.9,286.2 402.2,284.8 402.4,288.3 402.7,285 402.9,288.5 403.2,285.4 403.4,286.5 403.7,292 403.9,287.8 404.2,287.9 404.4,284.7 404.7,286.6 404.9,283.8 405.2,284.8 405.4,286.4 405.7,286.9 405.9,287.1 406.2,287 406.4,287.7 406.7,287.1 406.9,285.4 407.1,284.3 407.4,283.5 407.6,286.5 407.9,284.3 408.1,285.9 408.4,287.2 408.6,289.3 408.9,287.1 409.1,283.7 409.4,282.4 409.6,280.2 409.9,281.3 410.1,285.1 410.4,284.4 410.6,280.9 410.9,283.3 411.1,285.6 411.4,284.3 411.6,281.1 411.9,283.6 412.1,283.2 412.4,281.7 412.6,284.4 412.8,284.2 413.1,280.5 413.3,278.9 413.6,283.2 413.8,282.6 414.1,283.6 414.3,282.8 414.6,283.1 414.8,284.8 415.1,281.4 415.3,284.1 415.6,283 415.8,284.7 416.1,281.5 416.3,284.5 416.6,283.6 416.8,284.4 417.1,281.7 417.3,282.1 417.6,284.1 417.8,286.6 418.1,285.8 418.3,283.9 418.6,283.8 418.8,280 419,278.1 419.3,280.2 419.5,280.3 419.8,280.6 420,281 420.3,279.7 420.5,280 420.8,280.9 421,279.7 421.3,280.1 421.5,280.5 421.8,280.4 422,280.3 422.3,280.1 422.5,280.1 422.8,277.5 423,277.1 423.3,280.2 423.5,279.1 423.8,280.9 424,279.9 424.3,277 424.5,280.1 424.7,280.1 425,280 425.2,279.5 425.5,278.5 425.7,279 426,277.1 426.2,278.5 426.5,278.9 426.7,277.6 427,278.6 427.2,280.2 427.5,279.5 427.7,277.1 428,278.2 428.2,278.3 428.5,278.5 428.7,278.3 429,277.1 429.2,278.3 429.5,280.7 429.7,279.6 430,279.1 430.2,276.3 430.4,276.6 430.7,277.6 430.9,278.5 431.2,277.3 431.4,277.4 431.7,275.4 431.9,276.7 432.2,278.9 432.4,277.6 432.7,279.6 432.9,281 433.2,279.3 433.4,280.2 433.7,280.3 433.9,280.3 434.2,279.6 434.4,280.5 434.7,280.1 434.9,280.5 435.2,279.6 435.4,282.1 435.7,279.4 435.9,278.8 436.2,278.2 436.4,279.3 436.6,276.7 436.9,278.9 437.1,278.1 437.4,279.2 437.6,279.1 437.9,279.7 438.1,278.8 438.4,279.2 438.6,278.6 438.9,276.2 439.1,276.8 439.4,277.7 439.6,275.6 439.9,277.5 440.1,277.5 440.4,276.6 440.6,277.9 440.9,279.7 441.1,275.5 441.4,277.8 441.6,277.6 441.9,276.5 442.1,273.8 442.3,278 442.6,277 442.8,278.1 443.1,278.3 443.3,278.3 443.6,277.2 443.8,276.9 444.1,277.7 444.3,276.3 444.6,277.8 444.8,280.3 445.1,277.3 445.3,276.6 445.6,278.6 445.8,279.7 446.1,276.2 446.3,274.6 446.6,278.9 446.8,276.7 447.1,276.6 447.3,278.4 447.6,277 447.8,278.4 448.1,275.9 448.3,276.4 448.5,276 448.8,274.9 449,277 449.3,275.8 449.5,275.6 449.8,274 450,277.7 450.3,276.5 450.5,277 450.8,276.6 451,275 451.3,275.2 451.5,276.7 451.8,275.4 452,276.9 452.3,276 452.5,277.7 452.8,276.1 453,274.9 453.3,274.8 453.5,275.7 453.8,274.8 454,276.1 454.2,275.5 454.5,274.4 454.7,275 455,277.1 455.2,275.6 455.5,274.7 455.7,274.7 456,274.7 456.2,276.4 456.5,276.2 456.7,276 457,277.3 457.2,277.1 457.5,274.7 457.7,275.8 458,276.2 458.2,274 458.5,275.2 458.7,275.2 459,275.8 459.2,273.6 459.5,275.4 459.7,273.8 459.9,274.5 460.2,274.7 460.4,275 460.7,276.1 460.9,273.6 461.2,274.5 461.4,275.1 461.7,275.6 461.9,275.6 462.2,274.6 462.4,273.9 462.7,275.3 462.9,274.6 463.2,275.6 463.4,272.2 463.7,274.9 463.9,275.7 464.2,276.3 464.4,273.3 464.7,274.2 464.9,273.7 465.2,274.3 465.4,275.3 465.7,274.3 465.9,274.7 466.1,274.8 466.4,274 466.6,273.6 466.9,272.5 467.1,273.1 467.4,273.1 467.6,271.8 467.9,273.9 468.1,274.7 468.4,273.5 468.6,274.5 468.9,273.6 469.1,274.2 469.4,271.5 469.6,272.6 469.9,272.5 470.1,273.5 470.4,271.9 470.6,272.5 470.9,271.5 471.1,272.4 471.4,271.1 471.6,273.1 471.8,273.1 472.1,272.7 472.3,271.2 472.6,271.1 472.8,272.1 473.1,272.9 473.3,273.2 473.6,272.8 473.8,270.4 474.1,272.2 474.3,272.7 474.6,272.9 474.8,271.5 475.1,272.7 475.3,272.4 475.6,272.8 475.8,270.7 476.1,272.6 476.3,272.9 476.6,271.2 476.8,272.7 477.1,272.3 477.3,270.7 477.6,272.2 477.8,271.7 478,270.8 478.3,271.6 478.5,271.1 478.8,272.7 479,271.6 479.3,272.9 479.5,272.1 479.8,271.6 480,272.8 480.3,272.5 480.5,271.7 480.8,273.1 481,273.9 481.3,273.7 481.5,272.8 481.8,273.1 482,274 482.3,272.3 482.5,272.8 482.8,274 483,274.5 483.3,275.1 483.5,275.1 483.7,274.2 484,275.5 484.2,275.3 484.5,274.9 484.7,274.1 485,275.4 485.2,275.3 485.5,274.7 485.7,274.7 486,274 486.2,273.6 486.5,274.1 486.7,274.6 487,275.8 487.2,274.1 487.5,275.5 487.7,275.4 488,274.8 488.2,274.9 488.5,273.8 488.7,275.2 489,274.7 489.2,274.4 489.5,274 489.7,275.2 489.9,273.8 490.2,273.8 490.4,273.6 490.7,273.5 490.9,274.4 491.2,273.5 491.4,272.8 491.7,274 491.9,272.7 492.2,273.1 492.4,273 492.7,273.2 492.9,272.9 493.2,272.1 493.4,272.9 493.7,272.6 493.9,273.4 494.2,272.7 494.4,273.2 494.7,272.4 494.9,272.7 495.2,271.9 495.4,273.1 495.6,271.8 495.9,272.5 496.1,272.4 496.4,273.3 496.6,272.5 496.9,272.3 497.1,273.4 497.4,272.5 497.6,272.6 497.9,273 498.1,272.1 498.4,273 498.6,273.7 498.9,273.3 499.1,273.8 499.4,273.4 499.6,274.1 499.9,274.3 500.1,274.6 500.4,273 500.6,273.6 500.9,272.9 501.1,273.5 501.3,274.5 501.6,274.1 501.8,272.8 502.1,273.3 502.3,273.6 502.6,273.4 502.8,273.9 503.1,273.4 503.3,273 503.6,273.2 503.8,273.9 504.1,272.8 504.3,273.5 504.6,273.6 504.8,274 505.1,273.5 505.3,273.6 505.6,275 505.8,274.1 506.1,274.2 506.3,273.9 506.6,273.6 506.8,274.6 507.1,274.9 507.3,275.1 507.5,274.3 507.8,274.2 508,275 508.3,273.3 508.5,275 508.8,275.4 509,274.4 509.3,273.5 509.5,274 509.8,274 510,275.7 510.3,275.3 510.5,275.6 510.8,275.7 511,275.1 511.3,275.4 511.5,274.9 511.8,275 512,274.6 512.3,274.5 512.5,274.4 512.8,275 513,275.6 513.2,274.9 513.5,275.1 513.7,273.9 514,273.8 514.2,274.4 514.5,273.6 514.7,274.6 515,274 515.2,274.6 515.5,273.5 515.7,273.4 516,274.1 516.2,272.9 516.5,272.8 516.7,272.7 517,274 517.2,273.3 517.5,272.9 517.7,272.7 518,272.9 518.2,271.5 518.5,272.3 518.7,272.8 519,272.4 519.2,272.8 519.4,270.9 519.7,271.4 519.9,272.4 520.2,273.2 520.4,272.7 520.7,272.2 520.9,272.6 521.2,272.3 521.4,273.7 521.7,274 521.9,273 522.2,273.5 522.4,272.5 522.7,273.8 522.9,274.2 523.2,273.8 523.4,274.3 523.7,273.7 523.9,272.9 524.2,273.6 524.4,273.9 524.7,273.4 524.9,272.4 525.1,272.8 525.4,272 525.6,271.5 525.9,272 526.1,271.1 526.4,270.6 526.6,270.8 526.9,270.6 527.1,271 527.4,270.7 527.6,270.2 527.9,270.2 528.1,270.7 528.4,269.6 528.6,271.7 528.9,270.8 529.1,271.5 529.4,271.7 529.6,270.9 529.9,271.5 530.1,272.2 530.4,272.1 530.6,272 530.8,271.6 531.1,271.7 531.3,271.7 531.6,271.4 531.8,271 532.1,271.4 532.3,270.5 532.6,271 532.8,272 533.1,271.7 533.3,271.5 533.6,272.5 533.8,272 534.1,271.4 534.3,272.6 534.6,271.2 534.8,272 535.1,271.5 535.3,272.1 535.6,273 535.8,272.1 536.1,271 536.3,270.9 536.6,270.5 536.8,271.1 537,270.4 537.3,269.8 537.5,270.6 537.8,270.3 538,270.2 538.3,269 538.5,269.7 538.8,269.8 539,271.1 539.3,269.5 539.5,270.7 539.8,270.4 540,270.7 540.3,270.6 540.5,270.2 540.8,270.7 541,271.5 541.3,270.7 541.5,270.1 541.8,270.5 542,270.5 542.3,271.3 542.5,270.9 542.7,270.6 543,271 543.2,270.3 543.5,270.1 543.7,271.5 544,272.6 544.2,273.2 544.5,271.9 544.7,272.3 545,272.3 545.2,272.3 545.5,272.4 545.7,272.4 546,272.9 546.2,272.2 546.5,271.9 546.7,273.5"/>
<polyline stroke="#82c4e6" points="336,410.4 336.2,409.6 336.5,410.3 336.7,410.4 337,407.5 337.2,404.2 337.5,400.7 337.7,395.8 338,395.2 338.2,388 338.5,381.3 338.7,372.4 339,372.8 339.2,367 339.5,364.5 339.7,360.8 340,356.5 340.2,352.3 340.5,358.5 340.7,357.4 341,352 341.2,353.2 341.5,349 341.7,350.8 341.9,348.8 342.2,347.6 342.4,347 342.7,343.5 342.9,345.4 343.2,340.7 343.4,342.6 343.7,344.5 343.9,345.6 344.2,339.1 344.4,343.3 344.7,342 344.9,343 345.2,336.7 345.4,339.7 345.7,344.5 345.9,341.4 346.2,342.7 346.4,339.7 346.7,339 346.9,336.7 347.2,339 347.4,338.7 347.7,337.2 347.9,334.8 348.1,339.1 348.4,330.5 348.6,332.1 348.9,336.5 349.1,333.7 349.4,327.5 349.6,325 349.9,330.3 350.1,328.8 350.4,327.3 350.6,329.9 350.9,327.3 351.1,328 351.4,329.1 351.6,324 351.9,327.3 352.1,322 352.4,328.9 352.6,330.1 352.9,328.9 353.1,321.1 353.4,327.7 353.6,320.6 353.8,328.7 354.1,320.4 354.3,324.8 354.6,325.1 354.8,318.4 355.1,322.7 355.3,325.3 355.6,325.5 355.8,323.4 356.1,321.6 356.3,324.3 356.6,321.8 356.8,320.8 357.1,323.3 357.3,313.4 357.6,319.6 357.8,327.1 358.1,316.3 358.3,317 358.6,315.8 358.8,315.3 359.1,318.3 359.3,316.8 359.6,315.6 359.8,314.6 360,316.6 360.3,314.6 360.5,320 360.8,314.1 361,312 361.3,312.4 361.5,310.2 361.8,315.1 362,312.4 362.3,310 362.5,313.4 362.8,312.7 363,312.3 363.3,308.5 363.5,311.9 363.8,313.3 364,307.1 364.3,313.8 364.5,316.4 364.8,311.8 365,309.6 365.3,311.7 365.5,310.2 365.7,307.8 366,308 366.2,311.1 366.5,302.9 366.7,307.4 367,308.6 367.2,306.2 367.5,313.2 367.7,311 368,309.4 368.2,305.9 368.5,309.4 368.7,310.6 369,308.4 369.2,309.4 369.5,314.8 369.7,308 370,305.6 370.2,305.8 370.5,309.3 370.7,303.8 371,307.8 371.2,307 371.4,307.2 371.7,305.1 371.9,305.9 372.2,305.2 372.4,302.5 372.7,300.6 372.9,305.5 373.2,304.2 373.4,301.8 373.7,304.1 373.9,305.9 374.2,299.9 374.4,302.3 374.7,299.5 374.9,304.2 375.2,301.1 375.4,303.6 375.7,302 375.9,302.7 376.2,298 376.4,300.4 376.7,302.8 376.9,301.9 377.2,300.9 377.4,299 377.6,296.9 377.9,298.2 378.1,299.8 378.4,296.4 378.6,298.7 378.9,299.8 379.1,297.3 379.4,299.1 379.6,299.7 379.9,298.5 380.1,297.6 380.4,297 380.6,296.3 380.9,296 381.1,297.4 381.4,295.5 381.6,300.6 381.9,296.3 382.1,295.8 382.4,296.6 382.6,295.7 382.9,299 383.1,296.3 383.3,298.1 383.6,300.6 383.8,298.8 384.1,296.3 384.3,296 384.6,295.5 384.8,295 385.1,297 385.3,297.3 385.6,295.4 385.8,295.7 386.1,295 386.3,294.7 386.6,295 386.8,295.2 387.1,292.6 387.3,290.2 387.6,292.3 387.8,291.4 388.1,288.2 388.3,290.6 388.6,290.2 388.8,288.5 389.1,293.3 389.3,288.5 389.5,290.4 389.8,292.1 390,287.6 390.3,291.6 390.5,291.4 390.8,290.9 391,290 391.3,293.3 391.5,291.2 391.8,290 392,290.5 392.3,289.4 392.5,289.4 392.8,288.6 393,290.6 393.3,288.8 393.5,288.5 393.8,291.1 394,286.3 394.3,286.6 394.5,290 394.8,291.2 395,289 395.2,288.5 395.5,288.6 395.7,288.6 396,286.8 396.2,283.1 396.5,285.9 396.7,285.3 397,288.8 397.2,284.6 397.5,283.5 397.7,286.7 398,287.7 398.2,284.9 398.5,284.4 398.7,287 399,285.2 399.2,283.6 399.5,284.7 399.7,284.9 400,284.8 400.2,286.5 400.5,282.1 400.7,282.8 400.9,283.1 401.2,285.9 401.4,282.8 401.7,286.3 401.9,284.3 402.2,285.8 402.4,285.6 402.7,284.5 402.9,283 403.2,284.9 403.4,285.1 403.7,284.2 403.9,286.6 404.2,284.1 404.4,284.1 404.7,283.9 404.9,281.5 405.2,281.1 405.4,284.4 405.7,283.2 405.9,284.8 406.2,285 406.4,284.9 406.7,280.7 406.9,284.8 407.1,282.2 407.4,284.6 407.6,283 407.9,286.3 408.1,280.9 408.4,281.5 408.6,283.9 408.9,284 409.1,284.8 409.4,284.6 409.6,282.3 409.9,284.7 410.1,285.4 410.4,283.7 410.6,282.7 410.9,285.3 411.1,283.7 411.4,285.8 411.6,282.1 411.9,282.8 412.1,285.1 412.4,281.5 412.6,284.4 412.8,282.7 413.1,283.4 413.3,283.5 413.6,285.6 413.8,282 414.1,281.5 414.3,281.8 414.6,281.6 414.8,281.6 415.1,280.5 415.3,281.6 415.6,282.4 415.8,280.1 416.1,279.4 416.3,281.4 416.6,278.2 416.8,283.5 417.1,280.3 417.3,280.7 417.6,279.1 417.8,280.2 418.1,279.3 418.3,281.5 418.6,282.2 418.8,280.3 419,278.3 419.3,281.1 419.5,279.2 419.8,280.3 420,282.1 420.3,279.4 420.5,280.6 420.8,280.7 421,281.8 421.3,281.4 421.5,282.1 421.8,285.8 422,281.7 422.3,281 422.5,282.8 422.8,282.2 423,280.8 423.3,280.6 423.5,284 423.8,280.8 424,279.3 424.3,280.3 424.5,280.3 424.7,281.1 425,281.2 425.2,276.6 425.5,279.4 425.7,279.4 426,279.4 426.2,277.1 426.5,279.4 426.7,280.6 427,276.1 427.2,279.7 427.5,276.8 427.7,279.8 428,277.3 428.2,278 428.5,278.8 428.7,279.4 429,279.1 429.2,279.6 429.5,279.3 429.7,279.3 430,280.4 430.2,279.1 430.4,280.2 430.7,277.4 430.9,278.5 431.2,276.2 431.4,279.1 431.7,277.9 431.9,275.8 432.2,278.3 432.4,278.8 432.7,278.5 432.9,275 433.2,275.6 433.4,275.3 433.7,277.9 433.9,275.8 434.2,275 434.4,277.2 434.7,276.9 434.9,277 435.2,274.9 435.4,276.8 435.7,275.4 435.9,273.2 436.2,277 436.4,275.7 436.6,275 436.9,274.8 437.1,276.1 437.4,276.5 437.6,274.5 437.9,276.7 438.1,274.4 438.4,275.4 438.6,275.1 438.9,274.1 439.1,275.4 439.4,277.5 439.6,277.9 439.9,274.7 440.1,274.9 440.4,274.4 440.6,274.5 440.9,274.8 441.1,274.3 441.4,274 441.6,274.8 441.9,273.5 442.1,271.7 442.3,273.4 442.6,273.4 442.8,270 443.1,270 443.3,273.2 443.6,271.9 443.8,270.1 444.1,273 444.3,273.5 444.6,272.4 444.8,272.1 445.1,273.1 445.3,274.7 445.6,272.3 445.8,272.6 446.1,272.3 446.3,271.3 446.6,274.3 446.8,273.9 447.1,271.6 447.3,275.4 447.6,274.2 447.8,273.1 448.1,272.4 448.3,272.7 448.5,272.8 448.8,273.6 449,272.1 449.3,272.1 449.5,272.1 449.8,273 450,270.8 450.3,272.3 450.5,272.2 450.8,272.6 451,272.6 451.3,273.1 451.5,273.1 451.8,273.8 452,273.8 452.3,273.7 452.5,274.9 452.8,273.7 453,275.1 453.3,273.7 453.5,273.2 453.8,273.5 454,271.7 454.2,273.1 454.5,272.8 454.7,273.1 455,271.8 455.2,273.2 455.5,271.2 455.7,270.8 456,273.2 456.2,272.8 456.5,269.9 456.7,270.8 457,272.6 457.2,272.1 457.5,272.2 457.7,270.3 458,272.8 458.2,270.8 458.5,270.8 458.7,271.6 459,272.3 459.2,268.7 459.5,270.9 459.7,269.7 459.9,270.5 460.2,270.7 460.4,270.9 460.7,274 460.9,271.3 461.2,270.9 461.4,270.3 461.7,273.3 461.9,272 462.2,273.8 462.4,270.3 462.7,275.3 462.9,272.4 463.2,271.8 463.4,274.1 463.7,272.5 463.9,271.6 464.2,273.4 464.4,271.4 464.7,273.5 464.9,275.1 465.2,272.9 465.4,275 465.7,273.3 465.9,274.1 466.1,274.5 466.4,273.3 466.6,273.4 466.9,272.9 467.1,273.3 467.4,272.4 467.6,272.2 467.9,271.6 468.1,272.4 468.4,270.7 468.6,272.2 468.9,270.3 469.1,272.4 469.4,273 469.6,273.5 469.9,273.3 470.1,272.3 470.4,274.5 470.6,274.9 470.9,273.8 471.1,275 471.4,273.6 471.6,275.3 471.8,275.6 472.1,273.5 472.3,275.7 472.6,275.3 472.8,273.9 473.1,274 473.3,273.4 473.6,274.1 473.8,272.1 474.1,273.9 474.3,274.6 474.6,273.1 474.8,273.5 475.1,272.5 475.3,273.1 475.6,272.8 475.8,273.4 476.1,272.7 476.3,270.4 476.6,274.7 476.8,273 477.1,271.3 477.3,273.9 477.6,274.1 477.8,273 478,272.5 478.3,273.1 478.5,274.2 478.8,271.8 479,272.8 479.3,272.1 479.5,272.8 479.8,270.6 480,272.2 480.3,272.8 480.5,271.2 480.8,271.8 481,272.1 481.3,272 481.5,270.8 481.8,271.2 482,272.5 482.3,272.2 482.5,271.2 482.8,271.7 483,270.9 483.3,271.6 483.5,272.5 483.7,271.1 484,271.3 484.2,272 484.5,272.6 484.7,271.9 485,272.2 485.2,270.9 485.5,274.3 485.7,272.5 486,271.7 486.2,271.9 486.5,272.4 486.7,270.9 487,271.4 487.2,271.7 487.5,269.9 487.7,270.4 488,271.3 488.2,270.9 488.5,271.8 488.7,272.1 489,271.3 489.2,270.7 489.5,269.7 489.7,271.6 489.9,271.8 490.2,270.6 490.4,270.5 490.7,271 490.9,272.1 491.2,270.7 491.4,270.6 491.7,271.7 491.9,271 492.2,270.4 492.4,270.3 492.7,270.2 492.9,269.7 493.2,271.7 493.4,270.7 493.7,270.7 493.9,270.6 494.2,270.8 494.4,271.4 494.7,271.1 494.9,270.6 495.2,271 495.4,271.9 495.6,271.1 495.9,270.4 496.1,271.2 496.4,271.5 496.6,271.5 496.9,270.1 497.1,271.4 497.4,271.1 497.6,270.7 497.9,270.7 498.1,270.8 498.4,270 498.6,269.8 498.9,270.4 499.1,269.7 499.4,271.1 499.6,270 499.9,268.7 500.1,267.8 500.4,269.8 500.6,270.2 500.9,269 501.1,269.2 501.3,269.2 501.6,269.8 501.8,270.9 502.1,270.5 502.3,271 502.6,271.8 502.8,271.6 503.1,272 503.3,271.4 503.6,271.4 503.8,272.2 504.1,272.2 504.3,272.4 504.6,272 504.8,271.9 505.1,271.5 505.3,270.9 505.6,272 505.8,271.1 506.1,271.6 506.3,271.8 506.6,270.6 506.8,270.9 507.1,271.5 507.3,271.9 507.5,270.8 507.8,271.3 508,270.6 508.3,270.8 508.5,271.6 508.8,270.8 509,270.6 509.3,271.5 509.5,270.8 509.8,269.7 510,270.4 510.3,271.3 510.5,270.8 510.8,270.3 511,271.1 511.3,271.4 511.5,271.2 511.8,272.2 512,272 512.3,270.3 512.5,271.7 512.8,271.6 513,271.5 513.2,271.9 513.5,271.8 513.7,270.9 514,272 514.2,270.9 514.5,272.1 514.7,271 515,271.4 515.2,271.3 515.5,271.4 515.7,271.3 516,271.1 516.2,271.6 516.5,271.7 516.7,271.3 517,271.5 517.2,270.9 517.5,270.3 517.7,271 518,271.6 518.2,271.3 518.5,270.6 518.7,269.8 519,269.7 519.2,269.8 519.4,269.3 519.7,268.4 519.9,270.4 520.2,268.2 520.4,269.1 520.7,269.5 520.9,268.7 521.2,268.7 521.4,269 521.7,268.4 521.9,270.1 522.2,269.5 522.4,270.7 522.7,271.1 522.9,270.1 523.2,269.6 523.4,271.3 523.7,270.8 523.9,271.2 524.2,270.9 524.4,271.2 524.7,270.5 524.9,270 525.1,270.3 525.4,270.5 525.6,270.7 525.9,269.5 526.1,269.6 526.4,268.5 526.6,268.8 526.9,267.8 527.1,269.3 527.4,268.2 527.6,268.6 527.9,269.4 528.1,269.9 528.4,269.4 528.6,270.8 528.9,269 529.1,269.8 529.4,268.5 529.6,268.9 529.9,268.8 530.1,268.9 530.4,269.2 530.6,268.6 530.8,268.7 531.1,269.6 531.3,269.9 531.6,270.1 531.8,270.1 532.1,269.7 532.3,270.4 532.6,269.6 532.8,269.8 533.1,270.4 533.3,270.6 533.6,270.6 533.8,269.9 534.1,270.3 534.3,269.8 534.6,269.8 534.8,270.1 535.1,270.6 535.3,270.8 535.6,270.5 535.8,270.3 536.1,271.4 536.3,270.2 536.6,270.3 536.8,270.3 537,269.8 537.3,270.9 537.5,270.4 537.8,270.3 538,270.7 538.3,270.2 538.5,269.2 538.8,269.8 539,270.8 539.3,270.4 539.5,270.7 539.8,269.4 540,269.6 540.3,268.6 540.5,269.5 540.8,270 541,269.9 541.3,270.3 541.5,268.8 541.8,268.7 542,268.7 542.3,268.4 542.5,269.4 542.7,269.4 543,269.2 543.2,269.4 543.5,268.9 543.7,269.2 544,268.8 544.2,269.8 544.5,269.1 544.7,270.3 545,269.7 545.2,270.5 545.5,269.5 545.7,269.5 546,269.8 546.2,270.3 546.5,270.9 546.7,269.8"/>
<polyline stroke="#e98f9c" points="336,410.4 336.2,410 336.5,409.4 336.7,410.3 337,408.4 337.2,405.5 337.5,401.2 337.7,399.6 338,390.6 338.2,383.7 338.5,381.1 338.7,376.1 339,374.9 339.2,362.9 339.5,361.1 339.7,359.7 340,355.5 340.2,357 340.5,357.1 340.7,347.3 341,352 341.2,348.2 341.5,352 341.7,348.5 341.9,350.9 342.2,350.7 342.4,350.3 342.7,341 342.9,341 343.2,342 343.4,347.2 343.7,342.9 343.9,341.4 344.2,340.4 344.4,343.6 344.7,338.3 344.9,334.8 345.2,336.1 345.4,336.7 345.7,337.4 345.9,339.2 346.2,337.2 346.4,332.2 346.7,337.4 346.9,335.1 347.2,333.2 347.4,334 347.7,331.5 347.9,337.2 348.1,333.7 348.4,334.8 348.6,334.2 348.9,333 349.1,331.7 349.4,329.4 349.6,332 349.9,328.6 350.1,328 350.4,325.3 350.6,327.1 350.9,324.2 351.1,324.5 351.4,329.9 351.6,321.6 351.9,324.3 352.1,325.3 352.4,323.5 352.6,322.1 352.9,323 353.1,321.1 353.4,327.8 353.6,323 353.8,319.9 354.1,316 354.3,315.2 354.6,319.9 354.8,318.6 355.1,321.7 355.3,318.5 355.6,317.3 355.8,322.5 356.1,316.8 356.3,317.2 356.6,321.5 356.8,316.9 357.1,321.9 357.3,322.5 357.6,316.2 357.8,315.4 358.1,319.9 358.3,316.5 358.6,315.5 358.8,315.2 359.1,315.4 359.3,311.9 359.6,313.9 359.8,314.7 360,314.2 360.3,308.1 360.5,311.4 360.8,313.2 361,314.7 361.3,312.9 361.5,310.9 361.8,313.2 362,314.1 362.3,310.1 362.5,309.7 362.8,312.3 363,313.7 363.3,314 363.5,312.5 363.8,309.7 364,311.8 364.3,312.2 364.5,309 364.8,309 365,308.3 365.3,306.9 365.5,309.5 365.7,311.3 366,306.8 366.2,309.3 366.5,309.4 366.7,311.7 367,309.5 367.2,310.8 367.5,309.3 367.7,304.6 368,308.9 368.2,307.7 368.5,303.4 368.7,304 369,302.9 369.2,309.9 369.5,303 369.7,309.2 370,305.6 370.2,306.1 370.5,305 370.7,307.5 371,306.8 371.2,304.7 371.4,307.6 371.7,309.5 371.9,303.9 372.2,303.9 372.4,303.5 372.7,303.3 372.9,301.4 373.2,307 373.4,298.8 373.7,299.6 373.9,304.2 374.2,298 374.4,299.9 374.7,296.7 374.9,298.3 375.2,300.4 375.4,302.1 375.7,298.6 375.9,298.7 376.2,299.6 376.4,297 376.7,299.1 376.9,297.4 377.2,299.1 377.4,302.2 377.6,298.8 377.9,302.7 378.1,296.4 378.4,300.9 378.6,297.2 378.9,296.8 379.1,297.7 379.4,300.1 379.6,297.1 379.9,294.6 380.1,296.5 380.4,300.7 380.6,298 380.9,297.8 381.1,295.3 381.4,297 381.6,297.3 381.9,296 382.1,295.8 382.4,295.1 382.6,296.5 382.9,296.7 383.1,294.4 383.3,297.3 383.6,297.7 383.8,293.1 384.1,295.9 384.3,296.8 384.6,291.5 384.8,293.5 385.1,294.3 385.3,295.8 385.6,294.9 385.8,292.4 386.1,294.8 386.3,292.1 386.6,287.7 386.8,294.1 387.1,291.6 387.3,292.7 387.6,293 387.8,291.3 388.1,289.4 388.3,290.2 388.6,290.1 388.8,289.1 389.1,290.5 389.3,291 389.5,286.5 389.8,289 390,290.2 390.3,287.3 390.5,289.8 390.8,289.2 391,288.4 391.3,292.9 391.5,289.4 391.8,290.2 392,289.3 392.3,287.8 392.5,289.9 392.8,292.1 393,287.4 393.3,289.5 393.5,287.9 393.8,289.1 394,288.2 394.3,291 394.5,287.7 394.8,286.4 395,286 395.2,287.9 395.5,288.2 395.7,285.8 396,289.1 396.2,286.8 396.5,290.4 396.7,287.5 397,286.4 397.2,286.2 397.5,287.6 397.7,289.1 398,288 398.2,287.1 398.5,287.2 398.7,286.3 399,287.3 399.2,285.4 399.5,289.1 399.7,284.1 400,286.6 400.2,283.7 400.5,284.5 400.7,285.9 400.9,288.5 401.2,287.3 401.4,285.8 401.7,286.9 401.9,286.6 402.2,285.3 402.4,285.2 402.7,286.4 402.9,282.2 403.2,283.9 403.4,282.9 403.7,283.2 403.9,282.7 404.2,284.1 404.4,284 404.7,284.1 404.9,284.5 405.2,284.7 405.4,284.3 405.7,283.5 405.9,286.7 406.2,282.2 406.4,285.8 406.7,286.4 406.9,281.9 407.1,283.8 407.4,285.3 407.6,282.9 407.9,284.5 408.1,281.5 408.4,281.9 408.6,282.5 408.9,282.7 409.1,279.5 409.4,281.6 409.6,279.5 409.9,281.2 410.1,280.6 410.4,281.9 410.6,282.5 410.9,281.2 411.1,281.5 411.4,281.8 411.6,280.4 411.9,282.5 412.1,283.4 412.4,281.4 412.6,282.2 412.8,282.3 413.1,283.3 413.3,280.6 413.6,281.7 413.8,280.2 414.1,280.7 414.3,280.1 414.6,280.1 414.8,279.8 415.1,278.5 415.3,279.4 415.6,277.9 415.8,280.3 416.1,274.8 416.3,279.8 416.6,275.8 416.8,276.7 417.1,277 417.3,277.9 417.6,278.1 417.8,276.6 418.1,278.1 418.3,278.4 418.6,280 418.8,279.8 419,280.6 419.3,280.6 419.5,280.4 419.8,279.9 420,280.8 420.3,282.1 420.5,281.2 420.8,279.8 421,280.5 421.3,279.6 421.5,281.5 421.8,279.7 422,279.5 422.3,279.4 422.5,278.7 422.8,276.7 423,280.1 423.3,280.5 423.5,277.8 423.8,279.7 424,279.2 424.3,275.6 424.5,277.8 424.7,276.7 425,279.4 425.2,277.7 425.5,277.4 425.7,276 426,276.3 426.2,277.5 426.5,275.2 426.7,276 427,276.3 427.2,276.8 427.5,277.2 427.7,276.2 428,278.8 428.2,278.4 428.5,275.6 428.7,273.5 429,276.5 429.2,277.5 429.5,276.6 429.7,274.9 430,274.6 430.2,277.1 430.4,276.2 430.7,275.5 430.9,275.2 431.2,276.3 431.4,277 431.7,274.8 431.9,276.1 432.2,277.7 432.4,276.3 432.7,276.8 432.9,276.9 433.2,278.3 433.4,277.6 433.7,276.9 433.9,276.9 434.2,278.5 434.4,278.2 434.7,275.1 434.9,274 435.2,275.8 435.4,278.2 435.7,277.7 435.9,278.6 436.2,276.3 436.4,277.2 436.6,276 436.9,274.4 437.1,275.5 437.4,275.8 437.6,276.5 437.9,277.6 438.1,276.9 438.4,276.9 438.6,276.5 438.9,274.2 439.1,274.9 439.4,276.6 439.6,276.7 439.9,276.4 440.1,277.1 440.4,275.4 440.6,277.7 440.9,275.6 441.1,276.4 441.4,275.3 441.6,277.7 441.9,274.6 442.1,272.9 442.3,275.1 442.6,276.4 442.8,275.9 443.1,274.8 443.3,276.5 443.6,276.6 443.8,276.4 444.1,276 444.3,274.2 444.6,275.3 444.8,275.1 445.1,274.9 445.3,274.7 445.6,274.6 445.8,275 446.1,275.1 446.3,272.3 446.6,274.5 446.8,273.9 447.1,273.9 447.3,274.5 447.6,274.9 447.8,273.2 448.1,273.8 448.3,272.2 448.5,272.3 448.8,275.6 449,274.5 449.3,274.5 449.5,270.8 449.8,273.4 450,272.8 450.3,273.3 450.5,271.4 450.8,271.3 451,269.4 451.3,271.5 451.5,270.1 451.8,272.2 452,268.6 452.3,270.6 452.5,271.2 452.8,272 453,271.9 453.3,271.8 453.5,272.5 453.8,272.8 454,273.4 454.2,274.5 454.5,273.2 454.7,277.3 455,274.6 455.2,273.6 455.5,274.3 455.7,274 456,271.8 456.2,275.1 456.5,274.4 456.7,273.4 457,275 457.2,274.8 457.5,274.8 457.7,276.1 458,273.9 458.2,275.5 458.5,274 458.7,272.7 459,273.2 459.2,275.2 459.5,273.2 459.7,273.8 459.9,274.5 460.2,272.6 460.4,270.4 460.7,272.4 460.9,271.4 461.2,272.3 461.4,272.1 461.7,270.2 461.9,271 462.2,272 462.4,271.2 462.7,270.9 462.9,271.5 463.2,271.2 463.4,269 463.7,269.7 463.9,271.1 464.2,269.6 464.4,271.4 464.7,269.7 464.9,269.9 465.2,271.5 465.4,269.1 465.7,269.1 465.9,269.2 466.1,269.3 466.4,270.7 466.6,270.1 466.9,269.8 467.1,269.9 467.4,270.2 467.6,270.3 467.9,269.6 468.1,270.4 468.4,272.1 468.6,269.7 468.9,270.1 469.1,271.7 469.4,270.9 469.6,271.3 469.9,271.8 470.1,269.1 470.4,269.9 470.6,272 470.9,270.1 471.1,270.8 471.4,270.3 471.6,271.1 471.8,270.6 472.1,270.4 472.3,271.2 472.6,271.5 472.8,269.6 473.1,270 473.3,269.9 473.6,269.3 473.8,267.9 474.1,268.6 474.3,266.9 474.6,269 474.8,267.3 475.1,267 475.3,269.6 475.6,268.3 475.8,269.4 476.1,267.9 476.3,267.4 476.6,268 476.8,268.1 477.1,269.8 477.3,268.2 477.6,268.3 477.8,268.3 478,268.3 478.3,267.9 478.5,269.3 478.8,267.8 479,269.2 479.3,267.9 479.5,267 479.8,269.2 480,268.8 480.3,268.8 480.5,269.2 480.8,269.5 481,270.1 481.3,269.3 481.5,269.3 481.8,270.1 482,270.8 482.3,271 482.5,271.5 482.8,271 483,271.9 483.3,272.2 483.5,271 483.7,270.6 484,271.2 484.2,271.5 484.5,270.4 484.7,271.2 485,270.4 485.2,270.8 485.5,271.7 485.7,271.4 486,271.2 486.2,271.8 486.5,271.2 486.7,270.7 487,272.8 487.2,272.1 487.5,272.3 487.7,271 488,271 488.2,271.7 488.5,271.3 488.7,271.3 489,271.4 489.2,270.7 489.5,271.8 489.7,271.1 489.9,271.1 490.2,270.3 490.4,270 490.7,270.6 490.9,270.3 491.2,270.2 491.4,269.8 491.7,269.8 491.9,269.7 492.2,268.7 492.4,269.1 492.7,268.2 492.9,267.8 493.2,269 493.4,268.8 493.7,268.8 493.9,270.1 494.2,270 494.4,268.6 494.7,270.7 494.9,268 495.2,268.9 495.4,269.4 495.6,269.1 495.9,269 496.1,270 496.4,270.4 496.6,269.8 496.9,269.4 497.1,269.7 497.4,270 497.6,270.2 497.9,270.2 498.1,269.7 498.4,270.4 498.6,269.4 498.9,269.7 499.1,269.2 499.4,269.7 499.6,268.9 499.9,268.4 500.1,268.8 500.4,269 500.6,267.9 500.9,268.9 501.1,269.6 501.3,267.4 501.6,269.2 501.8,269.1 502.1,268 502.3,268.3 502.6,268.6 502.8,269.1 503.1,268.9 503.3,268.6 503.6,269.4 503.8,269.1 504.1,269.3 504.3,269.5 504.6,269.1 504.8,268.4 505.1,269.2 505.3,268.9 505.6,269 505.8,269 506.1,268.8 506.3,270 506.6,269.5 506.8,268.3 507.1,269.3 507.3,268.7 507.5,268.9 507.8,268.6 508,268.5 508.3,269.3 508.5,269.5 508.8,269 509,269.1 509.3,269.6 509.5,269.1 509.8,269.4 510,269.2 510.3,270.1 510.5,269.6 510.8,269.1 511,269.1 511.3,269 511.5,270.4 511.8,270.2 512,270.5 512.3,269.7 512.5,270.1 512.8,270.7 513,270.5 513.2,270.2 513.5,270.8 513.7,271 514,270.3 514.2,269.7 514.5,270.3 514.7,270.5 515,269.2 515.2,270.2 515.5,270.8 515.7,269.4 516,268.9 516.2,270.4 516.5,268.3 516.7,269.1 517,270.2 517.2,270.1 517.5,270.2 517.7,269.1 518,270.7 518.2,270.7 518.5,271.6 518.7,270.1 519,269.8 519.2,270.4 519.4,270 519.7,271 519.9,270.1 520.2,269.8 520.4,269.7 520.7,269.9 520.9,269.5 521.2,269.6 521.4,267.5 521.7,269.1 521.9,268.2 522.2,269.2 522.4,269.8 522.7,268.8 522.9,268.6 523.2,269 523.4,269.5 523.7,269.1 523.9,269.3 524.2,269.1 524.4,267.7 524.7,269 524.9,268.3 525.1,268.6 525.4,267.9 525.6,267.4 525.9,266.9 526.1,268.2 526.4,268.1 526.6,268.8 526.9,268.8 527.1,269.2 527.4,268.7 527.6,269 527.9,268.8 528.1,268.9 528.4,269.3 528.6,269.2 528.9,269.8 529.1,270.1 529.4,270.8 529.6,269.9 529.9,270.5 530.1,270.2 530.4,270.5 530.6,270.4 530.8,270.3 531.1,269.8 531.3,270.5 531.6,270 531.8,269.6 532.1,270.6 532.3,270.3 532.6,270.2 532.8,269.3 533.1,269.6 533.3,268.1 533.6,269.6 533.8,268.2 534.1,268 534.3,267.6 534.6,268.3 534.8,268.7 535.1,268 535.3,268 535.6,268.2 535.8,267.8 536.1,267.5 536.3,268.3 536.6,267.9 536.8,267.9 537,269.8 537.3,269.2 537.5,268.3 537.8,267.4 538,268.6 538.3,267.9 538.5,268.4 538.8,268.4 539,268.4 539.3,267.9 539.5,268.1 539.8,268.3 540,268.4 540.3,268.5 540.5,269.1 540.8,267.5 541,267.9 541.3,268.3 541.5,267.4 541.8,268.6 542,268.3 542.3,268.2 542.5,269.3 542.7,268.8 543,268.6 543.2,268 543.5,268.9 543.7,269.2 544,269.7 544.2,268.3 544.5,268.6 544.7,268.8 545,268.1 545.2,269.8 545.5,268.7 545.7,269.4 546,269.5 546.2,267.7 546.5,269.4 546.7,268.6"/>
</g>
<g stroke="#383838" stroke-width="0.9" fill="none">
<path d="M336,240V410.4H546.7"/>
<path d="M336,410.40h-3.3M336,393.36h-1.6M336,376.32h-3.3M336,359.28h-1.6M336,342.24h-3.3M336,325.20h-1.6M336,308.16h-3.3M336,291.12h-1.6M336,274.08h-3.3M336,257.04h-1.6M336,240.00h-3.3M336.00,410.4v3.2M360.79,410.4v1.6M385.58,410.4v3.2M410.37,410.4v1.6M435.16,410.4v3.2M459.95,410.4v1.6M484.74,410.4v3.2M509.53,410.4v1.6M534.32,410.4v3.2"/>
</g>
<text transform="translate(330.60,412.30) scale(1,0.88)" font-size="7.3" text-anchor="end">0.0</text>
<text transform="translate(330.60,378.22) scale(1,0.88)" font-size="7.3" text-anchor="end">0.2</text>
<text transform="translate(330.60,344.14) scale(1,0.88)" font-size="7.3" text-anchor="end">0.4</text>
<text transform="translate(330.60,310.06) scale(1,0.88)" font-size="7.3" text-anchor="end">0.6</text>
<text transform="translate(330.60,275.98) scale(1,0.88)" font-size="7.3" text-anchor="end">0.8</text>
<text transform="translate(330.60,241.90) scale(1,0.88)" font-size="7.3" text-anchor="end">1.0</text>
<text transform="translate(336.00,421.60) scale(1,0.88)" font-size="7.2" text-anchor="middle">0</text>
<text transform="translate(385.58,421.60) scale(1,0.88)" font-size="7.2" text-anchor="middle">200</text>
<text transform="translate(435.16,421.60) scale(1,0.88)" font-size="7.2" text-anchor="middle">400</text>
<text transform="translate(484.74,421.60) scale(1,0.88)" font-size="7.2" text-anchor="middle">600</text>
<text transform="translate(534.32,421.60) scale(1,0.88)" font-size="7.2" text-anchor="middle">800</text>
<text x="441.36" y="435.75" font-size="8.8" text-anchor="middle">epoch</text>
<text transform="translate(441.96,448.60) scale(1,1.08)" font-size="11" text-anchor="middle">(d)</text>
<text transform="translate(318.00,325.20) rotate(-90)" x="0" y="0" font-size="8.8" text-anchor="middle">Recall</text>
<rect x="430.5" y="333.6" width="115.90" height="71.80" fill="#fff" stroke="#b4b4b4" stroke-width="0.6"/>
<line x1="431.0" y1="338.50" x2="447.8" y2="338.50" stroke="#70c2c8" stroke-width="1.15"/>
<text class="lg" transform="translate(449.9,340.88) scale(1,1.09)" font-size="7.2" style="stroke-width:0.2px">Yolov8s 0.778</text>
<line x1="431.0" y1="347.48" x2="447.8" y2="347.48" stroke="#b09ace" stroke-width="1.15"/>
<text class="lg" transform="translate(449.9,349.86) scale(1,1.09)" font-size="7.2" style="stroke-width:0.2px">Yolov8s+CA 0.799</text>
<line x1="431.0" y1="356.46" x2="447.8" y2="356.46" stroke="#eec4d0" stroke-width="1.15"/>
<text class="lg" transform="translate(449.9,358.84) scale(1,1.09)" font-size="7.2" style="stroke-width:0.2px">Yolov8s+Head 0.792</text>
<line x1="431.0" y1="365.44" x2="447.8" y2="365.44" stroke="#92b48e" stroke-width="1.15"/>
<text class="lg" transform="translate(449.9,367.82) scale(1,1.09)" font-size="7.2" style="stroke-width:0.2px">Yolov8s+BoT3 0.818</text>
<line x1="431.0" y1="374.42" x2="447.8" y2="374.42" stroke="#a2d496" stroke-width="1.15"/>
<text class="lg" transform="translate(449.9,376.80) scale(1,1.09)" font-size="7.2" style="stroke-width:0.2px">Yolov8s+CA+Head 0.817</text>
<line x1="431.0" y1="383.40" x2="447.8" y2="383.40" stroke="#f7bc98" stroke-width="1.15"/>
<text class="lg" transform="translate(449.9,385.78) scale(1,1.09)" font-size="7.2" style="stroke-width:0.2px">Yolov8s+BoT3+Head 0.809</text>
<line x1="431.0" y1="392.38" x2="447.8" y2="392.38" stroke="#82c4e6" stroke-width="1.15"/>
<text class="lg" transform="translate(449.9,394.76) scale(1,1.09)" font-size="7.2" style="stroke-width:0.2px">Yolov8s+CA+BoT3 0.822</text>
<line x1="431.0" y1="401.36" x2="447.8" y2="401.36" stroke="#e98f9c" stroke-width="1.15"/>
<text class="lg" transform="translate(449.9,403.74) scale(1,1.09)" font-size="7.2" style="stroke-width:0.2px">Yolov8s+CA+BoT3+Head 0.831</text>
</svg></body></html>
